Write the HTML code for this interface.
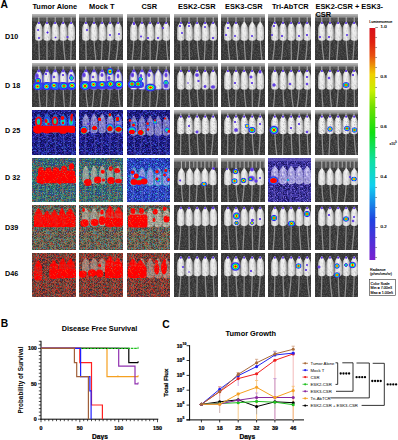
<!DOCTYPE html><html><head><meta charset="utf-8"><style>html,body{margin:0;padding:0;background:#fff;width:398px;height:440px;overflow:hidden}</style></head><body><svg width="398" height="440" viewBox="0 0 398 440" style="display:block"><defs><pattern id="nBlue" x="0" y="0" width="30" height="30" patternUnits="userSpaceOnUse"><path fill="#1e1e88" d="M0 0h1v1h-1zM3 0h1v1h-1zM11 0h1v1h-1zM27 0h1v1h-1zM28 0h1v1h-1zM4 1h1v1h-1zM5 1h1v1h-1zM10 1h1v1h-1zM12 1h1v1h-1zM15 1h1v1h-1zM17 1h1v1h-1zM23 1h1v1h-1zM25 1h1v1h-1zM29 1h1v1h-1zM1 2h1v1h-1zM5 2h1v1h-1zM11 2h1v1h-1zM17 2h1v1h-1zM19 2h1v1h-1zM22 2h1v1h-1zM25 2h1v1h-1zM1 3h1v1h-1zM3 3h1v1h-1zM4 3h1v1h-1zM10 3h1v1h-1zM11 3h1v1h-1zM13 3h1v1h-1zM20 3h1v1h-1zM28 3h1v1h-1zM4 4h1v1h-1zM7 4h1v1h-1zM15 4h1v1h-1zM19 4h1v1h-1zM20 4h1v1h-1zM23 4h1v1h-1zM26 4h1v1h-1zM10 5h1v1h-1zM12 5h1v1h-1zM22 5h1v1h-1zM26 5h1v1h-1zM1 6h1v1h-1zM9 6h1v1h-1zM12 6h1v1h-1zM18 6h1v1h-1zM24 6h1v1h-1zM26 6h1v1h-1zM2 7h1v1h-1zM4 7h1v1h-1zM7 7h1v1h-1zM11 7h1v1h-1zM13 7h1v1h-1zM20 7h1v1h-1zM22 7h1v1h-1zM23 7h1v1h-1zM25 7h1v1h-1zM28 7h1v1h-1zM1 8h1v1h-1zM8 8h1v1h-1zM12 8h1v1h-1zM19 8h1v1h-1zM26 8h1v1h-1zM29 8h1v1h-1zM2 9h1v1h-1zM3 9h1v1h-1zM8 9h1v1h-1zM15 9h1v1h-1zM18 9h1v1h-1zM23 9h1v1h-1zM6 10h1v1h-1zM9 10h1v1h-1zM11 10h1v1h-1zM14 10h1v1h-1zM20 10h1v1h-1zM4 11h1v1h-1zM10 11h1v1h-1zM11 11h1v1h-1zM26 11h1v1h-1zM3 12h1v1h-1zM6 12h1v1h-1zM7 12h1v1h-1zM9 12h1v1h-1zM12 12h1v1h-1zM13 12h1v1h-1zM23 12h1v1h-1zM24 12h1v1h-1zM0 13h1v1h-1zM3 13h1v1h-1zM4 13h1v1h-1zM5 13h1v1h-1zM19 13h1v1h-1zM20 13h1v1h-1zM28 13h1v1h-1zM1 14h1v1h-1zM4 14h1v1h-1zM2 15h1v1h-1zM4 15h1v1h-1zM5 15h1v1h-1zM7 15h1v1h-1zM13 15h1v1h-1zM15 15h1v1h-1zM25 15h1v1h-1zM0 16h1v1h-1zM5 16h1v1h-1zM11 16h1v1h-1zM14 16h1v1h-1zM15 16h1v1h-1zM17 16h1v1h-1zM23 16h1v1h-1zM27 16h1v1h-1zM6 17h1v1h-1zM7 17h1v1h-1zM10 17h1v1h-1zM12 17h1v1h-1zM27 17h1v1h-1zM3 18h1v1h-1zM6 18h1v1h-1zM7 18h1v1h-1zM10 18h1v1h-1zM12 18h1v1h-1zM18 18h1v1h-1zM26 18h1v1h-1zM27 18h1v1h-1zM3 19h1v1h-1zM9 19h1v1h-1zM14 19h1v1h-1zM16 19h1v1h-1zM17 19h1v1h-1zM19 19h1v1h-1zM0 20h1v1h-1zM1 20h1v1h-1zM8 20h1v1h-1zM14 20h1v1h-1zM15 20h1v1h-1zM24 20h1v1h-1zM25 20h1v1h-1zM27 20h1v1h-1zM6 21h1v1h-1zM7 21h1v1h-1zM9 21h1v1h-1zM12 21h1v1h-1zM16 21h1v1h-1zM17 21h1v1h-1zM23 21h1v1h-1zM25 21h1v1h-1zM1 22h1v1h-1zM4 22h1v1h-1zM6 22h1v1h-1zM8 22h1v1h-1zM15 22h1v1h-1zM17 22h1v1h-1zM18 22h1v1h-1zM19 22h1v1h-1zM22 22h1v1h-1zM23 22h1v1h-1zM24 22h1v1h-1zM25 22h1v1h-1zM26 22h1v1h-1zM27 22h1v1h-1zM7 23h1v1h-1zM27 23h1v1h-1zM2 24h1v1h-1zM3 24h1v1h-1zM11 24h1v1h-1zM23 24h1v1h-1zM24 24h1v1h-1zM28 24h1v1h-1zM1 25h1v1h-1zM2 25h1v1h-1zM5 25h1v1h-1zM11 25h1v1h-1zM23 25h1v1h-1zM26 25h1v1h-1zM29 25h1v1h-1zM0 26h1v1h-1zM3 26h1v1h-1zM6 26h1v1h-1zM11 26h1v1h-1zM14 26h1v1h-1zM19 26h1v1h-1zM20 26h1v1h-1zM26 26h1v1h-1zM27 26h1v1h-1zM2 27h1v1h-1zM11 27h1v1h-1zM14 27h1v1h-1zM15 27h1v1h-1zM19 27h1v1h-1zM21 27h1v1h-1zM0 28h1v1h-1zM1 28h1v1h-1zM3 28h1v1h-1zM4 28h1v1h-1zM6 28h1v1h-1zM9 28h1v1h-1zM10 28h1v1h-1zM15 28h1v1h-1zM19 28h1v1h-1zM25 28h1v1h-1zM26 28h1v1h-1zM28 28h1v1h-1zM29 28h1v1h-1zM0 29h1v1h-1zM2 29h1v1h-1zM5 29h1v1h-1zM9 29h1v1h-1zM17 29h1v1h-1zM24 29h1v1h-1zM27 29h1v1h-1z"/><path fill="#2626a4" d="M1 0h1v1h-1zM4 0h1v1h-1zM5 0h1v1h-1zM7 0h1v1h-1zM8 0h1v1h-1zM18 0h1v1h-1zM19 0h1v1h-1zM22 0h1v1h-1zM0 1h1v1h-1zM1 1h1v1h-1zM2 1h1v1h-1zM3 1h1v1h-1zM27 1h1v1h-1zM10 2h1v1h-1zM15 2h1v1h-1zM27 2h1v1h-1zM7 3h1v1h-1zM9 3h1v1h-1zM14 3h1v1h-1zM27 3h1v1h-1zM6 4h1v1h-1zM12 4h1v1h-1zM14 4h1v1h-1zM24 4h1v1h-1zM29 4h1v1h-1zM1 5h1v1h-1zM9 5h1v1h-1zM15 5h1v1h-1zM29 5h1v1h-1zM0 6h1v1h-1zM2 6h1v1h-1zM3 6h1v1h-1zM5 6h1v1h-1zM11 6h1v1h-1zM17 6h1v1h-1zM21 6h1v1h-1zM22 6h1v1h-1zM1 7h1v1h-1zM5 7h1v1h-1zM12 7h1v1h-1zM15 7h1v1h-1zM26 7h1v1h-1zM27 7h1v1h-1zM7 8h1v1h-1zM18 8h1v1h-1zM20 8h1v1h-1zM21 8h1v1h-1zM5 9h1v1h-1zM6 9h1v1h-1zM16 9h1v1h-1zM19 9h1v1h-1zM24 9h1v1h-1zM28 9h1v1h-1zM4 10h1v1h-1zM12 10h1v1h-1zM24 10h1v1h-1zM29 10h1v1h-1zM3 11h1v1h-1zM6 11h1v1h-1zM7 11h1v1h-1zM9 11h1v1h-1zM17 11h1v1h-1zM18 11h1v1h-1zM20 11h1v1h-1zM21 11h1v1h-1zM22 11h1v1h-1zM25 11h1v1h-1zM28 11h1v1h-1zM29 11h1v1h-1zM2 12h1v1h-1zM15 12h1v1h-1zM25 12h1v1h-1zM29 12h1v1h-1zM2 13h1v1h-1zM6 13h1v1h-1zM9 13h1v1h-1zM10 13h1v1h-1zM11 13h1v1h-1zM13 13h1v1h-1zM12 14h1v1h-1zM14 14h1v1h-1zM20 14h1v1h-1zM21 14h1v1h-1zM22 14h1v1h-1zM6 15h1v1h-1zM8 15h1v1h-1zM18 15h1v1h-1zM24 15h1v1h-1zM26 15h1v1h-1zM27 15h1v1h-1zM18 16h1v1h-1zM19 16h1v1h-1zM22 16h1v1h-1zM24 16h1v1h-1zM25 16h1v1h-1zM26 16h1v1h-1zM29 16h1v1h-1zM4 17h1v1h-1zM14 17h1v1h-1zM15 17h1v1h-1zM17 17h1v1h-1zM19 17h1v1h-1zM22 17h1v1h-1zM29 17h1v1h-1zM0 18h1v1h-1zM4 18h1v1h-1zM5 18h1v1h-1zM8 18h1v1h-1zM9 18h1v1h-1zM0 19h1v1h-1zM6 19h1v1h-1zM8 19h1v1h-1zM12 19h1v1h-1zM15 19h1v1h-1zM18 19h1v1h-1zM21 19h1v1h-1zM29 19h1v1h-1zM3 20h1v1h-1zM4 20h1v1h-1zM5 20h1v1h-1zM16 20h1v1h-1zM18 20h1v1h-1zM22 20h1v1h-1zM23 20h1v1h-1zM3 21h1v1h-1zM10 21h1v1h-1zM13 21h1v1h-1zM22 21h1v1h-1zM29 21h1v1h-1zM11 22h1v1h-1zM29 22h1v1h-1zM1 23h1v1h-1zM3 23h1v1h-1zM9 23h1v1h-1zM10 23h1v1h-1zM11 23h1v1h-1zM13 23h1v1h-1zM16 23h1v1h-1zM23 23h1v1h-1zM26 23h1v1h-1zM0 24h1v1h-1zM5 24h1v1h-1zM6 24h1v1h-1zM7 24h1v1h-1zM13 24h1v1h-1zM19 24h1v1h-1zM20 24h1v1h-1zM7 25h1v1h-1zM12 25h1v1h-1zM20 25h1v1h-1zM27 25h1v1h-1zM4 26h1v1h-1zM12 26h1v1h-1zM13 26h1v1h-1zM16 26h1v1h-1zM23 26h1v1h-1zM29 26h1v1h-1zM0 27h1v1h-1zM3 27h1v1h-1zM17 27h1v1h-1zM26 27h1v1h-1zM27 27h1v1h-1zM13 28h1v1h-1zM18 28h1v1h-1zM24 28h1v1h-1zM27 28h1v1h-1zM1 29h1v1h-1zM7 29h1v1h-1zM19 29h1v1h-1zM28 29h1v1h-1zM29 29h1v1h-1z"/><path fill="#4a2a98" d="M2 0h1v1h-1zM18 1h1v1h-1zM12 3h1v1h-1zM23 3h1v1h-1zM25 3h1v1h-1zM1 4h1v1h-1zM16 4h1v1h-1zM7 5h1v1h-1zM21 5h1v1h-1zM23 6h1v1h-1zM9 7h1v1h-1zM19 7h1v1h-1zM23 8h1v1h-1zM12 9h1v1h-1zM22 9h1v1h-1zM28 10h1v1h-1zM0 11h1v1h-1zM4 12h1v1h-1zM5 12h1v1h-1zM16 12h1v1h-1zM21 13h1v1h-1zM28 14h1v1h-1zM1 15h1v1h-1zM21 16h1v1h-1zM25 17h1v1h-1zM2 18h1v1h-1zM23 18h1v1h-1zM1 19h1v1h-1zM23 19h1v1h-1zM10 20h1v1h-1zM15 21h1v1h-1zM12 22h1v1h-1zM13 22h1v1h-1zM20 22h1v1h-1zM10 24h1v1h-1zM18 24h1v1h-1zM2 26h1v1h-1zM5 26h1v1h-1zM9 26h1v1h-1zM16 27h1v1h-1zM22 27h1v1h-1zM6 29h1v1h-1zM26 29h1v1h-1z"/><path fill="#161668" d="M6 0h1v1h-1zM10 0h1v1h-1zM12 0h1v1h-1zM15 0h1v1h-1zM20 0h1v1h-1zM21 0h1v1h-1zM23 0h1v1h-1zM24 0h1v1h-1zM25 0h1v1h-1zM26 0h1v1h-1zM11 1h1v1h-1zM13 1h1v1h-1zM20 1h1v1h-1zM21 1h1v1h-1zM26 1h1v1h-1zM0 2h1v1h-1zM4 2h1v1h-1zM6 2h1v1h-1zM7 2h1v1h-1zM9 2h1v1h-1zM12 2h1v1h-1zM14 2h1v1h-1zM16 2h1v1h-1zM18 2h1v1h-1zM24 2h1v1h-1zM28 2h1v1h-1zM0 3h1v1h-1zM5 3h1v1h-1zM6 3h1v1h-1zM8 3h1v1h-1zM16 3h1v1h-1zM17 3h1v1h-1zM21 3h1v1h-1zM24 3h1v1h-1zM29 3h1v1h-1zM0 4h1v1h-1zM2 4h1v1h-1zM8 4h1v1h-1zM10 4h1v1h-1zM11 4h1v1h-1zM17 4h1v1h-1zM18 4h1v1h-1zM21 4h1v1h-1zM22 4h1v1h-1zM25 4h1v1h-1zM2 5h1v1h-1zM3 5h1v1h-1zM4 5h1v1h-1zM8 5h1v1h-1zM14 5h1v1h-1zM4 6h1v1h-1zM14 6h1v1h-1zM16 6h1v1h-1zM19 6h1v1h-1zM25 6h1v1h-1zM28 6h1v1h-1zM29 6h1v1h-1zM6 7h1v1h-1zM14 7h1v1h-1zM21 7h1v1h-1zM24 7h1v1h-1zM2 8h1v1h-1zM3 8h1v1h-1zM5 8h1v1h-1zM10 8h1v1h-1zM11 8h1v1h-1zM13 8h1v1h-1zM15 8h1v1h-1zM16 8h1v1h-1zM17 8h1v1h-1zM25 8h1v1h-1zM27 8h1v1h-1zM28 8h1v1h-1zM1 9h1v1h-1zM11 9h1v1h-1zM14 9h1v1h-1zM25 9h1v1h-1zM0 10h1v1h-1zM10 10h1v1h-1zM15 10h1v1h-1zM17 10h1v1h-1zM19 10h1v1h-1zM22 10h1v1h-1zM23 10h1v1h-1zM1 11h1v1h-1zM2 11h1v1h-1zM14 11h1v1h-1zM19 11h1v1h-1zM23 11h1v1h-1zM1 12h1v1h-1zM8 12h1v1h-1zM14 12h1v1h-1zM17 12h1v1h-1zM19 12h1v1h-1zM20 12h1v1h-1zM21 12h1v1h-1zM26 12h1v1h-1zM28 12h1v1h-1zM1 13h1v1h-1zM7 13h1v1h-1zM8 13h1v1h-1zM15 13h1v1h-1zM22 13h1v1h-1zM25 13h1v1h-1zM26 13h1v1h-1zM29 13h1v1h-1zM3 14h1v1h-1zM6 14h1v1h-1zM7 14h1v1h-1zM11 14h1v1h-1zM16 14h1v1h-1zM17 14h1v1h-1zM18 14h1v1h-1zM19 14h1v1h-1zM23 14h1v1h-1zM24 14h1v1h-1zM25 14h1v1h-1zM29 14h1v1h-1zM0 15h1v1h-1zM9 15h1v1h-1zM12 15h1v1h-1zM16 15h1v1h-1zM17 15h1v1h-1zM19 15h1v1h-1zM13 16h1v1h-1zM16 16h1v1h-1zM20 16h1v1h-1zM3 17h1v1h-1zM8 17h1v1h-1zM9 17h1v1h-1zM11 17h1v1h-1zM21 17h1v1h-1zM24 17h1v1h-1zM26 17h1v1h-1zM28 17h1v1h-1zM1 18h1v1h-1zM13 18h1v1h-1zM14 18h1v1h-1zM15 18h1v1h-1zM16 18h1v1h-1zM21 18h1v1h-1zM24 18h1v1h-1zM29 18h1v1h-1zM7 19h1v1h-1zM10 19h1v1h-1zM11 19h1v1h-1zM13 19h1v1h-1zM25 19h1v1h-1zM26 19h1v1h-1zM7 20h1v1h-1zM12 20h1v1h-1zM13 20h1v1h-1zM17 20h1v1h-1zM19 20h1v1h-1zM20 20h1v1h-1zM26 20h1v1h-1zM0 21h1v1h-1zM1 21h1v1h-1zM5 21h1v1h-1zM18 21h1v1h-1zM20 21h1v1h-1zM21 21h1v1h-1zM27 21h1v1h-1zM28 21h1v1h-1zM0 22h1v1h-1zM5 22h1v1h-1zM9 22h1v1h-1zM28 22h1v1h-1zM4 23h1v1h-1zM8 23h1v1h-1zM15 23h1v1h-1zM18 23h1v1h-1zM19 23h1v1h-1zM22 23h1v1h-1zM24 23h1v1h-1zM28 23h1v1h-1zM25 24h1v1h-1zM29 24h1v1h-1zM0 25h1v1h-1zM4 25h1v1h-1zM6 25h1v1h-1zM9 25h1v1h-1zM10 25h1v1h-1zM14 25h1v1h-1zM15 25h1v1h-1zM16 25h1v1h-1zM17 25h1v1h-1zM18 25h1v1h-1zM21 25h1v1h-1zM22 25h1v1h-1zM24 25h1v1h-1zM7 26h1v1h-1zM8 26h1v1h-1zM17 26h1v1h-1zM18 26h1v1h-1zM24 26h1v1h-1zM25 26h1v1h-1zM4 27h1v1h-1zM6 27h1v1h-1zM10 27h1v1h-1zM13 27h1v1h-1zM23 27h1v1h-1zM25 27h1v1h-1zM28 27h1v1h-1zM2 28h1v1h-1zM8 28h1v1h-1zM14 28h1v1h-1zM17 28h1v1h-1zM20 28h1v1h-1zM23 28h1v1h-1zM3 29h1v1h-1zM11 29h1v1h-1zM12 29h1v1h-1zM13 29h1v1h-1zM16 29h1v1h-1zM20 29h1v1h-1zM21 29h1v1h-1zM22 29h1v1h-1zM23 29h1v1h-1zM25 29h1v1h-1z"/><path fill="#0e0e50" d="M9 0h1v1h-1zM14 0h1v1h-1zM9 1h1v1h-1zM14 1h1v1h-1zM28 1h1v1h-1zM3 2h1v1h-1zM8 2h1v1h-1zM13 2h1v1h-1zM2 3h1v1h-1zM22 3h1v1h-1zM3 4h1v1h-1zM9 4h1v1h-1zM0 5h1v1h-1zM6 5h1v1h-1zM11 5h1v1h-1zM16 5h1v1h-1zM18 5h1v1h-1zM19 5h1v1h-1zM20 5h1v1h-1zM23 5h1v1h-1zM27 5h1v1h-1zM8 6h1v1h-1zM10 6h1v1h-1zM15 6h1v1h-1zM20 6h1v1h-1zM27 6h1v1h-1zM18 7h1v1h-1zM6 8h1v1h-1zM9 8h1v1h-1zM24 8h1v1h-1zM0 9h1v1h-1zM4 9h1v1h-1zM7 9h1v1h-1zM9 9h1v1h-1zM13 9h1v1h-1zM21 9h1v1h-1zM26 9h1v1h-1zM29 9h1v1h-1zM5 10h1v1h-1zM13 10h1v1h-1zM21 10h1v1h-1zM25 10h1v1h-1zM27 10h1v1h-1zM5 11h1v1h-1zM0 12h1v1h-1zM18 12h1v1h-1zM22 12h1v1h-1zM27 12h1v1h-1zM16 13h1v1h-1zM27 13h1v1h-1zM2 14h1v1h-1zM5 14h1v1h-1zM8 14h1v1h-1zM13 14h1v1h-1zM15 14h1v1h-1zM3 15h1v1h-1zM10 15h1v1h-1zM14 15h1v1h-1zM22 15h1v1h-1zM2 16h1v1h-1zM3 16h1v1h-1zM8 16h1v1h-1zM9 16h1v1h-1zM10 16h1v1h-1zM12 16h1v1h-1zM0 17h1v1h-1zM1 17h1v1h-1zM5 17h1v1h-1zM23 17h1v1h-1zM11 18h1v1h-1zM17 18h1v1h-1zM20 18h1v1h-1zM2 19h1v1h-1zM20 19h1v1h-1zM24 19h1v1h-1zM28 19h1v1h-1zM2 20h1v1h-1zM6 20h1v1h-1zM21 20h1v1h-1zM28 20h1v1h-1zM4 21h1v1h-1zM14 21h1v1h-1zM24 21h1v1h-1zM26 21h1v1h-1zM2 22h1v1h-1zM3 22h1v1h-1zM7 22h1v1h-1zM10 22h1v1h-1zM0 23h1v1h-1zM5 23h1v1h-1zM17 23h1v1h-1zM20 23h1v1h-1zM25 23h1v1h-1zM29 23h1v1h-1zM1 24h1v1h-1zM8 24h1v1h-1zM9 24h1v1h-1zM21 24h1v1h-1zM26 24h1v1h-1zM8 25h1v1h-1zM19 25h1v1h-1zM25 25h1v1h-1zM21 26h1v1h-1zM22 26h1v1h-1zM5 27h1v1h-1zM12 27h1v1h-1zM20 27h1v1h-1zM5 28h1v1h-1zM7 28h1v1h-1zM16 28h1v1h-1zM4 29h1v1h-1zM8 29h1v1h-1zM14 29h1v1h-1zM15 29h1v1h-1z"/><path fill="#3438c0" d="M13 0h1v1h-1zM29 0h1v1h-1zM8 1h1v1h-1zM16 1h1v1h-1zM19 1h1v1h-1zM21 2h1v1h-1zM23 2h1v1h-1zM26 2h1v1h-1zM15 3h1v1h-1zM19 3h1v1h-1zM26 3h1v1h-1zM5 4h1v1h-1zM13 4h1v1h-1zM25 5h1v1h-1zM28 5h1v1h-1zM7 6h1v1h-1zM13 6h1v1h-1zM8 7h1v1h-1zM10 7h1v1h-1zM16 7h1v1h-1zM17 7h1v1h-1zM29 7h1v1h-1zM4 8h1v1h-1zM14 8h1v1h-1zM22 8h1v1h-1zM20 9h1v1h-1zM27 9h1v1h-1zM8 10h1v1h-1zM16 10h1v1h-1zM18 10h1v1h-1zM26 10h1v1h-1zM8 11h1v1h-1zM12 11h1v1h-1zM15 11h1v1h-1zM27 11h1v1h-1zM10 12h1v1h-1zM12 13h1v1h-1zM14 13h1v1h-1zM17 13h1v1h-1zM24 13h1v1h-1zM0 14h1v1h-1zM26 14h1v1h-1zM11 15h1v1h-1zM21 15h1v1h-1zM23 15h1v1h-1zM29 15h1v1h-1zM4 16h1v1h-1zM7 16h1v1h-1zM20 17h1v1h-1zM5 19h1v1h-1zM11 20h1v1h-1zM29 20h1v1h-1zM2 21h1v1h-1zM8 21h1v1h-1zM19 21h1v1h-1zM16 22h1v1h-1zM2 23h1v1h-1zM6 23h1v1h-1zM14 23h1v1h-1zM12 24h1v1h-1zM14 24h1v1h-1zM15 24h1v1h-1zM16 24h1v1h-1zM17 24h1v1h-1zM22 24h1v1h-1zM28 25h1v1h-1zM1 26h1v1h-1zM10 26h1v1h-1zM28 26h1v1h-1zM7 27h1v1h-1zM8 27h1v1h-1zM9 27h1v1h-1zM18 27h1v1h-1zM24 27h1v1h-1zM29 27h1v1h-1zM12 28h1v1h-1zM22 28h1v1h-1zM10 29h1v1h-1zM18 29h1v1h-1z"/><path fill="#4a50d0" d="M16 0h1v1h-1zM17 0h1v1h-1zM6 1h1v1h-1zM7 1h1v1h-1zM24 1h1v1h-1zM2 2h1v1h-1zM20 2h1v1h-1zM29 2h1v1h-1zM28 4h1v1h-1zM13 5h1v1h-1zM6 6h1v1h-1zM0 8h1v1h-1zM2 10h1v1h-1zM3 10h1v1h-1zM16 11h1v1h-1zM24 11h1v1h-1zM23 13h1v1h-1zM10 14h1v1h-1zM27 14h1v1h-1zM28 15h1v1h-1zM28 16h1v1h-1zM2 17h1v1h-1zM16 17h1v1h-1zM18 17h1v1h-1zM22 18h1v1h-1zM28 18h1v1h-1zM4 19h1v1h-1zM22 19h1v1h-1zM9 20h1v1h-1zM11 21h1v1h-1zM12 23h1v1h-1zM4 24h1v1h-1zM27 24h1v1h-1zM3 25h1v1h-1zM15 26h1v1h-1zM1 27h1v1h-1zM11 28h1v1h-1zM21 28h1v1h-1z"/><path fill="#2a60b0" d="M22 1h1v1h-1zM18 3h1v1h-1zM27 4h1v1h-1zM5 5h1v1h-1zM17 5h1v1h-1zM24 5h1v1h-1zM0 7h1v1h-1zM3 7h1v1h-1zM10 9h1v1h-1zM17 9h1v1h-1zM1 10h1v1h-1zM7 10h1v1h-1zM13 11h1v1h-1zM11 12h1v1h-1zM18 13h1v1h-1zM9 14h1v1h-1zM20 15h1v1h-1zM1 16h1v1h-1zM6 16h1v1h-1zM13 17h1v1h-1zM19 18h1v1h-1zM25 18h1v1h-1zM27 19h1v1h-1zM14 22h1v1h-1zM21 22h1v1h-1zM21 23h1v1h-1zM13 25h1v1h-1z"/></pattern><pattern id="nBlue2" x="0" y="0" width="30" height="30" patternUnits="userSpaceOnUse"><path fill="#182888" d="M0 0h1v1h-1zM7 0h1v1h-1zM10 0h1v1h-1zM23 0h1v1h-1zM29 0h1v1h-1zM2 1h1v1h-1zM11 1h1v1h-1zM12 2h1v1h-1zM14 2h1v1h-1zM15 2h1v1h-1zM2 3h1v1h-1zM9 3h1v1h-1zM10 3h1v1h-1zM11 3h1v1h-1zM26 3h1v1h-1zM28 3h1v1h-1zM0 4h1v1h-1zM9 4h1v1h-1zM18 4h1v1h-1zM23 4h1v1h-1zM6 6h1v1h-1zM10 6h1v1h-1zM12 6h1v1h-1zM18 6h1v1h-1zM22 6h1v1h-1zM25 6h1v1h-1zM1 7h1v1h-1zM16 7h1v1h-1zM25 7h1v1h-1zM3 8h1v1h-1zM8 8h1v1h-1zM17 8h1v1h-1zM27 8h1v1h-1zM27 9h1v1h-1zM7 10h1v1h-1zM11 10h1v1h-1zM22 10h1v1h-1zM23 10h1v1h-1zM9 11h1v1h-1zM29 11h1v1h-1zM4 12h1v1h-1zM12 12h1v1h-1zM18 12h1v1h-1zM19 12h1v1h-1zM27 12h1v1h-1zM10 13h1v1h-1zM12 13h1v1h-1zM13 13h1v1h-1zM17 13h1v1h-1zM2 14h1v1h-1zM5 14h1v1h-1zM6 14h1v1h-1zM23 14h1v1h-1zM0 15h1v1h-1zM2 15h1v1h-1zM19 15h1v1h-1zM27 15h1v1h-1zM16 16h1v1h-1zM3 17h1v1h-1zM4 17h1v1h-1zM5 17h1v1h-1zM14 17h1v1h-1zM25 17h1v1h-1zM28 17h1v1h-1zM8 18h1v1h-1zM10 18h1v1h-1zM13 18h1v1h-1zM18 18h1v1h-1zM24 18h1v1h-1zM2 19h1v1h-1zM9 19h1v1h-1zM13 19h1v1h-1zM27 19h1v1h-1zM0 20h1v1h-1zM6 21h1v1h-1zM14 21h1v1h-1zM21 21h1v1h-1zM1 22h1v1h-1zM5 22h1v1h-1zM10 22h1v1h-1zM18 22h1v1h-1zM28 22h1v1h-1zM0 23h1v1h-1zM2 23h1v1h-1zM17 23h1v1h-1zM24 23h1v1h-1zM27 23h1v1h-1zM16 24h1v1h-1zM18 24h1v1h-1zM4 25h1v1h-1zM6 25h1v1h-1zM23 25h1v1h-1zM9 26h1v1h-1zM1 27h1v1h-1zM3 27h1v1h-1zM11 27h1v1h-1zM14 27h1v1h-1zM23 27h1v1h-1zM24 27h1v1h-1zM7 28h1v1h-1zM14 28h1v1h-1zM18 28h1v1h-1zM27 28h1v1h-1zM28 28h1v1h-1zM15 29h1v1h-1zM16 29h1v1h-1zM26 29h1v1h-1z"/><path fill="#4060e8" d="M1 0h1v1h-1zM9 0h1v1h-1zM19 0h1v1h-1zM20 0h1v1h-1zM3 1h1v1h-1zM26 1h1v1h-1zM29 1h1v1h-1zM4 2h1v1h-1zM18 2h1v1h-1zM14 3h1v1h-1zM15 3h1v1h-1zM21 4h1v1h-1zM27 4h1v1h-1zM7 5h1v1h-1zM24 5h1v1h-1zM23 6h1v1h-1zM13 7h1v1h-1zM4 8h1v1h-1zM7 8h1v1h-1zM12 8h1v1h-1zM18 8h1v1h-1zM19 8h1v1h-1zM7 9h1v1h-1zM12 9h1v1h-1zM23 9h1v1h-1zM28 9h1v1h-1zM29 9h1v1h-1zM15 11h1v1h-1zM17 11h1v1h-1zM0 12h1v1h-1zM29 13h1v1h-1zM3 16h1v1h-1zM27 16h1v1h-1zM7 17h1v1h-1zM6 18h1v1h-1zM14 18h1v1h-1zM15 18h1v1h-1zM20 18h1v1h-1zM21 18h1v1h-1zM22 19h1v1h-1zM23 19h1v1h-1zM2 20h1v1h-1zM2 21h1v1h-1zM13 21h1v1h-1zM29 21h1v1h-1zM0 22h1v1h-1zM3 22h1v1h-1zM4 22h1v1h-1zM19 22h1v1h-1zM10 24h1v1h-1zM15 24h1v1h-1zM14 25h1v1h-1zM17 25h1v1h-1zM18 25h1v1h-1zM25 25h1v1h-1zM4 26h1v1h-1zM7 26h1v1h-1zM8 26h1v1h-1zM12 26h1v1h-1zM19 26h1v1h-1zM23 26h1v1h-1zM1 28h1v1h-1zM13 28h1v1h-1zM6 29h1v1h-1zM7 29h1v1h-1z"/><path fill="#2a40c0" d="M2 0h1v1h-1zM3 0h1v1h-1zM4 0h1v1h-1zM6 0h1v1h-1zM13 0h1v1h-1zM14 0h1v1h-1zM17 0h1v1h-1zM26 0h1v1h-1zM9 1h1v1h-1zM12 1h1v1h-1zM14 1h1v1h-1zM15 1h1v1h-1zM23 1h1v1h-1zM0 2h1v1h-1zM2 2h1v1h-1zM13 2h1v1h-1zM16 2h1v1h-1zM21 2h1v1h-1zM23 2h1v1h-1zM27 2h1v1h-1zM29 2h1v1h-1zM6 3h1v1h-1zM7 3h1v1h-1zM16 3h1v1h-1zM17 3h1v1h-1zM22 3h1v1h-1zM24 3h1v1h-1zM1 4h1v1h-1zM5 4h1v1h-1zM7 4h1v1h-1zM11 4h1v1h-1zM12 4h1v1h-1zM13 4h1v1h-1zM20 4h1v1h-1zM2 5h1v1h-1zM3 5h1v1h-1zM4 5h1v1h-1zM8 5h1v1h-1zM9 5h1v1h-1zM14 5h1v1h-1zM18 5h1v1h-1zM20 5h1v1h-1zM25 5h1v1h-1zM26 5h1v1h-1zM7 6h1v1h-1zM14 6h1v1h-1zM17 6h1v1h-1zM24 6h1v1h-1zM29 6h1v1h-1zM2 7h1v1h-1zM6 7h1v1h-1zM11 7h1v1h-1zM12 7h1v1h-1zM15 7h1v1h-1zM17 7h1v1h-1zM18 7h1v1h-1zM24 7h1v1h-1zM26 7h1v1h-1zM2 8h1v1h-1zM16 8h1v1h-1zM4 9h1v1h-1zM5 9h1v1h-1zM6 9h1v1h-1zM15 9h1v1h-1zM17 9h1v1h-1zM20 9h1v1h-1zM25 9h1v1h-1zM1 10h1v1h-1zM2 10h1v1h-1zM10 10h1v1h-1zM13 10h1v1h-1zM16 10h1v1h-1zM17 10h1v1h-1zM18 10h1v1h-1zM25 10h1v1h-1zM27 10h1v1h-1zM28 10h1v1h-1zM0 11h1v1h-1zM1 11h1v1h-1zM5 11h1v1h-1zM8 11h1v1h-1zM13 11h1v1h-1zM14 11h1v1h-1zM16 11h1v1h-1zM19 11h1v1h-1zM25 11h1v1h-1zM26 11h1v1h-1zM27 11h1v1h-1zM2 12h1v1h-1zM5 12h1v1h-1zM6 12h1v1h-1zM9 12h1v1h-1zM10 12h1v1h-1zM13 12h1v1h-1zM14 12h1v1h-1zM17 12h1v1h-1zM22 12h1v1h-1zM23 12h1v1h-1zM26 12h1v1h-1zM0 13h1v1h-1zM1 13h1v1h-1zM6 13h1v1h-1zM7 13h1v1h-1zM11 13h1v1h-1zM16 13h1v1h-1zM18 13h1v1h-1zM19 13h1v1h-1zM22 13h1v1h-1zM23 13h1v1h-1zM1 14h1v1h-1zM12 14h1v1h-1zM13 14h1v1h-1zM15 14h1v1h-1zM16 14h1v1h-1zM18 14h1v1h-1zM20 14h1v1h-1zM21 14h1v1h-1zM24 14h1v1h-1zM26 14h1v1h-1zM27 14h1v1h-1zM4 15h1v1h-1zM5 15h1v1h-1zM7 15h1v1h-1zM11 15h1v1h-1zM12 15h1v1h-1zM13 15h1v1h-1zM15 15h1v1h-1zM18 15h1v1h-1zM21 15h1v1h-1zM24 15h1v1h-1zM0 16h1v1h-1zM1 16h1v1h-1zM2 16h1v1h-1zM5 16h1v1h-1zM10 16h1v1h-1zM11 16h1v1h-1zM20 16h1v1h-1zM21 16h1v1h-1zM29 16h1v1h-1zM0 17h1v1h-1zM2 17h1v1h-1zM12 17h1v1h-1zM13 17h1v1h-1zM17 17h1v1h-1zM18 17h1v1h-1zM27 17h1v1h-1zM4 18h1v1h-1zM7 18h1v1h-1zM9 18h1v1h-1zM11 18h1v1h-1zM12 18h1v1h-1zM17 18h1v1h-1zM23 18h1v1h-1zM3 19h1v1h-1zM5 19h1v1h-1zM12 19h1v1h-1zM16 19h1v1h-1zM20 19h1v1h-1zM21 19h1v1h-1zM24 19h1v1h-1zM25 19h1v1h-1zM29 19h1v1h-1zM7 20h1v1h-1zM10 20h1v1h-1zM15 20h1v1h-1zM18 20h1v1h-1zM19 20h1v1h-1zM23 20h1v1h-1zM1 21h1v1h-1zM3 21h1v1h-1zM8 21h1v1h-1zM12 21h1v1h-1zM20 21h1v1h-1zM22 21h1v1h-1zM2 22h1v1h-1zM9 22h1v1h-1zM11 22h1v1h-1zM16 22h1v1h-1zM17 22h1v1h-1zM20 22h1v1h-1zM22 22h1v1h-1zM23 22h1v1h-1zM25 22h1v1h-1zM27 22h1v1h-1zM6 23h1v1h-1zM7 23h1v1h-1zM10 23h1v1h-1zM11 23h1v1h-1zM16 23h1v1h-1zM20 23h1v1h-1zM23 23h1v1h-1zM26 23h1v1h-1zM29 23h1v1h-1zM1 24h1v1h-1zM5 24h1v1h-1zM17 24h1v1h-1zM19 24h1v1h-1zM20 24h1v1h-1zM27 24h1v1h-1zM2 25h1v1h-1zM5 25h1v1h-1zM8 25h1v1h-1zM24 25h1v1h-1zM26 25h1v1h-1zM0 26h1v1h-1zM6 26h1v1h-1zM14 26h1v1h-1zM17 26h1v1h-1zM22 26h1v1h-1zM4 27h1v1h-1zM6 27h1v1h-1zM7 27h1v1h-1zM9 27h1v1h-1zM15 27h1v1h-1zM20 27h1v1h-1zM25 27h1v1h-1zM26 27h1v1h-1zM27 27h1v1h-1zM0 28h1v1h-1zM2 28h1v1h-1zM3 28h1v1h-1zM6 28h1v1h-1zM10 28h1v1h-1zM12 28h1v1h-1zM15 28h1v1h-1zM17 28h1v1h-1zM20 28h1v1h-1zM22 28h1v1h-1zM23 28h1v1h-1zM24 28h1v1h-1zM26 28h1v1h-1zM29 28h1v1h-1zM0 29h1v1h-1zM3 29h1v1h-1zM4 29h1v1h-1zM5 29h1v1h-1zM13 29h1v1h-1zM14 29h1v1h-1zM17 29h1v1h-1zM22 29h1v1h-1zM23 29h1v1h-1zM24 29h1v1h-1zM25 29h1v1h-1z"/><path fill="#2030a0" d="M5 0h1v1h-1zM12 0h1v1h-1zM16 0h1v1h-1zM22 0h1v1h-1zM28 0h1v1h-1zM4 1h1v1h-1zM7 1h1v1h-1zM8 1h1v1h-1zM16 1h1v1h-1zM18 1h1v1h-1zM28 1h1v1h-1zM5 2h1v1h-1zM7 2h1v1h-1zM8 2h1v1h-1zM9 2h1v1h-1zM19 2h1v1h-1zM20 2h1v1h-1zM22 2h1v1h-1zM25 2h1v1h-1zM1 3h1v1h-1zM3 3h1v1h-1zM25 3h1v1h-1zM3 4h1v1h-1zM4 4h1v1h-1zM8 4h1v1h-1zM14 4h1v1h-1zM15 4h1v1h-1zM22 4h1v1h-1zM26 4h1v1h-1zM28 4h1v1h-1zM1 5h1v1h-1zM5 5h1v1h-1zM11 5h1v1h-1zM12 5h1v1h-1zM19 5h1v1h-1zM23 5h1v1h-1zM27 5h1v1h-1zM0 6h1v1h-1zM2 6h1v1h-1zM4 6h1v1h-1zM5 6h1v1h-1zM11 6h1v1h-1zM15 6h1v1h-1zM16 6h1v1h-1zM19 6h1v1h-1zM20 6h1v1h-1zM21 6h1v1h-1zM28 6h1v1h-1zM4 7h1v1h-1zM9 7h1v1h-1zM14 7h1v1h-1zM20 7h1v1h-1zM23 7h1v1h-1zM29 7h1v1h-1zM11 8h1v1h-1zM13 8h1v1h-1zM15 8h1v1h-1zM20 8h1v1h-1zM22 8h1v1h-1zM25 8h1v1h-1zM0 9h1v1h-1zM1 9h1v1h-1zM2 9h1v1h-1zM8 9h1v1h-1zM13 9h1v1h-1zM14 9h1v1h-1zM16 9h1v1h-1zM22 9h1v1h-1zM24 9h1v1h-1zM26 9h1v1h-1zM0 10h1v1h-1zM3 10h1v1h-1zM5 10h1v1h-1zM9 10h1v1h-1zM12 10h1v1h-1zM15 10h1v1h-1zM19 10h1v1h-1zM20 10h1v1h-1zM24 10h1v1h-1zM4 11h1v1h-1zM7 11h1v1h-1zM18 11h1v1h-1zM20 11h1v1h-1zM22 11h1v1h-1zM23 11h1v1h-1zM24 11h1v1h-1zM1 12h1v1h-1zM3 12h1v1h-1zM7 12h1v1h-1zM8 12h1v1h-1zM15 12h1v1h-1zM21 12h1v1h-1zM24 12h1v1h-1zM29 12h1v1h-1zM2 13h1v1h-1zM3 13h1v1h-1zM5 13h1v1h-1zM9 13h1v1h-1zM14 13h1v1h-1zM15 13h1v1h-1zM21 13h1v1h-1zM24 13h1v1h-1zM25 13h1v1h-1zM26 13h1v1h-1zM4 14h1v1h-1zM9 14h1v1h-1zM11 14h1v1h-1zM14 14h1v1h-1zM19 14h1v1h-1zM22 14h1v1h-1zM25 14h1v1h-1zM28 14h1v1h-1zM3 15h1v1h-1zM6 15h1v1h-1zM8 15h1v1h-1zM14 15h1v1h-1zM20 15h1v1h-1zM7 16h1v1h-1zM8 16h1v1h-1zM13 16h1v1h-1zM14 16h1v1h-1zM15 16h1v1h-1zM17 16h1v1h-1zM18 16h1v1h-1zM8 17h1v1h-1zM16 17h1v1h-1zM19 17h1v1h-1zM21 17h1v1h-1zM22 17h1v1h-1zM23 17h1v1h-1zM24 17h1v1h-1zM26 17h1v1h-1zM0 18h1v1h-1zM3 18h1v1h-1zM22 18h1v1h-1zM25 18h1v1h-1zM26 18h1v1h-1zM27 18h1v1h-1zM1 19h1v1h-1zM8 19h1v1h-1zM10 19h1v1h-1zM11 19h1v1h-1zM15 19h1v1h-1zM17 19h1v1h-1zM3 20h1v1h-1zM4 20h1v1h-1zM5 20h1v1h-1zM9 20h1v1h-1zM11 20h1v1h-1zM13 20h1v1h-1zM16 20h1v1h-1zM20 20h1v1h-1zM21 20h1v1h-1zM24 20h1v1h-1zM25 20h1v1h-1zM28 20h1v1h-1zM4 21h1v1h-1zM15 21h1v1h-1zM16 21h1v1h-1zM17 21h1v1h-1zM18 21h1v1h-1zM19 21h1v1h-1zM24 21h1v1h-1zM25 21h1v1h-1zM27 21h1v1h-1zM7 22h1v1h-1zM13 22h1v1h-1zM15 22h1v1h-1zM26 22h1v1h-1zM29 22h1v1h-1zM3 23h1v1h-1zM4 23h1v1h-1zM5 23h1v1h-1zM8 23h1v1h-1zM14 23h1v1h-1zM18 23h1v1h-1zM22 23h1v1h-1zM25 23h1v1h-1zM0 24h1v1h-1zM3 24h1v1h-1zM7 24h1v1h-1zM14 24h1v1h-1zM21 24h1v1h-1zM25 24h1v1h-1zM1 25h1v1h-1zM10 25h1v1h-1zM13 25h1v1h-1zM21 25h1v1h-1zM29 25h1v1h-1zM2 26h1v1h-1zM13 26h1v1h-1zM15 26h1v1h-1zM16 26h1v1h-1zM20 26h1v1h-1zM21 26h1v1h-1zM26 26h1v1h-1zM28 26h1v1h-1zM2 27h1v1h-1zM5 27h1v1h-1zM12 27h1v1h-1zM13 27h1v1h-1zM16 27h1v1h-1zM17 27h1v1h-1zM21 27h1v1h-1zM28 27h1v1h-1zM8 28h1v1h-1zM21 28h1v1h-1zM1 29h1v1h-1zM10 29h1v1h-1zM12 29h1v1h-1zM20 29h1v1h-1z"/><path fill="#7080f0" d="M8 0h1v1h-1zM17 1h1v1h-1zM4 3h1v1h-1zM17 4h1v1h-1zM0 5h1v1h-1zM17 5h1v1h-1zM10 8h1v1h-1zM4 10h1v1h-1zM2 11h1v1h-1zM0 14h1v1h-1zM7 14h1v1h-1zM23 15h1v1h-1zM12 16h1v1h-1zM28 16h1v1h-1zM6 17h1v1h-1zM0 19h1v1h-1zM28 19h1v1h-1zM26 21h1v1h-1zM8 22h1v1h-1zM13 23h1v1h-1zM21 23h1v1h-1zM28 23h1v1h-1zM25 28h1v1h-1zM19 29h1v1h-1zM28 29h1v1h-1zM29 29h1v1h-1z"/><path fill="#3450d8" d="M11 0h1v1h-1zM15 0h1v1h-1zM18 0h1v1h-1zM21 0h1v1h-1zM25 0h1v1h-1zM27 0h1v1h-1zM1 1h1v1h-1zM6 1h1v1h-1zM10 1h1v1h-1zM20 1h1v1h-1zM21 1h1v1h-1zM22 1h1v1h-1zM27 1h1v1h-1zM3 2h1v1h-1zM6 2h1v1h-1zM17 2h1v1h-1zM24 2h1v1h-1zM26 2h1v1h-1zM28 2h1v1h-1zM0 3h1v1h-1zM5 3h1v1h-1zM8 3h1v1h-1zM12 3h1v1h-1zM18 3h1v1h-1zM20 3h1v1h-1zM21 3h1v1h-1zM29 3h1v1h-1zM2 4h1v1h-1zM6 4h1v1h-1zM10 4h1v1h-1zM24 4h1v1h-1zM29 4h1v1h-1zM10 5h1v1h-1zM15 5h1v1h-1zM1 6h1v1h-1zM27 6h1v1h-1zM3 7h1v1h-1zM7 7h1v1h-1zM8 7h1v1h-1zM10 7h1v1h-1zM19 7h1v1h-1zM28 7h1v1h-1zM0 8h1v1h-1zM1 8h1v1h-1zM5 8h1v1h-1zM6 8h1v1h-1zM9 8h1v1h-1zM14 8h1v1h-1zM21 8h1v1h-1zM23 8h1v1h-1zM24 8h1v1h-1zM26 8h1v1h-1zM28 8h1v1h-1zM3 9h1v1h-1zM10 9h1v1h-1zM11 9h1v1h-1zM18 9h1v1h-1zM19 9h1v1h-1zM21 9h1v1h-1zM6 10h1v1h-1zM26 10h1v1h-1zM3 11h1v1h-1zM6 11h1v1h-1zM11 11h1v1h-1zM21 11h1v1h-1zM28 12h1v1h-1zM4 13h1v1h-1zM8 13h1v1h-1zM27 13h1v1h-1zM28 13h1v1h-1zM10 14h1v1h-1zM17 14h1v1h-1zM29 14h1v1h-1zM1 15h1v1h-1zM9 15h1v1h-1zM10 15h1v1h-1zM17 15h1v1h-1zM22 15h1v1h-1zM25 15h1v1h-1zM28 15h1v1h-1zM29 15h1v1h-1zM9 16h1v1h-1zM19 16h1v1h-1zM22 16h1v1h-1zM23 16h1v1h-1zM24 16h1v1h-1zM25 16h1v1h-1zM26 16h1v1h-1zM9 17h1v1h-1zM10 17h1v1h-1zM11 17h1v1h-1zM15 17h1v1h-1zM20 17h1v1h-1zM29 17h1v1h-1zM5 18h1v1h-1zM16 18h1v1h-1zM19 18h1v1h-1zM28 18h1v1h-1zM4 19h1v1h-1zM18 19h1v1h-1zM19 19h1v1h-1zM26 19h1v1h-1zM1 20h1v1h-1zM8 20h1v1h-1zM12 20h1v1h-1zM14 20h1v1h-1zM17 20h1v1h-1zM26 20h1v1h-1zM0 21h1v1h-1zM5 21h1v1h-1zM7 21h1v1h-1zM23 21h1v1h-1zM28 21h1v1h-1zM14 22h1v1h-1zM21 22h1v1h-1zM1 23h1v1h-1zM9 23h1v1h-1zM12 23h1v1h-1zM4 24h1v1h-1zM6 24h1v1h-1zM8 24h1v1h-1zM11 24h1v1h-1zM12 24h1v1h-1zM13 24h1v1h-1zM22 24h1v1h-1zM23 24h1v1h-1zM24 24h1v1h-1zM26 24h1v1h-1zM28 24h1v1h-1zM29 24h1v1h-1zM12 25h1v1h-1zM15 25h1v1h-1zM19 25h1v1h-1zM27 25h1v1h-1zM1 26h1v1h-1zM3 26h1v1h-1zM5 26h1v1h-1zM10 26h1v1h-1zM24 26h1v1h-1zM29 26h1v1h-1zM8 27h1v1h-1zM10 27h1v1h-1zM19 27h1v1h-1zM29 27h1v1h-1zM4 28h1v1h-1zM9 28h1v1h-1zM19 28h1v1h-1zM8 29h1v1h-1zM9 29h1v1h-1zM21 29h1v1h-1zM27 29h1v1h-1z"/><path fill="#4a40b8" d="M24 0h1v1h-1zM5 1h1v1h-1zM13 1h1v1h-1zM19 1h1v1h-1zM24 1h1v1h-1zM11 2h1v1h-1zM19 3h1v1h-1zM23 3h1v1h-1zM27 3h1v1h-1zM16 4h1v1h-1zM25 4h1v1h-1zM16 5h1v1h-1zM21 5h1v1h-1zM8 6h1v1h-1zM13 6h1v1h-1zM0 7h1v1h-1zM27 7h1v1h-1zM9 9h1v1h-1zM29 10h1v1h-1zM11 12h1v1h-1zM16 12h1v1h-1zM20 12h1v1h-1zM3 14h1v1h-1zM26 15h1v1h-1zM6 16h1v1h-1zM29 18h1v1h-1zM6 19h1v1h-1zM6 20h1v1h-1zM9 21h1v1h-1zM12 22h1v1h-1zM24 22h1v1h-1zM0 25h1v1h-1zM16 25h1v1h-1zM11 26h1v1h-1zM25 26h1v1h-1zM18 27h1v1h-1zM5 28h1v1h-1zM16 28h1v1h-1z"/><path fill="#30b0b0" d="M0 1h1v1h-1zM25 1h1v1h-1zM10 2h1v1h-1zM13 3h1v1h-1zM29 5h1v1h-1zM5 7h1v1h-1zM22 7h1v1h-1zM8 10h1v1h-1zM21 10h1v1h-1zM28 11h1v1h-1zM7 19h1v1h-1zM14 19h1v1h-1zM27 20h1v1h-1zM11 21h1v1h-1zM6 22h1v1h-1zM19 23h1v1h-1zM2 24h1v1h-1zM3 25h1v1h-1zM7 25h1v1h-1zM11 25h1v1h-1zM20 25h1v1h-1zM27 26h1v1h-1zM22 27h1v1h-1z"/><path fill="#2090d0" d="M1 2h1v1h-1zM19 4h1v1h-1zM6 5h1v1h-1zM13 5h1v1h-1zM22 5h1v1h-1zM28 5h1v1h-1zM3 6h1v1h-1zM9 6h1v1h-1zM26 6h1v1h-1zM21 7h1v1h-1zM29 8h1v1h-1zM14 10h1v1h-1zM10 11h1v1h-1zM12 11h1v1h-1zM25 12h1v1h-1zM20 13h1v1h-1zM8 14h1v1h-1zM16 15h1v1h-1zM4 16h1v1h-1zM1 17h1v1h-1zM1 18h1v1h-1zM2 18h1v1h-1zM22 20h1v1h-1zM29 20h1v1h-1zM10 21h1v1h-1zM15 23h1v1h-1zM9 24h1v1h-1zM9 25h1v1h-1zM22 25h1v1h-1zM28 25h1v1h-1zM18 26h1v1h-1zM0 27h1v1h-1zM11 28h1v1h-1zM2 29h1v1h-1zM11 29h1v1h-1zM18 29h1v1h-1z"/></pattern><pattern id="nTeal" x="0" y="0" width="30" height="30" patternUnits="userSpaceOnUse"><path fill="#606060" d="M0 0h1v1h-1zM5 0h1v1h-1zM11 0h1v1h-1zM0 1h1v1h-1zM28 1h1v1h-1zM3 2h1v1h-1zM15 2h1v1h-1zM28 2h1v1h-1zM28 3h1v1h-1zM1 4h1v1h-1zM23 4h1v1h-1zM15 5h1v1h-1zM5 6h1v1h-1zM10 7h1v1h-1zM25 7h1v1h-1zM10 8h1v1h-1zM26 8h1v1h-1zM4 10h1v1h-1zM9 10h1v1h-1zM18 10h1v1h-1zM26 10h1v1h-1zM14 11h1v1h-1zM21 11h1v1h-1zM22 11h1v1h-1zM5 12h1v1h-1zM9 12h1v1h-1zM21 12h1v1h-1zM1 14h1v1h-1zM5 14h1v1h-1zM26 14h1v1h-1zM2 15h1v1h-1zM8 15h1v1h-1zM26 15h1v1h-1zM9 16h1v1h-1zM15 16h1v1h-1zM16 16h1v1h-1zM25 17h1v1h-1zM2 18h1v1h-1zM22 18h1v1h-1zM5 19h1v1h-1zM16 19h1v1h-1zM9 20h1v1h-1zM15 20h1v1h-1zM25 20h1v1h-1zM13 21h1v1h-1zM18 21h1v1h-1zM20 21h1v1h-1zM10 22h1v1h-1zM16 22h1v1h-1zM27 22h1v1h-1zM15 23h1v1h-1zM10 24h1v1h-1zM15 24h1v1h-1zM12 25h1v1h-1zM19 25h1v1h-1zM27 25h1v1h-1zM7 26h1v1h-1zM24 26h1v1h-1zM29 26h1v1h-1zM15 27h1v1h-1zM17 27h1v1h-1zM0 29h1v1h-1zM5 29h1v1h-1z"/><path fill="#2a4a90" d="M1 0h1v1h-1zM7 0h1v1h-1zM8 0h1v1h-1zM13 0h1v1h-1zM15 0h1v1h-1zM27 0h1v1h-1zM18 1h1v1h-1zM21 1h1v1h-1zM23 1h1v1h-1zM0 2h1v1h-1zM4 2h1v1h-1zM19 2h1v1h-1zM25 2h1v1h-1zM2 3h1v1h-1zM6 3h1v1h-1zM7 3h1v1h-1zM8 3h1v1h-1zM9 3h1v1h-1zM10 3h1v1h-1zM11 3h1v1h-1zM17 3h1v1h-1zM20 3h1v1h-1zM22 3h1v1h-1zM25 3h1v1h-1zM27 3h1v1h-1zM2 4h1v1h-1zM4 4h1v1h-1zM9 4h1v1h-1zM17 4h1v1h-1zM19 4h1v1h-1zM13 5h1v1h-1zM19 5h1v1h-1zM21 5h1v1h-1zM22 5h1v1h-1zM23 5h1v1h-1zM9 6h1v1h-1zM14 6h1v1h-1zM16 6h1v1h-1zM17 6h1v1h-1zM20 6h1v1h-1zM22 6h1v1h-1zM4 7h1v1h-1zM7 7h1v1h-1zM9 7h1v1h-1zM20 7h1v1h-1zM22 7h1v1h-1zM27 7h1v1h-1zM28 7h1v1h-1zM25 8h1v1h-1zM9 9h1v1h-1zM28 9h1v1h-1zM1 10h1v1h-1zM2 10h1v1h-1zM5 11h1v1h-1zM6 11h1v1h-1zM9 11h1v1h-1zM10 11h1v1h-1zM12 11h1v1h-1zM27 11h1v1h-1zM23 12h1v1h-1zM3 13h1v1h-1zM9 13h1v1h-1zM0 14h1v1h-1zM2 14h1v1h-1zM3 14h1v1h-1zM6 14h1v1h-1zM12 14h1v1h-1zM16 14h1v1h-1zM19 14h1v1h-1zM20 14h1v1h-1zM9 15h1v1h-1zM10 15h1v1h-1zM10 16h1v1h-1zM13 16h1v1h-1zM19 16h1v1h-1zM28 16h1v1h-1zM0 17h1v1h-1zM7 17h1v1h-1zM8 17h1v1h-1zM11 17h1v1h-1zM14 17h1v1h-1zM16 17h1v1h-1zM8 18h1v1h-1zM11 18h1v1h-1zM13 18h1v1h-1zM17 18h1v1h-1zM19 18h1v1h-1zM20 18h1v1h-1zM24 18h1v1h-1zM3 19h1v1h-1zM6 19h1v1h-1zM7 19h1v1h-1zM27 20h1v1h-1zM28 20h1v1h-1zM29 20h1v1h-1zM25 21h1v1h-1zM29 21h1v1h-1zM8 22h1v1h-1zM12 22h1v1h-1zM13 22h1v1h-1zM15 22h1v1h-1zM18 22h1v1h-1zM11 23h1v1h-1zM12 23h1v1h-1zM14 23h1v1h-1zM21 23h1v1h-1zM23 23h1v1h-1zM26 23h1v1h-1zM4 24h1v1h-1zM7 24h1v1h-1zM8 24h1v1h-1zM12 24h1v1h-1zM21 24h1v1h-1zM22 24h1v1h-1zM27 24h1v1h-1zM28 24h1v1h-1zM29 24h1v1h-1zM0 25h1v1h-1zM3 25h1v1h-1zM6 25h1v1h-1zM7 25h1v1h-1zM9 25h1v1h-1zM10 25h1v1h-1zM14 25h1v1h-1zM22 25h1v1h-1zM1 26h1v1h-1zM6 26h1v1h-1zM14 26h1v1h-1zM3 27h1v1h-1zM10 27h1v1h-1zM13 27h1v1h-1zM25 27h1v1h-1zM27 27h1v1h-1zM0 28h1v1h-1zM13 28h1v1h-1zM24 28h1v1h-1zM26 28h1v1h-1zM7 29h1v1h-1zM8 29h1v1h-1zM13 29h1v1h-1zM19 29h1v1h-1z"/><path fill="#303a60" d="M2 0h1v1h-1zM23 0h1v1h-1zM29 0h1v1h-1zM24 1h1v1h-1zM26 1h1v1h-1zM2 2h1v1h-1zM7 2h1v1h-1zM17 2h1v1h-1zM13 3h1v1h-1zM16 4h1v1h-1zM18 4h1v1h-1zM24 4h1v1h-1zM27 4h1v1h-1zM29 5h1v1h-1zM11 6h1v1h-1zM13 6h1v1h-1zM6 7h1v1h-1zM19 7h1v1h-1zM3 8h1v1h-1zM12 8h1v1h-1zM29 8h1v1h-1zM14 9h1v1h-1zM16 9h1v1h-1zM17 9h1v1h-1zM20 10h1v1h-1zM28 10h1v1h-1zM24 11h1v1h-1zM8 12h1v1h-1zM12 12h1v1h-1zM17 12h1v1h-1zM20 12h1v1h-1zM22 12h1v1h-1zM5 13h1v1h-1zM17 13h1v1h-1zM17 14h1v1h-1zM25 14h1v1h-1zM12 16h1v1h-1zM27 16h1v1h-1zM21 17h1v1h-1zM22 17h1v1h-1zM26 18h1v1h-1zM28 18h1v1h-1zM29 18h1v1h-1zM9 19h1v1h-1zM14 19h1v1h-1zM15 19h1v1h-1zM19 19h1v1h-1zM21 19h1v1h-1zM22 19h1v1h-1zM24 19h1v1h-1zM10 20h1v1h-1zM20 20h1v1h-1zM23 20h1v1h-1zM2 21h1v1h-1zM27 21h1v1h-1zM11 24h1v1h-1zM19 24h1v1h-1zM8 25h1v1h-1zM12 26h1v1h-1zM13 26h1v1h-1zM9 27h1v1h-1zM24 27h1v1h-1zM4 28h1v1h-1zM16 28h1v1h-1zM17 28h1v1h-1zM22 28h1v1h-1zM27 28h1v1h-1zM9 29h1v1h-1zM17 29h1v1h-1zM25 29h1v1h-1z"/><path fill="#205a5a" d="M3 0h1v1h-1zM4 0h1v1h-1zM9 0h1v1h-1zM19 0h1v1h-1zM20 0h1v1h-1zM24 0h1v1h-1zM8 2h1v1h-1zM9 2h1v1h-1zM16 2h1v1h-1zM26 2h1v1h-1zM21 4h1v1h-1zM29 4h1v1h-1zM3 5h1v1h-1zM6 5h1v1h-1zM14 5h1v1h-1zM26 5h1v1h-1zM0 6h1v1h-1zM18 6h1v1h-1zM21 6h1v1h-1zM12 7h1v1h-1zM15 7h1v1h-1zM21 7h1v1h-1zM5 8h1v1h-1zM24 8h1v1h-1zM27 8h1v1h-1zM0 9h1v1h-1zM20 9h1v1h-1zM22 9h1v1h-1zM3 10h1v1h-1zM12 10h1v1h-1zM22 10h1v1h-1zM27 10h1v1h-1zM8 11h1v1h-1zM19 11h1v1h-1zM29 11h1v1h-1zM13 12h1v1h-1zM2 13h1v1h-1zM13 13h1v1h-1zM22 13h1v1h-1zM23 13h1v1h-1zM1 15h1v1h-1zM5 15h1v1h-1zM7 15h1v1h-1zM29 16h1v1h-1zM6 17h1v1h-1zM9 17h1v1h-1zM28 17h1v1h-1zM5 18h1v1h-1zM16 18h1v1h-1zM21 18h1v1h-1zM18 19h1v1h-1zM20 19h1v1h-1zM5 20h1v1h-1zM7 20h1v1h-1zM13 20h1v1h-1zM16 20h1v1h-1zM18 20h1v1h-1zM26 20h1v1h-1zM4 21h1v1h-1zM6 21h1v1h-1zM11 21h1v1h-1zM12 21h1v1h-1zM19 21h1v1h-1zM11 22h1v1h-1zM19 22h1v1h-1zM22 22h1v1h-1zM5 23h1v1h-1zM6 23h1v1h-1zM9 23h1v1h-1zM10 23h1v1h-1zM20 23h1v1h-1zM27 23h1v1h-1zM28 23h1v1h-1zM1 24h1v1h-1zM26 24h1v1h-1zM2 25h1v1h-1zM15 25h1v1h-1zM18 25h1v1h-1zM20 25h1v1h-1zM21 25h1v1h-1zM23 25h1v1h-1zM29 25h1v1h-1zM16 26h1v1h-1zM21 26h1v1h-1zM28 26h1v1h-1zM5 27h1v1h-1zM7 27h1v1h-1zM22 27h1v1h-1zM23 27h1v1h-1zM1 28h1v1h-1zM14 28h1v1h-1zM19 28h1v1h-1zM20 28h1v1h-1zM3 29h1v1h-1zM11 29h1v1h-1zM14 29h1v1h-1zM21 29h1v1h-1zM23 29h1v1h-1z"/><path fill="#2a6a7a" d="M6 0h1v1h-1zM14 0h1v1h-1zM17 0h1v1h-1zM18 0h1v1h-1zM26 0h1v1h-1zM28 0h1v1h-1zM2 1h1v1h-1zM6 1h1v1h-1zM10 1h1v1h-1zM12 1h1v1h-1zM13 1h1v1h-1zM19 1h1v1h-1zM25 1h1v1h-1zM27 1h1v1h-1zM5 2h1v1h-1zM6 2h1v1h-1zM10 2h1v1h-1zM12 2h1v1h-1zM13 2h1v1h-1zM18 2h1v1h-1zM20 2h1v1h-1zM22 2h1v1h-1zM12 3h1v1h-1zM14 3h1v1h-1zM19 3h1v1h-1zM26 3h1v1h-1zM29 3h1v1h-1zM12 4h1v1h-1zM13 4h1v1h-1zM22 4h1v1h-1zM0 5h1v1h-1zM2 5h1v1h-1zM7 5h1v1h-1zM11 5h1v1h-1zM17 5h1v1h-1zM24 5h1v1h-1zM27 5h1v1h-1zM28 5h1v1h-1zM2 6h1v1h-1zM3 6h1v1h-1zM12 6h1v1h-1zM15 6h1v1h-1zM24 6h1v1h-1zM26 6h1v1h-1zM0 7h1v1h-1zM18 7h1v1h-1zM1 8h1v1h-1zM4 8h1v1h-1zM9 8h1v1h-1zM13 8h1v1h-1zM19 8h1v1h-1zM3 9h1v1h-1zM8 9h1v1h-1zM15 9h1v1h-1zM26 9h1v1h-1zM10 10h1v1h-1zM13 10h1v1h-1zM15 10h1v1h-1zM17 10h1v1h-1zM21 10h1v1h-1zM23 10h1v1h-1zM24 10h1v1h-1zM1 11h1v1h-1zM11 11h1v1h-1zM16 11h1v1h-1zM26 11h1v1h-1zM3 12h1v1h-1zM6 12h1v1h-1zM7 12h1v1h-1zM10 12h1v1h-1zM11 12h1v1h-1zM18 12h1v1h-1zM19 12h1v1h-1zM26 12h1v1h-1zM6 13h1v1h-1zM7 13h1v1h-1zM26 13h1v1h-1zM7 14h1v1h-1zM18 14h1v1h-1zM21 14h1v1h-1zM23 14h1v1h-1zM0 15h1v1h-1zM4 15h1v1h-1zM11 15h1v1h-1zM14 15h1v1h-1zM17 15h1v1h-1zM20 15h1v1h-1zM27 15h1v1h-1zM29 15h1v1h-1zM4 16h1v1h-1zM17 16h1v1h-1zM20 16h1v1h-1zM21 16h1v1h-1zM22 16h1v1h-1zM25 16h1v1h-1zM2 17h1v1h-1zM4 17h1v1h-1zM23 17h1v1h-1zM27 17h1v1h-1zM1 18h1v1h-1zM4 18h1v1h-1zM12 18h1v1h-1zM18 18h1v1h-1zM25 18h1v1h-1zM23 19h1v1h-1zM28 19h1v1h-1zM6 20h1v1h-1zM8 20h1v1h-1zM17 20h1v1h-1zM19 20h1v1h-1zM0 21h1v1h-1zM1 21h1v1h-1zM26 21h1v1h-1zM6 22h1v1h-1zM7 22h1v1h-1zM17 22h1v1h-1zM1 23h1v1h-1zM2 23h1v1h-1zM13 23h1v1h-1zM17 23h1v1h-1zM18 23h1v1h-1zM22 23h1v1h-1zM0 24h1v1h-1zM2 24h1v1h-1zM3 24h1v1h-1zM5 24h1v1h-1zM6 24h1v1h-1zM9 24h1v1h-1zM16 24h1v1h-1zM0 26h1v1h-1zM10 26h1v1h-1zM25 26h1v1h-1zM4 27h1v1h-1zM11 27h1v1h-1zM20 27h1v1h-1zM29 27h1v1h-1zM2 28h1v1h-1zM8 28h1v1h-1zM9 28h1v1h-1zM15 28h1v1h-1zM4 29h1v1h-1zM12 29h1v1h-1zM22 29h1v1h-1zM24 29h1v1h-1zM28 29h1v1h-1zM29 29h1v1h-1z"/><path fill="#3a8a6a" d="M10 0h1v1h-1zM12 0h1v1h-1zM22 0h1v1h-1zM3 1h1v1h-1zM8 1h1v1h-1zM15 1h1v1h-1zM17 1h1v1h-1zM20 1h1v1h-1zM14 2h1v1h-1zM21 2h1v1h-1zM24 2h1v1h-1zM3 3h1v1h-1zM5 3h1v1h-1zM18 3h1v1h-1zM21 3h1v1h-1zM23 3h1v1h-1zM5 4h1v1h-1zM8 4h1v1h-1zM14 4h1v1h-1zM15 4h1v1h-1zM20 4h1v1h-1zM25 4h1v1h-1zM26 4h1v1h-1zM25 5h1v1h-1zM4 6h1v1h-1zM8 6h1v1h-1zM28 6h1v1h-1zM29 6h1v1h-1zM1 7h1v1h-1zM11 7h1v1h-1zM13 7h1v1h-1zM14 7h1v1h-1zM17 7h1v1h-1zM29 7h1v1h-1zM2 8h1v1h-1zM8 8h1v1h-1zM15 8h1v1h-1zM16 8h1v1h-1zM28 8h1v1h-1zM1 9h1v1h-1zM2 9h1v1h-1zM5 9h1v1h-1zM6 9h1v1h-1zM7 9h1v1h-1zM10 9h1v1h-1zM11 9h1v1h-1zM12 9h1v1h-1zM25 9h1v1h-1zM0 10h1v1h-1zM7 10h1v1h-1zM8 10h1v1h-1zM19 10h1v1h-1zM3 11h1v1h-1zM7 11h1v1h-1zM17 11h1v1h-1zM18 11h1v1h-1zM24 12h1v1h-1zM25 12h1v1h-1zM28 12h1v1h-1zM1 13h1v1h-1zM4 13h1v1h-1zM8 13h1v1h-1zM11 13h1v1h-1zM12 13h1v1h-1zM14 13h1v1h-1zM16 13h1v1h-1zM18 13h1v1h-1zM19 13h1v1h-1zM20 13h1v1h-1zM21 13h1v1h-1zM28 13h1v1h-1zM29 13h1v1h-1zM10 14h1v1h-1zM13 14h1v1h-1zM24 14h1v1h-1zM28 14h1v1h-1zM3 15h1v1h-1zM12 15h1v1h-1zM15 15h1v1h-1zM16 15h1v1h-1zM18 15h1v1h-1zM19 15h1v1h-1zM28 15h1v1h-1zM0 16h1v1h-1zM5 16h1v1h-1zM7 16h1v1h-1zM14 16h1v1h-1zM24 16h1v1h-1zM26 16h1v1h-1zM1 17h1v1h-1zM3 17h1v1h-1zM5 17h1v1h-1zM10 17h1v1h-1zM17 17h1v1h-1zM19 17h1v1h-1zM26 17h1v1h-1zM29 17h1v1h-1zM3 18h1v1h-1zM6 18h1v1h-1zM14 18h1v1h-1zM23 18h1v1h-1zM27 18h1v1h-1zM0 19h1v1h-1zM8 19h1v1h-1zM11 19h1v1h-1zM12 19h1v1h-1zM13 19h1v1h-1zM25 19h1v1h-1zM26 19h1v1h-1zM0 20h1v1h-1zM11 20h1v1h-1zM12 20h1v1h-1zM3 21h1v1h-1zM8 21h1v1h-1zM9 21h1v1h-1zM10 21h1v1h-1zM14 21h1v1h-1zM17 21h1v1h-1zM22 21h1v1h-1zM23 21h1v1h-1zM1 22h1v1h-1zM2 22h1v1h-1zM4 22h1v1h-1zM5 22h1v1h-1zM14 22h1v1h-1zM25 22h1v1h-1zM29 22h1v1h-1zM4 23h1v1h-1zM7 23h1v1h-1zM19 23h1v1h-1zM14 24h1v1h-1zM17 24h1v1h-1zM18 24h1v1h-1zM24 24h1v1h-1zM1 25h1v1h-1zM4 25h1v1h-1zM17 25h1v1h-1zM24 25h1v1h-1zM28 25h1v1h-1zM3 26h1v1h-1zM5 26h1v1h-1zM8 26h1v1h-1zM20 26h1v1h-1zM27 26h1v1h-1zM0 27h1v1h-1zM8 27h1v1h-1zM18 27h1v1h-1zM21 27h1v1h-1zM26 27h1v1h-1zM3 28h1v1h-1zM6 28h1v1h-1zM7 28h1v1h-1zM12 28h1v1h-1zM18 28h1v1h-1zM21 28h1v1h-1zM23 28h1v1h-1zM25 28h1v1h-1zM1 29h1v1h-1zM2 29h1v1h-1zM6 29h1v1h-1zM15 29h1v1h-1zM18 29h1v1h-1zM20 29h1v1h-1z"/><path fill="#50a0a0" d="M16 0h1v1h-1zM21 0h1v1h-1zM25 0h1v1h-1zM7 1h1v1h-1zM16 1h1v1h-1zM4 3h1v1h-1zM24 3h1v1h-1zM11 4h1v1h-1zM28 4h1v1h-1zM1 5h1v1h-1zM9 5h1v1h-1zM12 5h1v1h-1zM18 5h1v1h-1zM20 5h1v1h-1zM23 6h1v1h-1zM25 6h1v1h-1zM0 8h1v1h-1zM11 8h1v1h-1zM14 8h1v1h-1zM20 8h1v1h-1zM24 9h1v1h-1zM29 9h1v1h-1zM29 10h1v1h-1zM16 12h1v1h-1zM27 12h1v1h-1zM10 13h1v1h-1zM24 13h1v1h-1zM27 13h1v1h-1zM8 14h1v1h-1zM9 14h1v1h-1zM11 14h1v1h-1zM15 14h1v1h-1zM24 15h1v1h-1zM1 16h1v1h-1zM8 16h1v1h-1zM18 16h1v1h-1zM23 16h1v1h-1zM1 20h1v1h-1zM14 20h1v1h-1zM21 20h1v1h-1zM22 20h1v1h-1zM5 21h1v1h-1zM21 21h1v1h-1zM0 22h1v1h-1zM20 22h1v1h-1zM0 23h1v1h-1zM8 23h1v1h-1zM25 23h1v1h-1zM25 24h1v1h-1zM5 25h1v1h-1zM13 25h1v1h-1zM16 25h1v1h-1zM25 25h1v1h-1zM2 26h1v1h-1zM17 26h1v1h-1zM18 26h1v1h-1zM26 26h1v1h-1zM19 27h1v1h-1zM10 28h1v1h-1zM11 28h1v1h-1z"/><path fill="#5a4a7a" d="M1 1h1v1h-1zM23 2h1v1h-1zM27 2h1v1h-1zM1 3h1v1h-1zM5 5h1v1h-1zM8 5h1v1h-1zM16 5h1v1h-1zM7 6h1v1h-1zM19 6h1v1h-1zM26 7h1v1h-1zM22 8h1v1h-1zM23 8h1v1h-1zM23 9h1v1h-1zM27 9h1v1h-1zM11 10h1v1h-1zM14 10h1v1h-1zM20 11h1v1h-1zM23 11h1v1h-1zM25 11h1v1h-1zM2 12h1v1h-1zM4 14h1v1h-1zM22 14h1v1h-1zM27 14h1v1h-1zM29 14h1v1h-1zM6 15h1v1h-1zM13 15h1v1h-1zM2 16h1v1h-1zM12 17h1v1h-1zM18 17h1v1h-1zM20 17h1v1h-1zM9 18h1v1h-1zM1 19h1v1h-1zM17 19h1v1h-1zM27 19h1v1h-1zM3 20h1v1h-1zM4 20h1v1h-1zM15 21h1v1h-1zM16 21h1v1h-1zM23 22h1v1h-1zM24 22h1v1h-1zM16 23h1v1h-1zM23 24h1v1h-1zM11 25h1v1h-1zM9 26h1v1h-1zM6 27h1v1h-1zM5 28h1v1h-1zM10 29h1v1h-1zM16 29h1v1h-1z"/><path fill="#6a7a50" d="M4 1h1v1h-1zM5 1h1v1h-1zM9 1h1v1h-1zM11 1h1v1h-1zM14 1h1v1h-1zM22 1h1v1h-1zM29 1h1v1h-1zM11 2h1v1h-1zM29 2h1v1h-1zM0 3h1v1h-1zM15 3h1v1h-1zM16 3h1v1h-1zM10 4h1v1h-1zM4 5h1v1h-1zM1 6h1v1h-1zM6 6h1v1h-1zM10 6h1v1h-1zM3 7h1v1h-1zM24 7h1v1h-1zM6 8h1v1h-1zM7 8h1v1h-1zM17 8h1v1h-1zM4 9h1v1h-1zM13 9h1v1h-1zM19 9h1v1h-1zM21 9h1v1h-1zM5 10h1v1h-1zM6 10h1v1h-1zM16 10h1v1h-1zM0 11h1v1h-1zM2 11h1v1h-1zM4 11h1v1h-1zM13 11h1v1h-1zM15 11h1v1h-1zM4 12h1v1h-1zM14 12h1v1h-1zM0 13h1v1h-1zM15 13h1v1h-1zM25 13h1v1h-1zM21 15h1v1h-1zM22 15h1v1h-1zM23 15h1v1h-1zM25 15h1v1h-1zM3 16h1v1h-1zM6 16h1v1h-1zM15 17h1v1h-1zM24 17h1v1h-1zM7 18h1v1h-1zM10 18h1v1h-1zM2 19h1v1h-1zM4 19h1v1h-1zM10 19h1v1h-1zM29 19h1v1h-1zM24 20h1v1h-1zM7 21h1v1h-1zM24 21h1v1h-1zM28 21h1v1h-1zM9 22h1v1h-1zM21 22h1v1h-1zM26 22h1v1h-1zM28 22h1v1h-1zM3 23h1v1h-1zM20 24h1v1h-1zM26 25h1v1h-1zM22 26h1v1h-1zM23 26h1v1h-1zM1 27h1v1h-1zM2 27h1v1h-1zM14 27h1v1h-1zM16 27h1v1h-1zM28 27h1v1h-1zM28 28h1v1h-1zM26 29h1v1h-1z"/><path fill="#8a5040" d="M1 2h1v1h-1zM0 4h1v1h-1zM3 4h1v1h-1zM6 4h1v1h-1zM7 4h1v1h-1zM10 5h1v1h-1zM27 6h1v1h-1zM2 7h1v1h-1zM5 7h1v1h-1zM8 7h1v1h-1zM16 7h1v1h-1zM23 7h1v1h-1zM18 8h1v1h-1zM21 8h1v1h-1zM18 9h1v1h-1zM25 10h1v1h-1zM28 11h1v1h-1zM0 12h1v1h-1zM1 12h1v1h-1zM15 12h1v1h-1zM29 12h1v1h-1zM14 14h1v1h-1zM11 16h1v1h-1zM13 17h1v1h-1zM0 18h1v1h-1zM15 18h1v1h-1zM2 20h1v1h-1zM3 22h1v1h-1zM24 23h1v1h-1zM29 23h1v1h-1zM13 24h1v1h-1zM4 26h1v1h-1zM11 26h1v1h-1zM15 26h1v1h-1zM19 26h1v1h-1zM12 27h1v1h-1zM29 28h1v1h-1zM27 29h1v1h-1z"/></pattern><pattern id="nMix" x="0" y="0" width="30" height="30" patternUnits="userSpaceOnUse"><path fill="#9a4a3a" d="M0 0h1v1h-1zM9 0h1v1h-1zM12 0h1v1h-1zM14 0h1v1h-1zM16 0h1v1h-1zM17 0h1v1h-1zM19 0h1v1h-1zM22 0h1v1h-1zM29 0h1v1h-1zM6 1h1v1h-1zM7 1h1v1h-1zM16 1h1v1h-1zM20 1h1v1h-1zM28 1h1v1h-1zM9 2h1v1h-1zM17 2h1v1h-1zM3 3h1v1h-1zM12 3h1v1h-1zM0 4h1v1h-1zM9 4h1v1h-1zM17 4h1v1h-1zM23 4h1v1h-1zM29 4h1v1h-1zM4 5h1v1h-1zM9 5h1v1h-1zM10 5h1v1h-1zM9 6h1v1h-1zM17 6h1v1h-1zM25 6h1v1h-1zM29 6h1v1h-1zM4 7h1v1h-1zM8 7h1v1h-1zM12 7h1v1h-1zM14 7h1v1h-1zM18 7h1v1h-1zM19 7h1v1h-1zM25 7h1v1h-1zM2 8h1v1h-1zM13 8h1v1h-1zM19 8h1v1h-1zM20 8h1v1h-1zM27 8h1v1h-1zM3 9h1v1h-1zM7 9h1v1h-1zM8 9h1v1h-1zM18 9h1v1h-1zM19 9h1v1h-1zM20 9h1v1h-1zM21 9h1v1h-1zM2 10h1v1h-1zM16 10h1v1h-1zM28 10h1v1h-1zM8 11h1v1h-1zM24 11h1v1h-1zM28 11h1v1h-1zM1 12h1v1h-1zM3 12h1v1h-1zM6 12h1v1h-1zM15 12h1v1h-1zM16 12h1v1h-1zM3 13h1v1h-1zM16 13h1v1h-1zM24 13h1v1h-1zM6 14h1v1h-1zM10 14h1v1h-1zM11 14h1v1h-1zM21 14h1v1h-1zM22 14h1v1h-1zM4 15h1v1h-1zM6 15h1v1h-1zM7 15h1v1h-1zM8 15h1v1h-1zM10 15h1v1h-1zM11 15h1v1h-1zM16 15h1v1h-1zM19 15h1v1h-1zM23 15h1v1h-1zM24 15h1v1h-1zM4 16h1v1h-1zM7 16h1v1h-1zM9 16h1v1h-1zM14 16h1v1h-1zM23 16h1v1h-1zM25 16h1v1h-1zM26 16h1v1h-1zM28 16h1v1h-1zM8 17h1v1h-1zM21 17h1v1h-1zM3 18h1v1h-1zM7 18h1v1h-1zM9 18h1v1h-1zM21 18h1v1h-1zM5 19h1v1h-1zM21 19h1v1h-1zM29 19h1v1h-1zM3 20h1v1h-1zM7 20h1v1h-1zM8 20h1v1h-1zM15 20h1v1h-1zM16 20h1v1h-1zM17 20h1v1h-1zM21 20h1v1h-1zM1 21h1v1h-1zM4 21h1v1h-1zM6 21h1v1h-1zM20 21h1v1h-1zM29 21h1v1h-1zM0 22h1v1h-1zM1 22h1v1h-1zM8 22h1v1h-1zM12 22h1v1h-1zM14 22h1v1h-1zM16 22h1v1h-1zM19 22h1v1h-1zM21 22h1v1h-1zM24 22h1v1h-1zM25 22h1v1h-1zM1 23h1v1h-1zM9 23h1v1h-1zM0 24h1v1h-1zM8 24h1v1h-1zM15 24h1v1h-1zM24 24h1v1h-1zM0 25h1v1h-1zM3 25h1v1h-1zM4 25h1v1h-1zM17 25h1v1h-1zM19 25h1v1h-1zM12 26h1v1h-1zM9 27h1v1h-1zM22 27h1v1h-1zM26 27h1v1h-1zM5 28h1v1h-1zM6 28h1v1h-1zM24 28h1v1h-1zM5 29h1v1h-1zM7 29h1v1h-1zM8 29h1v1h-1zM10 29h1v1h-1zM11 29h1v1h-1zM14 29h1v1h-1zM15 29h1v1h-1zM20 29h1v1h-1zM26 29h1v1h-1zM28 29h1v1h-1z"/><path fill="#707070" d="M1 0h1v1h-1zM1 2h1v1h-1zM6 2h1v1h-1zM12 2h1v1h-1zM14 2h1v1h-1zM21 2h1v1h-1zM13 3h1v1h-1zM29 3h1v1h-1zM6 4h1v1h-1zM15 4h1v1h-1zM26 4h1v1h-1zM8 5h1v1h-1zM10 7h1v1h-1zM29 7h1v1h-1zM4 8h1v1h-1zM8 8h1v1h-1zM11 8h1v1h-1zM25 8h1v1h-1zM9 9h1v1h-1zM17 9h1v1h-1zM27 9h1v1h-1zM7 10h1v1h-1zM7 11h1v1h-1zM22 11h1v1h-1zM4 12h1v1h-1zM2 13h1v1h-1zM22 13h1v1h-1zM2 14h1v1h-1zM24 14h1v1h-1zM3 15h1v1h-1zM27 16h1v1h-1zM10 17h1v1h-1zM13 17h1v1h-1zM2 18h1v1h-1zM3 19h1v1h-1zM8 19h1v1h-1zM12 19h1v1h-1zM12 20h1v1h-1zM13 21h1v1h-1zM14 21h1v1h-1zM16 21h1v1h-1zM2 22h1v1h-1zM1 24h1v1h-1zM20 24h1v1h-1zM27 24h1v1h-1zM8 25h1v1h-1zM18 25h1v1h-1zM2 26h1v1h-1zM3 26h1v1h-1zM15 26h1v1h-1zM18 26h1v1h-1zM19 26h1v1h-1zM4 27h1v1h-1zM15 28h1v1h-1zM17 28h1v1h-1zM28 28h1v1h-1zM2 29h1v1h-1zM9 29h1v1h-1zM21 29h1v1h-1z"/><path fill="#3a5a44" d="M2 0h1v1h-1zM15 0h1v1h-1zM23 0h1v1h-1zM28 0h1v1h-1zM8 1h1v1h-1zM10 1h1v1h-1zM11 1h1v1h-1zM29 1h1v1h-1zM7 2h1v1h-1zM8 2h1v1h-1zM11 2h1v1h-1zM20 2h1v1h-1zM24 2h1v1h-1zM25 2h1v1h-1zM2 3h1v1h-1zM4 3h1v1h-1zM14 3h1v1h-1zM8 4h1v1h-1zM5 5h1v1h-1zM12 5h1v1h-1zM18 5h1v1h-1zM13 6h1v1h-1zM24 6h1v1h-1zM27 6h1v1h-1zM28 6h1v1h-1zM7 7h1v1h-1zM9 7h1v1h-1zM6 8h1v1h-1zM14 8h1v1h-1zM2 9h1v1h-1zM5 10h1v1h-1zM14 10h1v1h-1zM24 10h1v1h-1zM26 10h1v1h-1zM3 11h1v1h-1zM4 11h1v1h-1zM15 11h1v1h-1zM16 11h1v1h-1zM17 11h1v1h-1zM26 11h1v1h-1zM12 12h1v1h-1zM0 13h1v1h-1zM14 13h1v1h-1zM29 13h1v1h-1zM1 14h1v1h-1zM5 14h1v1h-1zM28 14h1v1h-1zM19 16h1v1h-1zM22 16h1v1h-1zM1 17h1v1h-1zM5 17h1v1h-1zM11 17h1v1h-1zM20 17h1v1h-1zM22 17h1v1h-1zM25 17h1v1h-1zM6 18h1v1h-1zM13 18h1v1h-1zM19 18h1v1h-1zM22 18h1v1h-1zM0 19h1v1h-1zM1 19h1v1h-1zM4 20h1v1h-1zM19 20h1v1h-1zM12 21h1v1h-1zM27 21h1v1h-1zM3 22h1v1h-1zM13 22h1v1h-1zM15 22h1v1h-1zM3 23h1v1h-1zM7 23h1v1h-1zM18 23h1v1h-1zM19 23h1v1h-1zM20 23h1v1h-1zM26 23h1v1h-1zM3 24h1v1h-1zM21 24h1v1h-1zM7 25h1v1h-1zM8 26h1v1h-1zM10 26h1v1h-1zM24 26h1v1h-1zM19 27h1v1h-1zM29 28h1v1h-1zM17 29h1v1h-1zM23 29h1v1h-1z"/><path fill="#404040" d="M3 0h1v1h-1zM26 0h1v1h-1zM0 1h1v1h-1zM13 1h1v1h-1zM22 1h1v1h-1zM23 1h1v1h-1zM0 2h1v1h-1zM2 2h1v1h-1zM3 2h1v1h-1zM10 2h1v1h-1zM28 2h1v1h-1zM18 4h1v1h-1zM24 4h1v1h-1zM13 5h1v1h-1zM23 5h1v1h-1zM27 5h1v1h-1zM8 6h1v1h-1zM12 6h1v1h-1zM14 6h1v1h-1zM6 7h1v1h-1zM16 7h1v1h-1zM23 7h1v1h-1zM26 7h1v1h-1zM1 8h1v1h-1zM5 8h1v1h-1zM7 8h1v1h-1zM9 8h1v1h-1zM24 8h1v1h-1zM0 9h1v1h-1zM16 9h1v1h-1zM15 10h1v1h-1zM2 11h1v1h-1zM5 11h1v1h-1zM29 11h1v1h-1zM17 12h1v1h-1zM20 12h1v1h-1zM24 12h1v1h-1zM10 13h1v1h-1zM17 13h1v1h-1zM21 13h1v1h-1zM26 13h1v1h-1zM3 14h1v1h-1zM2 15h1v1h-1zM12 15h1v1h-1zM15 15h1v1h-1zM22 15h1v1h-1zM28 15h1v1h-1zM3 16h1v1h-1zM29 16h1v1h-1zM0 17h1v1h-1zM12 17h1v1h-1zM10 18h1v1h-1zM15 18h1v1h-1zM4 19h1v1h-1zM17 19h1v1h-1zM18 19h1v1h-1zM13 20h1v1h-1zM20 20h1v1h-1zM11 21h1v1h-1zM22 21h1v1h-1zM25 21h1v1h-1zM26 21h1v1h-1zM0 23h1v1h-1zM13 23h1v1h-1zM14 23h1v1h-1zM22 23h1v1h-1zM27 23h1v1h-1zM9 24h1v1h-1zM13 24h1v1h-1zM26 24h1v1h-1zM9 25h1v1h-1zM10 25h1v1h-1zM24 25h1v1h-1zM29 25h1v1h-1zM20 26h1v1h-1zM21 26h1v1h-1zM22 26h1v1h-1zM27 26h1v1h-1zM28 26h1v1h-1zM3 27h1v1h-1zM12 27h1v1h-1zM28 27h1v1h-1zM1 28h1v1h-1zM11 28h1v1h-1zM22 28h1v1h-1zM26 28h1v1h-1zM0 29h1v1h-1zM4 29h1v1h-1zM27 29h1v1h-1z"/><path fill="#7a6a48" d="M4 0h1v1h-1zM5 0h1v1h-1zM6 0h1v1h-1zM21 0h1v1h-1zM25 0h1v1h-1zM15 1h1v1h-1zM17 1h1v1h-1zM4 2h1v1h-1zM13 2h1v1h-1zM15 2h1v1h-1zM19 2h1v1h-1zM6 3h1v1h-1zM10 3h1v1h-1zM15 3h1v1h-1zM21 3h1v1h-1zM22 3h1v1h-1zM26 3h1v1h-1zM7 4h1v1h-1zM20 4h1v1h-1zM2 5h1v1h-1zM6 5h1v1h-1zM7 5h1v1h-1zM22 5h1v1h-1zM24 5h1v1h-1zM2 6h1v1h-1zM6 6h1v1h-1zM7 6h1v1h-1zM10 6h1v1h-1zM11 6h1v1h-1zM15 6h1v1h-1zM16 6h1v1h-1zM19 6h1v1h-1zM1 7h1v1h-1zM5 7h1v1h-1zM11 7h1v1h-1zM17 7h1v1h-1zM28 7h1v1h-1zM15 8h1v1h-1zM17 8h1v1h-1zM4 9h1v1h-1zM5 9h1v1h-1zM6 9h1v1h-1zM11 9h1v1h-1zM1 10h1v1h-1zM8 10h1v1h-1zM9 10h1v1h-1zM10 10h1v1h-1zM17 10h1v1h-1zM19 10h1v1h-1zM21 10h1v1h-1zM23 10h1v1h-1zM25 10h1v1h-1zM29 10h1v1h-1zM12 11h1v1h-1zM18 11h1v1h-1zM19 11h1v1h-1zM5 12h1v1h-1zM7 12h1v1h-1zM19 12h1v1h-1zM22 12h1v1h-1zM23 12h1v1h-1zM26 12h1v1h-1zM1 13h1v1h-1zM6 13h1v1h-1zM7 13h1v1h-1zM13 13h1v1h-1zM20 13h1v1h-1zM28 13h1v1h-1zM15 14h1v1h-1zM16 14h1v1h-1zM26 14h1v1h-1zM20 15h1v1h-1zM25 15h1v1h-1zM29 15h1v1h-1zM11 16h1v1h-1zM16 16h1v1h-1zM17 16h1v1h-1zM20 16h1v1h-1zM24 16h1v1h-1zM2 17h1v1h-1zM4 17h1v1h-1zM6 17h1v1h-1zM7 17h1v1h-1zM28 17h1v1h-1zM0 18h1v1h-1zM12 18h1v1h-1zM14 18h1v1h-1zM16 18h1v1h-1zM27 18h1v1h-1zM2 19h1v1h-1zM14 19h1v1h-1zM20 19h1v1h-1zM6 20h1v1h-1zM9 20h1v1h-1zM10 20h1v1h-1zM14 20h1v1h-1zM23 20h1v1h-1zM24 20h1v1h-1zM29 20h1v1h-1zM19 21h1v1h-1zM28 21h1v1h-1zM5 22h1v1h-1zM10 22h1v1h-1zM11 22h1v1h-1zM17 22h1v1h-1zM23 22h1v1h-1zM26 22h1v1h-1zM27 22h1v1h-1zM29 22h1v1h-1zM4 23h1v1h-1zM5 23h1v1h-1zM23 23h1v1h-1zM28 23h1v1h-1zM10 24h1v1h-1zM16 24h1v1h-1zM19 24h1v1h-1zM22 24h1v1h-1zM25 24h1v1h-1zM28 24h1v1h-1zM2 25h1v1h-1zM20 25h1v1h-1zM21 25h1v1h-1zM25 25h1v1h-1zM1 26h1v1h-1zM25 26h1v1h-1zM29 26h1v1h-1zM0 27h1v1h-1zM11 27h1v1h-1zM20 27h1v1h-1zM21 27h1v1h-1zM0 28h1v1h-1zM7 28h1v1h-1zM9 28h1v1h-1zM19 28h1v1h-1zM25 28h1v1h-1zM6 29h1v1h-1zM13 29h1v1h-1zM16 29h1v1h-1zM25 29h1v1h-1z"/><path fill="#5a3a3a" d="M7 0h1v1h-1zM11 0h1v1h-1zM1 1h1v1h-1zM4 1h1v1h-1zM24 1h1v1h-1zM25 1h1v1h-1zM26 1h1v1h-1zM23 2h1v1h-1zM29 2h1v1h-1zM11 3h1v1h-1zM19 3h1v1h-1zM20 3h1v1h-1zM12 4h1v1h-1zM19 4h1v1h-1zM25 4h1v1h-1zM0 5h1v1h-1zM17 5h1v1h-1zM21 5h1v1h-1zM29 5h1v1h-1zM0 6h1v1h-1zM1 6h1v1h-1zM13 7h1v1h-1zM15 7h1v1h-1zM20 7h1v1h-1zM22 7h1v1h-1zM27 7h1v1h-1zM0 8h1v1h-1zM28 8h1v1h-1zM12 9h1v1h-1zM15 9h1v1h-1zM22 9h1v1h-1zM24 9h1v1h-1zM4 10h1v1h-1zM6 10h1v1h-1zM13 10h1v1h-1zM1 11h1v1h-1zM6 11h1v1h-1zM9 11h1v1h-1zM21 11h1v1h-1zM8 12h1v1h-1zM13 12h1v1h-1zM25 12h1v1h-1zM27 12h1v1h-1zM25 13h1v1h-1zM8 14h1v1h-1zM9 14h1v1h-1zM12 14h1v1h-1zM13 14h1v1h-1zM27 14h1v1h-1zM0 15h1v1h-1zM14 15h1v1h-1zM1 16h1v1h-1zM10 16h1v1h-1zM14 17h1v1h-1zM23 17h1v1h-1zM24 17h1v1h-1zM18 18h1v1h-1zM26 18h1v1h-1zM10 19h1v1h-1zM24 19h1v1h-1zM1 20h1v1h-1zM2 20h1v1h-1zM25 20h1v1h-1zM27 20h1v1h-1zM2 21h1v1h-1zM3 21h1v1h-1zM23 21h1v1h-1zM7 22h1v1h-1zM18 22h1v1h-1zM10 23h1v1h-1zM15 23h1v1h-1zM16 23h1v1h-1zM24 23h1v1h-1zM5 24h1v1h-1zM7 24h1v1h-1zM12 24h1v1h-1zM17 24h1v1h-1zM18 24h1v1h-1zM23 25h1v1h-1zM4 26h1v1h-1zM6 26h1v1h-1zM7 26h1v1h-1zM26 26h1v1h-1zM1 27h1v1h-1zM6 27h1v1h-1zM8 27h1v1h-1zM13 27h1v1h-1zM18 27h1v1h-1zM27 27h1v1h-1zM29 27h1v1h-1zM3 28h1v1h-1zM10 28h1v1h-1zM1 29h1v1h-1zM12 29h1v1h-1z"/><path fill="#4a7a6a" d="M8 0h1v1h-1zM18 0h1v1h-1zM20 0h1v1h-1zM24 0h1v1h-1zM14 1h1v1h-1zM21 1h1v1h-1zM5 2h1v1h-1zM16 2h1v1h-1zM26 2h1v1h-1zM0 3h1v1h-1zM7 3h1v1h-1zM9 3h1v1h-1zM17 3h1v1h-1zM24 3h1v1h-1zM25 3h1v1h-1zM27 3h1v1h-1zM1 4h1v1h-1zM3 4h1v1h-1zM11 4h1v1h-1zM13 4h1v1h-1zM16 4h1v1h-1zM21 4h1v1h-1zM22 4h1v1h-1zM11 5h1v1h-1zM14 5h1v1h-1zM19 5h1v1h-1zM20 5h1v1h-1zM25 5h1v1h-1zM4 6h1v1h-1zM5 6h1v1h-1zM18 6h1v1h-1zM20 6h1v1h-1zM22 6h1v1h-1zM23 6h1v1h-1zM26 6h1v1h-1zM3 7h1v1h-1zM24 7h1v1h-1zM12 8h1v1h-1zM22 8h1v1h-1zM26 8h1v1h-1zM29 8h1v1h-1zM1 9h1v1h-1zM13 9h1v1h-1zM25 9h1v1h-1zM28 9h1v1h-1zM0 10h1v1h-1zM3 10h1v1h-1zM20 10h1v1h-1zM22 10h1v1h-1zM14 11h1v1h-1zM9 12h1v1h-1zM10 12h1v1h-1zM18 12h1v1h-1zM28 12h1v1h-1zM4 13h1v1h-1zM12 13h1v1h-1zM18 13h1v1h-1zM0 14h1v1h-1zM4 14h1v1h-1zM7 14h1v1h-1zM17 14h1v1h-1zM23 14h1v1h-1zM18 15h1v1h-1zM26 15h1v1h-1zM0 16h1v1h-1zM2 16h1v1h-1zM6 16h1v1h-1zM15 16h1v1h-1zM9 17h1v1h-1zM19 17h1v1h-1zM29 17h1v1h-1zM1 18h1v1h-1zM17 18h1v1h-1zM23 18h1v1h-1zM25 18h1v1h-1zM28 18h1v1h-1zM29 18h1v1h-1zM6 19h1v1h-1zM9 19h1v1h-1zM13 19h1v1h-1zM15 19h1v1h-1zM16 19h1v1h-1zM22 19h1v1h-1zM5 20h1v1h-1zM18 20h1v1h-1zM22 20h1v1h-1zM26 20h1v1h-1zM0 21h1v1h-1zM9 21h1v1h-1zM15 21h1v1h-1zM17 21h1v1h-1zM24 21h1v1h-1zM6 22h1v1h-1zM9 22h1v1h-1zM22 22h1v1h-1zM2 24h1v1h-1zM4 24h1v1h-1zM11 24h1v1h-1zM12 25h1v1h-1zM13 25h1v1h-1zM22 25h1v1h-1zM26 25h1v1h-1zM27 25h1v1h-1zM0 26h1v1h-1zM9 26h1v1h-1zM14 26h1v1h-1zM16 26h1v1h-1zM17 26h1v1h-1zM16 27h1v1h-1zM23 27h1v1h-1zM24 27h1v1h-1zM25 27h1v1h-1zM22 29h1v1h-1zM24 29h1v1h-1z"/><path fill="#8a8a5a" d="M10 0h1v1h-1zM2 1h1v1h-1zM3 1h1v1h-1zM19 1h1v1h-1zM18 2h1v1h-1zM5 3h1v1h-1zM8 3h1v1h-1zM16 3h1v1h-1zM4 4h1v1h-1zM5 4h1v1h-1zM27 4h1v1h-1zM28 4h1v1h-1zM28 5h1v1h-1zM21 6h1v1h-1zM2 7h1v1h-1zM3 8h1v1h-1zM10 8h1v1h-1zM18 8h1v1h-1zM21 8h1v1h-1zM10 9h1v1h-1zM29 9h1v1h-1zM18 10h1v1h-1zM0 11h1v1h-1zM10 11h1v1h-1zM20 11h1v1h-1zM8 13h1v1h-1zM19 13h1v1h-1zM23 13h1v1h-1zM20 14h1v1h-1zM25 14h1v1h-1zM29 14h1v1h-1zM1 15h1v1h-1zM5 15h1v1h-1zM9 15h1v1h-1zM17 15h1v1h-1zM27 15h1v1h-1zM12 16h1v1h-1zM15 17h1v1h-1zM18 17h1v1h-1zM20 18h1v1h-1zM23 19h1v1h-1zM25 23h1v1h-1zM1 25h1v1h-1zM15 25h1v1h-1zM16 25h1v1h-1zM11 26h1v1h-1zM13 26h1v1h-1zM7 27h1v1h-1zM10 27h1v1h-1zM2 28h1v1h-1zM4 28h1v1h-1zM8 28h1v1h-1zM12 28h1v1h-1zM13 28h1v1h-1zM20 28h1v1h-1zM21 28h1v1h-1zM23 28h1v1h-1zM27 28h1v1h-1z"/><path fill="#5a5a7a" d="M13 0h1v1h-1zM27 0h1v1h-1zM5 1h1v1h-1zM9 1h1v1h-1zM27 1h1v1h-1zM22 2h1v1h-1zM27 2h1v1h-1zM1 3h1v1h-1zM28 3h1v1h-1zM14 4h1v1h-1zM1 5h1v1h-1zM3 5h1v1h-1zM15 5h1v1h-1zM16 5h1v1h-1zM26 5h1v1h-1zM0 7h1v1h-1zM23 8h1v1h-1zM14 9h1v1h-1zM23 9h1v1h-1zM11 10h1v1h-1zM11 11h1v1h-1zM13 11h1v1h-1zM25 11h1v1h-1zM0 12h1v1h-1zM2 12h1v1h-1zM11 12h1v1h-1zM14 12h1v1h-1zM21 12h1v1h-1zM29 12h1v1h-1zM9 13h1v1h-1zM15 13h1v1h-1zM14 14h1v1h-1zM19 14h1v1h-1zM5 16h1v1h-1zM8 16h1v1h-1zM21 16h1v1h-1zM16 17h1v1h-1zM4 18h1v1h-1zM5 18h1v1h-1zM24 18h1v1h-1zM19 19h1v1h-1zM26 19h1v1h-1zM27 19h1v1h-1zM28 19h1v1h-1zM0 20h1v1h-1zM11 20h1v1h-1zM5 21h1v1h-1zM7 21h1v1h-1zM21 21h1v1h-1zM20 22h1v1h-1zM28 22h1v1h-1zM2 23h1v1h-1zM8 23h1v1h-1zM11 23h1v1h-1zM17 23h1v1h-1zM29 23h1v1h-1zM6 24h1v1h-1zM23 24h1v1h-1zM29 24h1v1h-1zM5 25h1v1h-1zM6 25h1v1h-1zM14 25h1v1h-1zM5 26h1v1h-1zM2 27h1v1h-1zM5 27h1v1h-1zM15 27h1v1h-1zM17 27h1v1h-1zM18 28h1v1h-1zM3 29h1v1h-1zM18 29h1v1h-1zM29 29h1v1h-1z"/><path fill="#40909a" d="M12 1h1v1h-1zM18 1h1v1h-1zM18 3h1v1h-1zM23 3h1v1h-1zM2 4h1v1h-1zM10 4h1v1h-1zM3 6h1v1h-1zM21 7h1v1h-1zM16 8h1v1h-1zM26 9h1v1h-1zM12 10h1v1h-1zM27 10h1v1h-1zM23 11h1v1h-1zM27 11h1v1h-1zM5 13h1v1h-1zM11 13h1v1h-1zM27 13h1v1h-1zM18 14h1v1h-1zM13 15h1v1h-1zM21 15h1v1h-1zM13 16h1v1h-1zM18 16h1v1h-1zM3 17h1v1h-1zM17 17h1v1h-1zM26 17h1v1h-1zM27 17h1v1h-1zM8 18h1v1h-1zM11 18h1v1h-1zM7 19h1v1h-1zM11 19h1v1h-1zM25 19h1v1h-1zM28 20h1v1h-1zM8 21h1v1h-1zM10 21h1v1h-1zM18 21h1v1h-1zM4 22h1v1h-1zM6 23h1v1h-1zM12 23h1v1h-1zM21 23h1v1h-1zM14 24h1v1h-1zM11 25h1v1h-1zM28 25h1v1h-1zM23 26h1v1h-1zM14 27h1v1h-1zM14 28h1v1h-1zM16 28h1v1h-1zM19 29h1v1h-1z"/></pattern><pattern id="nRed" x="0" y="0" width="30" height="30" patternUnits="userSpaceOnUse"><path fill="#702a2a" d="M0 0h1v1h-1zM2 0h1v1h-1zM9 0h1v1h-1zM19 0h1v1h-1zM20 0h1v1h-1zM21 0h1v1h-1zM24 0h1v1h-1zM3 1h1v1h-1zM13 1h1v1h-1zM19 1h1v1h-1zM0 2h1v1h-1zM8 2h1v1h-1zM10 2h1v1h-1zM22 2h1v1h-1zM26 2h1v1h-1zM27 2h1v1h-1zM10 3h1v1h-1zM13 3h1v1h-1zM26 3h1v1h-1zM9 4h1v1h-1zM12 4h1v1h-1zM22 4h1v1h-1zM23 4h1v1h-1zM1 5h1v1h-1zM20 5h1v1h-1zM23 5h1v1h-1zM26 5h1v1h-1zM27 5h1v1h-1zM27 6h1v1h-1zM3 7h1v1h-1zM15 7h1v1h-1zM25 7h1v1h-1zM27 7h1v1h-1zM1 8h1v1h-1zM2 8h1v1h-1zM3 8h1v1h-1zM9 8h1v1h-1zM12 8h1v1h-1zM23 8h1v1h-1zM25 8h1v1h-1zM29 8h1v1h-1zM8 9h1v1h-1zM10 9h1v1h-1zM14 9h1v1h-1zM26 9h1v1h-1zM28 9h1v1h-1zM29 9h1v1h-1zM2 10h1v1h-1zM4 10h1v1h-1zM12 10h1v1h-1zM13 10h1v1h-1zM14 10h1v1h-1zM15 10h1v1h-1zM17 10h1v1h-1zM18 10h1v1h-1zM25 10h1v1h-1zM26 10h1v1h-1zM6 11h1v1h-1zM8 11h1v1h-1zM9 11h1v1h-1zM10 11h1v1h-1zM12 11h1v1h-1zM18 11h1v1h-1zM20 11h1v1h-1zM21 11h1v1h-1zM3 12h1v1h-1zM7 12h1v1h-1zM9 12h1v1h-1zM13 12h1v1h-1zM14 12h1v1h-1zM15 12h1v1h-1zM17 12h1v1h-1zM25 12h1v1h-1zM2 13h1v1h-1zM10 13h1v1h-1zM17 13h1v1h-1zM19 13h1v1h-1zM21 13h1v1h-1zM24 13h1v1h-1zM26 13h1v1h-1zM29 13h1v1h-1zM6 14h1v1h-1zM8 14h1v1h-1zM14 14h1v1h-1zM26 14h1v1h-1zM27 14h1v1h-1zM28 14h1v1h-1zM29 14h1v1h-1zM19 15h1v1h-1zM21 15h1v1h-1zM4 16h1v1h-1zM12 16h1v1h-1zM18 16h1v1h-1zM21 16h1v1h-1zM25 16h1v1h-1zM3 17h1v1h-1zM5 17h1v1h-1zM13 17h1v1h-1zM15 17h1v1h-1zM0 18h1v1h-1zM6 18h1v1h-1zM12 18h1v1h-1zM17 18h1v1h-1zM26 18h1v1h-1zM14 19h1v1h-1zM16 19h1v1h-1zM17 19h1v1h-1zM21 19h1v1h-1zM22 19h1v1h-1zM24 19h1v1h-1zM25 19h1v1h-1zM26 19h1v1h-1zM29 19h1v1h-1zM5 20h1v1h-1zM10 20h1v1h-1zM11 20h1v1h-1zM12 20h1v1h-1zM22 20h1v1h-1zM0 21h1v1h-1zM4 21h1v1h-1zM5 21h1v1h-1zM5 22h1v1h-1zM6 22h1v1h-1zM11 22h1v1h-1zM15 22h1v1h-1zM16 22h1v1h-1zM24 22h1v1h-1zM26 22h1v1h-1zM1 23h1v1h-1zM6 23h1v1h-1zM10 23h1v1h-1zM10 24h1v1h-1zM14 24h1v1h-1zM21 24h1v1h-1zM25 24h1v1h-1zM4 25h1v1h-1zM21 25h1v1h-1zM2 26h1v1h-1zM10 26h1v1h-1zM16 26h1v1h-1zM18 26h1v1h-1zM21 26h1v1h-1zM1 27h1v1h-1zM9 27h1v1h-1zM11 27h1v1h-1zM15 27h1v1h-1zM17 27h1v1h-1zM19 27h1v1h-1zM23 27h1v1h-1zM0 28h1v1h-1zM10 28h1v1h-1zM13 28h1v1h-1zM18 28h1v1h-1zM20 28h1v1h-1zM25 28h1v1h-1zM27 28h1v1h-1zM29 28h1v1h-1zM3 29h1v1h-1zM10 29h1v1h-1zM17 29h1v1h-1zM25 29h1v1h-1z"/><path fill="#5a4a3a" d="M1 0h1v1h-1zM5 0h1v1h-1zM25 0h1v1h-1zM0 1h1v1h-1zM1 1h1v1h-1zM2 1h1v1h-1zM10 1h1v1h-1zM11 2h1v1h-1zM12 2h1v1h-1zM29 2h1v1h-1zM0 3h1v1h-1zM1 3h1v1h-1zM17 3h1v1h-1zM21 3h1v1h-1zM1 4h1v1h-1zM7 4h1v1h-1zM16 4h1v1h-1zM18 4h1v1h-1zM27 4h1v1h-1zM0 5h1v1h-1zM15 5h1v1h-1zM1 6h1v1h-1zM13 6h1v1h-1zM19 6h1v1h-1zM26 6h1v1h-1zM29 7h1v1h-1zM10 8h1v1h-1zM15 8h1v1h-1zM16 8h1v1h-1zM24 8h1v1h-1zM28 8h1v1h-1zM0 9h1v1h-1zM2 9h1v1h-1zM9 9h1v1h-1zM15 9h1v1h-1zM20 9h1v1h-1zM3 10h1v1h-1zM7 10h1v1h-1zM19 10h1v1h-1zM24 10h1v1h-1zM1 11h1v1h-1zM2 11h1v1h-1zM3 11h1v1h-1zM13 11h1v1h-1zM16 11h1v1h-1zM23 11h1v1h-1zM25 13h1v1h-1zM1 14h1v1h-1zM3 14h1v1h-1zM7 14h1v1h-1zM12 14h1v1h-1zM16 14h1v1h-1zM20 14h1v1h-1zM22 14h1v1h-1zM7 15h1v1h-1zM24 15h1v1h-1zM3 16h1v1h-1zM6 16h1v1h-1zM10 16h1v1h-1zM27 16h1v1h-1zM9 17h1v1h-1zM16 17h1v1h-1zM9 18h1v1h-1zM11 18h1v1h-1zM20 18h1v1h-1zM21 18h1v1h-1zM28 18h1v1h-1zM10 19h1v1h-1zM13 19h1v1h-1zM6 20h1v1h-1zM9 20h1v1h-1zM14 20h1v1h-1zM15 20h1v1h-1zM8 21h1v1h-1zM15 21h1v1h-1zM19 21h1v1h-1zM0 22h1v1h-1zM3 22h1v1h-1zM14 22h1v1h-1zM22 22h1v1h-1zM27 22h1v1h-1zM3 23h1v1h-1zM12 23h1v1h-1zM16 23h1v1h-1zM24 24h1v1h-1zM29 24h1v1h-1zM3 25h1v1h-1zM16 25h1v1h-1zM18 25h1v1h-1zM29 25h1v1h-1zM25 26h1v1h-1zM29 26h1v1h-1zM2 27h1v1h-1zM20 27h1v1h-1zM25 27h1v1h-1zM9 28h1v1h-1zM6 29h1v1h-1zM12 29h1v1h-1z"/><path fill="#983a2a" d="M3 0h1v1h-1zM12 0h1v1h-1zM13 0h1v1h-1zM18 0h1v1h-1zM22 0h1v1h-1zM28 0h1v1h-1zM12 1h1v1h-1zM14 1h1v1h-1zM15 1h1v1h-1zM17 1h1v1h-1zM20 1h1v1h-1zM22 1h1v1h-1zM27 1h1v1h-1zM29 1h1v1h-1zM3 2h1v1h-1zM17 2h1v1h-1zM18 2h1v1h-1zM23 2h1v1h-1zM24 2h1v1h-1zM25 2h1v1h-1zM2 3h1v1h-1zM3 3h1v1h-1zM11 3h1v1h-1zM12 3h1v1h-1zM15 3h1v1h-1zM22 3h1v1h-1zM27 3h1v1h-1zM0 4h1v1h-1zM2 4h1v1h-1zM5 4h1v1h-1zM11 4h1v1h-1zM13 4h1v1h-1zM21 4h1v1h-1zM28 4h1v1h-1zM2 5h1v1h-1zM5 5h1v1h-1zM6 5h1v1h-1zM12 5h1v1h-1zM16 5h1v1h-1zM17 5h1v1h-1zM18 5h1v1h-1zM22 5h1v1h-1zM24 5h1v1h-1zM25 5h1v1h-1zM0 6h1v1h-1zM2 6h1v1h-1zM4 6h1v1h-1zM15 6h1v1h-1zM28 6h1v1h-1zM2 7h1v1h-1zM4 7h1v1h-1zM6 7h1v1h-1zM13 7h1v1h-1zM17 7h1v1h-1zM19 7h1v1h-1zM20 7h1v1h-1zM21 7h1v1h-1zM23 7h1v1h-1zM28 7h1v1h-1zM4 8h1v1h-1zM5 8h1v1h-1zM11 8h1v1h-1zM17 8h1v1h-1zM18 8h1v1h-1zM21 8h1v1h-1zM22 8h1v1h-1zM12 9h1v1h-1zM13 9h1v1h-1zM16 9h1v1h-1zM18 9h1v1h-1zM8 10h1v1h-1zM20 10h1v1h-1zM28 10h1v1h-1zM0 11h1v1h-1zM4 11h1v1h-1zM5 11h1v1h-1zM7 11h1v1h-1zM28 11h1v1h-1zM5 12h1v1h-1zM6 12h1v1h-1zM18 12h1v1h-1zM24 12h1v1h-1zM27 12h1v1h-1zM29 12h1v1h-1zM1 13h1v1h-1zM4 13h1v1h-1zM6 13h1v1h-1zM12 13h1v1h-1zM16 13h1v1h-1zM28 13h1v1h-1zM2 14h1v1h-1zM2 15h1v1h-1zM4 15h1v1h-1zM5 15h1v1h-1zM8 15h1v1h-1zM9 15h1v1h-1zM12 15h1v1h-1zM13 15h1v1h-1zM14 15h1v1h-1zM15 15h1v1h-1zM27 15h1v1h-1zM0 16h1v1h-1zM5 16h1v1h-1zM7 16h1v1h-1zM19 16h1v1h-1zM20 16h1v1h-1zM22 16h1v1h-1zM23 16h1v1h-1zM24 16h1v1h-1zM26 16h1v1h-1zM0 17h1v1h-1zM11 17h1v1h-1zM12 17h1v1h-1zM14 17h1v1h-1zM25 17h1v1h-1zM4 18h1v1h-1zM7 18h1v1h-1zM18 18h1v1h-1zM25 18h1v1h-1zM27 18h1v1h-1zM29 18h1v1h-1zM0 19h1v1h-1zM4 19h1v1h-1zM7 19h1v1h-1zM9 19h1v1h-1zM18 19h1v1h-1zM19 19h1v1h-1zM20 19h1v1h-1zM7 20h1v1h-1zM7 21h1v1h-1zM11 21h1v1h-1zM16 21h1v1h-1zM18 21h1v1h-1zM24 21h1v1h-1zM26 21h1v1h-1zM2 22h1v1h-1zM4 22h1v1h-1zM13 22h1v1h-1zM19 22h1v1h-1zM2 23h1v1h-1zM4 23h1v1h-1zM5 23h1v1h-1zM19 23h1v1h-1zM21 23h1v1h-1zM26 23h1v1h-1zM28 23h1v1h-1zM11 24h1v1h-1zM15 24h1v1h-1zM17 24h1v1h-1zM22 24h1v1h-1zM7 25h1v1h-1zM13 25h1v1h-1zM14 25h1v1h-1zM15 25h1v1h-1zM17 25h1v1h-1zM19 25h1v1h-1zM20 25h1v1h-1zM23 25h1v1h-1zM24 25h1v1h-1zM26 25h1v1h-1zM27 25h1v1h-1zM4 26h1v1h-1zM8 26h1v1h-1zM11 26h1v1h-1zM12 26h1v1h-1zM20 26h1v1h-1zM24 26h1v1h-1zM26 26h1v1h-1zM4 27h1v1h-1zM5 27h1v1h-1zM6 27h1v1h-1zM13 27h1v1h-1zM24 27h1v1h-1zM27 27h1v1h-1zM7 28h1v1h-1zM15 28h1v1h-1zM22 28h1v1h-1zM23 28h1v1h-1zM26 28h1v1h-1zM0 29h1v1h-1zM2 29h1v1h-1zM5 29h1v1h-1zM7 29h1v1h-1zM8 29h1v1h-1zM9 29h1v1h-1zM22 29h1v1h-1zM26 29h1v1h-1zM28 29h1v1h-1z"/><path fill="#b84a3a" d="M4 0h1v1h-1zM27 0h1v1h-1zM4 1h1v1h-1zM6 2h1v1h-1zM9 2h1v1h-1zM14 2h1v1h-1zM16 2h1v1h-1zM5 3h1v1h-1zM6 3h1v1h-1zM8 3h1v1h-1zM28 3h1v1h-1zM4 4h1v1h-1zM6 4h1v1h-1zM8 4h1v1h-1zM19 4h1v1h-1zM4 5h1v1h-1zM10 5h1v1h-1zM14 6h1v1h-1zM20 6h1v1h-1zM7 7h1v1h-1zM16 7h1v1h-1zM22 7h1v1h-1zM6 8h1v1h-1zM13 8h1v1h-1zM6 9h1v1h-1zM11 9h1v1h-1zM21 9h1v1h-1zM0 10h1v1h-1zM1 10h1v1h-1zM9 10h1v1h-1zM10 10h1v1h-1zM24 11h1v1h-1zM25 11h1v1h-1zM4 12h1v1h-1zM11 12h1v1h-1zM21 12h1v1h-1zM26 12h1v1h-1zM13 13h1v1h-1zM22 13h1v1h-1zM4 14h1v1h-1zM5 14h1v1h-1zM15 14h1v1h-1zM18 14h1v1h-1zM24 14h1v1h-1zM25 14h1v1h-1zM16 15h1v1h-1zM25 15h1v1h-1zM15 16h1v1h-1zM18 17h1v1h-1zM24 17h1v1h-1zM29 17h1v1h-1zM1 18h1v1h-1zM2 18h1v1h-1zM10 18h1v1h-1zM13 18h1v1h-1zM15 18h1v1h-1zM3 19h1v1h-1zM27 19h1v1h-1zM13 20h1v1h-1zM18 20h1v1h-1zM19 20h1v1h-1zM21 20h1v1h-1zM1 21h1v1h-1zM3 21h1v1h-1zM6 21h1v1h-1zM27 21h1v1h-1zM8 22h1v1h-1zM0 23h1v1h-1zM8 23h1v1h-1zM14 23h1v1h-1zM22 23h1v1h-1zM23 23h1v1h-1zM24 23h1v1h-1zM25 23h1v1h-1zM27 23h1v1h-1zM0 24h1v1h-1zM2 24h1v1h-1zM9 24h1v1h-1zM12 24h1v1h-1zM13 24h1v1h-1zM18 24h1v1h-1zM26 24h1v1h-1zM0 25h1v1h-1zM2 25h1v1h-1zM8 25h1v1h-1zM3 26h1v1h-1zM6 26h1v1h-1zM9 26h1v1h-1zM3 27h1v1h-1zM14 27h1v1h-1zM16 27h1v1h-1zM18 27h1v1h-1zM22 27h1v1h-1zM4 28h1v1h-1zM5 28h1v1h-1zM21 28h1v1h-1zM14 29h1v1h-1zM21 29h1v1h-1z"/><path fill="#3a2a2a" d="M6 0h1v1h-1zM15 0h1v1h-1zM17 0h1v1h-1zM11 1h1v1h-1zM21 1h1v1h-1zM24 1h1v1h-1zM7 2h1v1h-1zM15 2h1v1h-1zM9 3h1v1h-1zM19 3h1v1h-1zM15 4h1v1h-1zM17 4h1v1h-1zM20 4h1v1h-1zM8 5h1v1h-1zM19 5h1v1h-1zM28 5h1v1h-1zM29 5h1v1h-1zM7 6h1v1h-1zM10 6h1v1h-1zM11 6h1v1h-1zM12 6h1v1h-1zM8 7h1v1h-1zM10 7h1v1h-1zM14 7h1v1h-1zM24 7h1v1h-1zM0 8h1v1h-1zM7 8h1v1h-1zM19 8h1v1h-1zM17 9h1v1h-1zM23 9h1v1h-1zM24 9h1v1h-1zM5 10h1v1h-1zM11 10h1v1h-1zM29 10h1v1h-1zM10 12h1v1h-1zM5 13h1v1h-1zM20 13h1v1h-1zM10 14h1v1h-1zM11 14h1v1h-1zM21 14h1v1h-1zM6 15h1v1h-1zM11 15h1v1h-1zM20 15h1v1h-1zM2 16h1v1h-1zM7 17h1v1h-1zM8 17h1v1h-1zM10 17h1v1h-1zM19 17h1v1h-1zM3 18h1v1h-1zM16 18h1v1h-1zM11 19h1v1h-1zM15 19h1v1h-1zM28 19h1v1h-1zM2 20h1v1h-1zM3 20h1v1h-1zM25 20h1v1h-1zM2 21h1v1h-1zM14 21h1v1h-1zM22 21h1v1h-1zM23 21h1v1h-1zM29 21h1v1h-1zM25 22h1v1h-1zM15 23h1v1h-1zM29 23h1v1h-1zM6 24h1v1h-1zM20 24h1v1h-1zM0 26h1v1h-1zM5 26h1v1h-1zM7 26h1v1h-1zM0 27h1v1h-1zM2 28h1v1h-1zM12 28h1v1h-1zM24 28h1v1h-1zM28 28h1v1h-1zM29 29h1v1h-1z"/><path fill="#906048" d="M7 0h1v1h-1zM11 0h1v1h-1zM14 0h1v1h-1zM18 1h1v1h-1zM4 2h1v1h-1zM20 2h1v1h-1zM20 3h1v1h-1zM24 4h1v1h-1zM13 5h1v1h-1zM16 6h1v1h-1zM23 6h1v1h-1zM9 7h1v1h-1zM27 8h1v1h-1zM1 9h1v1h-1zM19 9h1v1h-1zM6 10h1v1h-1zM17 11h1v1h-1zM22 11h1v1h-1zM26 11h1v1h-1zM27 11h1v1h-1zM8 12h1v1h-1zM12 12h1v1h-1zM20 12h1v1h-1zM0 13h1v1h-1zM17 14h1v1h-1zM1 15h1v1h-1zM13 16h1v1h-1zM28 16h1v1h-1zM6 17h1v1h-1zM22 17h1v1h-1zM8 18h1v1h-1zM24 18h1v1h-1zM5 19h1v1h-1zM8 19h1v1h-1zM12 19h1v1h-1zM23 20h1v1h-1zM24 20h1v1h-1zM26 20h1v1h-1zM7 22h1v1h-1zM10 22h1v1h-1zM23 22h1v1h-1zM7 23h1v1h-1zM20 23h1v1h-1zM1 24h1v1h-1zM5 24h1v1h-1zM16 24h1v1h-1zM9 25h1v1h-1zM22 25h1v1h-1zM25 25h1v1h-1zM17 26h1v1h-1zM27 26h1v1h-1zM26 27h1v1h-1zM1 28h1v1h-1zM6 28h1v1h-1zM11 28h1v1h-1zM19 29h1v1h-1zM20 29h1v1h-1zM23 29h1v1h-1zM24 29h1v1h-1zM27 29h1v1h-1z"/><path fill="#4a6a5a" d="M8 0h1v1h-1zM29 0h1v1h-1zM5 1h1v1h-1zM28 1h1v1h-1zM2 2h1v1h-1zM5 2h1v1h-1zM16 3h1v1h-1zM18 3h1v1h-1zM10 4h1v1h-1zM26 4h1v1h-1zM3 5h1v1h-1zM6 6h1v1h-1zM29 6h1v1h-1zM4 9h1v1h-1zM16 10h1v1h-1zM15 11h1v1h-1zM16 12h1v1h-1zM19 12h1v1h-1zM19 14h1v1h-1zM23 15h1v1h-1zM9 16h1v1h-1zM11 16h1v1h-1zM1 17h1v1h-1zM26 17h1v1h-1zM28 17h1v1h-1zM14 18h1v1h-1zM6 19h1v1h-1zM4 20h1v1h-1zM8 20h1v1h-1zM16 20h1v1h-1zM21 21h1v1h-1zM1 22h1v1h-1zM18 22h1v1h-1zM11 23h1v1h-1zM18 23h1v1h-1zM23 24h1v1h-1zM5 25h1v1h-1zM11 25h1v1h-1zM12 25h1v1h-1zM23 26h1v1h-1zM12 27h1v1h-1zM14 28h1v1h-1zM16 28h1v1h-1zM11 29h1v1h-1z"/><path fill="#c02a20" d="M10 0h1v1h-1zM6 1h1v1h-1zM8 1h1v1h-1zM9 1h1v1h-1zM23 1h1v1h-1zM1 2h1v1h-1zM13 2h1v1h-1zM14 3h1v1h-1zM24 3h1v1h-1zM25 3h1v1h-1zM29 3h1v1h-1zM3 4h1v1h-1zM7 5h1v1h-1zM9 5h1v1h-1zM14 5h1v1h-1zM5 6h1v1h-1zM9 6h1v1h-1zM21 6h1v1h-1zM24 6h1v1h-1zM25 6h1v1h-1zM26 7h1v1h-1zM8 8h1v1h-1zM14 8h1v1h-1zM20 8h1v1h-1zM26 8h1v1h-1zM3 9h1v1h-1zM5 9h1v1h-1zM22 9h1v1h-1zM27 9h1v1h-1zM22 10h1v1h-1zM28 12h1v1h-1zM8 13h1v1h-1zM15 13h1v1h-1zM27 13h1v1h-1zM23 14h1v1h-1zM22 15h1v1h-1zM28 15h1v1h-1zM17 17h1v1h-1zM20 17h1v1h-1zM27 17h1v1h-1zM1 19h1v1h-1zM0 20h1v1h-1zM17 20h1v1h-1zM12 21h1v1h-1zM17 21h1v1h-1zM20 21h1v1h-1zM9 22h1v1h-1zM12 22h1v1h-1zM20 22h1v1h-1zM9 23h1v1h-1zM13 23h1v1h-1zM4 24h1v1h-1zM7 24h1v1h-1zM8 24h1v1h-1zM6 25h1v1h-1zM13 26h1v1h-1zM14 26h1v1h-1zM8 27h1v1h-1zM10 27h1v1h-1zM17 28h1v1h-1zM16 29h1v1h-1z"/><path fill="#505050" d="M16 0h1v1h-1zM23 0h1v1h-1zM26 0h1v1h-1zM7 1h1v1h-1zM16 1h1v1h-1zM19 2h1v1h-1zM21 2h1v1h-1zM28 2h1v1h-1zM7 3h1v1h-1zM23 3h1v1h-1zM25 4h1v1h-1zM11 5h1v1h-1zM18 6h1v1h-1zM22 6h1v1h-1zM0 7h1v1h-1zM7 9h1v1h-1zM25 9h1v1h-1zM23 10h1v1h-1zM19 11h1v1h-1zM29 11h1v1h-1zM0 12h1v1h-1zM2 12h1v1h-1zM22 12h1v1h-1zM3 13h1v1h-1zM7 13h1v1h-1zM23 13h1v1h-1zM13 14h1v1h-1zM0 15h1v1h-1zM3 15h1v1h-1zM18 15h1v1h-1zM14 16h1v1h-1zM16 16h1v1h-1zM2 17h1v1h-1zM22 18h1v1h-1zM2 19h1v1h-1zM1 20h1v1h-1zM27 20h1v1h-1zM10 21h1v1h-1zM13 21h1v1h-1zM17 22h1v1h-1zM17 23h1v1h-1zM3 24h1v1h-1zM27 24h1v1h-1zM1 25h1v1h-1zM15 26h1v1h-1zM7 27h1v1h-1zM29 27h1v1h-1zM3 28h1v1h-1zM1 29h1v1h-1zM13 29h1v1h-1z"/><path fill="#4a3a5a" d="M25 1h1v1h-1zM26 1h1v1h-1zM4 3h1v1h-1zM14 4h1v1h-1zM29 4h1v1h-1zM21 5h1v1h-1zM3 6h1v1h-1zM8 6h1v1h-1zM17 6h1v1h-1zM1 7h1v1h-1zM5 7h1v1h-1zM11 7h1v1h-1zM12 7h1v1h-1zM18 7h1v1h-1zM21 10h1v1h-1zM27 10h1v1h-1zM11 11h1v1h-1zM14 11h1v1h-1zM1 12h1v1h-1zM23 12h1v1h-1zM9 13h1v1h-1zM11 13h1v1h-1zM14 13h1v1h-1zM18 13h1v1h-1zM0 14h1v1h-1zM9 14h1v1h-1zM10 15h1v1h-1zM17 15h1v1h-1zM26 15h1v1h-1zM29 15h1v1h-1zM1 16h1v1h-1zM8 16h1v1h-1zM17 16h1v1h-1zM29 16h1v1h-1zM4 17h1v1h-1zM21 17h1v1h-1zM23 17h1v1h-1zM5 18h1v1h-1zM19 18h1v1h-1zM23 18h1v1h-1zM23 19h1v1h-1zM20 20h1v1h-1zM28 20h1v1h-1zM29 20h1v1h-1zM9 21h1v1h-1zM25 21h1v1h-1zM28 21h1v1h-1zM21 22h1v1h-1zM28 22h1v1h-1zM29 22h1v1h-1zM19 24h1v1h-1zM28 24h1v1h-1zM10 25h1v1h-1zM28 25h1v1h-1zM1 26h1v1h-1zM19 26h1v1h-1zM22 26h1v1h-1zM28 26h1v1h-1zM21 27h1v1h-1zM28 27h1v1h-1zM8 28h1v1h-1zM19 28h1v1h-1zM4 29h1v1h-1zM15 29h1v1h-1zM18 29h1v1h-1z"/></pattern><pattern id="nDark" x="0" y="0" width="30" height="30" patternUnits="userSpaceOnUse"><path fill="#464646" d="M0 0h1v1h-1zM1 0h1v1h-1zM9 0h1v1h-1zM14 0h1v1h-1zM0 1h1v1h-1zM3 1h1v1h-1zM10 1h1v1h-1zM12 1h1v1h-1zM19 1h1v1h-1zM20 1h1v1h-1zM22 1h1v1h-1zM23 1h1v1h-1zM26 1h1v1h-1zM2 2h1v1h-1zM19 2h1v1h-1zM20 2h1v1h-1zM23 2h1v1h-1zM0 3h1v1h-1zM1 3h1v1h-1zM3 3h1v1h-1zM7 3h1v1h-1zM16 3h1v1h-1zM20 3h1v1h-1zM9 4h1v1h-1zM13 4h1v1h-1zM25 4h1v1h-1zM26 4h1v1h-1zM9 5h1v1h-1zM10 5h1v1h-1zM14 5h1v1h-1zM16 5h1v1h-1zM22 5h1v1h-1zM2 6h1v1h-1zM4 6h1v1h-1zM10 6h1v1h-1zM20 6h1v1h-1zM21 6h1v1h-1zM24 6h1v1h-1zM27 6h1v1h-1zM3 7h1v1h-1zM4 7h1v1h-1zM5 7h1v1h-1zM6 7h1v1h-1zM11 7h1v1h-1zM17 7h1v1h-1zM11 8h1v1h-1zM15 8h1v1h-1zM17 8h1v1h-1zM18 8h1v1h-1zM20 8h1v1h-1zM22 8h1v1h-1zM23 8h1v1h-1zM24 8h1v1h-1zM1 9h1v1h-1zM2 9h1v1h-1zM5 9h1v1h-1zM7 9h1v1h-1zM10 9h1v1h-1zM13 9h1v1h-1zM14 9h1v1h-1zM15 9h1v1h-1zM22 9h1v1h-1zM3 10h1v1h-1zM4 10h1v1h-1zM10 10h1v1h-1zM18 10h1v1h-1zM21 10h1v1h-1zM26 10h1v1h-1zM0 11h1v1h-1zM17 11h1v1h-1zM23 11h1v1h-1zM24 11h1v1h-1zM27 11h1v1h-1zM28 11h1v1h-1zM6 12h1v1h-1zM8 12h1v1h-1zM11 12h1v1h-1zM14 12h1v1h-1zM15 12h1v1h-1zM21 12h1v1h-1zM23 12h1v1h-1zM2 13h1v1h-1zM4 13h1v1h-1zM11 13h1v1h-1zM25 13h1v1h-1zM28 13h1v1h-1zM5 14h1v1h-1zM11 14h1v1h-1zM7 15h1v1h-1zM12 15h1v1h-1zM22 15h1v1h-1zM28 15h1v1h-1zM25 16h1v1h-1zM28 16h1v1h-1zM15 17h1v1h-1zM16 17h1v1h-1zM23 17h1v1h-1zM24 17h1v1h-1zM29 17h1v1h-1zM4 18h1v1h-1zM5 18h1v1h-1zM8 18h1v1h-1zM2 19h1v1h-1zM6 19h1v1h-1zM7 19h1v1h-1zM21 19h1v1h-1zM22 19h1v1h-1zM26 19h1v1h-1zM29 19h1v1h-1zM0 20h1v1h-1zM7 20h1v1h-1zM11 20h1v1h-1zM14 20h1v1h-1zM21 20h1v1h-1zM22 20h1v1h-1zM27 20h1v1h-1zM28 20h1v1h-1zM29 20h1v1h-1zM13 21h1v1h-1zM14 21h1v1h-1zM21 21h1v1h-1zM22 21h1v1h-1zM24 21h1v1h-1zM29 21h1v1h-1zM5 22h1v1h-1zM27 22h1v1h-1zM8 23h1v1h-1zM10 23h1v1h-1zM12 23h1v1h-1zM16 23h1v1h-1zM21 23h1v1h-1zM1 24h1v1h-1zM3 24h1v1h-1zM16 24h1v1h-1zM21 24h1v1h-1zM28 24h1v1h-1zM29 24h1v1h-1zM6 25h1v1h-1zM7 25h1v1h-1zM18 25h1v1h-1zM21 25h1v1h-1zM11 26h1v1h-1zM16 26h1v1h-1zM17 26h1v1h-1zM21 26h1v1h-1zM29 26h1v1h-1zM5 27h1v1h-1zM6 27h1v1h-1zM7 27h1v1h-1zM9 27h1v1h-1zM11 27h1v1h-1zM3 28h1v1h-1zM8 28h1v1h-1zM9 28h1v1h-1zM13 28h1v1h-1zM18 28h1v1h-1zM24 28h1v1h-1zM27 28h1v1h-1zM2 29h1v1h-1zM3 29h1v1h-1zM4 29h1v1h-1zM9 29h1v1h-1zM18 29h1v1h-1zM24 29h1v1h-1zM28 29h1v1h-1z"/><path fill="#383838" d="M2 0h1v1h-1zM5 0h1v1h-1zM6 0h1v1h-1zM10 0h1v1h-1zM11 0h1v1h-1zM15 0h1v1h-1zM17 0h1v1h-1zM18 0h1v1h-1zM21 0h1v1h-1zM22 0h1v1h-1zM25 0h1v1h-1zM26 0h1v1h-1zM1 1h1v1h-1zM14 1h1v1h-1zM18 1h1v1h-1zM25 1h1v1h-1zM28 1h1v1h-1zM4 2h1v1h-1zM9 2h1v1h-1zM14 2h1v1h-1zM15 2h1v1h-1zM17 2h1v1h-1zM18 2h1v1h-1zM22 2h1v1h-1zM26 2h1v1h-1zM27 2h1v1h-1zM4 3h1v1h-1zM6 3h1v1h-1zM15 3h1v1h-1zM17 3h1v1h-1zM18 3h1v1h-1zM19 3h1v1h-1zM27 3h1v1h-1zM28 3h1v1h-1zM1 4h1v1h-1zM7 4h1v1h-1zM10 4h1v1h-1zM14 4h1v1h-1zM15 4h1v1h-1zM16 4h1v1h-1zM21 4h1v1h-1zM27 4h1v1h-1zM28 4h1v1h-1zM29 4h1v1h-1zM3 5h1v1h-1zM5 5h1v1h-1zM6 5h1v1h-1zM8 5h1v1h-1zM13 5h1v1h-1zM18 5h1v1h-1zM23 5h1v1h-1zM25 5h1v1h-1zM27 5h1v1h-1zM28 5h1v1h-1zM1 6h1v1h-1zM5 6h1v1h-1zM8 6h1v1h-1zM11 6h1v1h-1zM13 6h1v1h-1zM15 6h1v1h-1zM18 6h1v1h-1zM19 6h1v1h-1zM22 6h1v1h-1zM23 6h1v1h-1zM25 6h1v1h-1zM26 6h1v1h-1zM1 7h1v1h-1zM7 7h1v1h-1zM8 7h1v1h-1zM9 7h1v1h-1zM10 7h1v1h-1zM12 7h1v1h-1zM15 7h1v1h-1zM18 7h1v1h-1zM22 7h1v1h-1zM23 7h1v1h-1zM24 7h1v1h-1zM27 7h1v1h-1zM8 8h1v1h-1zM10 8h1v1h-1zM12 8h1v1h-1zM28 8h1v1h-1zM3 9h1v1h-1zM4 9h1v1h-1zM9 9h1v1h-1zM12 9h1v1h-1zM25 9h1v1h-1zM26 9h1v1h-1zM27 9h1v1h-1zM0 10h1v1h-1zM7 10h1v1h-1zM17 10h1v1h-1zM23 10h1v1h-1zM24 10h1v1h-1zM25 10h1v1h-1zM28 10h1v1h-1zM29 10h1v1h-1zM2 11h1v1h-1zM8 11h1v1h-1zM15 11h1v1h-1zM16 11h1v1h-1zM19 11h1v1h-1zM20 11h1v1h-1zM25 11h1v1h-1zM26 11h1v1h-1zM29 11h1v1h-1zM0 12h1v1h-1zM4 12h1v1h-1zM5 12h1v1h-1zM10 12h1v1h-1zM18 12h1v1h-1zM20 12h1v1h-1zM22 12h1v1h-1zM25 12h1v1h-1zM27 12h1v1h-1zM28 12h1v1h-1zM0 13h1v1h-1zM3 13h1v1h-1zM5 13h1v1h-1zM7 13h1v1h-1zM15 13h1v1h-1zM18 13h1v1h-1zM19 13h1v1h-1zM26 13h1v1h-1zM29 13h1v1h-1zM1 14h1v1h-1zM4 14h1v1h-1zM6 14h1v1h-1zM7 14h1v1h-1zM8 14h1v1h-1zM9 14h1v1h-1zM13 14h1v1h-1zM14 14h1v1h-1zM20 14h1v1h-1zM21 14h1v1h-1zM24 14h1v1h-1zM26 14h1v1h-1zM28 14h1v1h-1zM0 15h1v1h-1zM2 15h1v1h-1zM4 15h1v1h-1zM5 15h1v1h-1zM13 15h1v1h-1zM14 15h1v1h-1zM20 15h1v1h-1zM23 15h1v1h-1zM24 15h1v1h-1zM29 15h1v1h-1zM10 16h1v1h-1zM13 16h1v1h-1zM15 16h1v1h-1zM19 16h1v1h-1zM20 16h1v1h-1zM23 16h1v1h-1zM26 16h1v1h-1zM2 17h1v1h-1zM4 17h1v1h-1zM7 17h1v1h-1zM10 17h1v1h-1zM22 17h1v1h-1zM25 17h1v1h-1zM26 17h1v1h-1zM3 18h1v1h-1zM10 18h1v1h-1zM21 18h1v1h-1zM24 18h1v1h-1zM27 18h1v1h-1zM28 18h1v1h-1zM4 19h1v1h-1zM5 19h1v1h-1zM12 19h1v1h-1zM13 19h1v1h-1zM20 19h1v1h-1zM27 19h1v1h-1zM2 20h1v1h-1zM5 20h1v1h-1zM6 20h1v1h-1zM8 20h1v1h-1zM9 20h1v1h-1zM10 20h1v1h-1zM17 20h1v1h-1zM24 20h1v1h-1zM26 20h1v1h-1zM1 21h1v1h-1zM2 21h1v1h-1zM3 21h1v1h-1zM8 21h1v1h-1zM15 21h1v1h-1zM28 21h1v1h-1zM0 22h1v1h-1zM1 22h1v1h-1zM7 22h1v1h-1zM9 22h1v1h-1zM11 22h1v1h-1zM12 22h1v1h-1zM13 22h1v1h-1zM16 22h1v1h-1zM17 22h1v1h-1zM18 22h1v1h-1zM22 22h1v1h-1zM23 22h1v1h-1zM25 22h1v1h-1zM26 22h1v1h-1zM13 23h1v1h-1zM20 23h1v1h-1zM23 23h1v1h-1zM27 23h1v1h-1zM0 24h1v1h-1zM5 24h1v1h-1zM19 24h1v1h-1zM20 24h1v1h-1zM23 24h1v1h-1zM26 24h1v1h-1zM27 24h1v1h-1zM0 25h1v1h-1zM2 25h1v1h-1zM5 25h1v1h-1zM11 25h1v1h-1zM15 25h1v1h-1zM17 25h1v1h-1zM23 25h1v1h-1zM27 25h1v1h-1zM28 25h1v1h-1zM29 25h1v1h-1zM1 26h1v1h-1zM2 26h1v1h-1zM7 26h1v1h-1zM12 26h1v1h-1zM22 26h1v1h-1zM23 26h1v1h-1zM24 26h1v1h-1zM8 27h1v1h-1zM13 27h1v1h-1zM15 27h1v1h-1zM23 27h1v1h-1zM25 27h1v1h-1zM1 28h1v1h-1zM2 28h1v1h-1zM10 28h1v1h-1zM12 28h1v1h-1zM20 28h1v1h-1zM22 28h1v1h-1zM25 28h1v1h-1zM29 28h1v1h-1zM10 29h1v1h-1zM12 29h1v1h-1zM13 29h1v1h-1zM21 29h1v1h-1z"/><path fill="#3e3e3e" d="M3 0h1v1h-1zM7 0h1v1h-1zM19 0h1v1h-1zM6 1h1v1h-1zM8 1h1v1h-1zM9 1h1v1h-1zM17 1h1v1h-1zM27 1h1v1h-1zM29 1h1v1h-1zM0 2h1v1h-1zM3 2h1v1h-1zM10 2h1v1h-1zM11 2h1v1h-1zM12 2h1v1h-1zM16 2h1v1h-1zM21 2h1v1h-1zM24 2h1v1h-1zM25 2h1v1h-1zM28 2h1v1h-1zM29 2h1v1h-1zM2 3h1v1h-1zM10 3h1v1h-1zM14 3h1v1h-1zM21 3h1v1h-1zM24 3h1v1h-1zM25 3h1v1h-1zM26 3h1v1h-1zM0 4h1v1h-1zM3 4h1v1h-1zM5 4h1v1h-1zM8 4h1v1h-1zM12 4h1v1h-1zM20 4h1v1h-1zM23 4h1v1h-1zM0 5h1v1h-1zM1 5h1v1h-1zM11 5h1v1h-1zM12 5h1v1h-1zM15 5h1v1h-1zM19 5h1v1h-1zM20 5h1v1h-1zM24 5h1v1h-1zM26 5h1v1h-1zM29 5h1v1h-1zM0 6h1v1h-1zM3 6h1v1h-1zM7 6h1v1h-1zM9 6h1v1h-1zM14 6h1v1h-1zM16 6h1v1h-1zM2 7h1v1h-1zM19 7h1v1h-1zM20 7h1v1h-1zM21 7h1v1h-1zM25 7h1v1h-1zM26 7h1v1h-1zM0 8h1v1h-1zM2 8h1v1h-1zM5 8h1v1h-1zM7 8h1v1h-1zM9 8h1v1h-1zM13 8h1v1h-1zM25 8h1v1h-1zM27 8h1v1h-1zM29 8h1v1h-1zM0 9h1v1h-1zM6 9h1v1h-1zM8 9h1v1h-1zM16 9h1v1h-1zM17 9h1v1h-1zM20 9h1v1h-1zM1 10h1v1h-1zM9 10h1v1h-1zM12 10h1v1h-1zM13 10h1v1h-1zM22 10h1v1h-1zM27 10h1v1h-1zM3 11h1v1h-1zM5 11h1v1h-1zM6 11h1v1h-1zM12 11h1v1h-1zM13 11h1v1h-1zM21 11h1v1h-1zM1 12h1v1h-1zM2 12h1v1h-1zM3 12h1v1h-1zM12 12h1v1h-1zM19 12h1v1h-1zM24 12h1v1h-1zM29 12h1v1h-1zM6 13h1v1h-1zM8 13h1v1h-1zM9 13h1v1h-1zM10 13h1v1h-1zM13 13h1v1h-1zM14 13h1v1h-1zM17 13h1v1h-1zM20 13h1v1h-1zM22 13h1v1h-1zM24 13h1v1h-1zM27 13h1v1h-1zM0 14h1v1h-1zM2 14h1v1h-1zM3 14h1v1h-1zM15 14h1v1h-1zM16 14h1v1h-1zM22 14h1v1h-1zM23 14h1v1h-1zM25 14h1v1h-1zM29 14h1v1h-1zM3 15h1v1h-1zM9 15h1v1h-1zM15 15h1v1h-1zM16 15h1v1h-1zM1 16h1v1h-1zM3 16h1v1h-1zM4 16h1v1h-1zM5 16h1v1h-1zM8 16h1v1h-1zM11 16h1v1h-1zM12 16h1v1h-1zM14 16h1v1h-1zM18 16h1v1h-1zM22 16h1v1h-1zM24 16h1v1h-1zM27 16h1v1h-1zM0 17h1v1h-1zM6 17h1v1h-1zM13 17h1v1h-1zM17 17h1v1h-1zM18 17h1v1h-1zM0 18h1v1h-1zM1 18h1v1h-1zM6 18h1v1h-1zM11 18h1v1h-1zM12 18h1v1h-1zM13 18h1v1h-1zM22 18h1v1h-1zM23 18h1v1h-1zM26 18h1v1h-1zM29 18h1v1h-1zM0 19h1v1h-1zM3 19h1v1h-1zM8 19h1v1h-1zM9 19h1v1h-1zM10 19h1v1h-1zM15 19h1v1h-1zM16 19h1v1h-1zM17 19h1v1h-1zM18 19h1v1h-1zM23 19h1v1h-1zM25 19h1v1h-1zM28 19h1v1h-1zM1 20h1v1h-1zM3 20h1v1h-1zM18 20h1v1h-1zM23 20h1v1h-1zM25 20h1v1h-1zM4 21h1v1h-1zM6 21h1v1h-1zM9 21h1v1h-1zM11 21h1v1h-1zM16 21h1v1h-1zM18 21h1v1h-1zM19 21h1v1h-1zM23 21h1v1h-1zM25 21h1v1h-1zM26 21h1v1h-1zM27 21h1v1h-1zM2 22h1v1h-1zM8 22h1v1h-1zM10 22h1v1h-1zM14 22h1v1h-1zM15 22h1v1h-1zM1 23h1v1h-1zM9 23h1v1h-1zM14 23h1v1h-1zM17 23h1v1h-1zM25 23h1v1h-1zM28 23h1v1h-1zM29 23h1v1h-1zM6 24h1v1h-1zM7 24h1v1h-1zM12 24h1v1h-1zM15 24h1v1h-1zM9 25h1v1h-1zM10 25h1v1h-1zM13 25h1v1h-1zM20 25h1v1h-1zM22 25h1v1h-1zM25 25h1v1h-1zM3 26h1v1h-1zM4 26h1v1h-1zM9 26h1v1h-1zM13 26h1v1h-1zM14 26h1v1h-1zM15 26h1v1h-1zM18 26h1v1h-1zM19 26h1v1h-1zM26 26h1v1h-1zM0 27h1v1h-1zM2 27h1v1h-1zM4 27h1v1h-1zM10 27h1v1h-1zM14 27h1v1h-1zM17 27h1v1h-1zM18 27h1v1h-1zM22 27h1v1h-1zM24 27h1v1h-1zM26 27h1v1h-1zM27 27h1v1h-1zM28 27h1v1h-1zM0 28h1v1h-1zM4 28h1v1h-1zM5 28h1v1h-1zM6 28h1v1h-1zM7 28h1v1h-1zM11 28h1v1h-1zM14 28h1v1h-1zM19 28h1v1h-1zM23 28h1v1h-1zM0 29h1v1h-1zM1 29h1v1h-1zM6 29h1v1h-1zM7 29h1v1h-1zM14 29h1v1h-1zM19 29h1v1h-1zM20 29h1v1h-1zM22 29h1v1h-1zM27 29h1v1h-1zM29 29h1v1h-1z"/><path fill="#323232" d="M4 0h1v1h-1zM8 0h1v1h-1zM12 0h1v1h-1zM13 0h1v1h-1zM16 0h1v1h-1zM23 0h1v1h-1zM24 0h1v1h-1zM27 0h1v1h-1zM29 0h1v1h-1zM2 1h1v1h-1zM4 1h1v1h-1zM5 1h1v1h-1zM11 1h1v1h-1zM15 1h1v1h-1zM16 1h1v1h-1zM24 1h1v1h-1zM1 2h1v1h-1zM5 2h1v1h-1zM6 2h1v1h-1zM7 2h1v1h-1zM8 2h1v1h-1zM13 2h1v1h-1zM5 3h1v1h-1zM8 3h1v1h-1zM9 3h1v1h-1zM13 3h1v1h-1zM23 3h1v1h-1zM29 3h1v1h-1zM4 4h1v1h-1zM17 4h1v1h-1zM22 4h1v1h-1zM24 4h1v1h-1zM4 5h1v1h-1zM17 5h1v1h-1zM6 6h1v1h-1zM28 6h1v1h-1zM29 6h1v1h-1zM0 7h1v1h-1zM13 7h1v1h-1zM29 7h1v1h-1zM1 8h1v1h-1zM3 8h1v1h-1zM4 8h1v1h-1zM6 8h1v1h-1zM14 8h1v1h-1zM16 8h1v1h-1zM19 8h1v1h-1zM19 9h1v1h-1zM21 9h1v1h-1zM23 9h1v1h-1zM28 9h1v1h-1zM2 10h1v1h-1zM5 10h1v1h-1zM11 10h1v1h-1zM14 10h1v1h-1zM15 10h1v1h-1zM19 10h1v1h-1zM1 11h1v1h-1zM7 11h1v1h-1zM9 11h1v1h-1zM10 11h1v1h-1zM11 11h1v1h-1zM22 11h1v1h-1zM13 12h1v1h-1zM26 12h1v1h-1zM1 13h1v1h-1zM16 13h1v1h-1zM21 13h1v1h-1zM23 13h1v1h-1zM10 14h1v1h-1zM12 14h1v1h-1zM17 14h1v1h-1zM18 14h1v1h-1zM19 14h1v1h-1zM27 14h1v1h-1zM1 15h1v1h-1zM8 15h1v1h-1zM17 15h1v1h-1zM19 15h1v1h-1zM26 15h1v1h-1zM27 15h1v1h-1zM2 16h1v1h-1zM7 16h1v1h-1zM9 16h1v1h-1zM17 16h1v1h-1zM21 16h1v1h-1zM29 16h1v1h-1zM3 17h1v1h-1zM8 17h1v1h-1zM9 17h1v1h-1zM11 17h1v1h-1zM14 17h1v1h-1zM19 17h1v1h-1zM20 17h1v1h-1zM27 17h1v1h-1zM28 17h1v1h-1zM2 18h1v1h-1zM9 18h1v1h-1zM14 18h1v1h-1zM17 18h1v1h-1zM19 18h1v1h-1zM20 18h1v1h-1zM25 18h1v1h-1zM11 19h1v1h-1zM14 19h1v1h-1zM19 19h1v1h-1zM24 19h1v1h-1zM4 20h1v1h-1zM12 20h1v1h-1zM13 20h1v1h-1zM15 20h1v1h-1zM16 20h1v1h-1zM7 21h1v1h-1zM10 21h1v1h-1zM12 21h1v1h-1zM4 22h1v1h-1zM6 22h1v1h-1zM24 22h1v1h-1zM0 23h1v1h-1zM2 23h1v1h-1zM4 23h1v1h-1zM6 23h1v1h-1zM7 23h1v1h-1zM15 23h1v1h-1zM19 23h1v1h-1zM22 23h1v1h-1zM26 23h1v1h-1zM2 24h1v1h-1zM8 24h1v1h-1zM9 24h1v1h-1zM11 24h1v1h-1zM13 24h1v1h-1zM14 24h1v1h-1zM17 24h1v1h-1zM18 24h1v1h-1zM22 24h1v1h-1zM24 24h1v1h-1zM25 24h1v1h-1zM1 25h1v1h-1zM3 25h1v1h-1zM12 25h1v1h-1zM16 25h1v1h-1zM24 25h1v1h-1zM26 25h1v1h-1zM0 26h1v1h-1zM5 26h1v1h-1zM6 26h1v1h-1zM8 26h1v1h-1zM10 26h1v1h-1zM20 26h1v1h-1zM27 26h1v1h-1zM1 27h1v1h-1zM12 27h1v1h-1zM20 27h1v1h-1zM21 27h1v1h-1zM15 28h1v1h-1zM17 28h1v1h-1zM21 28h1v1h-1zM26 28h1v1h-1zM8 29h1v1h-1zM16 29h1v1h-1zM17 29h1v1h-1zM23 29h1v1h-1zM26 29h1v1h-1z"/><path fill="#505050" d="M20 0h1v1h-1zM28 0h1v1h-1zM7 1h1v1h-1zM13 1h1v1h-1zM21 1h1v1h-1zM11 3h1v1h-1zM12 3h1v1h-1zM22 3h1v1h-1zM2 4h1v1h-1zM6 4h1v1h-1zM11 4h1v1h-1zM18 4h1v1h-1zM19 4h1v1h-1zM2 5h1v1h-1zM7 5h1v1h-1zM21 5h1v1h-1zM12 6h1v1h-1zM17 6h1v1h-1zM14 7h1v1h-1zM16 7h1v1h-1zM28 7h1v1h-1zM21 8h1v1h-1zM26 8h1v1h-1zM11 9h1v1h-1zM18 9h1v1h-1zM24 9h1v1h-1zM29 9h1v1h-1zM6 10h1v1h-1zM8 10h1v1h-1zM16 10h1v1h-1zM20 10h1v1h-1zM4 11h1v1h-1zM14 11h1v1h-1zM18 11h1v1h-1zM7 12h1v1h-1zM9 12h1v1h-1zM16 12h1v1h-1zM17 12h1v1h-1zM12 13h1v1h-1zM6 15h1v1h-1zM10 15h1v1h-1zM11 15h1v1h-1zM18 15h1v1h-1zM21 15h1v1h-1zM25 15h1v1h-1zM0 16h1v1h-1zM6 16h1v1h-1zM16 16h1v1h-1zM1 17h1v1h-1zM5 17h1v1h-1zM12 17h1v1h-1zM21 17h1v1h-1zM7 18h1v1h-1zM15 18h1v1h-1zM16 18h1v1h-1zM18 18h1v1h-1zM1 19h1v1h-1zM19 20h1v1h-1zM20 20h1v1h-1zM0 21h1v1h-1zM5 21h1v1h-1zM17 21h1v1h-1zM20 21h1v1h-1zM3 22h1v1h-1zM19 22h1v1h-1zM20 22h1v1h-1zM21 22h1v1h-1zM28 22h1v1h-1zM29 22h1v1h-1zM3 23h1v1h-1zM5 23h1v1h-1zM11 23h1v1h-1zM18 23h1v1h-1zM24 23h1v1h-1zM4 24h1v1h-1zM10 24h1v1h-1zM4 25h1v1h-1zM8 25h1v1h-1zM14 25h1v1h-1zM19 25h1v1h-1zM25 26h1v1h-1zM28 26h1v1h-1zM3 27h1v1h-1zM16 27h1v1h-1zM19 27h1v1h-1zM29 27h1v1h-1zM16 28h1v1h-1zM28 28h1v1h-1zM5 29h1v1h-1zM11 29h1v1h-1zM15 29h1v1h-1zM25 29h1v1h-1z"/></pattern><pattern id="nPurp" x="0" y="0" width="30" height="30" patternUnits="userSpaceOnUse"><path fill="#30389a" d="M0 0h1v1h-1zM3 0h1v1h-1zM11 0h1v1h-1zM12 0h1v1h-1zM5 1h1v1h-1zM8 1h1v1h-1zM0 2h1v1h-1zM11 2h1v1h-1zM15 2h1v1h-1zM21 2h1v1h-1zM13 3h1v1h-1zM29 3h1v1h-1zM4 4h1v1h-1zM18 4h1v1h-1zM20 4h1v1h-1zM4 6h1v1h-1zM10 6h1v1h-1zM28 6h1v1h-1zM14 7h1v1h-1zM18 7h1v1h-1zM22 7h1v1h-1zM5 8h1v1h-1zM12 8h1v1h-1zM1 9h1v1h-1zM21 9h1v1h-1zM7 10h1v1h-1zM8 10h1v1h-1zM11 10h1v1h-1zM21 10h1v1h-1zM4 11h1v1h-1zM8 11h1v1h-1zM25 12h1v1h-1zM28 12h1v1h-1zM7 14h1v1h-1zM12 14h1v1h-1zM19 14h1v1h-1zM3 15h1v1h-1zM9 15h1v1h-1zM10 15h1v1h-1zM14 15h1v1h-1zM21 15h1v1h-1zM0 16h1v1h-1zM13 16h1v1h-1zM25 16h1v1h-1zM29 16h1v1h-1zM1 17h1v1h-1zM3 17h1v1h-1zM15 17h1v1h-1zM28 17h1v1h-1zM6 18h1v1h-1zM8 18h1v1h-1zM14 19h1v1h-1zM22 19h1v1h-1zM24 19h1v1h-1zM6 20h1v1h-1zM15 22h1v1h-1zM18 22h1v1h-1zM29 22h1v1h-1zM17 24h1v1h-1zM2 25h1v1h-1zM27 26h1v1h-1zM2 27h1v1h-1zM19 28h1v1h-1zM5 29h1v1h-1zM13 29h1v1h-1zM22 29h1v1h-1z"/><path fill="#6a5ac8" d="M1 0h1v1h-1zM26 0h1v1h-1zM6 1h1v1h-1zM22 1h1v1h-1zM23 2h1v1h-1zM19 3h1v1h-1zM28 3h1v1h-1zM6 4h1v1h-1zM10 4h1v1h-1zM12 4h1v1h-1zM19 4h1v1h-1zM27 5h1v1h-1zM19 6h1v1h-1zM23 6h1v1h-1zM2 7h1v1h-1zM16 7h1v1h-1zM15 8h1v1h-1zM24 8h1v1h-1zM28 8h1v1h-1zM0 9h1v1h-1zM15 9h1v1h-1zM23 9h1v1h-1zM2 10h1v1h-1zM28 10h1v1h-1zM29 10h1v1h-1zM17 11h1v1h-1zM5 12h1v1h-1zM9 12h1v1h-1zM0 13h1v1h-1zM8 13h1v1h-1zM15 13h1v1h-1zM27 13h1v1h-1zM29 13h1v1h-1zM15 14h1v1h-1zM29 14h1v1h-1zM4 15h1v1h-1zM8 15h1v1h-1zM11 15h1v1h-1zM8 17h1v1h-1zM9 17h1v1h-1zM9 18h1v1h-1zM16 18h1v1h-1zM19 18h1v1h-1zM27 18h1v1h-1zM6 19h1v1h-1zM25 19h1v1h-1zM0 20h1v1h-1zM8 20h1v1h-1zM21 21h1v1h-1zM27 21h1v1h-1zM8 22h1v1h-1zM12 22h1v1h-1zM13 22h1v1h-1zM16 22h1v1h-1zM22 23h1v1h-1zM1 24h1v1h-1zM6 26h1v1h-1zM10 26h1v1h-1zM14 26h1v1h-1zM11 27h1v1h-1zM16 27h1v1h-1zM2 28h1v1h-1zM23 28h1v1h-1zM12 29h1v1h-1zM20 29h1v1h-1zM25 29h1v1h-1z"/><path fill="#2a2480" d="M2 0h1v1h-1zM17 0h1v1h-1zM21 0h1v1h-1zM3 1h1v1h-1zM7 1h1v1h-1zM9 1h1v1h-1zM10 1h1v1h-1zM13 1h1v1h-1zM25 1h1v1h-1zM26 1h1v1h-1zM5 2h1v1h-1zM10 2h1v1h-1zM16 2h1v1h-1zM18 2h1v1h-1zM24 2h1v1h-1zM28 2h1v1h-1zM6 3h1v1h-1zM12 3h1v1h-1zM14 3h1v1h-1zM18 3h1v1h-1zM23 3h1v1h-1zM25 3h1v1h-1zM0 4h1v1h-1zM7 4h1v1h-1zM17 4h1v1h-1zM23 4h1v1h-1zM3 5h1v1h-1zM13 5h1v1h-1zM15 5h1v1h-1zM21 5h1v1h-1zM22 5h1v1h-1zM28 5h1v1h-1zM29 5h1v1h-1zM8 6h1v1h-1zM11 6h1v1h-1zM17 6h1v1h-1zM20 6h1v1h-1zM21 6h1v1h-1zM9 7h1v1h-1zM0 8h1v1h-1zM2 8h1v1h-1zM4 8h1v1h-1zM13 8h1v1h-1zM14 8h1v1h-1zM13 9h1v1h-1zM19 9h1v1h-1zM22 9h1v1h-1zM25 9h1v1h-1zM26 9h1v1h-1zM29 9h1v1h-1zM1 10h1v1h-1zM4 10h1v1h-1zM6 10h1v1h-1zM10 10h1v1h-1zM16 10h1v1h-1zM19 10h1v1h-1zM23 10h1v1h-1zM0 11h1v1h-1zM3 11h1v1h-1zM7 11h1v1h-1zM11 11h1v1h-1zM15 11h1v1h-1zM16 11h1v1h-1zM29 11h1v1h-1zM0 12h1v1h-1zM1 12h1v1h-1zM2 12h1v1h-1zM6 12h1v1h-1zM8 12h1v1h-1zM14 12h1v1h-1zM15 12h1v1h-1zM7 13h1v1h-1zM13 13h1v1h-1zM22 13h1v1h-1zM25 13h1v1h-1zM28 13h1v1h-1zM5 14h1v1h-1zM13 14h1v1h-1zM14 14h1v1h-1zM16 14h1v1h-1zM21 14h1v1h-1zM22 14h1v1h-1zM27 14h1v1h-1zM1 15h1v1h-1zM2 15h1v1h-1zM13 15h1v1h-1zM15 15h1v1h-1zM18 15h1v1h-1zM22 15h1v1h-1zM25 15h1v1h-1zM1 16h1v1h-1zM2 16h1v1h-1zM5 16h1v1h-1zM7 16h1v1h-1zM9 16h1v1h-1zM18 16h1v1h-1zM10 17h1v1h-1zM14 17h1v1h-1zM19 17h1v1h-1zM22 17h1v1h-1zM26 17h1v1h-1zM27 17h1v1h-1zM4 18h1v1h-1zM14 18h1v1h-1zM18 18h1v1h-1zM20 18h1v1h-1zM22 18h1v1h-1zM29 18h1v1h-1zM0 19h1v1h-1zM1 19h1v1h-1zM2 19h1v1h-1zM3 19h1v1h-1zM5 19h1v1h-1zM10 19h1v1h-1zM12 19h1v1h-1zM28 19h1v1h-1zM29 19h1v1h-1zM2 20h1v1h-1zM4 20h1v1h-1zM7 20h1v1h-1zM15 20h1v1h-1zM17 20h1v1h-1zM20 20h1v1h-1zM22 20h1v1h-1zM24 20h1v1h-1zM29 20h1v1h-1zM1 21h1v1h-1zM3 21h1v1h-1zM4 21h1v1h-1zM5 21h1v1h-1zM13 21h1v1h-1zM14 21h1v1h-1zM18 21h1v1h-1zM19 21h1v1h-1zM20 21h1v1h-1zM23 21h1v1h-1zM26 21h1v1h-1zM28 21h1v1h-1zM1 22h1v1h-1zM4 22h1v1h-1zM6 22h1v1h-1zM10 22h1v1h-1zM11 22h1v1h-1zM17 22h1v1h-1zM19 22h1v1h-1zM21 22h1v1h-1zM22 22h1v1h-1zM24 22h1v1h-1zM26 22h1v1h-1zM5 23h1v1h-1zM12 23h1v1h-1zM27 23h1v1h-1zM28 23h1v1h-1zM3 24h1v1h-1zM5 24h1v1h-1zM9 24h1v1h-1zM10 24h1v1h-1zM13 24h1v1h-1zM19 24h1v1h-1zM23 24h1v1h-1zM27 24h1v1h-1zM5 25h1v1h-1zM7 25h1v1h-1zM8 25h1v1h-1zM10 25h1v1h-1zM11 25h1v1h-1zM14 25h1v1h-1zM17 25h1v1h-1zM19 25h1v1h-1zM27 25h1v1h-1zM1 26h1v1h-1zM2 26h1v1h-1zM9 26h1v1h-1zM12 26h1v1h-1zM16 26h1v1h-1zM18 26h1v1h-1zM19 26h1v1h-1zM23 26h1v1h-1zM24 26h1v1h-1zM25 26h1v1h-1zM28 26h1v1h-1zM1 27h1v1h-1zM8 27h1v1h-1zM10 27h1v1h-1zM19 27h1v1h-1zM21 27h1v1h-1zM22 27h1v1h-1zM26 27h1v1h-1zM27 27h1v1h-1zM28 27h1v1h-1zM5 28h1v1h-1zM7 28h1v1h-1zM12 28h1v1h-1zM16 28h1v1h-1zM17 28h1v1h-1zM24 28h1v1h-1zM25 28h1v1h-1zM26 28h1v1h-1zM0 29h1v1h-1zM6 29h1v1h-1zM8 29h1v1h-1zM9 29h1v1h-1zM11 29h1v1h-1zM14 29h1v1h-1zM27 29h1v1h-1z"/><path fill="#1c1860" d="M4 0h1v1h-1zM6 0h1v1h-1zM8 0h1v1h-1zM10 0h1v1h-1zM15 0h1v1h-1zM16 0h1v1h-1zM20 0h1v1h-1zM27 0h1v1h-1zM28 0h1v1h-1zM29 0h1v1h-1zM2 1h1v1h-1zM4 1h1v1h-1zM11 1h1v1h-1zM18 1h1v1h-1zM19 1h1v1h-1zM20 1h1v1h-1zM21 1h1v1h-1zM24 1h1v1h-1zM28 1h1v1h-1zM7 2h1v1h-1zM17 2h1v1h-1zM10 3h1v1h-1zM27 3h1v1h-1zM2 4h1v1h-1zM9 4h1v1h-1zM13 4h1v1h-1zM15 4h1v1h-1zM22 4h1v1h-1zM0 5h1v1h-1zM1 5h1v1h-1zM8 5h1v1h-1zM14 5h1v1h-1zM24 5h1v1h-1zM25 5h1v1h-1zM2 6h1v1h-1zM5 6h1v1h-1zM6 6h1v1h-1zM15 6h1v1h-1zM16 6h1v1h-1zM18 6h1v1h-1zM0 7h1v1h-1zM3 7h1v1h-1zM8 7h1v1h-1zM3 8h1v1h-1zM10 8h1v1h-1zM16 8h1v1h-1zM18 8h1v1h-1zM23 8h1v1h-1zM7 9h1v1h-1zM10 9h1v1h-1zM14 9h1v1h-1zM16 9h1v1h-1zM18 9h1v1h-1zM24 9h1v1h-1zM27 9h1v1h-1zM28 9h1v1h-1zM9 10h1v1h-1zM13 10h1v1h-1zM14 10h1v1h-1zM18 10h1v1h-1zM24 10h1v1h-1zM26 10h1v1h-1zM10 11h1v1h-1zM12 11h1v1h-1zM19 11h1v1h-1zM20 11h1v1h-1zM24 11h1v1h-1zM26 11h1v1h-1zM16 12h1v1h-1zM17 12h1v1h-1zM20 12h1v1h-1zM3 13h1v1h-1zM4 13h1v1h-1zM9 13h1v1h-1zM10 13h1v1h-1zM12 13h1v1h-1zM14 13h1v1h-1zM17 13h1v1h-1zM18 13h1v1h-1zM20 13h1v1h-1zM24 13h1v1h-1zM2 14h1v1h-1zM9 14h1v1h-1zM10 14h1v1h-1zM11 14h1v1h-1zM20 14h1v1h-1zM12 15h1v1h-1zM16 15h1v1h-1zM19 15h1v1h-1zM23 15h1v1h-1zM28 15h1v1h-1zM29 15h1v1h-1zM6 16h1v1h-1zM14 16h1v1h-1zM19 16h1v1h-1zM20 16h1v1h-1zM21 16h1v1h-1zM23 16h1v1h-1zM26 16h1v1h-1zM27 16h1v1h-1zM11 17h1v1h-1zM17 17h1v1h-1zM5 18h1v1h-1zM7 18h1v1h-1zM12 18h1v1h-1zM17 18h1v1h-1zM26 18h1v1h-1zM9 19h1v1h-1zM17 19h1v1h-1zM20 19h1v1h-1zM21 19h1v1h-1zM26 19h1v1h-1zM27 19h1v1h-1zM3 20h1v1h-1zM10 20h1v1h-1zM13 20h1v1h-1zM14 20h1v1h-1zM16 20h1v1h-1zM19 20h1v1h-1zM2 21h1v1h-1zM6 21h1v1h-1zM7 21h1v1h-1zM15 21h1v1h-1zM17 21h1v1h-1zM25 21h1v1h-1zM5 22h1v1h-1zM7 22h1v1h-1zM9 22h1v1h-1zM27 22h1v1h-1zM2 23h1v1h-1zM6 23h1v1h-1zM7 23h1v1h-1zM11 23h1v1h-1zM14 23h1v1h-1zM18 23h1v1h-1zM19 23h1v1h-1zM21 23h1v1h-1zM25 23h1v1h-1zM0 24h1v1h-1zM8 24h1v1h-1zM14 24h1v1h-1zM18 24h1v1h-1zM24 24h1v1h-1zM25 24h1v1h-1zM0 25h1v1h-1zM3 25h1v1h-1zM9 25h1v1h-1zM29 25h1v1h-1zM3 26h1v1h-1zM11 26h1v1h-1zM20 26h1v1h-1zM22 26h1v1h-1zM26 26h1v1h-1zM29 26h1v1h-1zM0 27h1v1h-1zM5 27h1v1h-1zM7 27h1v1h-1zM9 27h1v1h-1zM12 27h1v1h-1zM13 27h1v1h-1zM14 27h1v1h-1zM17 27h1v1h-1zM6 28h1v1h-1zM11 28h1v1h-1zM13 28h1v1h-1zM14 28h1v1h-1zM15 28h1v1h-1zM18 28h1v1h-1zM21 28h1v1h-1zM22 28h1v1h-1zM27 28h1v1h-1zM29 28h1v1h-1zM1 29h1v1h-1zM7 29h1v1h-1zM10 29h1v1h-1zM15 29h1v1h-1zM16 29h1v1h-1zM26 29h1v1h-1zM28 29h1v1h-1z"/><path fill="#3a309a" d="M5 0h1v1h-1zM7 0h1v1h-1zM14 0h1v1h-1zM19 0h1v1h-1zM22 0h1v1h-1zM23 0h1v1h-1zM24 0h1v1h-1zM0 1h1v1h-1zM1 1h1v1h-1zM12 1h1v1h-1zM27 1h1v1h-1zM29 1h1v1h-1zM1 2h1v1h-1zM6 2h1v1h-1zM8 2h1v1h-1zM9 2h1v1h-1zM12 2h1v1h-1zM14 2h1v1h-1zM20 2h1v1h-1zM22 2h1v1h-1zM25 2h1v1h-1zM27 2h1v1h-1zM29 2h1v1h-1zM0 3h1v1h-1zM2 3h1v1h-1zM3 3h1v1h-1zM11 3h1v1h-1zM15 3h1v1h-1zM16 3h1v1h-1zM17 3h1v1h-1zM20 3h1v1h-1zM24 3h1v1h-1zM1 4h1v1h-1zM3 4h1v1h-1zM8 4h1v1h-1zM14 4h1v1h-1zM21 4h1v1h-1zM25 4h1v1h-1zM27 4h1v1h-1zM29 4h1v1h-1zM2 5h1v1h-1zM4 5h1v1h-1zM5 5h1v1h-1zM6 5h1v1h-1zM10 5h1v1h-1zM11 5h1v1h-1zM18 5h1v1h-1zM20 5h1v1h-1zM23 5h1v1h-1zM26 5h1v1h-1zM3 6h1v1h-1zM12 6h1v1h-1zM13 6h1v1h-1zM14 6h1v1h-1zM26 6h1v1h-1zM5 7h1v1h-1zM6 7h1v1h-1zM11 7h1v1h-1zM13 7h1v1h-1zM17 7h1v1h-1zM21 7h1v1h-1zM25 7h1v1h-1zM26 7h1v1h-1zM27 7h1v1h-1zM28 7h1v1h-1zM29 7h1v1h-1zM1 8h1v1h-1zM6 8h1v1h-1zM7 8h1v1h-1zM9 8h1v1h-1zM11 8h1v1h-1zM17 8h1v1h-1zM19 8h1v1h-1zM21 8h1v1h-1zM25 8h1v1h-1zM2 9h1v1h-1zM3 9h1v1h-1zM11 9h1v1h-1zM12 9h1v1h-1zM20 9h1v1h-1zM5 10h1v1h-1zM12 10h1v1h-1zM17 10h1v1h-1zM20 10h1v1h-1zM22 10h1v1h-1zM25 10h1v1h-1zM27 10h1v1h-1zM2 11h1v1h-1zM5 11h1v1h-1zM21 11h1v1h-1zM23 11h1v1h-1zM25 11h1v1h-1zM27 11h1v1h-1zM28 11h1v1h-1zM3 12h1v1h-1zM4 12h1v1h-1zM10 12h1v1h-1zM11 12h1v1h-1zM13 12h1v1h-1zM19 12h1v1h-1zM21 12h1v1h-1zM23 12h1v1h-1zM24 12h1v1h-1zM26 12h1v1h-1zM27 12h1v1h-1zM29 12h1v1h-1zM2 13h1v1h-1zM5 13h1v1h-1zM16 13h1v1h-1zM0 14h1v1h-1zM1 14h1v1h-1zM4 14h1v1h-1zM6 14h1v1h-1zM18 14h1v1h-1zM28 14h1v1h-1zM0 15h1v1h-1zM5 15h1v1h-1zM6 15h1v1h-1zM7 15h1v1h-1zM17 15h1v1h-1zM20 15h1v1h-1zM24 15h1v1h-1zM26 15h1v1h-1zM27 15h1v1h-1zM3 16h1v1h-1zM4 16h1v1h-1zM10 16h1v1h-1zM11 16h1v1h-1zM15 16h1v1h-1zM17 16h1v1h-1zM24 16h1v1h-1zM2 17h1v1h-1zM4 17h1v1h-1zM13 17h1v1h-1zM20 17h1v1h-1zM21 17h1v1h-1zM23 17h1v1h-1zM24 17h1v1h-1zM25 17h1v1h-1zM0 18h1v1h-1zM1 18h1v1h-1zM2 18h1v1h-1zM13 18h1v1h-1zM15 18h1v1h-1zM23 18h1v1h-1zM24 18h1v1h-1zM4 19h1v1h-1zM7 19h1v1h-1zM16 19h1v1h-1zM1 20h1v1h-1zM5 20h1v1h-1zM9 20h1v1h-1zM11 20h1v1h-1zM18 20h1v1h-1zM21 20h1v1h-1zM25 20h1v1h-1zM27 20h1v1h-1zM0 21h1v1h-1zM8 21h1v1h-1zM9 21h1v1h-1zM10 21h1v1h-1zM16 21h1v1h-1zM24 21h1v1h-1zM14 22h1v1h-1zM20 22h1v1h-1zM28 22h1v1h-1zM4 23h1v1h-1zM13 23h1v1h-1zM15 23h1v1h-1zM20 23h1v1h-1zM23 23h1v1h-1zM26 23h1v1h-1zM2 24h1v1h-1zM4 24h1v1h-1zM6 24h1v1h-1zM21 24h1v1h-1zM22 24h1v1h-1zM26 24h1v1h-1zM1 25h1v1h-1zM6 25h1v1h-1zM12 25h1v1h-1zM15 25h1v1h-1zM20 25h1v1h-1zM21 25h1v1h-1zM23 25h1v1h-1zM24 25h1v1h-1zM25 25h1v1h-1zM26 25h1v1h-1zM28 25h1v1h-1zM0 26h1v1h-1zM4 26h1v1h-1zM5 26h1v1h-1zM13 26h1v1h-1zM3 27h1v1h-1zM4 27h1v1h-1zM18 27h1v1h-1zM25 27h1v1h-1zM29 27h1v1h-1zM0 28h1v1h-1zM1 28h1v1h-1zM10 28h1v1h-1zM20 28h1v1h-1zM28 28h1v1h-1zM2 29h1v1h-1zM3 29h1v1h-1zM19 29h1v1h-1zM21 29h1v1h-1zM23 29h1v1h-1zM24 29h1v1h-1z"/><path fill="#4a3cb0" d="M9 0h1v1h-1zM13 0h1v1h-1zM18 0h1v1h-1zM25 0h1v1h-1zM14 1h1v1h-1zM15 1h1v1h-1zM16 1h1v1h-1zM17 1h1v1h-1zM23 1h1v1h-1zM2 2h1v1h-1zM3 2h1v1h-1zM13 2h1v1h-1zM19 2h1v1h-1zM1 3h1v1h-1zM4 3h1v1h-1zM5 3h1v1h-1zM7 3h1v1h-1zM8 3h1v1h-1zM9 3h1v1h-1zM21 3h1v1h-1zM22 3h1v1h-1zM26 3h1v1h-1zM5 4h1v1h-1zM11 4h1v1h-1zM16 4h1v1h-1zM24 4h1v1h-1zM26 4h1v1h-1zM28 4h1v1h-1zM7 5h1v1h-1zM12 5h1v1h-1zM16 5h1v1h-1zM17 5h1v1h-1zM0 6h1v1h-1zM1 6h1v1h-1zM7 6h1v1h-1zM9 6h1v1h-1zM22 6h1v1h-1zM24 6h1v1h-1zM25 6h1v1h-1zM27 6h1v1h-1zM29 6h1v1h-1zM1 7h1v1h-1zM4 7h1v1h-1zM10 7h1v1h-1zM12 7h1v1h-1zM15 7h1v1h-1zM19 7h1v1h-1zM20 7h1v1h-1zM23 7h1v1h-1zM24 7h1v1h-1zM8 8h1v1h-1zM20 8h1v1h-1zM22 8h1v1h-1zM26 8h1v1h-1zM27 8h1v1h-1zM29 8h1v1h-1zM5 9h1v1h-1zM6 9h1v1h-1zM8 9h1v1h-1zM9 9h1v1h-1zM0 10h1v1h-1zM3 10h1v1h-1zM15 10h1v1h-1zM1 11h1v1h-1zM6 11h1v1h-1zM13 11h1v1h-1zM14 11h1v1h-1zM18 11h1v1h-1zM22 11h1v1h-1zM12 12h1v1h-1zM22 12h1v1h-1zM1 13h1v1h-1zM11 13h1v1h-1zM19 13h1v1h-1zM21 13h1v1h-1zM23 13h1v1h-1zM26 13h1v1h-1zM3 14h1v1h-1zM17 14h1v1h-1zM23 14h1v1h-1zM24 14h1v1h-1zM25 14h1v1h-1zM26 14h1v1h-1zM8 16h1v1h-1zM12 16h1v1h-1zM22 16h1v1h-1zM28 16h1v1h-1zM0 17h1v1h-1zM5 17h1v1h-1zM6 17h1v1h-1zM7 17h1v1h-1zM12 17h1v1h-1zM18 17h1v1h-1zM29 17h1v1h-1zM3 18h1v1h-1zM10 18h1v1h-1zM11 18h1v1h-1zM21 18h1v1h-1zM25 18h1v1h-1zM28 18h1v1h-1zM8 19h1v1h-1zM11 19h1v1h-1zM13 19h1v1h-1zM15 19h1v1h-1zM18 19h1v1h-1zM19 19h1v1h-1zM12 20h1v1h-1zM23 20h1v1h-1zM28 20h1v1h-1zM11 21h1v1h-1zM12 21h1v1h-1zM22 21h1v1h-1zM29 21h1v1h-1zM0 22h1v1h-1zM3 22h1v1h-1zM23 22h1v1h-1zM0 23h1v1h-1zM1 23h1v1h-1zM3 23h1v1h-1zM8 23h1v1h-1zM10 23h1v1h-1zM24 23h1v1h-1zM29 23h1v1h-1zM7 24h1v1h-1zM11 24h1v1h-1zM12 24h1v1h-1zM15 24h1v1h-1zM20 24h1v1h-1zM29 24h1v1h-1zM4 25h1v1h-1zM16 25h1v1h-1zM18 25h1v1h-1zM8 26h1v1h-1zM15 26h1v1h-1zM6 27h1v1h-1zM23 27h1v1h-1zM8 28h1v1h-1zM9 28h1v1h-1zM4 29h1v1h-1zM18 29h1v1h-1z"/><path fill="#8070d8" d="M4 2h1v1h-1zM26 2h1v1h-1zM9 5h1v1h-1zM19 5h1v1h-1zM7 7h1v1h-1zM4 9h1v1h-1zM17 9h1v1h-1zM9 11h1v1h-1zM7 12h1v1h-1zM18 12h1v1h-1zM6 13h1v1h-1zM8 14h1v1h-1zM16 16h1v1h-1zM16 17h1v1h-1zM23 19h1v1h-1zM26 20h1v1h-1zM2 22h1v1h-1zM25 22h1v1h-1zM9 23h1v1h-1zM16 23h1v1h-1zM17 23h1v1h-1zM16 24h1v1h-1zM28 24h1v1h-1zM13 25h1v1h-1zM22 25h1v1h-1zM7 26h1v1h-1zM17 26h1v1h-1zM21 26h1v1h-1zM15 27h1v1h-1zM20 27h1v1h-1zM24 27h1v1h-1zM3 28h1v1h-1zM4 28h1v1h-1zM17 29h1v1h-1zM29 29h1v1h-1z"/></pattern><pattern id="nLav" x="0" y="0" width="30" height="30" patternUnits="userSpaceOnUse"><path fill="#c0b8f0" d="M0 0h1v1h-1zM4 0h1v1h-1zM5 0h1v1h-1zM8 0h1v1h-1zM15 0h1v1h-1zM24 0h1v1h-1zM0 1h1v1h-1zM3 1h1v1h-1zM5 1h1v1h-1zM7 1h1v1h-1zM8 1h1v1h-1zM12 1h1v1h-1zM13 1h1v1h-1zM19 1h1v1h-1zM21 1h1v1h-1zM26 1h1v1h-1zM27 1h1v1h-1zM29 1h1v1h-1zM10 2h1v1h-1zM12 2h1v1h-1zM13 2h1v1h-1zM15 2h1v1h-1zM20 2h1v1h-1zM21 2h1v1h-1zM23 2h1v1h-1zM26 2h1v1h-1zM3 3h1v1h-1zM4 3h1v1h-1zM7 3h1v1h-1zM16 3h1v1h-1zM21 3h1v1h-1zM23 3h1v1h-1zM26 3h1v1h-1zM27 3h1v1h-1zM28 3h1v1h-1zM19 4h1v1h-1zM28 4h1v1h-1zM2 5h1v1h-1zM9 5h1v1h-1zM17 5h1v1h-1zM18 5h1v1h-1zM21 5h1v1h-1zM25 5h1v1h-1zM26 5h1v1h-1zM27 5h1v1h-1zM1 6h1v1h-1zM2 6h1v1h-1zM14 6h1v1h-1zM17 6h1v1h-1zM25 6h1v1h-1zM0 7h1v1h-1zM3 7h1v1h-1zM4 7h1v1h-1zM11 7h1v1h-1zM16 7h1v1h-1zM22 7h1v1h-1zM24 7h1v1h-1zM26 7h1v1h-1zM27 7h1v1h-1zM29 7h1v1h-1zM3 8h1v1h-1zM6 8h1v1h-1zM8 8h1v1h-1zM17 8h1v1h-1zM11 9h1v1h-1zM13 9h1v1h-1zM16 9h1v1h-1zM22 9h1v1h-1zM0 10h1v1h-1zM2 10h1v1h-1zM4 10h1v1h-1zM9 10h1v1h-1zM13 10h1v1h-1zM19 10h1v1h-1zM25 10h1v1h-1zM27 10h1v1h-1zM29 10h1v1h-1zM2 11h1v1h-1zM7 11h1v1h-1zM17 11h1v1h-1zM25 11h1v1h-1zM26 11h1v1h-1zM4 12h1v1h-1zM5 12h1v1h-1zM9 12h1v1h-1zM16 12h1v1h-1zM19 12h1v1h-1zM24 12h1v1h-1zM29 12h1v1h-1zM0 13h1v1h-1zM1 13h1v1h-1zM3 13h1v1h-1zM18 13h1v1h-1zM23 13h1v1h-1zM24 13h1v1h-1zM27 13h1v1h-1zM2 14h1v1h-1zM3 14h1v1h-1zM10 14h1v1h-1zM21 14h1v1h-1zM8 15h1v1h-1zM11 15h1v1h-1zM12 15h1v1h-1zM16 15h1v1h-1zM17 15h1v1h-1zM26 15h1v1h-1zM5 16h1v1h-1zM14 16h1v1h-1zM11 17h1v1h-1zM16 17h1v1h-1zM17 17h1v1h-1zM2 18h1v1h-1zM4 18h1v1h-1zM5 18h1v1h-1zM9 18h1v1h-1zM11 18h1v1h-1zM24 18h1v1h-1zM26 18h1v1h-1zM28 18h1v1h-1zM5 19h1v1h-1zM7 19h1v1h-1zM11 19h1v1h-1zM13 19h1v1h-1zM17 19h1v1h-1zM26 19h1v1h-1zM1 20h1v1h-1zM7 20h1v1h-1zM10 20h1v1h-1zM12 20h1v1h-1zM13 20h1v1h-1zM16 20h1v1h-1zM19 20h1v1h-1zM20 20h1v1h-1zM25 20h1v1h-1zM3 21h1v1h-1zM7 21h1v1h-1zM9 21h1v1h-1zM11 21h1v1h-1zM15 21h1v1h-1zM18 21h1v1h-1zM20 21h1v1h-1zM23 21h1v1h-1zM25 21h1v1h-1zM29 21h1v1h-1zM4 22h1v1h-1zM6 22h1v1h-1zM9 22h1v1h-1zM21 22h1v1h-1zM2 23h1v1h-1zM10 23h1v1h-1zM14 23h1v1h-1zM15 23h1v1h-1zM17 23h1v1h-1zM2 24h1v1h-1zM11 24h1v1h-1zM17 24h1v1h-1zM20 24h1v1h-1zM23 24h1v1h-1zM0 25h1v1h-1zM10 25h1v1h-1zM12 25h1v1h-1zM13 25h1v1h-1zM14 25h1v1h-1zM16 25h1v1h-1zM22 25h1v1h-1zM23 25h1v1h-1zM25 25h1v1h-1zM27 25h1v1h-1zM28 25h1v1h-1zM15 26h1v1h-1zM20 26h1v1h-1zM21 26h1v1h-1zM23 26h1v1h-1zM25 26h1v1h-1zM27 26h1v1h-1zM6 27h1v1h-1zM7 27h1v1h-1zM16 27h1v1h-1zM17 27h1v1h-1zM26 27h1v1h-1zM29 27h1v1h-1zM1 28h1v1h-1zM5 28h1v1h-1zM8 28h1v1h-1zM9 28h1v1h-1zM14 28h1v1h-1zM20 28h1v1h-1zM22 28h1v1h-1zM23 28h1v1h-1zM26 28h1v1h-1zM29 28h1v1h-1zM5 29h1v1h-1zM6 29h1v1h-1zM9 29h1v1h-1zM10 29h1v1h-1zM12 29h1v1h-1zM15 29h1v1h-1zM19 29h1v1h-1zM23 29h1v1h-1zM24 29h1v1h-1z"/><path fill="#a098e0" d="M1 0h1v1h-1zM23 0h1v1h-1zM25 0h1v1h-1zM1 1h1v1h-1zM6 1h1v1h-1zM20 1h1v1h-1zM23 1h1v1h-1zM28 1h1v1h-1zM6 2h1v1h-1zM8 2h1v1h-1zM9 2h1v1h-1zM17 2h1v1h-1zM19 2h1v1h-1zM22 2h1v1h-1zM24 2h1v1h-1zM28 2h1v1h-1zM29 2h1v1h-1zM15 3h1v1h-1zM18 3h1v1h-1zM22 3h1v1h-1zM2 4h1v1h-1zM5 4h1v1h-1zM17 4h1v1h-1zM25 4h1v1h-1zM6 5h1v1h-1zM11 5h1v1h-1zM13 5h1v1h-1zM14 5h1v1h-1zM19 5h1v1h-1zM0 6h1v1h-1zM4 6h1v1h-1zM5 6h1v1h-1zM20 6h1v1h-1zM21 6h1v1h-1zM23 6h1v1h-1zM27 6h1v1h-1zM1 7h1v1h-1zM5 7h1v1h-1zM9 7h1v1h-1zM17 7h1v1h-1zM19 7h1v1h-1zM21 7h1v1h-1zM2 8h1v1h-1zM4 8h1v1h-1zM5 8h1v1h-1zM23 8h1v1h-1zM25 8h1v1h-1zM28 8h1v1h-1zM1 9h1v1h-1zM9 9h1v1h-1zM10 9h1v1h-1zM12 9h1v1h-1zM15 9h1v1h-1zM17 9h1v1h-1zM26 9h1v1h-1zM28 9h1v1h-1zM3 10h1v1h-1zM6 10h1v1h-1zM15 10h1v1h-1zM26 10h1v1h-1zM6 11h1v1h-1zM21 11h1v1h-1zM24 11h1v1h-1zM3 12h1v1h-1zM13 12h1v1h-1zM15 12h1v1h-1zM22 12h1v1h-1zM23 12h1v1h-1zM26 12h1v1h-1zM4 13h1v1h-1zM5 13h1v1h-1zM8 13h1v1h-1zM10 13h1v1h-1zM13 13h1v1h-1zM16 13h1v1h-1zM19 13h1v1h-1zM29 13h1v1h-1zM0 14h1v1h-1zM16 14h1v1h-1zM19 15h1v1h-1zM23 15h1v1h-1zM24 15h1v1h-1zM25 15h1v1h-1zM28 15h1v1h-1zM12 16h1v1h-1zM15 16h1v1h-1zM28 16h1v1h-1zM29 16h1v1h-1zM6 17h1v1h-1zM13 17h1v1h-1zM14 17h1v1h-1zM15 17h1v1h-1zM24 17h1v1h-1zM25 17h1v1h-1zM3 18h1v1h-1zM10 18h1v1h-1zM13 18h1v1h-1zM19 18h1v1h-1zM22 18h1v1h-1zM25 18h1v1h-1zM1 19h1v1h-1zM6 19h1v1h-1zM25 19h1v1h-1zM5 20h1v1h-1zM28 20h1v1h-1zM29 20h1v1h-1zM6 21h1v1h-1zM8 21h1v1h-1zM10 21h1v1h-1zM16 21h1v1h-1zM24 21h1v1h-1zM0 22h1v1h-1zM2 22h1v1h-1zM7 22h1v1h-1zM13 22h1v1h-1zM18 22h1v1h-1zM20 22h1v1h-1zM23 22h1v1h-1zM25 22h1v1h-1zM29 22h1v1h-1zM7 23h1v1h-1zM8 23h1v1h-1zM9 23h1v1h-1zM16 23h1v1h-1zM18 23h1v1h-1zM27 23h1v1h-1zM7 24h1v1h-1zM24 24h1v1h-1zM25 24h1v1h-1zM26 24h1v1h-1zM3 25h1v1h-1zM7 25h1v1h-1zM17 25h1v1h-1zM8 26h1v1h-1zM11 26h1v1h-1zM12 26h1v1h-1zM22 26h1v1h-1zM0 27h1v1h-1zM4 27h1v1h-1zM10 27h1v1h-1zM11 27h1v1h-1zM12 27h1v1h-1zM14 27h1v1h-1zM15 27h1v1h-1zM20 27h1v1h-1zM24 27h1v1h-1zM13 28h1v1h-1zM15 28h1v1h-1zM0 29h1v1h-1zM1 29h1v1h-1zM2 29h1v1h-1zM3 29h1v1h-1zM11 29h1v1h-1zM13 29h1v1h-1zM18 29h1v1h-1zM21 29h1v1h-1zM27 29h1v1h-1zM29 29h1v1h-1z"/><path fill="#ffffff" d="M2 0h1v1h-1zM3 0h1v1h-1zM7 0h1v1h-1zM11 0h1v1h-1zM22 1h1v1h-1zM24 1h1v1h-1zM4 2h1v1h-1zM18 2h1v1h-1zM10 3h1v1h-1zM14 3h1v1h-1zM29 3h1v1h-1zM0 4h1v1h-1zM1 4h1v1h-1zM3 4h1v1h-1zM6 4h1v1h-1zM7 4h1v1h-1zM12 4h1v1h-1zM3 5h1v1h-1zM8 5h1v1h-1zM23 5h1v1h-1zM6 6h1v1h-1zM7 6h1v1h-1zM11 6h1v1h-1zM22 6h1v1h-1zM2 7h1v1h-1zM12 7h1v1h-1zM15 7h1v1h-1zM20 7h1v1h-1zM10 8h1v1h-1zM11 8h1v1h-1zM13 8h1v1h-1zM19 8h1v1h-1zM21 8h1v1h-1zM22 8h1v1h-1zM24 8h1v1h-1zM29 8h1v1h-1zM4 9h1v1h-1zM5 9h1v1h-1zM8 9h1v1h-1zM18 9h1v1h-1zM21 9h1v1h-1zM29 9h1v1h-1zM10 10h1v1h-1zM18 10h1v1h-1zM24 10h1v1h-1zM4 11h1v1h-1zM10 11h1v1h-1zM13 11h1v1h-1zM22 11h1v1h-1zM7 12h1v1h-1zM11 12h1v1h-1zM2 13h1v1h-1zM6 13h1v1h-1zM9 13h1v1h-1zM15 13h1v1h-1zM25 13h1v1h-1zM28 13h1v1h-1zM9 14h1v1h-1zM12 14h1v1h-1zM13 14h1v1h-1zM14 14h1v1h-1zM15 14h1v1h-1zM13 15h1v1h-1zM15 15h1v1h-1zM20 15h1v1h-1zM22 15h1v1h-1zM29 15h1v1h-1zM2 16h1v1h-1zM11 16h1v1h-1zM13 16h1v1h-1zM18 16h1v1h-1zM21 16h1v1h-1zM25 16h1v1h-1zM2 17h1v1h-1zM4 17h1v1h-1zM12 17h1v1h-1zM18 17h1v1h-1zM19 17h1v1h-1zM6 18h1v1h-1zM7 18h1v1h-1zM20 18h1v1h-1zM23 18h1v1h-1zM0 19h1v1h-1zM4 19h1v1h-1zM18 19h1v1h-1zM3 20h1v1h-1zM8 20h1v1h-1zM2 21h1v1h-1zM17 21h1v1h-1zM21 21h1v1h-1zM22 21h1v1h-1zM27 21h1v1h-1zM1 22h1v1h-1zM3 22h1v1h-1zM14 22h1v1h-1zM15 22h1v1h-1zM16 22h1v1h-1zM17 22h1v1h-1zM26 22h1v1h-1zM27 22h1v1h-1zM1 23h1v1h-1zM4 23h1v1h-1zM25 23h1v1h-1zM29 23h1v1h-1zM4 24h1v1h-1zM5 24h1v1h-1zM14 24h1v1h-1zM1 25h1v1h-1zM4 25h1v1h-1zM11 25h1v1h-1zM29 25h1v1h-1zM1 26h1v1h-1zM10 26h1v1h-1zM13 26h1v1h-1zM16 26h1v1h-1zM19 27h1v1h-1zM22 27h1v1h-1zM2 28h1v1h-1zM19 28h1v1h-1zM7 29h1v1h-1zM28 29h1v1h-1z"/><path fill="#e0d8ff" d="M6 0h1v1h-1zM10 0h1v1h-1zM12 0h1v1h-1zM16 0h1v1h-1zM17 0h1v1h-1zM18 0h1v1h-1zM21 0h1v1h-1zM22 0h1v1h-1zM28 0h1v1h-1zM2 1h1v1h-1zM4 1h1v1h-1zM9 1h1v1h-1zM10 1h1v1h-1zM14 1h1v1h-1zM16 1h1v1h-1zM18 1h1v1h-1zM25 1h1v1h-1zM0 2h1v1h-1zM1 2h1v1h-1zM2 2h1v1h-1zM3 2h1v1h-1zM7 2h1v1h-1zM14 2h1v1h-1zM25 2h1v1h-1zM27 2h1v1h-1zM6 3h1v1h-1zM8 3h1v1h-1zM12 3h1v1h-1zM4 4h1v1h-1zM9 4h1v1h-1zM14 4h1v1h-1zM15 4h1v1h-1zM16 4h1v1h-1zM22 4h1v1h-1zM23 4h1v1h-1zM29 4h1v1h-1zM4 5h1v1h-1zM10 5h1v1h-1zM15 5h1v1h-1zM16 5h1v1h-1zM22 5h1v1h-1zM28 5h1v1h-1zM29 5h1v1h-1zM10 6h1v1h-1zM12 6h1v1h-1zM13 6h1v1h-1zM15 6h1v1h-1zM16 6h1v1h-1zM24 6h1v1h-1zM26 6h1v1h-1zM29 6h1v1h-1zM7 7h1v1h-1zM13 7h1v1h-1zM14 7h1v1h-1zM25 7h1v1h-1zM28 7h1v1h-1zM0 8h1v1h-1zM12 8h1v1h-1zM16 8h1v1h-1zM18 8h1v1h-1zM27 8h1v1h-1zM0 9h1v1h-1zM3 9h1v1h-1zM23 9h1v1h-1zM24 9h1v1h-1zM25 9h1v1h-1zM27 9h1v1h-1zM5 10h1v1h-1zM7 10h1v1h-1zM8 10h1v1h-1zM12 10h1v1h-1zM22 10h1v1h-1zM0 11h1v1h-1zM3 11h1v1h-1zM5 11h1v1h-1zM8 11h1v1h-1zM11 11h1v1h-1zM16 11h1v1h-1zM18 11h1v1h-1zM28 11h1v1h-1zM29 11h1v1h-1zM1 12h1v1h-1zM2 12h1v1h-1zM6 12h1v1h-1zM8 12h1v1h-1zM10 12h1v1h-1zM12 12h1v1h-1zM14 12h1v1h-1zM18 12h1v1h-1zM21 12h1v1h-1zM25 12h1v1h-1zM27 12h1v1h-1zM28 12h1v1h-1zM11 13h1v1h-1zM14 13h1v1h-1zM1 14h1v1h-1zM5 14h1v1h-1zM6 14h1v1h-1zM7 14h1v1h-1zM11 14h1v1h-1zM17 14h1v1h-1zM20 14h1v1h-1zM26 14h1v1h-1zM29 14h1v1h-1zM4 15h1v1h-1zM5 15h1v1h-1zM7 15h1v1h-1zM18 15h1v1h-1zM21 15h1v1h-1zM27 15h1v1h-1zM3 16h1v1h-1zM8 16h1v1h-1zM9 16h1v1h-1zM10 16h1v1h-1zM16 16h1v1h-1zM17 16h1v1h-1zM19 16h1v1h-1zM20 16h1v1h-1zM26 16h1v1h-1zM27 16h1v1h-1zM1 17h1v1h-1zM3 17h1v1h-1zM5 17h1v1h-1zM23 17h1v1h-1zM28 17h1v1h-1zM29 17h1v1h-1zM16 18h1v1h-1zM18 18h1v1h-1zM21 18h1v1h-1zM27 18h1v1h-1zM8 19h1v1h-1zM10 19h1v1h-1zM15 19h1v1h-1zM16 19h1v1h-1zM22 19h1v1h-1zM24 19h1v1h-1zM27 19h1v1h-1zM28 19h1v1h-1zM4 20h1v1h-1zM6 20h1v1h-1zM9 20h1v1h-1zM11 20h1v1h-1zM14 20h1v1h-1zM15 20h1v1h-1zM17 20h1v1h-1zM21 20h1v1h-1zM23 20h1v1h-1zM24 20h1v1h-1zM0 21h1v1h-1zM5 21h1v1h-1zM12 21h1v1h-1zM13 21h1v1h-1zM19 21h1v1h-1zM8 22h1v1h-1zM11 22h1v1h-1zM12 22h1v1h-1zM19 22h1v1h-1zM22 22h1v1h-1zM28 22h1v1h-1zM12 23h1v1h-1zM19 23h1v1h-1zM21 23h1v1h-1zM26 23h1v1h-1zM28 23h1v1h-1zM1 24h1v1h-1zM3 24h1v1h-1zM6 24h1v1h-1zM9 24h1v1h-1zM12 24h1v1h-1zM13 24h1v1h-1zM15 24h1v1h-1zM18 24h1v1h-1zM21 24h1v1h-1zM22 24h1v1h-1zM27 24h1v1h-1zM28 24h1v1h-1zM5 25h1v1h-1zM6 25h1v1h-1zM18 25h1v1h-1zM20 25h1v1h-1zM24 25h1v1h-1zM0 26h1v1h-1zM4 26h1v1h-1zM9 26h1v1h-1zM14 26h1v1h-1zM24 26h1v1h-1zM3 27h1v1h-1zM8 27h1v1h-1zM21 27h1v1h-1zM23 27h1v1h-1zM25 27h1v1h-1zM27 27h1v1h-1zM28 27h1v1h-1zM0 28h1v1h-1zM3 28h1v1h-1zM6 28h1v1h-1zM10 28h1v1h-1zM11 28h1v1h-1zM16 28h1v1h-1zM17 28h1v1h-1zM28 28h1v1h-1zM20 29h1v1h-1zM26 29h1v1h-1z"/><path fill="#8078d0" d="M9 0h1v1h-1zM14 0h1v1h-1zM20 0h1v1h-1zM26 0h1v1h-1zM27 0h1v1h-1zM17 1h1v1h-1zM11 2h1v1h-1zM9 3h1v1h-1zM13 3h1v1h-1zM17 3h1v1h-1zM8 4h1v1h-1zM13 4h1v1h-1zM21 4h1v1h-1zM26 4h1v1h-1zM3 6h1v1h-1zM18 6h1v1h-1zM19 6h1v1h-1zM7 8h1v1h-1zM15 8h1v1h-1zM26 8h1v1h-1zM14 9h1v1h-1zM19 9h1v1h-1zM20 9h1v1h-1zM16 10h1v1h-1zM28 10h1v1h-1zM14 11h1v1h-1zM15 11h1v1h-1zM19 11h1v1h-1zM12 13h1v1h-1zM22 13h1v1h-1zM8 14h1v1h-1zM18 14h1v1h-1zM24 14h1v1h-1zM25 14h1v1h-1zM28 14h1v1h-1zM1 15h1v1h-1zM6 15h1v1h-1zM9 15h1v1h-1zM10 15h1v1h-1zM0 17h1v1h-1zM7 17h1v1h-1zM9 17h1v1h-1zM10 17h1v1h-1zM22 17h1v1h-1zM26 17h1v1h-1zM17 18h1v1h-1zM2 19h1v1h-1zM3 19h1v1h-1zM19 19h1v1h-1zM21 19h1v1h-1zM22 20h1v1h-1zM4 21h1v1h-1zM14 21h1v1h-1zM28 21h1v1h-1zM5 22h1v1h-1zM24 23h1v1h-1zM0 24h1v1h-1zM19 24h1v1h-1zM21 25h1v1h-1zM5 26h1v1h-1zM6 26h1v1h-1zM7 26h1v1h-1zM7 28h1v1h-1zM24 28h1v1h-1zM4 29h1v1h-1zM16 29h1v1h-1zM22 29h1v1h-1zM25 29h1v1h-1z"/><path fill="#d0d0ff" d="M13 0h1v1h-1zM19 0h1v1h-1zM29 0h1v1h-1zM11 1h1v1h-1zM15 1h1v1h-1zM5 2h1v1h-1zM16 2h1v1h-1zM0 3h1v1h-1zM1 3h1v1h-1zM2 3h1v1h-1zM5 3h1v1h-1zM11 3h1v1h-1zM19 3h1v1h-1zM20 3h1v1h-1zM24 3h1v1h-1zM25 3h1v1h-1zM10 4h1v1h-1zM11 4h1v1h-1zM18 4h1v1h-1zM20 4h1v1h-1zM24 4h1v1h-1zM27 4h1v1h-1zM0 5h1v1h-1zM1 5h1v1h-1zM5 5h1v1h-1zM7 5h1v1h-1zM12 5h1v1h-1zM20 5h1v1h-1zM24 5h1v1h-1zM8 6h1v1h-1zM9 6h1v1h-1zM28 6h1v1h-1zM6 7h1v1h-1zM8 7h1v1h-1zM10 7h1v1h-1zM18 7h1v1h-1zM23 7h1v1h-1zM1 8h1v1h-1zM9 8h1v1h-1zM14 8h1v1h-1zM20 8h1v1h-1zM2 9h1v1h-1zM6 9h1v1h-1zM7 9h1v1h-1zM1 10h1v1h-1zM11 10h1v1h-1zM14 10h1v1h-1zM17 10h1v1h-1zM20 10h1v1h-1zM21 10h1v1h-1zM23 10h1v1h-1zM1 11h1v1h-1zM9 11h1v1h-1zM12 11h1v1h-1zM20 11h1v1h-1zM23 11h1v1h-1zM27 11h1v1h-1zM0 12h1v1h-1zM17 12h1v1h-1zM20 12h1v1h-1zM7 13h1v1h-1zM17 13h1v1h-1zM20 13h1v1h-1zM21 13h1v1h-1zM26 13h1v1h-1zM4 14h1v1h-1zM19 14h1v1h-1zM22 14h1v1h-1zM23 14h1v1h-1zM27 14h1v1h-1zM0 15h1v1h-1zM2 15h1v1h-1zM3 15h1v1h-1zM14 15h1v1h-1zM0 16h1v1h-1zM1 16h1v1h-1zM4 16h1v1h-1zM6 16h1v1h-1zM7 16h1v1h-1zM22 16h1v1h-1zM23 16h1v1h-1zM24 16h1v1h-1zM8 17h1v1h-1zM20 17h1v1h-1zM21 17h1v1h-1zM27 17h1v1h-1zM0 18h1v1h-1zM1 18h1v1h-1zM8 18h1v1h-1zM12 18h1v1h-1zM14 18h1v1h-1zM15 18h1v1h-1zM29 18h1v1h-1zM9 19h1v1h-1zM12 19h1v1h-1zM14 19h1v1h-1zM20 19h1v1h-1zM23 19h1v1h-1zM29 19h1v1h-1zM0 20h1v1h-1zM2 20h1v1h-1zM18 20h1v1h-1zM26 20h1v1h-1zM27 20h1v1h-1zM1 21h1v1h-1zM26 21h1v1h-1zM10 22h1v1h-1zM24 22h1v1h-1zM0 23h1v1h-1zM3 23h1v1h-1zM5 23h1v1h-1zM6 23h1v1h-1zM11 23h1v1h-1zM13 23h1v1h-1zM20 23h1v1h-1zM22 23h1v1h-1zM23 23h1v1h-1zM8 24h1v1h-1zM10 24h1v1h-1zM16 24h1v1h-1zM29 24h1v1h-1zM2 25h1v1h-1zM8 25h1v1h-1zM9 25h1v1h-1zM15 25h1v1h-1zM19 25h1v1h-1zM26 25h1v1h-1zM2 26h1v1h-1zM3 26h1v1h-1zM17 26h1v1h-1zM18 26h1v1h-1zM19 26h1v1h-1zM26 26h1v1h-1zM28 26h1v1h-1zM29 26h1v1h-1zM1 27h1v1h-1zM2 27h1v1h-1zM5 27h1v1h-1zM9 27h1v1h-1zM13 27h1v1h-1zM18 27h1v1h-1zM4 28h1v1h-1zM12 28h1v1h-1zM18 28h1v1h-1zM21 28h1v1h-1zM25 28h1v1h-1zM27 28h1v1h-1zM8 29h1v1h-1zM14 29h1v1h-1zM17 29h1v1h-1z"/></pattern><pattern id="nWhiteSpeck" x="0" y="0" width="30" height="30" patternUnits="userSpaceOnUse"><path fill="#b0b8a8" d="M0 0h1v1h-1zM2 0h1v1h-1zM8 0h1v1h-1zM12 0h1v1h-1zM17 0h1v1h-1zM21 0h1v1h-1zM26 0h1v1h-1zM28 0h1v1h-1zM6 1h1v1h-1zM10 1h1v1h-1zM17 1h1v1h-1zM19 1h1v1h-1zM23 1h1v1h-1zM24 1h1v1h-1zM25 1h1v1h-1zM1 2h1v1h-1zM2 2h1v1h-1zM3 2h1v1h-1zM7 2h1v1h-1zM12 2h1v1h-1zM15 2h1v1h-1zM18 2h1v1h-1zM20 2h1v1h-1zM23 2h1v1h-1zM25 2h1v1h-1zM6 3h1v1h-1zM12 3h1v1h-1zM23 3h1v1h-1zM27 3h1v1h-1zM2 4h1v1h-1zM6 4h1v1h-1zM7 4h1v1h-1zM10 4h1v1h-1zM13 4h1v1h-1zM16 4h1v1h-1zM21 4h1v1h-1zM25 4h1v1h-1zM28 4h1v1h-1zM2 5h1v1h-1zM3 5h1v1h-1zM5 5h1v1h-1zM6 5h1v1h-1zM16 5h1v1h-1zM18 5h1v1h-1zM22 5h1v1h-1zM25 5h1v1h-1zM26 5h1v1h-1zM27 5h1v1h-1zM28 5h1v1h-1zM2 6h1v1h-1zM5 6h1v1h-1zM6 6h1v1h-1zM7 6h1v1h-1zM9 6h1v1h-1zM15 6h1v1h-1zM18 6h1v1h-1zM21 6h1v1h-1zM25 6h1v1h-1zM0 7h1v1h-1zM1 7h1v1h-1zM2 7h1v1h-1zM3 7h1v1h-1zM4 7h1v1h-1zM7 7h1v1h-1zM10 7h1v1h-1zM12 7h1v1h-1zM21 7h1v1h-1zM28 7h1v1h-1zM0 8h1v1h-1zM16 8h1v1h-1zM2 9h1v1h-1zM10 9h1v1h-1zM14 9h1v1h-1zM16 9h1v1h-1zM20 9h1v1h-1zM21 9h1v1h-1zM24 9h1v1h-1zM26 9h1v1h-1zM0 10h1v1h-1zM13 10h1v1h-1zM14 10h1v1h-1zM15 10h1v1h-1zM17 10h1v1h-1zM19 10h1v1h-1zM22 10h1v1h-1zM23 10h1v1h-1zM27 10h1v1h-1zM28 10h1v1h-1zM3 11h1v1h-1zM4 11h1v1h-1zM13 11h1v1h-1zM15 11h1v1h-1zM27 11h1v1h-1zM28 11h1v1h-1zM0 12h1v1h-1zM3 12h1v1h-1zM10 12h1v1h-1zM11 12h1v1h-1zM14 12h1v1h-1zM8 13h1v1h-1zM13 13h1v1h-1zM16 13h1v1h-1zM24 13h1v1h-1zM29 13h1v1h-1zM4 14h1v1h-1zM5 14h1v1h-1zM8 14h1v1h-1zM9 14h1v1h-1zM10 14h1v1h-1zM14 14h1v1h-1zM27 14h1v1h-1zM28 14h1v1h-1zM29 14h1v1h-1zM0 15h1v1h-1zM4 15h1v1h-1zM22 15h1v1h-1zM24 15h1v1h-1zM25 15h1v1h-1zM29 15h1v1h-1zM3 16h1v1h-1zM10 16h1v1h-1zM13 16h1v1h-1zM16 16h1v1h-1zM19 16h1v1h-1zM22 16h1v1h-1zM24 16h1v1h-1zM29 16h1v1h-1zM0 17h1v1h-1zM13 17h1v1h-1zM20 17h1v1h-1zM24 17h1v1h-1zM1 18h1v1h-1zM3 18h1v1h-1zM4 18h1v1h-1zM7 18h1v1h-1zM8 18h1v1h-1zM17 18h1v1h-1zM23 18h1v1h-1zM2 19h1v1h-1zM4 19h1v1h-1zM5 19h1v1h-1zM7 19h1v1h-1zM14 19h1v1h-1zM17 19h1v1h-1zM18 19h1v1h-1zM26 19h1v1h-1zM27 19h1v1h-1zM3 20h1v1h-1zM11 20h1v1h-1zM13 20h1v1h-1zM19 20h1v1h-1zM22 20h1v1h-1zM0 21h1v1h-1zM1 21h1v1h-1zM3 21h1v1h-1zM5 21h1v1h-1zM7 21h1v1h-1zM12 21h1v1h-1zM22 21h1v1h-1zM24 21h1v1h-1zM29 21h1v1h-1zM2 22h1v1h-1zM3 22h1v1h-1zM5 22h1v1h-1zM8 22h1v1h-1zM14 22h1v1h-1zM15 22h1v1h-1zM18 22h1v1h-1zM19 22h1v1h-1zM29 22h1v1h-1zM9 23h1v1h-1zM10 23h1v1h-1zM11 23h1v1h-1zM12 23h1v1h-1zM19 23h1v1h-1zM24 23h1v1h-1zM25 23h1v1h-1zM28 23h1v1h-1zM29 23h1v1h-1zM1 24h1v1h-1zM2 24h1v1h-1zM5 24h1v1h-1zM10 24h1v1h-1zM14 24h1v1h-1zM16 24h1v1h-1zM21 24h1v1h-1zM22 24h1v1h-1zM24 24h1v1h-1zM25 24h1v1h-1zM0 25h1v1h-1zM2 25h1v1h-1zM6 25h1v1h-1zM8 25h1v1h-1zM9 25h1v1h-1zM11 25h1v1h-1zM12 25h1v1h-1zM14 25h1v1h-1zM17 25h1v1h-1zM19 25h1v1h-1zM20 25h1v1h-1zM22 25h1v1h-1zM25 25h1v1h-1zM1 26h1v1h-1zM2 26h1v1h-1zM6 26h1v1h-1zM12 26h1v1h-1zM25 26h1v1h-1zM26 26h1v1h-1zM27 26h1v1h-1zM2 27h1v1h-1zM4 27h1v1h-1zM8 27h1v1h-1zM10 27h1v1h-1zM11 27h1v1h-1zM13 27h1v1h-1zM16 27h1v1h-1zM17 27h1v1h-1zM19 27h1v1h-1zM25 27h1v1h-1zM0 28h1v1h-1zM4 28h1v1h-1zM13 28h1v1h-1zM14 28h1v1h-1zM16 28h1v1h-1zM24 28h1v1h-1zM25 28h1v1h-1zM27 28h1v1h-1zM28 28h1v1h-1zM5 29h1v1h-1zM10 29h1v1h-1zM11 29h1v1h-1zM18 29h1v1h-1zM19 29h1v1h-1zM29 29h1v1h-1z"/><path fill="#e8e0d0" d="M1 0h1v1h-1zM10 0h1v1h-1zM16 0h1v1h-1zM29 0h1v1h-1zM2 1h1v1h-1zM3 1h1v1h-1zM5 1h1v1h-1zM8 1h1v1h-1zM15 1h1v1h-1zM26 1h1v1h-1zM29 1h1v1h-1zM4 2h1v1h-1zM10 2h1v1h-1zM22 2h1v1h-1zM5 3h1v1h-1zM7 3h1v1h-1zM28 3h1v1h-1zM8 4h1v1h-1zM14 4h1v1h-1zM18 4h1v1h-1zM22 4h1v1h-1zM26 4h1v1h-1zM4 5h1v1h-1zM7 5h1v1h-1zM12 5h1v1h-1zM0 6h1v1h-1zM4 6h1v1h-1zM10 6h1v1h-1zM22 6h1v1h-1zM24 6h1v1h-1zM8 7h1v1h-1zM9 7h1v1h-1zM24 7h1v1h-1zM26 7h1v1h-1zM29 7h1v1h-1zM6 8h1v1h-1zM10 8h1v1h-1zM13 8h1v1h-1zM15 8h1v1h-1zM17 8h1v1h-1zM21 8h1v1h-1zM22 8h1v1h-1zM23 8h1v1h-1zM0 9h1v1h-1zM16 10h1v1h-1zM21 10h1v1h-1zM29 10h1v1h-1zM11 11h1v1h-1zM12 11h1v1h-1zM14 11h1v1h-1zM17 11h1v1h-1zM21 11h1v1h-1zM23 11h1v1h-1zM8 12h1v1h-1zM13 12h1v1h-1zM23 12h1v1h-1zM28 12h1v1h-1zM1 13h1v1h-1zM4 13h1v1h-1zM5 13h1v1h-1zM15 13h1v1h-1zM17 13h1v1h-1zM21 13h1v1h-1zM26 13h1v1h-1zM27 13h1v1h-1zM7 14h1v1h-1zM12 14h1v1h-1zM16 14h1v1h-1zM17 14h1v1h-1zM18 14h1v1h-1zM22 14h1v1h-1zM24 14h1v1h-1zM25 14h1v1h-1zM3 15h1v1h-1zM10 15h1v1h-1zM23 15h1v1h-1zM26 15h1v1h-1zM2 16h1v1h-1zM6 16h1v1h-1zM8 16h1v1h-1zM9 16h1v1h-1zM14 16h1v1h-1zM15 16h1v1h-1zM21 16h1v1h-1zM27 16h1v1h-1zM1 17h1v1h-1zM7 17h1v1h-1zM17 17h1v1h-1zM18 17h1v1h-1zM25 17h1v1h-1zM29 17h1v1h-1zM15 18h1v1h-1zM22 18h1v1h-1zM26 18h1v1h-1zM27 18h1v1h-1zM28 18h1v1h-1zM1 19h1v1h-1zM11 19h1v1h-1zM21 19h1v1h-1zM29 19h1v1h-1zM2 20h1v1h-1zM4 20h1v1h-1zM20 20h1v1h-1zM24 20h1v1h-1zM29 20h1v1h-1zM8 21h1v1h-1zM11 21h1v1h-1zM18 21h1v1h-1zM19 21h1v1h-1zM25 21h1v1h-1zM24 22h1v1h-1zM26 22h1v1h-1zM28 22h1v1h-1zM3 23h1v1h-1zM4 23h1v1h-1zM7 23h1v1h-1zM13 23h1v1h-1zM15 23h1v1h-1zM4 24h1v1h-1zM7 24h1v1h-1zM9 24h1v1h-1zM12 24h1v1h-1zM28 24h1v1h-1zM1 25h1v1h-1zM4 25h1v1h-1zM21 25h1v1h-1zM23 25h1v1h-1zM27 25h1v1h-1zM28 25h1v1h-1zM4 26h1v1h-1zM10 26h1v1h-1zM22 26h1v1h-1zM0 27h1v1h-1zM7 27h1v1h-1zM15 27h1v1h-1zM20 27h1v1h-1zM21 27h1v1h-1zM23 27h1v1h-1zM10 28h1v1h-1zM17 28h1v1h-1zM20 28h1v1h-1zM26 28h1v1h-1zM2 29h1v1h-1zM20 29h1v1h-1zM23 29h1v1h-1zM24 29h1v1h-1zM26 29h1v1h-1z"/><path fill="#a0a090" d="M3 0h1v1h-1zM4 0h1v1h-1zM5 0h1v1h-1zM6 0h1v1h-1zM9 0h1v1h-1zM22 0h1v1h-1zM23 0h1v1h-1zM27 0h1v1h-1zM14 1h1v1h-1zM18 1h1v1h-1zM27 1h1v1h-1zM0 2h1v1h-1zM8 2h1v1h-1zM9 2h1v1h-1zM21 2h1v1h-1zM26 2h1v1h-1zM2 3h1v1h-1zM4 3h1v1h-1zM9 3h1v1h-1zM16 3h1v1h-1zM25 3h1v1h-1zM19 4h1v1h-1zM27 4h1v1h-1zM29 4h1v1h-1zM0 5h1v1h-1zM1 5h1v1h-1zM8 5h1v1h-1zM17 5h1v1h-1zM21 5h1v1h-1zM1 6h1v1h-1zM11 6h1v1h-1zM16 6h1v1h-1zM20 6h1v1h-1zM11 7h1v1h-1zM16 7h1v1h-1zM19 7h1v1h-1zM20 7h1v1h-1zM1 8h1v1h-1zM2 8h1v1h-1zM3 8h1v1h-1zM4 8h1v1h-1zM7 8h1v1h-1zM8 8h1v1h-1zM18 8h1v1h-1zM28 8h1v1h-1zM3 9h1v1h-1zM6 9h1v1h-1zM7 9h1v1h-1zM8 9h1v1h-1zM11 9h1v1h-1zM28 9h1v1h-1zM2 10h1v1h-1zM4 10h1v1h-1zM10 10h1v1h-1zM11 10h1v1h-1zM18 10h1v1h-1zM1 11h1v1h-1zM9 11h1v1h-1zM18 11h1v1h-1zM26 11h1v1h-1zM2 12h1v1h-1zM15 12h1v1h-1zM19 12h1v1h-1zM20 12h1v1h-1zM21 12h1v1h-1zM22 12h1v1h-1zM26 12h1v1h-1zM11 13h1v1h-1zM14 13h1v1h-1zM28 13h1v1h-1zM1 14h1v1h-1zM3 14h1v1h-1zM13 14h1v1h-1zM19 14h1v1h-1zM21 14h1v1h-1zM5 15h1v1h-1zM6 15h1v1h-1zM0 16h1v1h-1zM1 16h1v1h-1zM11 16h1v1h-1zM25 16h1v1h-1zM26 16h1v1h-1zM3 17h1v1h-1zM5 17h1v1h-1zM9 17h1v1h-1zM10 17h1v1h-1zM11 17h1v1h-1zM15 17h1v1h-1zM16 17h1v1h-1zM19 17h1v1h-1zM23 17h1v1h-1zM0 18h1v1h-1zM5 18h1v1h-1zM10 18h1v1h-1zM14 18h1v1h-1zM20 18h1v1h-1zM21 18h1v1h-1zM24 18h1v1h-1zM6 19h1v1h-1zM10 19h1v1h-1zM12 19h1v1h-1zM1 20h1v1h-1zM5 20h1v1h-1zM9 20h1v1h-1zM15 20h1v1h-1zM17 20h1v1h-1zM18 20h1v1h-1zM23 20h1v1h-1zM25 20h1v1h-1zM13 21h1v1h-1zM17 21h1v1h-1zM23 21h1v1h-1zM0 22h1v1h-1zM13 22h1v1h-1zM20 22h1v1h-1zM21 22h1v1h-1zM1 23h1v1h-1zM5 23h1v1h-1zM17 23h1v1h-1zM21 23h1v1h-1zM23 23h1v1h-1zM26 23h1v1h-1zM11 24h1v1h-1zM15 24h1v1h-1zM17 24h1v1h-1zM20 24h1v1h-1zM26 24h1v1h-1zM27 24h1v1h-1zM29 24h1v1h-1zM16 25h1v1h-1zM24 25h1v1h-1zM0 26h1v1h-1zM3 26h1v1h-1zM8 26h1v1h-1zM9 26h1v1h-1zM14 26h1v1h-1zM15 26h1v1h-1zM17 26h1v1h-1zM24 26h1v1h-1zM29 26h1v1h-1zM1 27h1v1h-1zM6 27h1v1h-1zM28 27h1v1h-1zM3 28h1v1h-1zM19 28h1v1h-1zM21 28h1v1h-1zM9 29h1v1h-1zM13 29h1v1h-1z"/><path fill="#d8d8c8" d="M7 0h1v1h-1zM13 0h1v1h-1zM14 0h1v1h-1zM15 0h1v1h-1zM18 0h1v1h-1zM20 0h1v1h-1zM24 0h1v1h-1zM1 1h1v1h-1zM7 1h1v1h-1zM9 1h1v1h-1zM12 1h1v1h-1zM13 1h1v1h-1zM22 1h1v1h-1zM28 1h1v1h-1zM5 2h1v1h-1zM6 2h1v1h-1zM11 2h1v1h-1zM13 2h1v1h-1zM17 2h1v1h-1zM19 2h1v1h-1zM24 2h1v1h-1zM27 2h1v1h-1zM0 3h1v1h-1zM1 3h1v1h-1zM3 3h1v1h-1zM8 3h1v1h-1zM11 3h1v1h-1zM14 3h1v1h-1zM15 3h1v1h-1zM19 3h1v1h-1zM20 3h1v1h-1zM21 3h1v1h-1zM22 3h1v1h-1zM26 3h1v1h-1zM29 3h1v1h-1zM0 4h1v1h-1zM1 4h1v1h-1zM3 4h1v1h-1zM20 4h1v1h-1zM23 4h1v1h-1zM9 5h1v1h-1zM10 5h1v1h-1zM11 5h1v1h-1zM13 5h1v1h-1zM15 5h1v1h-1zM19 5h1v1h-1zM20 5h1v1h-1zM24 5h1v1h-1zM29 5h1v1h-1zM8 6h1v1h-1zM12 6h1v1h-1zM13 6h1v1h-1zM19 6h1v1h-1zM23 6h1v1h-1zM26 6h1v1h-1zM27 6h1v1h-1zM6 7h1v1h-1zM13 7h1v1h-1zM15 7h1v1h-1zM18 7h1v1h-1zM23 7h1v1h-1zM5 8h1v1h-1zM9 8h1v1h-1zM11 8h1v1h-1zM14 8h1v1h-1zM24 8h1v1h-1zM25 8h1v1h-1zM29 8h1v1h-1zM1 9h1v1h-1zM5 9h1v1h-1zM9 9h1v1h-1zM12 9h1v1h-1zM13 9h1v1h-1zM15 9h1v1h-1zM17 9h1v1h-1zM18 9h1v1h-1zM19 9h1v1h-1zM22 9h1v1h-1zM23 9h1v1h-1zM25 9h1v1h-1zM27 9h1v1h-1zM29 9h1v1h-1zM1 10h1v1h-1zM5 10h1v1h-1zM6 10h1v1h-1zM7 10h1v1h-1zM9 10h1v1h-1zM24 10h1v1h-1zM26 10h1v1h-1zM0 11h1v1h-1zM2 11h1v1h-1zM5 11h1v1h-1zM7 11h1v1h-1zM16 11h1v1h-1zM22 11h1v1h-1zM24 11h1v1h-1zM1 12h1v1h-1zM4 12h1v1h-1zM6 12h1v1h-1zM7 12h1v1h-1zM9 12h1v1h-1zM18 12h1v1h-1zM24 12h1v1h-1zM27 12h1v1h-1zM29 12h1v1h-1zM0 13h1v1h-1zM2 13h1v1h-1zM3 13h1v1h-1zM7 13h1v1h-1zM9 13h1v1h-1zM12 13h1v1h-1zM18 13h1v1h-1zM19 13h1v1h-1zM20 13h1v1h-1zM22 13h1v1h-1zM25 13h1v1h-1zM6 14h1v1h-1zM11 14h1v1h-1zM15 14h1v1h-1zM26 14h1v1h-1zM1 15h1v1h-1zM2 15h1v1h-1zM9 15h1v1h-1zM12 15h1v1h-1zM13 15h1v1h-1zM14 15h1v1h-1zM15 15h1v1h-1zM18 15h1v1h-1zM19 15h1v1h-1zM20 15h1v1h-1zM28 15h1v1h-1zM4 16h1v1h-1zM5 16h1v1h-1zM18 16h1v1h-1zM23 16h1v1h-1zM6 17h1v1h-1zM8 17h1v1h-1zM12 17h1v1h-1zM14 17h1v1h-1zM21 17h1v1h-1zM26 17h1v1h-1zM27 17h1v1h-1zM28 17h1v1h-1zM2 18h1v1h-1zM6 18h1v1h-1zM11 18h1v1h-1zM12 18h1v1h-1zM13 18h1v1h-1zM16 18h1v1h-1zM19 18h1v1h-1zM3 19h1v1h-1zM8 19h1v1h-1zM9 19h1v1h-1zM13 19h1v1h-1zM15 19h1v1h-1zM16 19h1v1h-1zM20 19h1v1h-1zM22 19h1v1h-1zM24 19h1v1h-1zM28 19h1v1h-1zM0 20h1v1h-1zM6 20h1v1h-1zM12 20h1v1h-1zM16 20h1v1h-1zM27 20h1v1h-1zM28 20h1v1h-1zM2 21h1v1h-1zM6 21h1v1h-1zM9 21h1v1h-1zM10 21h1v1h-1zM14 21h1v1h-1zM15 21h1v1h-1zM20 21h1v1h-1zM21 21h1v1h-1zM26 21h1v1h-1zM28 21h1v1h-1zM6 22h1v1h-1zM7 22h1v1h-1zM9 22h1v1h-1zM10 22h1v1h-1zM17 22h1v1h-1zM27 22h1v1h-1zM2 23h1v1h-1zM6 23h1v1h-1zM8 23h1v1h-1zM14 23h1v1h-1zM16 23h1v1h-1zM18 23h1v1h-1zM20 23h1v1h-1zM27 23h1v1h-1zM0 24h1v1h-1zM3 24h1v1h-1zM6 24h1v1h-1zM8 24h1v1h-1zM13 24h1v1h-1zM23 24h1v1h-1zM3 25h1v1h-1zM10 25h1v1h-1zM13 25h1v1h-1zM18 25h1v1h-1zM26 25h1v1h-1zM5 26h1v1h-1zM7 26h1v1h-1zM11 26h1v1h-1zM13 26h1v1h-1zM16 26h1v1h-1zM18 26h1v1h-1zM19 26h1v1h-1zM21 26h1v1h-1zM28 26h1v1h-1zM3 27h1v1h-1zM5 27h1v1h-1zM12 27h1v1h-1zM14 27h1v1h-1zM26 27h1v1h-1zM27 27h1v1h-1zM29 27h1v1h-1zM2 28h1v1h-1zM5 28h1v1h-1zM8 28h1v1h-1zM9 28h1v1h-1zM11 28h1v1h-1zM15 28h1v1h-1zM18 28h1v1h-1zM29 28h1v1h-1zM0 29h1v1h-1zM1 29h1v1h-1zM6 29h1v1h-1zM7 29h1v1h-1zM8 29h1v1h-1zM12 29h1v1h-1zM14 29h1v1h-1zM16 29h1v1h-1zM21 29h1v1h-1zM28 29h1v1h-1z"/><path fill="#c8b8a8" d="M11 0h1v1h-1zM19 0h1v1h-1zM25 0h1v1h-1zM0 1h1v1h-1zM4 1h1v1h-1zM11 1h1v1h-1zM16 1h1v1h-1zM20 1h1v1h-1zM21 1h1v1h-1zM14 2h1v1h-1zM16 2h1v1h-1zM28 2h1v1h-1zM29 2h1v1h-1zM10 3h1v1h-1zM13 3h1v1h-1zM17 3h1v1h-1zM18 3h1v1h-1zM24 3h1v1h-1zM4 4h1v1h-1zM5 4h1v1h-1zM9 4h1v1h-1zM11 4h1v1h-1zM12 4h1v1h-1zM15 4h1v1h-1zM17 4h1v1h-1zM24 4h1v1h-1zM14 5h1v1h-1zM23 5h1v1h-1zM3 6h1v1h-1zM14 6h1v1h-1zM17 6h1v1h-1zM28 6h1v1h-1zM29 6h1v1h-1zM5 7h1v1h-1zM14 7h1v1h-1zM17 7h1v1h-1zM22 7h1v1h-1zM25 7h1v1h-1zM27 7h1v1h-1zM12 8h1v1h-1zM19 8h1v1h-1zM20 8h1v1h-1zM26 8h1v1h-1zM27 8h1v1h-1zM4 9h1v1h-1zM3 10h1v1h-1zM8 10h1v1h-1zM12 10h1v1h-1zM20 10h1v1h-1zM25 10h1v1h-1zM6 11h1v1h-1zM8 11h1v1h-1zM10 11h1v1h-1zM19 11h1v1h-1zM20 11h1v1h-1zM25 11h1v1h-1zM29 11h1v1h-1zM5 12h1v1h-1zM12 12h1v1h-1zM16 12h1v1h-1zM17 12h1v1h-1zM25 12h1v1h-1zM6 13h1v1h-1zM10 13h1v1h-1zM23 13h1v1h-1zM0 14h1v1h-1zM2 14h1v1h-1zM20 14h1v1h-1zM23 14h1v1h-1zM7 15h1v1h-1zM8 15h1v1h-1zM11 15h1v1h-1zM16 15h1v1h-1zM17 15h1v1h-1zM21 15h1v1h-1zM27 15h1v1h-1zM7 16h1v1h-1zM12 16h1v1h-1zM17 16h1v1h-1zM20 16h1v1h-1zM28 16h1v1h-1zM2 17h1v1h-1zM4 17h1v1h-1zM22 17h1v1h-1zM9 18h1v1h-1zM18 18h1v1h-1zM25 18h1v1h-1zM29 18h1v1h-1zM0 19h1v1h-1zM19 19h1v1h-1zM23 19h1v1h-1zM25 19h1v1h-1zM7 20h1v1h-1zM8 20h1v1h-1zM10 20h1v1h-1zM14 20h1v1h-1zM21 20h1v1h-1zM26 20h1v1h-1zM4 21h1v1h-1zM16 21h1v1h-1zM27 21h1v1h-1zM1 22h1v1h-1zM4 22h1v1h-1zM11 22h1v1h-1zM12 22h1v1h-1zM16 22h1v1h-1zM22 22h1v1h-1zM23 22h1v1h-1zM25 22h1v1h-1zM0 23h1v1h-1zM22 23h1v1h-1zM18 24h1v1h-1zM19 24h1v1h-1zM5 25h1v1h-1zM7 25h1v1h-1zM15 25h1v1h-1zM29 25h1v1h-1zM20 26h1v1h-1zM23 26h1v1h-1zM9 27h1v1h-1zM18 27h1v1h-1zM22 27h1v1h-1zM24 27h1v1h-1zM1 28h1v1h-1zM6 28h1v1h-1zM7 28h1v1h-1zM12 28h1v1h-1zM22 28h1v1h-1zM23 28h1v1h-1zM3 29h1v1h-1zM4 29h1v1h-1zM15 29h1v1h-1zM17 29h1v1h-1zM22 29h1v1h-1zM25 29h1v1h-1zM27 29h1v1h-1z"/></pattern><pattern id="nRedFill" x="0" y="0" width="30" height="30" patternUnits="userSpaceOnUse"><path fill="#ff0000" d="M0 0h1v1h-1zM1 0h1v1h-1zM2 0h1v1h-1zM4 0h1v1h-1zM5 0h1v1h-1zM6 0h1v1h-1zM7 0h1v1h-1zM8 0h1v1h-1zM9 0h1v1h-1zM11 0h1v1h-1zM14 0h1v1h-1zM17 0h1v1h-1zM18 0h1v1h-1zM20 0h1v1h-1zM22 0h1v1h-1zM24 0h1v1h-1zM27 0h1v1h-1zM28 0h1v1h-1zM29 0h1v1h-1zM0 1h1v1h-1zM1 1h1v1h-1zM3 1h1v1h-1zM4 1h1v1h-1zM5 1h1v1h-1zM7 1h1v1h-1zM8 1h1v1h-1zM10 1h1v1h-1zM11 1h1v1h-1zM13 1h1v1h-1zM15 1h1v1h-1zM16 1h1v1h-1zM19 1h1v1h-1zM20 1h1v1h-1zM21 1h1v1h-1zM22 1h1v1h-1zM24 1h1v1h-1zM25 1h1v1h-1zM26 1h1v1h-1zM27 1h1v1h-1zM28 1h1v1h-1zM29 1h1v1h-1zM0 2h1v1h-1zM1 2h1v1h-1zM3 2h1v1h-1zM4 2h1v1h-1zM5 2h1v1h-1zM6 2h1v1h-1zM9 2h1v1h-1zM10 2h1v1h-1zM11 2h1v1h-1zM13 2h1v1h-1zM14 2h1v1h-1zM15 2h1v1h-1zM16 2h1v1h-1zM17 2h1v1h-1zM18 2h1v1h-1zM19 2h1v1h-1zM21 2h1v1h-1zM22 2h1v1h-1zM23 2h1v1h-1zM24 2h1v1h-1zM25 2h1v1h-1zM26 2h1v1h-1zM28 2h1v1h-1zM0 3h1v1h-1zM2 3h1v1h-1zM3 3h1v1h-1zM4 3h1v1h-1zM6 3h1v1h-1zM7 3h1v1h-1zM9 3h1v1h-1zM13 3h1v1h-1zM14 3h1v1h-1zM15 3h1v1h-1zM20 3h1v1h-1zM21 3h1v1h-1zM24 3h1v1h-1zM25 3h1v1h-1zM26 3h1v1h-1zM28 3h1v1h-1zM0 4h1v1h-1zM1 4h1v1h-1zM4 4h1v1h-1zM5 4h1v1h-1zM6 4h1v1h-1zM8 4h1v1h-1zM9 4h1v1h-1zM11 4h1v1h-1zM12 4h1v1h-1zM13 4h1v1h-1zM15 4h1v1h-1zM17 4h1v1h-1zM18 4h1v1h-1zM19 4h1v1h-1zM20 4h1v1h-1zM21 4h1v1h-1zM22 4h1v1h-1zM23 4h1v1h-1zM26 4h1v1h-1zM27 4h1v1h-1zM28 4h1v1h-1zM29 4h1v1h-1zM0 5h1v1h-1zM1 5h1v1h-1zM2 5h1v1h-1zM3 5h1v1h-1zM4 5h1v1h-1zM5 5h1v1h-1zM6 5h1v1h-1zM7 5h1v1h-1zM9 5h1v1h-1zM10 5h1v1h-1zM11 5h1v1h-1zM13 5h1v1h-1zM15 5h1v1h-1zM16 5h1v1h-1zM17 5h1v1h-1zM18 5h1v1h-1zM19 5h1v1h-1zM22 5h1v1h-1zM23 5h1v1h-1zM25 5h1v1h-1zM27 5h1v1h-1zM28 5h1v1h-1zM29 5h1v1h-1zM0 6h1v1h-1zM2 6h1v1h-1zM3 6h1v1h-1zM6 6h1v1h-1zM7 6h1v1h-1zM9 6h1v1h-1zM10 6h1v1h-1zM11 6h1v1h-1zM12 6h1v1h-1zM13 6h1v1h-1zM14 6h1v1h-1zM15 6h1v1h-1zM16 6h1v1h-1zM18 6h1v1h-1zM19 6h1v1h-1zM20 6h1v1h-1zM21 6h1v1h-1zM23 6h1v1h-1zM25 6h1v1h-1zM26 6h1v1h-1zM28 6h1v1h-1zM2 7h1v1h-1zM3 7h1v1h-1zM4 7h1v1h-1zM5 7h1v1h-1zM6 7h1v1h-1zM7 7h1v1h-1zM8 7h1v1h-1zM9 7h1v1h-1zM10 7h1v1h-1zM11 7h1v1h-1zM12 7h1v1h-1zM15 7h1v1h-1zM16 7h1v1h-1zM17 7h1v1h-1zM18 7h1v1h-1zM20 7h1v1h-1zM21 7h1v1h-1zM22 7h1v1h-1zM23 7h1v1h-1zM24 7h1v1h-1zM26 7h1v1h-1zM28 7h1v1h-1zM29 7h1v1h-1zM0 8h1v1h-1zM2 8h1v1h-1zM4 8h1v1h-1zM6 8h1v1h-1zM7 8h1v1h-1zM8 8h1v1h-1zM9 8h1v1h-1zM11 8h1v1h-1zM12 8h1v1h-1zM13 8h1v1h-1zM14 8h1v1h-1zM15 8h1v1h-1zM16 8h1v1h-1zM17 8h1v1h-1zM21 8h1v1h-1zM22 8h1v1h-1zM23 8h1v1h-1zM25 8h1v1h-1zM26 8h1v1h-1zM27 8h1v1h-1zM29 8h1v1h-1zM0 9h1v1h-1zM2 9h1v1h-1zM3 9h1v1h-1zM4 9h1v1h-1zM5 9h1v1h-1zM8 9h1v1h-1zM9 9h1v1h-1zM10 9h1v1h-1zM11 9h1v1h-1zM14 9h1v1h-1zM15 9h1v1h-1zM16 9h1v1h-1zM17 9h1v1h-1zM18 9h1v1h-1zM19 9h1v1h-1zM21 9h1v1h-1zM22 9h1v1h-1zM23 9h1v1h-1zM24 9h1v1h-1zM25 9h1v1h-1zM26 9h1v1h-1zM28 9h1v1h-1zM3 10h1v1h-1zM4 10h1v1h-1zM5 10h1v1h-1zM7 10h1v1h-1zM9 10h1v1h-1zM11 10h1v1h-1zM14 10h1v1h-1zM16 10h1v1h-1zM20 10h1v1h-1zM21 10h1v1h-1zM22 10h1v1h-1zM23 10h1v1h-1zM24 10h1v1h-1zM27 10h1v1h-1zM28 10h1v1h-1zM0 11h1v1h-1zM1 11h1v1h-1zM3 11h1v1h-1zM4 11h1v1h-1zM7 11h1v1h-1zM8 11h1v1h-1zM14 11h1v1h-1zM15 11h1v1h-1zM18 11h1v1h-1zM24 11h1v1h-1zM25 11h1v1h-1zM26 11h1v1h-1zM27 11h1v1h-1zM28 11h1v1h-1zM1 12h1v1h-1zM2 12h1v1h-1zM3 12h1v1h-1zM4 12h1v1h-1zM6 12h1v1h-1zM7 12h1v1h-1zM9 12h1v1h-1zM10 12h1v1h-1zM11 12h1v1h-1zM12 12h1v1h-1zM13 12h1v1h-1zM14 12h1v1h-1zM15 12h1v1h-1zM16 12h1v1h-1zM19 12h1v1h-1zM20 12h1v1h-1zM21 12h1v1h-1zM22 12h1v1h-1zM23 12h1v1h-1zM25 12h1v1h-1zM26 12h1v1h-1zM29 12h1v1h-1zM0 13h1v1h-1zM2 13h1v1h-1zM5 13h1v1h-1zM6 13h1v1h-1zM9 13h1v1h-1zM10 13h1v1h-1zM12 13h1v1h-1zM15 13h1v1h-1zM16 13h1v1h-1zM18 13h1v1h-1zM21 13h1v1h-1zM23 13h1v1h-1zM24 13h1v1h-1zM25 13h1v1h-1zM26 13h1v1h-1zM27 13h1v1h-1zM28 13h1v1h-1zM29 13h1v1h-1zM1 14h1v1h-1zM2 14h1v1h-1zM3 14h1v1h-1zM5 14h1v1h-1zM6 14h1v1h-1zM7 14h1v1h-1zM8 14h1v1h-1zM9 14h1v1h-1zM11 14h1v1h-1zM12 14h1v1h-1zM13 14h1v1h-1zM14 14h1v1h-1zM15 14h1v1h-1zM16 14h1v1h-1zM17 14h1v1h-1zM18 14h1v1h-1zM19 14h1v1h-1zM20 14h1v1h-1zM21 14h1v1h-1zM22 14h1v1h-1zM23 14h1v1h-1zM24 14h1v1h-1zM26 14h1v1h-1zM27 14h1v1h-1zM29 14h1v1h-1zM0 15h1v1h-1zM1 15h1v1h-1zM4 15h1v1h-1zM5 15h1v1h-1zM7 15h1v1h-1zM8 15h1v1h-1zM9 15h1v1h-1zM11 15h1v1h-1zM14 15h1v1h-1zM16 15h1v1h-1zM17 15h1v1h-1zM18 15h1v1h-1zM19 15h1v1h-1zM22 15h1v1h-1zM23 15h1v1h-1zM24 15h1v1h-1zM25 15h1v1h-1zM26 15h1v1h-1zM28 15h1v1h-1zM29 15h1v1h-1zM1 16h1v1h-1zM2 16h1v1h-1zM4 16h1v1h-1zM6 16h1v1h-1zM7 16h1v1h-1zM8 16h1v1h-1zM9 16h1v1h-1zM11 16h1v1h-1zM13 16h1v1h-1zM14 16h1v1h-1zM18 16h1v1h-1zM19 16h1v1h-1zM20 16h1v1h-1zM21 16h1v1h-1zM22 16h1v1h-1zM23 16h1v1h-1zM27 16h1v1h-1zM28 16h1v1h-1zM29 16h1v1h-1zM2 17h1v1h-1zM4 17h1v1h-1zM5 17h1v1h-1zM6 17h1v1h-1zM7 17h1v1h-1zM10 17h1v1h-1zM13 17h1v1h-1zM14 17h1v1h-1zM15 17h1v1h-1zM17 17h1v1h-1zM18 17h1v1h-1zM19 17h1v1h-1zM21 17h1v1h-1zM23 17h1v1h-1zM24 17h1v1h-1zM25 17h1v1h-1zM26 17h1v1h-1zM27 17h1v1h-1zM28 17h1v1h-1zM29 17h1v1h-1zM0 18h1v1h-1zM1 18h1v1h-1zM2 18h1v1h-1zM5 18h1v1h-1zM6 18h1v1h-1zM8 18h1v1h-1zM9 18h1v1h-1zM11 18h1v1h-1zM12 18h1v1h-1zM13 18h1v1h-1zM14 18h1v1h-1zM15 18h1v1h-1zM16 18h1v1h-1zM17 18h1v1h-1zM19 18h1v1h-1zM20 18h1v1h-1zM21 18h1v1h-1zM22 18h1v1h-1zM23 18h1v1h-1zM24 18h1v1h-1zM27 18h1v1h-1zM28 18h1v1h-1zM0 19h1v1h-1zM1 19h1v1h-1zM2 19h1v1h-1zM5 19h1v1h-1zM6 19h1v1h-1zM7 19h1v1h-1zM8 19h1v1h-1zM9 19h1v1h-1zM10 19h1v1h-1zM11 19h1v1h-1zM12 19h1v1h-1zM14 19h1v1h-1zM15 19h1v1h-1zM16 19h1v1h-1zM17 19h1v1h-1zM18 19h1v1h-1zM19 19h1v1h-1zM20 19h1v1h-1zM21 19h1v1h-1zM22 19h1v1h-1zM24 19h1v1h-1zM25 19h1v1h-1zM26 19h1v1h-1zM0 20h1v1h-1zM1 20h1v1h-1zM2 20h1v1h-1zM3 20h1v1h-1zM4 20h1v1h-1zM6 20h1v1h-1zM7 20h1v1h-1zM8 20h1v1h-1zM9 20h1v1h-1zM10 20h1v1h-1zM12 20h1v1h-1zM13 20h1v1h-1zM14 20h1v1h-1zM15 20h1v1h-1zM16 20h1v1h-1zM17 20h1v1h-1zM18 20h1v1h-1zM19 20h1v1h-1zM21 20h1v1h-1zM22 20h1v1h-1zM23 20h1v1h-1zM24 20h1v1h-1zM26 20h1v1h-1zM27 20h1v1h-1zM29 20h1v1h-1zM0 21h1v1h-1zM1 21h1v1h-1zM2 21h1v1h-1zM3 21h1v1h-1zM5 21h1v1h-1zM7 21h1v1h-1zM8 21h1v1h-1zM9 21h1v1h-1zM10 21h1v1h-1zM13 21h1v1h-1zM14 21h1v1h-1zM15 21h1v1h-1zM17 21h1v1h-1zM18 21h1v1h-1zM19 21h1v1h-1zM20 21h1v1h-1zM22 21h1v1h-1zM23 21h1v1h-1zM25 21h1v1h-1zM26 21h1v1h-1zM27 21h1v1h-1zM29 21h1v1h-1zM0 22h1v1h-1zM1 22h1v1h-1zM2 22h1v1h-1zM3 22h1v1h-1zM6 22h1v1h-1zM7 22h1v1h-1zM8 22h1v1h-1zM10 22h1v1h-1zM11 22h1v1h-1zM12 22h1v1h-1zM13 22h1v1h-1zM14 22h1v1h-1zM15 22h1v1h-1zM16 22h1v1h-1zM17 22h1v1h-1zM18 22h1v1h-1zM20 22h1v1h-1zM21 22h1v1h-1zM23 22h1v1h-1zM24 22h1v1h-1zM25 22h1v1h-1zM26 22h1v1h-1zM27 22h1v1h-1zM29 22h1v1h-1zM1 23h1v1h-1zM2 23h1v1h-1zM3 23h1v1h-1zM4 23h1v1h-1zM5 23h1v1h-1zM6 23h1v1h-1zM7 23h1v1h-1zM9 23h1v1h-1zM10 23h1v1h-1zM11 23h1v1h-1zM13 23h1v1h-1zM14 23h1v1h-1zM15 23h1v1h-1zM16 23h1v1h-1zM19 23h1v1h-1zM20 23h1v1h-1zM21 23h1v1h-1zM22 23h1v1h-1zM23 23h1v1h-1zM25 23h1v1h-1zM26 23h1v1h-1zM27 23h1v1h-1zM28 23h1v1h-1zM1 24h1v1h-1zM3 24h1v1h-1zM4 24h1v1h-1zM5 24h1v1h-1zM6 24h1v1h-1zM7 24h1v1h-1zM8 24h1v1h-1zM9 24h1v1h-1zM10 24h1v1h-1zM12 24h1v1h-1zM14 24h1v1h-1zM15 24h1v1h-1zM16 24h1v1h-1zM18 24h1v1h-1zM19 24h1v1h-1zM21 24h1v1h-1zM22 24h1v1h-1zM23 24h1v1h-1zM25 24h1v1h-1zM26 24h1v1h-1zM27 24h1v1h-1zM28 24h1v1h-1zM29 24h1v1h-1zM0 25h1v1h-1zM1 25h1v1h-1zM2 25h1v1h-1zM3 25h1v1h-1zM4 25h1v1h-1zM7 25h1v1h-1zM8 25h1v1h-1zM10 25h1v1h-1zM13 25h1v1h-1zM14 25h1v1h-1zM16 25h1v1h-1zM19 25h1v1h-1zM20 25h1v1h-1zM21 25h1v1h-1zM23 25h1v1h-1zM24 25h1v1h-1zM25 25h1v1h-1zM26 25h1v1h-1zM27 25h1v1h-1zM1 26h1v1h-1zM2 26h1v1h-1zM3 26h1v1h-1zM4 26h1v1h-1zM7 26h1v1h-1zM8 26h1v1h-1zM9 26h1v1h-1zM10 26h1v1h-1zM12 26h1v1h-1zM13 26h1v1h-1zM14 26h1v1h-1zM15 26h1v1h-1zM16 26h1v1h-1zM17 26h1v1h-1zM18 26h1v1h-1zM19 26h1v1h-1zM20 26h1v1h-1zM21 26h1v1h-1zM23 26h1v1h-1zM24 26h1v1h-1zM27 26h1v1h-1zM29 26h1v1h-1zM0 27h1v1h-1zM2 27h1v1h-1zM4 27h1v1h-1zM5 27h1v1h-1zM6 27h1v1h-1zM7 27h1v1h-1zM8 27h1v1h-1zM9 27h1v1h-1zM10 27h1v1h-1zM11 27h1v1h-1zM12 27h1v1h-1zM13 27h1v1h-1zM14 27h1v1h-1zM15 27h1v1h-1zM17 27h1v1h-1zM18 27h1v1h-1zM21 27h1v1h-1zM22 27h1v1h-1zM23 27h1v1h-1zM24 27h1v1h-1zM26 27h1v1h-1zM27 27h1v1h-1zM28 27h1v1h-1zM29 27h1v1h-1zM0 28h1v1h-1zM1 28h1v1h-1zM4 28h1v1h-1zM5 28h1v1h-1zM8 28h1v1h-1zM9 28h1v1h-1zM10 28h1v1h-1zM12 28h1v1h-1zM13 28h1v1h-1zM14 28h1v1h-1zM15 28h1v1h-1zM16 28h1v1h-1zM17 28h1v1h-1zM18 28h1v1h-1zM19 28h1v1h-1zM20 28h1v1h-1zM21 28h1v1h-1zM23 28h1v1h-1zM24 28h1v1h-1zM25 28h1v1h-1zM26 28h1v1h-1zM27 28h1v1h-1zM28 28h1v1h-1zM29 28h1v1h-1zM0 29h1v1h-1zM1 29h1v1h-1zM2 29h1v1h-1zM3 29h1v1h-1zM4 29h1v1h-1zM5 29h1v1h-1zM10 29h1v1h-1zM11 29h1v1h-1zM12 29h1v1h-1zM13 29h1v1h-1zM15 29h1v1h-1zM17 29h1v1h-1zM18 29h1v1h-1zM19 29h1v1h-1zM20 29h1v1h-1zM21 29h1v1h-1zM22 29h1v1h-1zM23 29h1v1h-1zM24 29h1v1h-1zM25 29h1v1h-1zM27 29h1v1h-1zM29 29h1v1h-1z"/><path fill="#ff2a10" d="M3 0h1v1h-1zM15 0h1v1h-1zM16 0h1v1h-1zM19 0h1v1h-1zM21 0h1v1h-1zM26 0h1v1h-1zM2 1h1v1h-1zM9 1h1v1h-1zM18 1h1v1h-1zM12 2h1v1h-1zM29 2h1v1h-1zM5 3h1v1h-1zM22 3h1v1h-1zM2 4h1v1h-1zM10 4h1v1h-1zM14 4h1v1h-1zM16 4h1v1h-1zM1 6h1v1h-1zM17 6h1v1h-1zM24 6h1v1h-1zM29 6h1v1h-1zM1 7h1v1h-1zM19 7h1v1h-1zM18 8h1v1h-1zM24 8h1v1h-1zM27 9h1v1h-1zM2 10h1v1h-1zM13 10h1v1h-1zM26 10h1v1h-1zM5 11h1v1h-1zM11 11h1v1h-1zM13 11h1v1h-1zM16 11h1v1h-1zM21 11h1v1h-1zM22 11h1v1h-1zM23 11h1v1h-1zM29 11h1v1h-1zM5 12h1v1h-1zM24 12h1v1h-1zM28 12h1v1h-1zM1 13h1v1h-1zM8 13h1v1h-1zM11 13h1v1h-1zM13 13h1v1h-1zM14 13h1v1h-1zM17 13h1v1h-1zM19 13h1v1h-1zM6 15h1v1h-1zM13 15h1v1h-1zM15 15h1v1h-1zM21 15h1v1h-1zM27 15h1v1h-1zM5 16h1v1h-1zM16 16h1v1h-1zM24 16h1v1h-1zM1 17h1v1h-1zM3 17h1v1h-1zM12 17h1v1h-1zM3 18h1v1h-1zM26 18h1v1h-1zM4 19h1v1h-1zM13 19h1v1h-1zM23 19h1v1h-1zM29 19h1v1h-1zM5 20h1v1h-1zM11 21h1v1h-1zM12 21h1v1h-1zM21 21h1v1h-1zM22 22h1v1h-1zM18 23h1v1h-1zM2 24h1v1h-1zM13 24h1v1h-1zM17 24h1v1h-1zM11 25h1v1h-1zM28 25h1v1h-1zM11 26h1v1h-1zM26 26h1v1h-1zM28 26h1v1h-1zM3 27h1v1h-1zM6 29h1v1h-1zM7 29h1v1h-1zM14 29h1v1h-1zM16 29h1v1h-1z"/><path fill="#f01010" d="M10 0h1v1h-1zM12 0h1v1h-1zM13 0h1v1h-1zM23 0h1v1h-1zM6 1h1v1h-1zM12 1h1v1h-1zM14 1h1v1h-1zM17 1h1v1h-1zM23 1h1v1h-1zM2 2h1v1h-1zM7 2h1v1h-1zM8 2h1v1h-1zM20 2h1v1h-1zM1 3h1v1h-1zM8 3h1v1h-1zM10 3h1v1h-1zM12 3h1v1h-1zM16 3h1v1h-1zM18 3h1v1h-1zM19 3h1v1h-1zM23 3h1v1h-1zM29 3h1v1h-1zM7 4h1v1h-1zM24 4h1v1h-1zM25 4h1v1h-1zM8 5h1v1h-1zM14 5h1v1h-1zM24 5h1v1h-1zM4 6h1v1h-1zM5 6h1v1h-1zM8 6h1v1h-1zM27 6h1v1h-1zM0 7h1v1h-1zM13 7h1v1h-1zM25 7h1v1h-1zM1 8h1v1h-1zM5 8h1v1h-1zM10 8h1v1h-1zM19 8h1v1h-1zM20 8h1v1h-1zM28 8h1v1h-1zM1 9h1v1h-1zM6 9h1v1h-1zM7 9h1v1h-1zM12 9h1v1h-1zM20 9h1v1h-1zM0 10h1v1h-1zM6 10h1v1h-1zM8 10h1v1h-1zM10 10h1v1h-1zM12 10h1v1h-1zM15 10h1v1h-1zM17 10h1v1h-1zM18 10h1v1h-1zM19 10h1v1h-1zM29 10h1v1h-1zM6 11h1v1h-1zM12 11h1v1h-1zM17 11h1v1h-1zM19 11h1v1h-1zM20 11h1v1h-1zM8 12h1v1h-1zM17 12h1v1h-1zM18 12h1v1h-1zM27 12h1v1h-1zM4 13h1v1h-1zM7 13h1v1h-1zM22 13h1v1h-1zM4 14h1v1h-1zM10 14h1v1h-1zM3 15h1v1h-1zM10 15h1v1h-1zM12 15h1v1h-1zM20 15h1v1h-1zM0 16h1v1h-1zM10 16h1v1h-1zM12 16h1v1h-1zM15 16h1v1h-1zM17 16h1v1h-1zM25 16h1v1h-1zM26 16h1v1h-1zM0 17h1v1h-1zM9 17h1v1h-1zM11 17h1v1h-1zM16 17h1v1h-1zM20 17h1v1h-1zM22 17h1v1h-1zM4 18h1v1h-1zM7 18h1v1h-1zM10 18h1v1h-1zM18 18h1v1h-1zM25 18h1v1h-1zM29 18h1v1h-1zM3 19h1v1h-1zM27 19h1v1h-1zM28 19h1v1h-1zM20 20h1v1h-1zM28 20h1v1h-1zM4 21h1v1h-1zM6 21h1v1h-1zM16 21h1v1h-1zM28 21h1v1h-1zM4 22h1v1h-1zM19 22h1v1h-1zM28 22h1v1h-1zM8 23h1v1h-1zM24 23h1v1h-1zM29 23h1v1h-1zM0 24h1v1h-1zM11 24h1v1h-1zM20 24h1v1h-1zM6 25h1v1h-1zM9 25h1v1h-1zM17 25h1v1h-1zM18 25h1v1h-1zM22 25h1v1h-1zM0 26h1v1h-1zM5 26h1v1h-1zM22 26h1v1h-1zM1 27h1v1h-1zM20 27h1v1h-1zM25 27h1v1h-1zM3 28h1v1h-1zM7 28h1v1h-1zM11 28h1v1h-1zM9 29h1v1h-1zM26 29h1v1h-1zM28 29h1v1h-1z"/><path fill="#d02a20" d="M25 0h1v1h-1zM27 2h1v1h-1zM27 3h1v1h-1zM12 5h1v1h-1zM20 5h1v1h-1zM22 6h1v1h-1zM13 9h1v1h-1zM25 10h1v1h-1zM2 11h1v1h-1zM9 11h1v1h-1zM0 12h1v1h-1zM20 13h1v1h-1zM25 14h1v1h-1zM28 14h1v1h-1zM3 16h1v1h-1zM8 17h1v1h-1zM24 21h1v1h-1zM5 22h1v1h-1zM9 22h1v1h-1zM17 23h1v1h-1zM24 24h1v1h-1zM12 25h1v1h-1zM15 25h1v1h-1zM6 26h1v1h-1zM25 26h1v1h-1zM16 27h1v1h-1zM19 27h1v1h-1zM22 28h1v1h-1zM8 29h1v1h-1z"/><path fill="#c86a50" d="M11 3h1v1h-1zM10 11h1v1h-1zM2 15h1v1h-1zM5 25h1v1h-1z"/><path fill="#b04a3a" d="M17 3h1v1h-1zM3 4h1v1h-1zM21 5h1v1h-1zM26 5h1v1h-1zM14 7h1v1h-1zM27 7h1v1h-1zM3 8h1v1h-1zM29 9h1v1h-1zM1 10h1v1h-1zM3 13h1v1h-1zM0 14h1v1h-1zM11 20h1v1h-1zM25 20h1v1h-1zM0 23h1v1h-1zM12 23h1v1h-1zM29 25h1v1h-1zM2 28h1v1h-1zM6 28h1v1h-1z"/></pattern><pattern id="nSpeck" x="0" y="0" width="30" height="30" patternUnits="userSpaceOnUse"><path fill="#b0b0b0" d="M0 0h1v1h-1zM10 0h1v1h-1zM26 0h1v1h-1zM29 0h1v1h-1zM8 1h1v1h-1zM11 1h1v1h-1zM12 1h1v1h-1zM25 1h1v1h-1zM26 1h1v1h-1zM29 1h1v1h-1zM12 2h1v1h-1zM15 2h1v1h-1zM19 2h1v1h-1zM23 2h1v1h-1zM24 2h1v1h-1zM25 2h1v1h-1zM29 2h1v1h-1zM17 3h1v1h-1zM18 3h1v1h-1zM23 3h1v1h-1zM1 4h1v1h-1zM4 4h1v1h-1zM10 4h1v1h-1zM14 4h1v1h-1zM15 4h1v1h-1zM22 4h1v1h-1zM23 4h1v1h-1zM25 4h1v1h-1zM15 5h1v1h-1zM6 6h1v1h-1zM9 6h1v1h-1zM10 6h1v1h-1zM12 6h1v1h-1zM13 6h1v1h-1zM14 6h1v1h-1zM18 6h1v1h-1zM19 6h1v1h-1zM21 6h1v1h-1zM27 6h1v1h-1zM29 6h1v1h-1zM0 7h1v1h-1zM1 7h1v1h-1zM6 7h1v1h-1zM9 7h1v1h-1zM11 7h1v1h-1zM16 7h1v1h-1zM22 8h1v1h-1zM24 8h1v1h-1zM26 8h1v1h-1zM3 9h1v1h-1zM8 9h1v1h-1zM14 9h1v1h-1zM15 9h1v1h-1zM20 9h1v1h-1zM23 9h1v1h-1zM24 9h1v1h-1zM0 10h1v1h-1zM3 10h1v1h-1zM4 10h1v1h-1zM5 10h1v1h-1zM15 10h1v1h-1zM18 10h1v1h-1zM22 10h1v1h-1zM23 10h1v1h-1zM9 11h1v1h-1zM10 11h1v1h-1zM16 11h1v1h-1zM0 12h1v1h-1zM5 12h1v1h-1zM10 12h1v1h-1zM16 12h1v1h-1zM17 12h1v1h-1zM28 12h1v1h-1zM5 13h1v1h-1zM7 13h1v1h-1zM14 13h1v1h-1zM27 13h1v1h-1zM29 13h1v1h-1zM4 14h1v1h-1zM6 14h1v1h-1zM14 14h1v1h-1zM18 14h1v1h-1zM26 14h1v1h-1zM0 15h1v1h-1zM4 15h1v1h-1zM19 15h1v1h-1zM29 15h1v1h-1zM6 16h1v1h-1zM12 16h1v1h-1zM15 16h1v1h-1zM28 16h1v1h-1zM4 17h1v1h-1zM5 17h1v1h-1zM12 17h1v1h-1zM15 17h1v1h-1zM0 18h1v1h-1zM2 18h1v1h-1zM5 18h1v1h-1zM16 18h1v1h-1zM25 18h1v1h-1zM3 19h1v1h-1zM9 19h1v1h-1zM10 19h1v1h-1zM12 19h1v1h-1zM16 19h1v1h-1zM0 20h1v1h-1zM1 20h1v1h-1zM3 20h1v1h-1zM4 20h1v1h-1zM7 20h1v1h-1zM15 20h1v1h-1zM19 20h1v1h-1zM24 20h1v1h-1zM25 20h1v1h-1zM2 21h1v1h-1zM9 21h1v1h-1zM17 21h1v1h-1zM20 21h1v1h-1zM25 21h1v1h-1zM0 22h1v1h-1zM5 22h1v1h-1zM13 22h1v1h-1zM14 22h1v1h-1zM25 22h1v1h-1zM26 22h1v1h-1zM17 23h1v1h-1zM23 23h1v1h-1zM28 23h1v1h-1zM29 23h1v1h-1zM4 24h1v1h-1zM11 24h1v1h-1zM13 24h1v1h-1zM16 24h1v1h-1zM17 24h1v1h-1zM19 24h1v1h-1zM22 24h1v1h-1zM23 24h1v1h-1zM27 24h1v1h-1zM0 25h1v1h-1zM2 25h1v1h-1zM5 25h1v1h-1zM7 26h1v1h-1zM14 26h1v1h-1zM16 26h1v1h-1zM18 26h1v1h-1zM20 26h1v1h-1zM1 27h1v1h-1zM4 27h1v1h-1zM13 27h1v1h-1zM15 27h1v1h-1zM26 27h1v1h-1zM28 27h1v1h-1zM0 28h1v1h-1zM7 28h1v1h-1zM13 28h1v1h-1zM15 28h1v1h-1zM1 29h1v1h-1zM7 29h1v1h-1zM8 29h1v1h-1zM10 29h1v1h-1zM13 29h1v1h-1zM14 29h1v1h-1zM21 29h1v1h-1z"/><path fill="none" d="M1 0h1v1h-1zM3 0h1v1h-1zM5 0h1v1h-1zM9 0h1v1h-1zM11 0h1v1h-1zM12 0h1v1h-1zM14 0h1v1h-1zM15 0h1v1h-1zM16 0h1v1h-1zM17 0h1v1h-1zM18 0h1v1h-1zM19 0h1v1h-1zM20 0h1v1h-1zM21 0h1v1h-1zM24 0h1v1h-1zM28 0h1v1h-1zM0 1h1v1h-1zM1 1h1v1h-1zM2 1h1v1h-1zM4 1h1v1h-1zM5 1h1v1h-1zM6 1h1v1h-1zM7 1h1v1h-1zM9 1h1v1h-1zM10 1h1v1h-1zM13 1h1v1h-1zM14 1h1v1h-1zM15 1h1v1h-1zM16 1h1v1h-1zM17 1h1v1h-1zM18 1h1v1h-1zM20 1h1v1h-1zM22 1h1v1h-1zM24 1h1v1h-1zM27 1h1v1h-1zM0 2h1v1h-1zM1 2h1v1h-1zM2 2h1v1h-1zM3 2h1v1h-1zM4 2h1v1h-1zM5 2h1v1h-1zM6 2h1v1h-1zM7 2h1v1h-1zM8 2h1v1h-1zM9 2h1v1h-1zM10 2h1v1h-1zM11 2h1v1h-1zM13 2h1v1h-1zM14 2h1v1h-1zM16 2h1v1h-1zM17 2h1v1h-1zM18 2h1v1h-1zM20 2h1v1h-1zM21 2h1v1h-1zM22 2h1v1h-1zM26 2h1v1h-1zM28 2h1v1h-1zM0 3h1v1h-1zM1 3h1v1h-1zM2 3h1v1h-1zM4 3h1v1h-1zM5 3h1v1h-1zM7 3h1v1h-1zM8 3h1v1h-1zM9 3h1v1h-1zM10 3h1v1h-1zM11 3h1v1h-1zM13 3h1v1h-1zM16 3h1v1h-1zM19 3h1v1h-1zM20 3h1v1h-1zM22 3h1v1h-1zM24 3h1v1h-1zM25 3h1v1h-1zM26 3h1v1h-1zM27 3h1v1h-1zM28 3h1v1h-1zM29 3h1v1h-1zM0 4h1v1h-1zM3 4h1v1h-1zM5 4h1v1h-1zM6 4h1v1h-1zM7 4h1v1h-1zM8 4h1v1h-1zM9 4h1v1h-1zM11 4h1v1h-1zM13 4h1v1h-1zM16 4h1v1h-1zM17 4h1v1h-1zM18 4h1v1h-1zM19 4h1v1h-1zM20 4h1v1h-1zM27 4h1v1h-1zM28 4h1v1h-1zM29 4h1v1h-1zM0 5h1v1h-1zM1 5h1v1h-1zM4 5h1v1h-1zM5 5h1v1h-1zM8 5h1v1h-1zM9 5h1v1h-1zM10 5h1v1h-1zM11 5h1v1h-1zM12 5h1v1h-1zM13 5h1v1h-1zM14 5h1v1h-1zM16 5h1v1h-1zM20 5h1v1h-1zM21 5h1v1h-1zM22 5h1v1h-1zM23 5h1v1h-1zM24 5h1v1h-1zM25 5h1v1h-1zM26 5h1v1h-1zM28 5h1v1h-1zM29 5h1v1h-1zM0 6h1v1h-1zM2 6h1v1h-1zM3 6h1v1h-1zM4 6h1v1h-1zM8 6h1v1h-1zM11 6h1v1h-1zM16 6h1v1h-1zM23 6h1v1h-1zM25 6h1v1h-1zM26 6h1v1h-1zM28 6h1v1h-1zM3 7h1v1h-1zM4 7h1v1h-1zM5 7h1v1h-1zM7 7h1v1h-1zM8 7h1v1h-1zM10 7h1v1h-1zM12 7h1v1h-1zM15 7h1v1h-1zM18 7h1v1h-1zM19 7h1v1h-1zM20 7h1v1h-1zM21 7h1v1h-1zM22 7h1v1h-1zM23 7h1v1h-1zM24 7h1v1h-1zM25 7h1v1h-1zM26 7h1v1h-1zM27 7h1v1h-1zM28 7h1v1h-1zM29 7h1v1h-1zM0 8h1v1h-1zM1 8h1v1h-1zM2 8h1v1h-1zM3 8h1v1h-1zM5 8h1v1h-1zM7 8h1v1h-1zM8 8h1v1h-1zM9 8h1v1h-1zM10 8h1v1h-1zM12 8h1v1h-1zM13 8h1v1h-1zM15 8h1v1h-1zM16 8h1v1h-1zM17 8h1v1h-1zM18 8h1v1h-1zM19 8h1v1h-1zM20 8h1v1h-1zM21 8h1v1h-1zM23 8h1v1h-1zM27 8h1v1h-1zM28 8h1v1h-1zM29 8h1v1h-1zM1 9h1v1h-1zM4 9h1v1h-1zM5 9h1v1h-1zM7 9h1v1h-1zM9 9h1v1h-1zM10 9h1v1h-1zM11 9h1v1h-1zM12 9h1v1h-1zM13 9h1v1h-1zM16 9h1v1h-1zM19 9h1v1h-1zM25 9h1v1h-1zM26 9h1v1h-1zM27 9h1v1h-1zM28 9h1v1h-1zM29 9h1v1h-1zM1 10h1v1h-1zM2 10h1v1h-1zM6 10h1v1h-1zM7 10h1v1h-1zM8 10h1v1h-1zM9 10h1v1h-1zM11 10h1v1h-1zM12 10h1v1h-1zM13 10h1v1h-1zM14 10h1v1h-1zM16 10h1v1h-1zM17 10h1v1h-1zM19 10h1v1h-1zM20 10h1v1h-1zM21 10h1v1h-1zM27 10h1v1h-1zM28 10h1v1h-1zM29 10h1v1h-1zM0 11h1v1h-1zM1 11h1v1h-1zM2 11h1v1h-1zM3 11h1v1h-1zM5 11h1v1h-1zM6 11h1v1h-1zM11 11h1v1h-1zM12 11h1v1h-1zM13 11h1v1h-1zM15 11h1v1h-1zM17 11h1v1h-1zM18 11h1v1h-1zM19 11h1v1h-1zM20 11h1v1h-1zM21 11h1v1h-1zM22 11h1v1h-1zM23 11h1v1h-1zM24 11h1v1h-1zM25 11h1v1h-1zM26 11h1v1h-1zM28 11h1v1h-1zM29 11h1v1h-1zM1 12h1v1h-1zM2 12h1v1h-1zM3 12h1v1h-1zM4 12h1v1h-1zM6 12h1v1h-1zM7 12h1v1h-1zM8 12h1v1h-1zM9 12h1v1h-1zM11 12h1v1h-1zM12 12h1v1h-1zM13 12h1v1h-1zM14 12h1v1h-1zM15 12h1v1h-1zM18 12h1v1h-1zM19 12h1v1h-1zM21 12h1v1h-1zM22 12h1v1h-1zM25 12h1v1h-1zM26 12h1v1h-1zM27 12h1v1h-1zM29 12h1v1h-1zM0 13h1v1h-1zM1 13h1v1h-1zM4 13h1v1h-1zM10 13h1v1h-1zM11 13h1v1h-1zM13 13h1v1h-1zM15 13h1v1h-1zM16 13h1v1h-1zM19 13h1v1h-1zM20 13h1v1h-1zM21 13h1v1h-1zM22 13h1v1h-1zM23 13h1v1h-1zM25 13h1v1h-1zM28 13h1v1h-1zM1 14h1v1h-1zM2 14h1v1h-1zM5 14h1v1h-1zM8 14h1v1h-1zM10 14h1v1h-1zM11 14h1v1h-1zM12 14h1v1h-1zM13 14h1v1h-1zM15 14h1v1h-1zM19 14h1v1h-1zM21 14h1v1h-1zM22 14h1v1h-1zM23 14h1v1h-1zM24 14h1v1h-1zM27 14h1v1h-1zM28 14h1v1h-1zM29 14h1v1h-1zM2 15h1v1h-1zM3 15h1v1h-1zM6 15h1v1h-1zM7 15h1v1h-1zM8 15h1v1h-1zM10 15h1v1h-1zM12 15h1v1h-1zM13 15h1v1h-1zM14 15h1v1h-1zM15 15h1v1h-1zM16 15h1v1h-1zM17 15h1v1h-1zM18 15h1v1h-1zM20 15h1v1h-1zM23 15h1v1h-1zM24 15h1v1h-1zM25 15h1v1h-1zM27 15h1v1h-1zM28 15h1v1h-1zM0 16h1v1h-1zM2 16h1v1h-1zM5 16h1v1h-1zM7 16h1v1h-1zM8 16h1v1h-1zM9 16h1v1h-1zM10 16h1v1h-1zM13 16h1v1h-1zM16 16h1v1h-1zM17 16h1v1h-1zM18 16h1v1h-1zM19 16h1v1h-1zM21 16h1v1h-1zM22 16h1v1h-1zM24 16h1v1h-1zM25 16h1v1h-1zM29 16h1v1h-1zM0 17h1v1h-1zM1 17h1v1h-1zM2 17h1v1h-1zM3 17h1v1h-1zM6 17h1v1h-1zM8 17h1v1h-1zM9 17h1v1h-1zM10 17h1v1h-1zM11 17h1v1h-1zM14 17h1v1h-1zM16 17h1v1h-1zM17 17h1v1h-1zM19 17h1v1h-1zM20 17h1v1h-1zM21 17h1v1h-1zM22 17h1v1h-1zM23 17h1v1h-1zM24 17h1v1h-1zM25 17h1v1h-1zM26 17h1v1h-1zM27 17h1v1h-1zM28 17h1v1h-1zM3 18h1v1h-1zM4 18h1v1h-1zM6 18h1v1h-1zM7 18h1v1h-1zM9 18h1v1h-1zM10 18h1v1h-1zM11 18h1v1h-1zM12 18h1v1h-1zM13 18h1v1h-1zM14 18h1v1h-1zM17 18h1v1h-1zM18 18h1v1h-1zM19 18h1v1h-1zM20 18h1v1h-1zM22 18h1v1h-1zM23 18h1v1h-1zM24 18h1v1h-1zM26 18h1v1h-1zM27 18h1v1h-1zM28 18h1v1h-1zM29 18h1v1h-1zM0 19h1v1h-1zM1 19h1v1h-1zM2 19h1v1h-1zM5 19h1v1h-1zM6 19h1v1h-1zM7 19h1v1h-1zM8 19h1v1h-1zM11 19h1v1h-1zM13 19h1v1h-1zM14 19h1v1h-1zM17 19h1v1h-1zM18 19h1v1h-1zM19 19h1v1h-1zM22 19h1v1h-1zM23 19h1v1h-1zM25 19h1v1h-1zM2 20h1v1h-1zM5 20h1v1h-1zM6 20h1v1h-1zM8 20h1v1h-1zM9 20h1v1h-1zM10 20h1v1h-1zM11 20h1v1h-1zM12 20h1v1h-1zM13 20h1v1h-1zM14 20h1v1h-1zM16 20h1v1h-1zM17 20h1v1h-1zM20 20h1v1h-1zM21 20h1v1h-1zM22 20h1v1h-1zM23 20h1v1h-1zM27 20h1v1h-1zM28 20h1v1h-1zM29 20h1v1h-1zM0 21h1v1h-1zM1 21h1v1h-1zM3 21h1v1h-1zM5 21h1v1h-1zM6 21h1v1h-1zM7 21h1v1h-1zM10 21h1v1h-1zM11 21h1v1h-1zM13 21h1v1h-1zM14 21h1v1h-1zM16 21h1v1h-1zM18 21h1v1h-1zM19 21h1v1h-1zM21 21h1v1h-1zM22 21h1v1h-1zM23 21h1v1h-1zM24 21h1v1h-1zM26 21h1v1h-1zM27 21h1v1h-1zM29 21h1v1h-1zM1 22h1v1h-1zM2 22h1v1h-1zM4 22h1v1h-1zM6 22h1v1h-1zM7 22h1v1h-1zM8 22h1v1h-1zM9 22h1v1h-1zM10 22h1v1h-1zM11 22h1v1h-1zM12 22h1v1h-1zM15 22h1v1h-1zM16 22h1v1h-1zM17 22h1v1h-1zM19 22h1v1h-1zM21 22h1v1h-1zM22 22h1v1h-1zM23 22h1v1h-1zM24 22h1v1h-1zM27 22h1v1h-1zM28 22h1v1h-1zM29 22h1v1h-1zM0 23h1v1h-1zM1 23h1v1h-1zM2 23h1v1h-1zM3 23h1v1h-1zM4 23h1v1h-1zM5 23h1v1h-1zM6 23h1v1h-1zM7 23h1v1h-1zM8 23h1v1h-1zM9 23h1v1h-1zM10 23h1v1h-1zM11 23h1v1h-1zM12 23h1v1h-1zM13 23h1v1h-1zM15 23h1v1h-1zM16 23h1v1h-1zM18 23h1v1h-1zM19 23h1v1h-1zM20 23h1v1h-1zM21 23h1v1h-1zM22 23h1v1h-1zM24 23h1v1h-1zM25 23h1v1h-1zM26 23h1v1h-1zM27 23h1v1h-1zM0 24h1v1h-1zM3 24h1v1h-1zM5 24h1v1h-1zM7 24h1v1h-1zM8 24h1v1h-1zM9 24h1v1h-1zM12 24h1v1h-1zM15 24h1v1h-1zM18 24h1v1h-1zM20 24h1v1h-1zM21 24h1v1h-1zM24 24h1v1h-1zM25 24h1v1h-1zM26 24h1v1h-1zM28 24h1v1h-1zM1 25h1v1h-1zM3 25h1v1h-1zM6 25h1v1h-1zM7 25h1v1h-1zM8 25h1v1h-1zM9 25h1v1h-1zM11 25h1v1h-1zM12 25h1v1h-1zM13 25h1v1h-1zM14 25h1v1h-1zM15 25h1v1h-1zM17 25h1v1h-1zM18 25h1v1h-1zM19 25h1v1h-1zM20 25h1v1h-1zM21 25h1v1h-1zM22 25h1v1h-1zM23 25h1v1h-1zM24 25h1v1h-1zM26 25h1v1h-1zM27 25h1v1h-1zM28 25h1v1h-1zM0 26h1v1h-1zM1 26h1v1h-1zM3 26h1v1h-1zM4 26h1v1h-1zM5 26h1v1h-1zM8 26h1v1h-1zM10 26h1v1h-1zM11 26h1v1h-1zM12 26h1v1h-1zM13 26h1v1h-1zM15 26h1v1h-1zM17 26h1v1h-1zM21 26h1v1h-1zM22 26h1v1h-1zM23 26h1v1h-1zM25 26h1v1h-1zM29 26h1v1h-1zM0 27h1v1h-1zM3 27h1v1h-1zM6 27h1v1h-1zM7 27h1v1h-1zM8 27h1v1h-1zM10 27h1v1h-1zM11 27h1v1h-1zM12 27h1v1h-1zM14 27h1v1h-1zM16 27h1v1h-1zM17 27h1v1h-1zM18 27h1v1h-1zM19 27h1v1h-1zM20 27h1v1h-1zM21 27h1v1h-1zM22 27h1v1h-1zM23 27h1v1h-1zM24 27h1v1h-1zM25 27h1v1h-1zM27 27h1v1h-1zM29 27h1v1h-1zM1 28h1v1h-1zM2 28h1v1h-1zM3 28h1v1h-1zM4 28h1v1h-1zM5 28h1v1h-1zM8 28h1v1h-1zM9 28h1v1h-1zM14 28h1v1h-1zM16 28h1v1h-1zM17 28h1v1h-1zM18 28h1v1h-1zM19 28h1v1h-1zM20 28h1v1h-1zM21 28h1v1h-1zM22 28h1v1h-1zM23 28h1v1h-1zM24 28h1v1h-1zM26 28h1v1h-1zM27 28h1v1h-1zM28 28h1v1h-1zM29 28h1v1h-1zM2 29h1v1h-1zM4 29h1v1h-1zM5 29h1v1h-1zM6 29h1v1h-1zM9 29h1v1h-1zM11 29h1v1h-1zM12 29h1v1h-1zM15 29h1v1h-1zM16 29h1v1h-1zM17 29h1v1h-1zM18 29h1v1h-1zM23 29h1v1h-1zM24 29h1v1h-1zM26 29h1v1h-1zM29 29h1v1h-1z"/><path fill="#707070" d="M2 0h1v1h-1zM6 0h1v1h-1zM23 0h1v1h-1zM27 0h1v1h-1zM19 1h1v1h-1zM28 1h1v1h-1zM3 3h1v1h-1zM6 3h1v1h-1zM12 3h1v1h-1zM17 5h1v1h-1zM27 5h1v1h-1zM1 6h1v1h-1zM15 6h1v1h-1zM24 6h1v1h-1zM11 8h1v1h-1zM0 9h1v1h-1zM6 9h1v1h-1zM22 9h1v1h-1zM10 10h1v1h-1zM25 10h1v1h-1zM26 10h1v1h-1zM4 11h1v1h-1zM24 12h1v1h-1zM12 13h1v1h-1zM17 13h1v1h-1zM24 13h1v1h-1zM26 13h1v1h-1zM16 14h1v1h-1zM17 14h1v1h-1zM20 14h1v1h-1zM1 15h1v1h-1zM9 15h1v1h-1zM11 15h1v1h-1zM1 16h1v1h-1zM4 16h1v1h-1zM23 16h1v1h-1zM21 18h1v1h-1zM4 19h1v1h-1zM26 19h1v1h-1zM27 19h1v1h-1zM28 19h1v1h-1zM29 19h1v1h-1zM18 20h1v1h-1zM26 20h1v1h-1zM4 21h1v1h-1zM8 21h1v1h-1zM12 21h1v1h-1zM28 21h1v1h-1zM1 24h1v1h-1zM2 24h1v1h-1zM10 24h1v1h-1zM29 24h1v1h-1zM16 25h1v1h-1zM25 25h1v1h-1zM2 26h1v1h-1zM6 26h1v1h-1zM26 26h1v1h-1zM28 26h1v1h-1zM2 27h1v1h-1zM5 27h1v1h-1zM6 28h1v1h-1zM12 28h1v1h-1zM25 28h1v1h-1zM0 29h1v1h-1zM3 29h1v1h-1zM19 29h1v1h-1zM20 29h1v1h-1zM25 29h1v1h-1z"/><path fill="#8a8a8a" d="M4 0h1v1h-1zM7 0h1v1h-1zM8 0h1v1h-1zM13 0h1v1h-1zM22 0h1v1h-1zM25 0h1v1h-1zM3 1h1v1h-1zM21 1h1v1h-1zM23 1h1v1h-1zM27 2h1v1h-1zM14 3h1v1h-1zM15 3h1v1h-1zM21 3h1v1h-1zM2 4h1v1h-1zM12 4h1v1h-1zM21 4h1v1h-1zM24 4h1v1h-1zM26 4h1v1h-1zM2 5h1v1h-1zM3 5h1v1h-1zM6 5h1v1h-1zM7 5h1v1h-1zM18 5h1v1h-1zM19 5h1v1h-1zM5 6h1v1h-1zM7 6h1v1h-1zM17 6h1v1h-1zM20 6h1v1h-1zM22 6h1v1h-1zM2 7h1v1h-1zM13 7h1v1h-1zM14 7h1v1h-1zM17 7h1v1h-1zM4 8h1v1h-1zM6 8h1v1h-1zM14 8h1v1h-1zM25 8h1v1h-1zM2 9h1v1h-1zM17 9h1v1h-1zM18 9h1v1h-1zM21 9h1v1h-1zM24 10h1v1h-1zM7 11h1v1h-1zM8 11h1v1h-1zM14 11h1v1h-1zM27 11h1v1h-1zM20 12h1v1h-1zM23 12h1v1h-1zM2 13h1v1h-1zM3 13h1v1h-1zM6 13h1v1h-1zM8 13h1v1h-1zM9 13h1v1h-1zM18 13h1v1h-1zM0 14h1v1h-1zM3 14h1v1h-1zM7 14h1v1h-1zM9 14h1v1h-1zM25 14h1v1h-1zM5 15h1v1h-1zM21 15h1v1h-1zM22 15h1v1h-1zM26 15h1v1h-1zM3 16h1v1h-1zM11 16h1v1h-1zM14 16h1v1h-1zM20 16h1v1h-1zM26 16h1v1h-1zM27 16h1v1h-1zM7 17h1v1h-1zM13 17h1v1h-1zM18 17h1v1h-1zM29 17h1v1h-1zM1 18h1v1h-1zM8 18h1v1h-1zM15 18h1v1h-1zM15 19h1v1h-1zM20 19h1v1h-1zM21 19h1v1h-1zM24 19h1v1h-1zM15 21h1v1h-1zM3 22h1v1h-1zM18 22h1v1h-1zM20 22h1v1h-1zM14 23h1v1h-1zM6 24h1v1h-1zM14 24h1v1h-1zM4 25h1v1h-1zM10 25h1v1h-1zM29 25h1v1h-1zM9 26h1v1h-1zM19 26h1v1h-1zM24 26h1v1h-1zM27 26h1v1h-1zM9 27h1v1h-1zM10 28h1v1h-1zM11 28h1v1h-1zM22 29h1v1h-1zM27 29h1v1h-1zM28 29h1v1h-1z"/></pattern><linearGradient id="mg" x1="0" y1="0" x2="1" y2="0"><stop offset="0" stop-color="#b0b0b0"/><stop offset="0.3" stop-color="#ececec"/><stop offset="0.6" stop-color="#f6f6f6"/><stop offset="1" stop-color="#b8b8b8"/></linearGradient><linearGradient id="strip" x1="0" y1="0" x2="0" y2="1"><stop offset="0" stop-color="#c8c8c8"/><stop offset="0.6" stop-color="#a0a0a0"/><stop offset="1" stop-color="#707070"/></linearGradient><radialGradient id="heat"><stop offset="0" stop-color="#ff0000"/><stop offset="0.15" stop-color="#ff2000"/><stop offset="0.3" stop-color="#f0e000"/><stop offset="0.42" stop-color="#20e030"/><stop offset="0.56" stop-color="#10c0f0"/><stop offset="0.75" stop-color="#2828f0"/><stop offset="1" stop-color="#5030e0" stop-opacity="0.2"/></radialGradient><radialGradient id="heatG"><stop offset="0" stop-color="#20e030"/><stop offset="0.5" stop-color="#10c0e0"/><stop offset="0.8" stop-color="#3030f0"/><stop offset="1" stop-color="#4030e0" stop-opacity="0"/></radialGradient><radialGradient id="bspot"><stop offset="0" stop-color="#5020e0"/><stop offset="0.6" stop-color="#6040e8" stop-opacity="0.85"/><stop offset="1" stop-color="#7050e0" stop-opacity="0"/></radialGradient><radialGradient id="rhalo"><stop offset="0" stop-color="#ff0000"/><stop offset="0.72" stop-color="#ff0000"/><stop offset="0.86" stop-color="#30d060"/><stop offset="1" stop-color="#3080f0" stop-opacity="0"/></radialGradient><filter id="soft" x="-5%" y="-5%" width="110%" height="110%"><feGaussianBlur stdDeviation="0.5"/></filter><path id="mouse" d="M0.0,0.0 L0.9,1.0 L1.7,2.5 L2.6,4.0 L3.2,5.5 L3.4,7.0 L3.5,10.0 L3.6,14.0 L3.6,17.0 L3.0,18.3 L1.8,19.0 L0.0,19.2 L-1.8,19.0 L-3.0,18.3 L-3.6,17.0 L-3.6,14.0 L-3.5,10.0 L-3.4,7.0 L-3.2,5.5 L-2.6,4.0 L-1.7,2.5 L-0.9,1.0 Z"/><linearGradient id="cbar" x1="0" y1="0" x2="0" y2="1"><stop offset="0" stop-color="#d8101a"/><stop offset="0.06" stop-color="#e02010"/><stop offset="0.12" stop-color="#e85010"/><stop offset="0.2" stop-color="#f0d000"/><stop offset="0.27" stop-color="#c8f000"/><stop offset="0.34" stop-color="#70e000"/><stop offset="0.45" stop-color="#10e010"/><stop offset="0.57" stop-color="#10e0a0"/><stop offset="0.68" stop-color="#10d0f0"/><stop offset="0.83" stop-color="#2040e0"/><stop offset="1" stop-color="#7a20d0"/></linearGradient></defs><rect width="398" height="440" fill="#ffffff"/><svg x="32" y="14" width="44" height="46" overflow="hidden"><g filter="url(#soft)"><rect x="-2" y="-2" width="48" height="50" fill="url(#nDark)"/><rect x="-1" y="-1" width="46" height="5" fill="url(#strip)"/><rect x="-1" y="4" width="46" height="3.4" fill="#686868" opacity="0.55"/><path d="M6.8,25.6 Q6.9,35.6 7.5,47.0" stroke="#a8a8a8" stroke-width="1.25" fill="none" opacity="0.8"/><line x1="6.8" y1="3" x2="6.8" y2="8.4" stroke="#b8b8b8" stroke-width="1.0"/><path d="M15.0,25.6 Q15.0,35.6 15.0,47.0" stroke="#a8a8a8" stroke-width="1.25" fill="none" opacity="0.8"/><line x1="15.0" y1="3" x2="15.0" y2="8.4" stroke="#b8b8b8" stroke-width="1.0"/><path d="M23.2,25.6 Q23.1,35.6 22.8,47.0" stroke="#a8a8a8" stroke-width="1.25" fill="none" opacity="0.8"/><line x1="23.2" y1="3" x2="23.2" y2="8.4" stroke="#b8b8b8" stroke-width="1.0"/><path d="M31.2,25.6 Q31.6,35.6 33.2,47.0" stroke="#a8a8a8" stroke-width="1.25" fill="none" opacity="0.8"/><line x1="31.2" y1="3" x2="31.2" y2="8.4" stroke="#b8b8b8" stroke-width="1.0"/><path d="M39.2,25.6 Q39.1,35.6 38.7,47.0" stroke="#a8a8a8" stroke-width="1.25" fill="none" opacity="0.8"/><line x1="39.2" y1="3" x2="39.2" y2="8.4" stroke="#b8b8b8" stroke-width="1.0"/><use href="#mouse" transform="translate(6.8,7.4) scale(1.06,1.011)" fill="url(#mg)" opacity="1.0"/><use href="#mouse" transform="translate(6.8,7.4) scale(1.06,1.011)" fill="url(#nSpeck)" opacity="0.35"/><use href="#mouse" transform="translate(15.0,7.4) scale(1.06,1.011)" fill="url(#mg)" opacity="1.0"/><use href="#mouse" transform="translate(15.0,7.4) scale(1.06,1.011)" fill="url(#nSpeck)" opacity="0.35"/><use href="#mouse" transform="translate(23.2,7.4) scale(1.06,1.011)" fill="url(#mg)" opacity="1.0"/><use href="#mouse" transform="translate(23.2,7.4) scale(1.06,1.011)" fill="url(#nSpeck)" opacity="0.35"/><use href="#mouse" transform="translate(31.2,7.4) scale(1.06,1.011)" fill="url(#mg)" opacity="1.0"/><use href="#mouse" transform="translate(31.2,7.4) scale(1.06,1.011)" fill="url(#nSpeck)" opacity="0.35"/><use href="#mouse" transform="translate(39.2,7.4) scale(1.06,1.011)" fill="url(#mg)" opacity="1.0"/><use href="#mouse" transform="translate(39.2,7.4) scale(1.06,1.011)" fill="url(#nSpeck)" opacity="0.35"/><ellipse cx="6.8" cy="9.0" rx="1.5" ry="1.5" fill="url(#bspot)"/><ellipse cx="15.0" cy="9.0" rx="1.5" ry="1.5" fill="url(#bspot)"/><ellipse cx="23.2" cy="9.0" rx="1.5" ry="1.5" fill="url(#bspot)"/><ellipse cx="31.2" cy="9.0" rx="1.5" ry="1.5" fill="url(#bspot)"/><ellipse cx="39.2" cy="9.0" rx="1.5" ry="1.5" fill="url(#bspot)"/><ellipse cx="6.2" cy="16" rx="1.4" ry="1.4" fill="url(#bspot)"/><ellipse cx="15.5" cy="18.5" rx="1.5" ry="1.5" fill="url(#bspot)"/><ellipse cx="23.5" cy="23.5" rx="1.3" ry="1.3" fill="url(#bspot)"/><ellipse cx="35.5" cy="23" rx="1.5" ry="1.5" fill="url(#bspot)"/><ellipse cx="7" cy="24" rx="1.2" ry="1.2" fill="url(#bspot)"/></g></svg><svg x="79" y="14" width="44" height="46" overflow="hidden"><g filter="url(#soft)"><rect x="-2" y="-2" width="48" height="50" fill="url(#nDark)"/><rect x="-1" y="-1" width="46" height="5" fill="url(#strip)"/><rect x="-1" y="4" width="46" height="3.4" fill="#686868" opacity="0.55"/><path d="M6.8,25.6 Q6.9,35.6 7.3,47.0" stroke="#a8a8a8" stroke-width="1.25" fill="none" opacity="0.8"/><line x1="6.8" y1="3" x2="6.8" y2="8.4" stroke="#b8b8b8" stroke-width="1.0"/><path d="M15.0,25.6 Q15.4,35.6 17.0,47.0" stroke="#a8a8a8" stroke-width="1.25" fill="none" opacity="0.8"/><line x1="15.0" y1="3" x2="15.0" y2="8.4" stroke="#b8b8b8" stroke-width="1.0"/><path d="M23.2,25.6 Q23.0,35.6 22.3,47.0" stroke="#a8a8a8" stroke-width="1.25" fill="none" opacity="0.8"/><line x1="23.2" y1="3" x2="23.2" y2="8.4" stroke="#b8b8b8" stroke-width="1.0"/><path d="M31.2,25.6 Q30.9,35.6 29.6,47.0" stroke="#a8a8a8" stroke-width="1.25" fill="none" opacity="0.8"/><line x1="31.2" y1="3" x2="31.2" y2="8.4" stroke="#b8b8b8" stroke-width="1.0"/><path d="M39.2,25.6 Q38.8,35.6 37.0,47.0" stroke="#a8a8a8" stroke-width="1.25" fill="none" opacity="0.8"/><line x1="39.2" y1="3" x2="39.2" y2="8.4" stroke="#b8b8b8" stroke-width="1.0"/><use href="#mouse" transform="translate(6.8,7.4) scale(1.06,1.011)" fill="url(#mg)" opacity="1.0"/><use href="#mouse" transform="translate(6.8,7.4) scale(1.06,1.011)" fill="url(#nSpeck)" opacity="0.35"/><use href="#mouse" transform="translate(15.0,7.4) scale(1.06,1.011)" fill="url(#mg)" opacity="1.0"/><use href="#mouse" transform="translate(15.0,7.4) scale(1.06,1.011)" fill="url(#nSpeck)" opacity="0.35"/><use href="#mouse" transform="translate(23.2,7.4) scale(1.06,1.011)" fill="url(#mg)" opacity="1.0"/><use href="#mouse" transform="translate(23.2,7.4) scale(1.06,1.011)" fill="url(#nSpeck)" opacity="0.35"/><use href="#mouse" transform="translate(31.2,7.4) scale(1.06,1.011)" fill="url(#mg)" opacity="1.0"/><use href="#mouse" transform="translate(31.2,7.4) scale(1.06,1.011)" fill="url(#nSpeck)" opacity="0.35"/><use href="#mouse" transform="translate(39.2,7.4) scale(1.06,1.011)" fill="url(#mg)" opacity="1.0"/><use href="#mouse" transform="translate(39.2,7.4) scale(1.06,1.011)" fill="url(#nSpeck)" opacity="0.35"/><ellipse cx="6.8" cy="9.0" rx="1.5" ry="1.5" fill="url(#bspot)"/><ellipse cx="15.0" cy="9.0" rx="1.5" ry="1.5" fill="url(#bspot)"/><ellipse cx="23.2" cy="9.0" rx="1.5" ry="1.5" fill="url(#bspot)"/><ellipse cx="31.2" cy="9.0" rx="1.5" ry="1.5" fill="url(#bspot)"/><ellipse cx="39.2" cy="9.0" rx="1.5" ry="1.5" fill="url(#bspot)"/><ellipse cx="8" cy="16" rx="1.3" ry="1.3" fill="url(#bspot)"/><ellipse cx="31" cy="21" rx="1.2" ry="1.2" fill="url(#bspot)"/><ellipse cx="40" cy="20" rx="1.2" ry="1.2" fill="url(#bspot)"/></g></svg><svg x="127" y="14" width="43" height="46" overflow="hidden"><g filter="url(#soft)"><rect x="-2" y="-2" width="47" height="50" fill="url(#nDark)"/><rect x="-1" y="-1" width="45" height="5" fill="url(#strip)"/><rect x="-1" y="4" width="45" height="3.4" fill="#686868" opacity="0.55"/><path d="M6.8,25.6 Q6.5,35.6 5.1,47.0" stroke="#a8a8a8" stroke-width="1.25" fill="none" opacity="0.8"/><line x1="6.8" y1="3" x2="6.8" y2="8.4" stroke="#b8b8b8" stroke-width="1.0"/><path d="M15.0,25.6 Q14.8,35.6 13.8,47.0" stroke="#a8a8a8" stroke-width="1.25" fill="none" opacity="0.8"/><line x1="15.0" y1="3" x2="15.0" y2="8.4" stroke="#b8b8b8" stroke-width="1.0"/><path d="M23.2,25.6 Q23.2,35.6 23.1,47.0" stroke="#a8a8a8" stroke-width="1.25" fill="none" opacity="0.8"/><line x1="23.2" y1="3" x2="23.2" y2="8.4" stroke="#b8b8b8" stroke-width="1.0"/><path d="M31.2,25.6 Q30.8,35.6 29.1,47.0" stroke="#a8a8a8" stroke-width="1.25" fill="none" opacity="0.8"/><line x1="31.2" y1="3" x2="31.2" y2="8.4" stroke="#b8b8b8" stroke-width="1.0"/><path d="M39.2,25.6 Q39.6,35.6 41.0,47.0" stroke="#a8a8a8" stroke-width="1.25" fill="none" opacity="0.8"/><line x1="39.2" y1="3" x2="39.2" y2="8.4" stroke="#b8b8b8" stroke-width="1.0"/><use href="#mouse" transform="translate(6.8,7.4) scale(1.06,1.011)" fill="url(#mg)" opacity="1.0"/><use href="#mouse" transform="translate(6.8,7.4) scale(1.06,1.011)" fill="url(#nSpeck)" opacity="0.35"/><use href="#mouse" transform="translate(15.0,7.4) scale(1.06,1.011)" fill="url(#mg)" opacity="1.0"/><use href="#mouse" transform="translate(15.0,7.4) scale(1.06,1.011)" fill="url(#nSpeck)" opacity="0.35"/><use href="#mouse" transform="translate(23.2,7.4) scale(1.06,1.011)" fill="url(#mg)" opacity="1.0"/><use href="#mouse" transform="translate(23.2,7.4) scale(1.06,1.011)" fill="url(#nSpeck)" opacity="0.35"/><use href="#mouse" transform="translate(31.2,7.4) scale(1.06,1.011)" fill="url(#mg)" opacity="1.0"/><use href="#mouse" transform="translate(31.2,7.4) scale(1.06,1.011)" fill="url(#nSpeck)" opacity="0.35"/><use href="#mouse" transform="translate(39.2,7.4) scale(1.06,1.011)" fill="url(#mg)" opacity="1.0"/><use href="#mouse" transform="translate(39.2,7.4) scale(1.06,1.011)" fill="url(#nSpeck)" opacity="0.35"/><ellipse cx="6.8" cy="9.0" rx="1.5" ry="1.5" fill="url(#bspot)"/><ellipse cx="15.0" cy="9.0" rx="1.5" ry="1.5" fill="url(#bspot)"/><ellipse cx="23.2" cy="9.0" rx="1.5" ry="1.5" fill="url(#bspot)"/><ellipse cx="31.2" cy="9.0" rx="1.5" ry="1.5" fill="url(#bspot)"/><ellipse cx="39.2" cy="9.0" rx="1.5" ry="1.5" fill="url(#bspot)"/><ellipse cx="7" cy="10" rx="1.5" ry="1.5" fill="url(#bspot)"/><ellipse cx="21" cy="24" rx="1.5" ry="1.5" fill="url(#bspot)"/><ellipse cx="14" cy="22.5" rx="1.4" ry="1.4" fill="url(#bspot)"/><ellipse cx="31" cy="24" rx="1.4" ry="1.4" fill="url(#bspot)"/><ellipse cx="36" cy="14" rx="1.5" ry="1.5" fill="url(#bspot)"/></g></svg><svg x="174" y="14" width="44" height="46" overflow="hidden"><g filter="url(#soft)"><rect x="-2" y="-2" width="48" height="50" fill="url(#nDark)"/><rect x="-1" y="-1" width="46" height="5" fill="url(#strip)"/><rect x="-1" y="4" width="46" height="3.4" fill="#686868" opacity="0.55"/><path d="M6.8,25.6 Q6.9,35.6 7.1,47.0" stroke="#a8a8a8" stroke-width="1.25" fill="none" opacity="0.8"/><line x1="6.8" y1="3" x2="6.8" y2="8.4" stroke="#b8b8b8" stroke-width="1.0"/><path d="M15.0,25.6 Q15.1,35.6 15.6,47.0" stroke="#a8a8a8" stroke-width="1.25" fill="none" opacity="0.8"/><line x1="15.0" y1="3" x2="15.0" y2="8.4" stroke="#b8b8b8" stroke-width="1.0"/><path d="M23.2,25.6 Q23.6,35.6 25.2,47.0" stroke="#a8a8a8" stroke-width="1.25" fill="none" opacity="0.8"/><line x1="23.2" y1="3" x2="23.2" y2="8.4" stroke="#b8b8b8" stroke-width="1.0"/><path d="M31.2,25.6 Q31.0,35.6 30.3,47.0" stroke="#a8a8a8" stroke-width="1.25" fill="none" opacity="0.8"/><line x1="31.2" y1="3" x2="31.2" y2="8.4" stroke="#b8b8b8" stroke-width="1.0"/><path d="M39.2,25.6 Q39.1,35.6 38.8,47.0" stroke="#a8a8a8" stroke-width="1.25" fill="none" opacity="0.8"/><line x1="39.2" y1="3" x2="39.2" y2="8.4" stroke="#b8b8b8" stroke-width="1.0"/><use href="#mouse" transform="translate(6.8,7.4) scale(1.06,1.011)" fill="url(#mg)" opacity="1.0"/><use href="#mouse" transform="translate(6.8,7.4) scale(1.06,1.011)" fill="url(#nSpeck)" opacity="0.35"/><use href="#mouse" transform="translate(15.0,7.4) scale(1.06,1.011)" fill="url(#mg)" opacity="1.0"/><use href="#mouse" transform="translate(15.0,7.4) scale(1.06,1.011)" fill="url(#nSpeck)" opacity="0.35"/><use href="#mouse" transform="translate(23.2,7.4) scale(1.06,1.011)" fill="url(#mg)" opacity="1.0"/><use href="#mouse" transform="translate(23.2,7.4) scale(1.06,1.011)" fill="url(#nSpeck)" opacity="0.35"/><use href="#mouse" transform="translate(31.2,7.4) scale(1.06,1.011)" fill="url(#mg)" opacity="1.0"/><use href="#mouse" transform="translate(31.2,7.4) scale(1.06,1.011)" fill="url(#nSpeck)" opacity="0.35"/><use href="#mouse" transform="translate(39.2,7.4) scale(1.06,1.011)" fill="url(#mg)" opacity="1.0"/><use href="#mouse" transform="translate(39.2,7.4) scale(1.06,1.011)" fill="url(#nSpeck)" opacity="0.35"/><ellipse cx="6.8" cy="9.0" rx="1.5" ry="1.5" fill="url(#bspot)"/><ellipse cx="15.0" cy="9.0" rx="1.5" ry="1.5" fill="url(#bspot)"/><ellipse cx="23.2" cy="9.0" rx="1.5" ry="1.5" fill="url(#bspot)"/><ellipse cx="31.2" cy="9.0" rx="1.5" ry="1.5" fill="url(#bspot)"/><ellipse cx="39.2" cy="9.0" rx="1.5" ry="1.5" fill="url(#bspot)"/><ellipse cx="6" cy="12" rx="1.5" ry="1.5" fill="url(#bspot)"/><ellipse cx="8" cy="19" rx="1.2" ry="1.2" fill="url(#bspot)"/><ellipse cx="15" cy="12" rx="1.3" ry="1.3" fill="url(#bspot)"/><ellipse cx="39" cy="24" rx="1.6" ry="1.6" fill="url(#bspot)"/><ellipse cx="31" cy="13" rx="1.2" ry="1.2" fill="url(#bspot)"/></g></svg><svg x="221" y="14" width="44" height="46" overflow="hidden"><g filter="url(#soft)"><rect x="-2" y="-2" width="48" height="50" fill="url(#nDark)"/><rect x="-1" y="-1" width="46" height="5" fill="url(#strip)"/><rect x="-1" y="4" width="46" height="3.4" fill="#686868" opacity="0.55"/><path d="M6.8,25.6 Q7.2,35.6 8.8,47.0" stroke="#a8a8a8" stroke-width="1.25" fill="none" opacity="0.8"/><line x1="6.8" y1="3" x2="6.8" y2="8.4" stroke="#b8b8b8" stroke-width="1.0"/><path d="M15.0,25.6 Q15.4,35.6 16.8,47.0" stroke="#a8a8a8" stroke-width="1.25" fill="none" opacity="0.8"/><line x1="15.0" y1="3" x2="15.0" y2="8.4" stroke="#b8b8b8" stroke-width="1.0"/><path d="M23.2,25.6 Q23.5,35.6 24.5,47.0" stroke="#a8a8a8" stroke-width="1.25" fill="none" opacity="0.8"/><line x1="23.2" y1="3" x2="23.2" y2="8.4" stroke="#b8b8b8" stroke-width="1.0"/><path d="M31.2,25.6 Q31.0,35.6 30.2,47.0" stroke="#a8a8a8" stroke-width="1.25" fill="none" opacity="0.8"/><line x1="31.2" y1="3" x2="31.2" y2="8.4" stroke="#b8b8b8" stroke-width="1.0"/><path d="M39.2,25.6 Q39.6,35.6 41.0,47.0" stroke="#a8a8a8" stroke-width="1.25" fill="none" opacity="0.8"/><line x1="39.2" y1="3" x2="39.2" y2="8.4" stroke="#b8b8b8" stroke-width="1.0"/><use href="#mouse" transform="translate(6.8,7.4) scale(1.06,1.011)" fill="url(#mg)" opacity="1.0"/><use href="#mouse" transform="translate(6.8,7.4) scale(1.06,1.011)" fill="url(#nSpeck)" opacity="0.35"/><use href="#mouse" transform="translate(15.0,7.4) scale(1.06,1.011)" fill="url(#mg)" opacity="1.0"/><use href="#mouse" transform="translate(15.0,7.4) scale(1.06,1.011)" fill="url(#nSpeck)" opacity="0.35"/><use href="#mouse" transform="translate(23.2,7.4) scale(1.06,1.011)" fill="url(#mg)" opacity="1.0"/><use href="#mouse" transform="translate(23.2,7.4) scale(1.06,1.011)" fill="url(#nSpeck)" opacity="0.35"/><use href="#mouse" transform="translate(31.2,7.4) scale(1.06,1.011)" fill="url(#mg)" opacity="1.0"/><use href="#mouse" transform="translate(31.2,7.4) scale(1.06,1.011)" fill="url(#nSpeck)" opacity="0.35"/><use href="#mouse" transform="translate(39.2,7.4) scale(1.06,1.011)" fill="url(#mg)" opacity="1.0"/><use href="#mouse" transform="translate(39.2,7.4) scale(1.06,1.011)" fill="url(#nSpeck)" opacity="0.35"/><ellipse cx="6.8" cy="9.0" rx="1.5" ry="1.5" fill="url(#bspot)"/><ellipse cx="15.0" cy="9.0" rx="1.5" ry="1.5" fill="url(#bspot)"/><ellipse cx="7" cy="14" rx="1.5" ry="1.5" fill="url(#bspot)"/><ellipse cx="5" cy="21" rx="1.3" ry="1.3" fill="url(#bspot)"/><ellipse cx="14" cy="22" rx="1.2" ry="1.2" fill="url(#bspot)"/><ellipse cx="31" cy="22" rx="1.2" ry="1.2" fill="url(#bspot)"/></g></svg><svg x="268" y="14" width="43" height="46" overflow="hidden"><g filter="url(#soft)"><rect x="-2" y="-2" width="47" height="50" fill="url(#nDark)"/><rect x="-1" y="-1" width="45" height="5" fill="url(#strip)"/><rect x="-1" y="4" width="45" height="3.4" fill="#686868" opacity="0.55"/><path d="M6.8,25.6 Q6.4,35.6 4.7,47.0" stroke="#a8a8a8" stroke-width="1.25" fill="none" opacity="0.8"/><line x1="6.8" y1="3" x2="6.8" y2="8.4" stroke="#b8b8b8" stroke-width="1.0"/><path d="M15.0,25.6 Q14.7,35.6 13.3,47.0" stroke="#a8a8a8" stroke-width="1.25" fill="none" opacity="0.8"/><line x1="15.0" y1="3" x2="15.0" y2="8.4" stroke="#b8b8b8" stroke-width="1.0"/><path d="M23.2,25.6 Q23.2,35.6 23.4,47.0" stroke="#a8a8a8" stroke-width="1.25" fill="none" opacity="0.8"/><line x1="23.2" y1="3" x2="23.2" y2="8.4" stroke="#b8b8b8" stroke-width="1.0"/><path d="M31.2,25.6 Q30.8,35.6 29.2,47.0" stroke="#a8a8a8" stroke-width="1.25" fill="none" opacity="0.8"/><line x1="31.2" y1="3" x2="31.2" y2="8.4" stroke="#b8b8b8" stroke-width="1.0"/><path d="M39.2,25.6 Q38.9,35.6 37.5,47.0" stroke="#a8a8a8" stroke-width="1.25" fill="none" opacity="0.8"/><line x1="39.2" y1="3" x2="39.2" y2="8.4" stroke="#b8b8b8" stroke-width="1.0"/><use href="#mouse" transform="translate(6.8,7.4) scale(1.06,1.011)" fill="url(#mg)" opacity="1.0"/><use href="#mouse" transform="translate(6.8,7.4) scale(1.06,1.011)" fill="url(#nSpeck)" opacity="0.35"/><use href="#mouse" transform="translate(15.0,7.4) scale(1.06,1.011)" fill="url(#mg)" opacity="1.0"/><use href="#mouse" transform="translate(15.0,7.4) scale(1.06,1.011)" fill="url(#nSpeck)" opacity="0.35"/><use href="#mouse" transform="translate(23.2,7.4) scale(1.06,1.011)" fill="url(#mg)" opacity="1.0"/><use href="#mouse" transform="translate(23.2,7.4) scale(1.06,1.011)" fill="url(#nSpeck)" opacity="0.35"/><use href="#mouse" transform="translate(31.2,7.4) scale(1.06,1.011)" fill="url(#mg)" opacity="1.0"/><use href="#mouse" transform="translate(31.2,7.4) scale(1.06,1.011)" fill="url(#nSpeck)" opacity="0.35"/><use href="#mouse" transform="translate(39.2,7.4) scale(1.06,1.011)" fill="url(#mg)" opacity="1.0"/><use href="#mouse" transform="translate(39.2,7.4) scale(1.06,1.011)" fill="url(#nSpeck)" opacity="0.35"/><ellipse cx="6.8" cy="9.0" rx="1.5" ry="1.5" fill="url(#bspot)"/><ellipse cx="15.0" cy="9.0" rx="1.5" ry="1.5" fill="url(#bspot)"/><ellipse cx="23.2" cy="9.0" rx="1.5" ry="1.5" fill="url(#bspot)"/><ellipse cx="31.2" cy="9.0" rx="1.5" ry="1.5" fill="url(#bspot)"/><ellipse cx="39.2" cy="9.0" rx="1.5" ry="1.5" fill="url(#bspot)"/><ellipse cx="6" cy="12" rx="1.5" ry="1.5" fill="url(#bspot)"/><ellipse cx="4" cy="21" rx="1.2" ry="1.2" fill="url(#bspot)"/><ellipse cx="14" cy="22" rx="1.4" ry="1.4" fill="url(#bspot)"/><ellipse cx="31" cy="22" rx="1.3" ry="1.3" fill="url(#bspot)"/><ellipse cx="39" cy="21" rx="1.5" ry="1.5" fill="url(#bspot)"/></g></svg><svg x="315" y="14" width="43" height="46" overflow="hidden"><g filter="url(#soft)"><rect x="-2" y="-2" width="47" height="50" fill="url(#nDark)"/><rect x="-1" y="-1" width="45" height="5" fill="url(#strip)"/><rect x="-1" y="4" width="45" height="3.4" fill="#686868" opacity="0.55"/><path d="M6.8,25.6 Q7.2,35.6 8.9,47.0" stroke="#a8a8a8" stroke-width="1.25" fill="none" opacity="0.8"/><line x1="6.8" y1="3" x2="6.8" y2="8.4" stroke="#b8b8b8" stroke-width="1.0"/><path d="M15.0,25.6 Q14.9,35.6 14.3,47.0" stroke="#a8a8a8" stroke-width="1.25" fill="none" opacity="0.8"/><line x1="15.0" y1="3" x2="15.0" y2="8.4" stroke="#b8b8b8" stroke-width="1.0"/><path d="M23.2,25.6 Q22.9,35.6 21.6,47.0" stroke="#a8a8a8" stroke-width="1.25" fill="none" opacity="0.8"/><line x1="23.2" y1="3" x2="23.2" y2="8.4" stroke="#b8b8b8" stroke-width="1.0"/><path d="M31.2,25.6 Q31.5,35.6 32.8,47.0" stroke="#a8a8a8" stroke-width="1.25" fill="none" opacity="0.8"/><line x1="31.2" y1="3" x2="31.2" y2="8.4" stroke="#b8b8b8" stroke-width="1.0"/><path d="M39.2,25.6 Q38.9,35.6 37.8,47.0" stroke="#a8a8a8" stroke-width="1.25" fill="none" opacity="0.8"/><line x1="39.2" y1="3" x2="39.2" y2="8.4" stroke="#b8b8b8" stroke-width="1.0"/><use href="#mouse" transform="translate(6.8,7.4) scale(1.06,1.011)" fill="url(#mg)" opacity="1.0"/><use href="#mouse" transform="translate(6.8,7.4) scale(1.06,1.011)" fill="url(#nSpeck)" opacity="0.35"/><use href="#mouse" transform="translate(15.0,7.4) scale(1.06,1.011)" fill="url(#mg)" opacity="1.0"/><use href="#mouse" transform="translate(15.0,7.4) scale(1.06,1.011)" fill="url(#nSpeck)" opacity="0.35"/><use href="#mouse" transform="translate(23.2,7.4) scale(1.06,1.011)" fill="url(#mg)" opacity="1.0"/><use href="#mouse" transform="translate(23.2,7.4) scale(1.06,1.011)" fill="url(#nSpeck)" opacity="0.35"/><use href="#mouse" transform="translate(31.2,7.4) scale(1.06,1.011)" fill="url(#mg)" opacity="1.0"/><use href="#mouse" transform="translate(31.2,7.4) scale(1.06,1.011)" fill="url(#nSpeck)" opacity="0.35"/><use href="#mouse" transform="translate(39.2,7.4) scale(1.06,1.011)" fill="url(#mg)" opacity="1.0"/><use href="#mouse" transform="translate(39.2,7.4) scale(1.06,1.011)" fill="url(#nSpeck)" opacity="0.35"/><ellipse cx="6.8" cy="9.0" rx="1.5" ry="1.5" fill="url(#bspot)"/><ellipse cx="15.0" cy="9.0" rx="1.5" ry="1.5" fill="url(#bspot)"/><ellipse cx="23.2" cy="9.0" rx="1.5" ry="1.5" fill="url(#bspot)"/><ellipse cx="31.2" cy="9.0" rx="1.5" ry="1.5" fill="url(#bspot)"/><ellipse cx="39.2" cy="9.0" rx="1.5" ry="1.5" fill="url(#bspot)"/><ellipse cx="5" cy="23" rx="1.5" ry="1.5" fill="url(#bspot)"/><ellipse cx="14" cy="23" rx="1.4" ry="1.4" fill="url(#bspot)"/><ellipse cx="32" cy="21" rx="1.2" ry="1.2" fill="url(#bspot)"/></g></svg><svg x="32" y="63" width="44" height="44" overflow="hidden"><g filter="url(#soft)"><rect x="-2" y="-2" width="48" height="48" fill="url(#nDark)"/><rect x="-1" y="-1" width="46" height="5" fill="url(#strip)"/><rect x="-1" y="4" width="46" height="2.4" fill="#686868" opacity="0.55"/><path d="M6.8,25.4 Q7.1,35.4 8.3,45.0" stroke="#a8a8a8" stroke-width="1.25" fill="none" opacity="0.8"/><line x1="6.8" y1="3" x2="6.8" y2="7.4" stroke="#b8b8b8" stroke-width="1.0"/><path d="M15.0,25.4 Q14.9,35.4 14.5,45.0" stroke="#a8a8a8" stroke-width="1.25" fill="none" opacity="0.8"/><line x1="15.0" y1="3" x2="15.0" y2="7.4" stroke="#b8b8b8" stroke-width="1.0"/><path d="M23.2,25.4 Q23.0,35.4 22.2,45.0" stroke="#a8a8a8" stroke-width="1.25" fill="none" opacity="0.8"/><line x1="23.2" y1="3" x2="23.2" y2="7.4" stroke="#b8b8b8" stroke-width="1.0"/><path d="M31.2,25.4 Q31.5,35.4 32.6,45.0" stroke="#a8a8a8" stroke-width="1.25" fill="none" opacity="0.8"/><line x1="31.2" y1="3" x2="31.2" y2="7.4" stroke="#b8b8b8" stroke-width="1.0"/><path d="M39.2,25.4 Q39.0,35.4 38.0,45.0" stroke="#a8a8a8" stroke-width="1.25" fill="none" opacity="0.8"/><line x1="39.2" y1="3" x2="39.2" y2="7.4" stroke="#b8b8b8" stroke-width="1.0"/><use href="#mouse" transform="translate(6.8,6.4) scale(1.1,1.053)" fill="url(#mg)" opacity="1.0" stroke="#4a40e8" stroke-width="0.6" vector-effect="non-scaling-stroke"/><use href="#mouse" transform="translate(6.8,6.4) scale(1.1,1.053)" fill="url(#nSpeck)" opacity="0.35"/><use href="#mouse" transform="translate(15.0,6.4) scale(1.1,1.053)" fill="url(#mg)" opacity="1.0" stroke="#4a40e8" stroke-width="0.6" vector-effect="non-scaling-stroke"/><use href="#mouse" transform="translate(15.0,6.4) scale(1.1,1.053)" fill="url(#nSpeck)" opacity="0.35"/><use href="#mouse" transform="translate(23.2,6.4) scale(1.1,1.053)" fill="url(#mg)" opacity="1.0" stroke="#4a40e8" stroke-width="0.6" vector-effect="non-scaling-stroke"/><use href="#mouse" transform="translate(23.2,6.4) scale(1.1,1.053)" fill="url(#nSpeck)" opacity="0.35"/><use href="#mouse" transform="translate(31.2,6.4) scale(1.1,1.053)" fill="url(#mg)" opacity="1.0" stroke="#4a40e8" stroke-width="0.6" vector-effect="non-scaling-stroke"/><use href="#mouse" transform="translate(31.2,6.4) scale(1.1,1.053)" fill="url(#nSpeck)" opacity="0.35"/><use href="#mouse" transform="translate(39.2,6.4) scale(1.1,1.053)" fill="url(#mg)" opacity="1.0" stroke="#4a40e8" stroke-width="0.6" vector-effect="non-scaling-stroke"/><use href="#mouse" transform="translate(39.2,6.4) scale(1.1,1.053)" fill="url(#nSpeck)" opacity="0.35"/><ellipse cx="6.8" cy="8.0" rx="1.8" ry="1.8" fill="url(#bspot)"/><ellipse cx="15.0" cy="8.0" rx="1.8" ry="1.8" fill="url(#bspot)"/><ellipse cx="23.2" cy="8.0" rx="1.8" ry="1.8" fill="url(#bspot)"/><ellipse cx="31.2" cy="8.0" rx="1.8" ry="1.8" fill="url(#bspot)"/><ellipse cx="39.2" cy="8.0" rx="1.8" ry="1.8" fill="url(#bspot)"/><ellipse cx="5" cy="13" rx="2.2" ry="3.5" fill="url(#bspot)"/><ellipse cx="14" cy="11" rx="1.6" ry="1.6" fill="url(#bspot)"/><ellipse cx="22" cy="14" rx="1.8" ry="1.8" fill="url(#bspot)"/><ellipse cx="31" cy="12" rx="1.6" ry="1.6" fill="url(#bspot)"/><ellipse cx="39" cy="13" rx="2" ry="2.5" fill="url(#bspot)"/><ellipse cx="6" cy="18" rx="3.5" ry="3.5" fill="url(#heat)"/><ellipse cx="39.5" cy="15" rx="2.5" ry="3" fill="url(#heatG)"/><rect x="1" y="19.5" width="42" height="7.0" rx="3" fill="#3a30e8" opacity="0.9"/><ellipse cx="6" cy="23" rx="5.5" ry="4.5" fill="url(#heatG)"/><ellipse cx="15" cy="23" rx="5.5" ry="4.5" fill="url(#heatG)"/><ellipse cx="23" cy="23" rx="5.5" ry="4.5" fill="url(#heatG)"/><ellipse cx="31" cy="23" rx="5.5" ry="4.5" fill="url(#heatG)"/><ellipse cx="40" cy="23" rx="5" ry="4.5" fill="url(#heatG)"/><ellipse cx="5.5" cy="23.5" rx="4.5" ry="4" fill="url(#heat)"/><ellipse cx="14.5" cy="23.5" rx="4.2" ry="3.6" fill="url(#heat)"/><ellipse cx="22" cy="22.5" rx="4" ry="3.5" fill="url(#heat)"/><ellipse cx="32" cy="23" rx="4.5" ry="3.6" fill="url(#heat)"/><ellipse cx="40" cy="22.5" rx="4.5" ry="4" fill="url(#heat)"/></g></svg><svg x="79" y="63" width="44" height="44" overflow="hidden"><g filter="url(#soft)"><rect x="-2" y="-2" width="48" height="48" fill="url(#nDark)"/><rect x="-1" y="-1" width="46" height="5" fill="url(#strip)"/><rect x="-1" y="4" width="46" height="2.4" fill="#686868" opacity="0.55"/><path d="M6.8,25.4 Q7.2,35.4 8.8,45.0" stroke="#a8a8a8" stroke-width="1.25" fill="none" opacity="0.8"/><line x1="6.8" y1="3" x2="6.8" y2="7.4" stroke="#b8b8b8" stroke-width="1.0"/><path d="M15.0,25.4 Q14.6,35.4 13.1,45.0" stroke="#a8a8a8" stroke-width="1.25" fill="none" opacity="0.8"/><line x1="15.0" y1="3" x2="15.0" y2="7.4" stroke="#b8b8b8" stroke-width="1.0"/><path d="M23.2,25.4 Q22.8,35.4 21.3,45.0" stroke="#a8a8a8" stroke-width="1.25" fill="none" opacity="0.8"/><line x1="23.2" y1="3" x2="23.2" y2="7.4" stroke="#b8b8b8" stroke-width="1.0"/><path d="M31.2,25.4 Q30.9,35.4 29.6,45.0" stroke="#a8a8a8" stroke-width="1.25" fill="none" opacity="0.8"/><line x1="31.2" y1="3" x2="31.2" y2="7.4" stroke="#b8b8b8" stroke-width="1.0"/><path d="M39.2,25.4 Q39.6,35.4 41.2,45.0" stroke="#a8a8a8" stroke-width="1.25" fill="none" opacity="0.8"/><line x1="39.2" y1="3" x2="39.2" y2="7.4" stroke="#b8b8b8" stroke-width="1.0"/><use href="#mouse" transform="translate(6.8,6.4) scale(1.1,1.053)" fill="url(#mg)" opacity="1.0" stroke="#4a40e8" stroke-width="0.6" vector-effect="non-scaling-stroke"/><use href="#mouse" transform="translate(6.8,6.4) scale(1.1,1.053)" fill="url(#nSpeck)" opacity="0.35"/><use href="#mouse" transform="translate(15.0,6.4) scale(1.1,1.053)" fill="url(#mg)" opacity="1.0" stroke="#4a40e8" stroke-width="0.6" vector-effect="non-scaling-stroke"/><use href="#mouse" transform="translate(15.0,6.4) scale(1.1,1.053)" fill="url(#nSpeck)" opacity="0.35"/><use href="#mouse" transform="translate(23.2,6.4) scale(1.1,1.053)" fill="url(#mg)" opacity="1.0" stroke="#4a40e8" stroke-width="0.6" vector-effect="non-scaling-stroke"/><use href="#mouse" transform="translate(23.2,6.4) scale(1.1,1.053)" fill="url(#nSpeck)" opacity="0.35"/><use href="#mouse" transform="translate(31.2,6.4) scale(1.1,1.053)" fill="url(#mg)" opacity="1.0" stroke="#4a40e8" stroke-width="0.6" vector-effect="non-scaling-stroke"/><use href="#mouse" transform="translate(31.2,6.4) scale(1.1,1.053)" fill="url(#nSpeck)" opacity="0.35"/><use href="#mouse" transform="translate(39.2,6.4) scale(1.1,1.053)" fill="url(#mg)" opacity="1.0" stroke="#4a40e8" stroke-width="0.6" vector-effect="non-scaling-stroke"/><use href="#mouse" transform="translate(39.2,6.4) scale(1.1,1.053)" fill="url(#nSpeck)" opacity="0.35"/><ellipse cx="6.8" cy="8.0" rx="1.8" ry="1.8" fill="url(#bspot)"/><ellipse cx="15.0" cy="8.0" rx="1.8" ry="1.8" fill="url(#bspot)"/><ellipse cx="23.2" cy="8.0" rx="1.8" ry="1.8" fill="url(#bspot)"/><ellipse cx="31.2" cy="8.0" rx="1.8" ry="1.8" fill="url(#bspot)"/><ellipse cx="39.2" cy="8.0" rx="1.8" ry="1.8" fill="url(#bspot)"/><ellipse cx="5" cy="12" rx="2.2" ry="3" fill="url(#bspot)"/><ellipse cx="14" cy="14" rx="1.8" ry="1.8" fill="url(#bspot)"/><ellipse cx="23" cy="12" rx="2" ry="2.5" fill="url(#bspot)"/><ellipse cx="31" cy="8.5" rx="3.5" ry="4" fill="url(#heat)"/><ellipse cx="30" cy="15" rx="2" ry="2.5" fill="url(#bspot)"/><ellipse cx="39" cy="13" rx="1.8" ry="3" fill="url(#bspot)"/><rect x="1" y="18.5" width="42" height="7.5" rx="3" fill="#3a30e8" opacity="0.9"/><ellipse cx="6" cy="22" rx="5.5" ry="4.5" fill="url(#heatG)"/><ellipse cx="15" cy="21.5" rx="5.5" ry="4" fill="url(#heatG)"/><ellipse cx="23" cy="21.5" rx="5.5" ry="4" fill="url(#heatG)"/><ellipse cx="31" cy="21" rx="5.5" ry="4" fill="url(#heatG)"/><ellipse cx="40" cy="21.5" rx="5" ry="4" fill="url(#heatG)"/><ellipse cx="6" cy="23" rx="5" ry="4.5" fill="url(#heat)"/><ellipse cx="14.5" cy="21.5" rx="4.2" ry="3.8" fill="url(#heat)"/><ellipse cx="23" cy="21.5" rx="4" ry="3.5" fill="url(#heat)"/><ellipse cx="31.5" cy="21" rx="4.5" ry="4" fill="url(#heat)"/><ellipse cx="40" cy="21.5" rx="4.8" ry="4.2" fill="url(#heat)"/></g></svg><svg x="127" y="63" width="43" height="44" overflow="hidden"><g filter="url(#soft)"><rect x="-2" y="-2" width="47" height="48" fill="url(#nDark)"/><rect x="-1" y="-1" width="45" height="5" fill="url(#strip)"/><rect x="-1" y="4" width="45" height="2.4" fill="#686868" opacity="0.55"/><path d="M6.8,25.4 Q6.6,35.4 5.8,45.0" stroke="#a8a8a8" stroke-width="1.25" fill="none" opacity="0.8"/><line x1="6.8" y1="3" x2="6.8" y2="7.4" stroke="#b8b8b8" stroke-width="1.0"/><path d="M15.0,25.4 Q14.8,35.4 13.9,45.0" stroke="#a8a8a8" stroke-width="1.25" fill="none" opacity="0.8"/><line x1="15.0" y1="3" x2="15.0" y2="7.4" stroke="#b8b8b8" stroke-width="1.0"/><path d="M23.2,25.4 Q23.1,35.4 22.6,45.0" stroke="#a8a8a8" stroke-width="1.25" fill="none" opacity="0.8"/><line x1="23.2" y1="3" x2="23.2" y2="7.4" stroke="#b8b8b8" stroke-width="1.0"/><path d="M31.2,25.4 Q30.8,35.4 29.1,45.0" stroke="#a8a8a8" stroke-width="1.25" fill="none" opacity="0.8"/><line x1="31.2" y1="3" x2="31.2" y2="7.4" stroke="#b8b8b8" stroke-width="1.0"/><path d="M39.2,25.4 Q39.3,35.4 39.6,45.0" stroke="#a8a8a8" stroke-width="1.25" fill="none" opacity="0.8"/><line x1="39.2" y1="3" x2="39.2" y2="7.4" stroke="#b8b8b8" stroke-width="1.0"/><use href="#mouse" transform="translate(6.8,6.4) scale(1.1,1.053)" fill="url(#mg)" opacity="1.0" stroke="#4a40e8" stroke-width="0.6" vector-effect="non-scaling-stroke"/><use href="#mouse" transform="translate(6.8,6.4) scale(1.1,1.053)" fill="url(#nSpeck)" opacity="0.35"/><use href="#mouse" transform="translate(15.0,6.4) scale(1.1,1.053)" fill="url(#mg)" opacity="1.0" stroke="#4a40e8" stroke-width="0.6" vector-effect="non-scaling-stroke"/><use href="#mouse" transform="translate(15.0,6.4) scale(1.1,1.053)" fill="url(#nSpeck)" opacity="0.35"/><use href="#mouse" transform="translate(23.2,6.4) scale(1.1,1.053)" fill="url(#mg)" opacity="1.0" stroke="#4a40e8" stroke-width="0.6" vector-effect="non-scaling-stroke"/><use href="#mouse" transform="translate(23.2,6.4) scale(1.1,1.053)" fill="url(#nSpeck)" opacity="0.35"/><use href="#mouse" transform="translate(31.2,6.4) scale(1.1,1.053)" fill="url(#mg)" opacity="1.0" stroke="#4a40e8" stroke-width="0.6" vector-effect="non-scaling-stroke"/><use href="#mouse" transform="translate(31.2,6.4) scale(1.1,1.053)" fill="url(#nSpeck)" opacity="0.35"/><use href="#mouse" transform="translate(39.2,6.4) scale(1.1,1.053)" fill="url(#mg)" opacity="1.0" stroke="#4a40e8" stroke-width="0.6" vector-effect="non-scaling-stroke"/><use href="#mouse" transform="translate(39.2,6.4) scale(1.1,1.053)" fill="url(#nSpeck)" opacity="0.35"/><ellipse cx="6.8" cy="8.0" rx="1.8" ry="1.8" fill="url(#bspot)"/><ellipse cx="15.0" cy="8.0" rx="1.8" ry="1.8" fill="url(#bspot)"/><ellipse cx="23.2" cy="8.0" rx="1.8" ry="1.8" fill="url(#bspot)"/><ellipse cx="39.2" cy="8.0" rx="1.8" ry="1.8" fill="url(#bspot)"/><ellipse cx="5.5" cy="12" rx="2.2" ry="3" fill="url(#bspot)"/><ellipse cx="14" cy="13" rx="1.8" ry="2.5" fill="url(#bspot)"/><ellipse cx="13.5" cy="16" rx="2.5" ry="2.5" fill="url(#heatG)"/><ellipse cx="22" cy="12" rx="2" ry="2.5" fill="url(#bspot)"/><ellipse cx="39" cy="12" rx="2" ry="3" fill="url(#bspot)"/><ellipse cx="39" cy="20" rx="3" ry="3.5" fill="url(#heatG)"/><rect x="1" y="18.5" width="16" height="6.5" rx="3" fill="#3a30e8" opacity="0.9"/><ellipse cx="5" cy="21" rx="4.5" ry="4" fill="url(#heatG)"/><ellipse cx="12" cy="21" rx="4.5" ry="4" fill="url(#heatG)"/><ellipse cx="5" cy="21" rx="4.2" ry="3.6" fill="url(#heat)"/><ellipse cx="11" cy="21" rx="3.8" ry="3.5" fill="url(#heat)"/><ellipse cx="23.5" cy="24.5" rx="6.5" ry="4.5" fill="url(#bspot)"/><ellipse cx="23.5" cy="24.5" rx="6" ry="4.2" fill="url(#heat)"/><ellipse cx="39" cy="23" rx="3" ry="3" fill="url(#bspot)"/></g></svg><svg x="174" y="63" width="44" height="44" overflow="hidden"><g filter="url(#soft)"><rect x="-2" y="-2" width="48" height="48" fill="url(#nDark)"/><rect x="-1" y="-1" width="46" height="5" fill="url(#strip)"/><rect x="-1" y="4" width="46" height="2.4" fill="#686868" opacity="0.55"/><path d="M6.8,25.4 Q6.7,35.4 6.4,45.0" stroke="#a8a8a8" stroke-width="1.25" fill="none" opacity="0.8"/><line x1="6.8" y1="3" x2="6.8" y2="7.4" stroke="#b8b8b8" stroke-width="1.0"/><path d="M15.0,25.4 Q15.3,35.4 16.5,45.0" stroke="#a8a8a8" stroke-width="1.25" fill="none" opacity="0.8"/><line x1="15.0" y1="3" x2="15.0" y2="7.4" stroke="#b8b8b8" stroke-width="1.0"/><path d="M23.2,25.4 Q23.5,35.4 24.7,45.0" stroke="#a8a8a8" stroke-width="1.25" fill="none" opacity="0.8"/><line x1="23.2" y1="3" x2="23.2" y2="7.4" stroke="#b8b8b8" stroke-width="1.0"/><path d="M31.2,25.4 Q31.2,35.4 31.3,45.0" stroke="#a8a8a8" stroke-width="1.25" fill="none" opacity="0.8"/><line x1="31.2" y1="3" x2="31.2" y2="7.4" stroke="#b8b8b8" stroke-width="1.0"/><path d="M39.2,25.4 Q39.3,35.4 39.7,45.0" stroke="#a8a8a8" stroke-width="1.25" fill="none" opacity="0.8"/><line x1="39.2" y1="3" x2="39.2" y2="7.4" stroke="#b8b8b8" stroke-width="1.0"/><use href="#mouse" transform="translate(6.8,6.4) scale(1.06,1.053)" fill="url(#mg)" opacity="1.0"/><use href="#mouse" transform="translate(6.8,6.4) scale(1.06,1.053)" fill="url(#nSpeck)" opacity="0.35"/><use href="#mouse" transform="translate(15.0,6.4) scale(1.06,1.053)" fill="url(#mg)" opacity="1.0"/><use href="#mouse" transform="translate(15.0,6.4) scale(1.06,1.053)" fill="url(#nSpeck)" opacity="0.35"/><use href="#mouse" transform="translate(23.2,6.4) scale(1.06,1.053)" fill="url(#mg)" opacity="1.0"/><use href="#mouse" transform="translate(23.2,6.4) scale(1.06,1.053)" fill="url(#nSpeck)" opacity="0.35"/><use href="#mouse" transform="translate(31.2,6.4) scale(1.06,1.053)" fill="url(#mg)" opacity="1.0"/><use href="#mouse" transform="translate(31.2,6.4) scale(1.06,1.053)" fill="url(#nSpeck)" opacity="0.35"/><use href="#mouse" transform="translate(39.2,6.4) scale(1.06,1.053)" fill="url(#mg)" opacity="1.0"/><use href="#mouse" transform="translate(39.2,6.4) scale(1.06,1.053)" fill="url(#nSpeck)" opacity="0.35"/><ellipse cx="6.8" cy="8.0" rx="1.5" ry="1.5" fill="url(#bspot)"/><ellipse cx="15.0" cy="8.0" rx="1.5" ry="1.5" fill="url(#bspot)"/><ellipse cx="23.2" cy="8.0" rx="1.5" ry="1.5" fill="url(#bspot)"/><ellipse cx="31.2" cy="8.0" rx="1.5" ry="1.5" fill="url(#bspot)"/><ellipse cx="39.2" cy="8.0" rx="1.5" ry="1.5" fill="url(#bspot)"/><ellipse cx="23" cy="12" rx="2.4" ry="2.4" fill="url(#bspot)"/><ellipse cx="24.5" cy="18" rx="1.6" ry="1.6" fill="url(#bspot)"/><ellipse cx="31" cy="23.5" rx="1.9" ry="1.9" fill="url(#bspot)"/><ellipse cx="39" cy="24" rx="2.8" ry="2.2" fill="url(#bspot)"/><ellipse cx="14" cy="20" rx="1" ry="1" fill="url(#bspot)"/></g></svg><svg x="221" y="63" width="44" height="44" overflow="hidden"><g filter="url(#soft)"><rect x="-2" y="-2" width="48" height="48" fill="url(#nDark)"/><rect x="-1" y="-1" width="46" height="5" fill="url(#strip)"/><rect x="-1" y="4" width="46" height="2.4" fill="#686868" opacity="0.55"/><path d="M6.8,25.4 Q7.2,35.4 8.8,45.0" stroke="#a8a8a8" stroke-width="1.25" fill="none" opacity="0.8"/><line x1="6.8" y1="3" x2="6.8" y2="7.4" stroke="#b8b8b8" stroke-width="1.0"/><path d="M15.0,25.4 Q14.9,35.4 14.4,45.0" stroke="#a8a8a8" stroke-width="1.25" fill="none" opacity="0.8"/><line x1="15.0" y1="3" x2="15.0" y2="7.4" stroke="#b8b8b8" stroke-width="1.0"/><path d="M23.2,25.4 Q23.6,35.4 25.1,45.0" stroke="#a8a8a8" stroke-width="1.25" fill="none" opacity="0.8"/><line x1="23.2" y1="3" x2="23.2" y2="7.4" stroke="#b8b8b8" stroke-width="1.0"/><path d="M31.2,25.4 Q31.2,35.4 31.4,45.0" stroke="#a8a8a8" stroke-width="1.25" fill="none" opacity="0.8"/><line x1="31.2" y1="3" x2="31.2" y2="7.4" stroke="#b8b8b8" stroke-width="1.0"/><path d="M39.2,25.4 Q38.8,35.4 37.3,45.0" stroke="#a8a8a8" stroke-width="1.25" fill="none" opacity="0.8"/><line x1="39.2" y1="3" x2="39.2" y2="7.4" stroke="#b8b8b8" stroke-width="1.0"/><use href="#mouse" transform="translate(6.8,6.4) scale(1.06,1.053)" fill="url(#mg)" opacity="1.0"/><use href="#mouse" transform="translate(6.8,6.4) scale(1.06,1.053)" fill="url(#nSpeck)" opacity="0.35"/><use href="#mouse" transform="translate(15.0,6.4) scale(1.06,1.053)" fill="url(#mg)" opacity="1.0"/><use href="#mouse" transform="translate(15.0,6.4) scale(1.06,1.053)" fill="url(#nSpeck)" opacity="0.35"/><use href="#mouse" transform="translate(23.2,6.4) scale(1.06,1.053)" fill="url(#mg)" opacity="1.0"/><use href="#mouse" transform="translate(23.2,6.4) scale(1.06,1.053)" fill="url(#nSpeck)" opacity="0.35"/><use href="#mouse" transform="translate(31.2,6.4) scale(1.06,1.053)" fill="url(#mg)" opacity="1.0"/><use href="#mouse" transform="translate(31.2,6.4) scale(1.06,1.053)" fill="url(#nSpeck)" opacity="0.35"/><use href="#mouse" transform="translate(39.2,6.4) scale(1.06,1.053)" fill="url(#mg)" opacity="1.0"/><use href="#mouse" transform="translate(39.2,6.4) scale(1.06,1.053)" fill="url(#nSpeck)" opacity="0.35"/><ellipse cx="6.8" cy="8.0" rx="1.5" ry="1.5" fill="url(#bspot)"/><ellipse cx="15.0" cy="8.0" rx="1.5" ry="1.5" fill="url(#bspot)"/><ellipse cx="23.2" cy="8.0" rx="1.5" ry="1.5" fill="url(#bspot)"/><ellipse cx="31.2" cy="8.0" rx="1.5" ry="1.5" fill="url(#bspot)"/><ellipse cx="39.2" cy="8.0" rx="1.5" ry="1.5" fill="url(#bspot)"/><ellipse cx="14" cy="20" rx="1.5" ry="1.5" fill="url(#bspot)"/><ellipse cx="30" cy="14" rx="2" ry="2" fill="url(#bspot)"/><ellipse cx="31" cy="20" rx="1.5" ry="1.5" fill="url(#bspot)"/><ellipse cx="39" cy="9" rx="2" ry="2" fill="url(#bspot)"/></g></svg><svg x="268" y="63" width="43" height="44" overflow="hidden"><g filter="url(#soft)"><rect x="-2" y="-2" width="47" height="48" fill="url(#nDark)"/><rect x="-1" y="-1" width="45" height="5" fill="url(#strip)"/><rect x="-1" y="4" width="45" height="2.4" fill="#686868" opacity="0.55"/><path d="M6.8,25.4 Q6.5,35.4 5.4,45.0" stroke="#a8a8a8" stroke-width="1.25" fill="none" opacity="0.8"/><line x1="6.8" y1="3" x2="6.8" y2="7.4" stroke="#b8b8b8" stroke-width="1.0"/><path d="M15.0,25.4 Q15.2,35.4 16.2,45.0" stroke="#a8a8a8" stroke-width="1.25" fill="none" opacity="0.8"/><line x1="15.0" y1="3" x2="15.0" y2="7.4" stroke="#b8b8b8" stroke-width="1.0"/><path d="M23.2,25.4 Q23.6,35.4 25.4,45.0" stroke="#a8a8a8" stroke-width="1.25" fill="none" opacity="0.8"/><line x1="23.2" y1="3" x2="23.2" y2="7.4" stroke="#b8b8b8" stroke-width="1.0"/><path d="M31.2,25.4 Q30.8,35.4 29.1,45.0" stroke="#a8a8a8" stroke-width="1.25" fill="none" opacity="0.8"/><line x1="31.2" y1="3" x2="31.2" y2="7.4" stroke="#b8b8b8" stroke-width="1.0"/><path d="M39.2,25.4 Q38.9,35.4 37.6,45.0" stroke="#a8a8a8" stroke-width="1.25" fill="none" opacity="0.8"/><line x1="39.2" y1="3" x2="39.2" y2="7.4" stroke="#b8b8b8" stroke-width="1.0"/><use href="#mouse" transform="translate(6.8,6.4) scale(1.06,1.053)" fill="url(#mg)" opacity="1.0"/><use href="#mouse" transform="translate(6.8,6.4) scale(1.06,1.053)" fill="url(#nSpeck)" opacity="0.35"/><use href="#mouse" transform="translate(15.0,6.4) scale(1.06,1.053)" fill="url(#mg)" opacity="1.0"/><use href="#mouse" transform="translate(15.0,6.4) scale(1.06,1.053)" fill="url(#nSpeck)" opacity="0.35"/><use href="#mouse" transform="translate(23.2,6.4) scale(1.06,1.053)" fill="url(#mg)" opacity="1.0"/><use href="#mouse" transform="translate(23.2,6.4) scale(1.06,1.053)" fill="url(#nSpeck)" opacity="0.35"/><use href="#mouse" transform="translate(31.2,6.4) scale(1.06,1.053)" fill="url(#mg)" opacity="1.0"/><use href="#mouse" transform="translate(31.2,6.4) scale(1.06,1.053)" fill="url(#nSpeck)" opacity="0.35"/><use href="#mouse" transform="translate(39.2,6.4) scale(1.06,1.053)" fill="url(#mg)" opacity="1.0"/><use href="#mouse" transform="translate(39.2,6.4) scale(1.06,1.053)" fill="url(#nSpeck)" opacity="0.35"/><ellipse cx="6.8" cy="8.0" rx="1.5" ry="1.5" fill="url(#bspot)"/><ellipse cx="15.0" cy="8.0" rx="1.5" ry="1.5" fill="url(#bspot)"/><ellipse cx="23.2" cy="8.0" rx="1.5" ry="1.5" fill="url(#bspot)"/><ellipse cx="31.2" cy="8.0" rx="1.5" ry="1.5" fill="url(#bspot)"/><ellipse cx="39.2" cy="8.0" rx="1.5" ry="1.5" fill="url(#bspot)"/><ellipse cx="6" cy="22" rx="2.2" ry="2.2" fill="url(#bspot)"/><ellipse cx="22" cy="21" rx="1.8" ry="1.8" fill="url(#bspot)"/><ellipse cx="39" cy="14" rx="1.5" ry="1.5" fill="url(#bspot)"/><ellipse cx="39" cy="21" rx="1.8" ry="1.8" fill="url(#bspot)"/></g></svg><svg x="315" y="63" width="43" height="44" overflow="hidden"><g filter="url(#soft)"><rect x="-2" y="-2" width="47" height="48" fill="url(#nDark)"/><rect x="-1" y="-1" width="45" height="5" fill="url(#strip)"/><rect x="-1" y="4" width="45" height="2.4" fill="#686868" opacity="0.55"/><path d="M6.8,25.4 Q7.0,35.4 8.0,45.0" stroke="#a8a8a8" stroke-width="1.25" fill="none" opacity="0.8"/><line x1="6.8" y1="3" x2="6.8" y2="7.4" stroke="#b8b8b8" stroke-width="1.0"/><path d="M15.0,25.4 Q15.3,35.4 16.5,45.0" stroke="#a8a8a8" stroke-width="1.25" fill="none" opacity="0.8"/><line x1="15.0" y1="3" x2="15.0" y2="7.4" stroke="#b8b8b8" stroke-width="1.0"/><path d="M23.2,25.4 Q22.9,35.4 21.7,45.0" stroke="#a8a8a8" stroke-width="1.25" fill="none" opacity="0.8"/><line x1="23.2" y1="3" x2="23.2" y2="7.4" stroke="#b8b8b8" stroke-width="1.0"/><path d="M31.2,25.4 Q31.1,35.4 30.7,45.0" stroke="#a8a8a8" stroke-width="1.25" fill="none" opacity="0.8"/><line x1="31.2" y1="3" x2="31.2" y2="7.4" stroke="#b8b8b8" stroke-width="1.0"/><path d="M39.2,25.4 Q39.3,35.4 39.6,45.0" stroke="#a8a8a8" stroke-width="1.25" fill="none" opacity="0.8"/><line x1="39.2" y1="3" x2="39.2" y2="7.4" stroke="#b8b8b8" stroke-width="1.0"/><use href="#mouse" transform="translate(6.8,6.4) scale(1.06,1.053)" fill="url(#mg)" opacity="1.0"/><use href="#mouse" transform="translate(6.8,6.4) scale(1.06,1.053)" fill="url(#nSpeck)" opacity="0.35"/><use href="#mouse" transform="translate(15.0,6.4) scale(1.06,1.053)" fill="url(#mg)" opacity="1.0"/><use href="#mouse" transform="translate(15.0,6.4) scale(1.06,1.053)" fill="url(#nSpeck)" opacity="0.35"/><use href="#mouse" transform="translate(23.2,6.4) scale(1.06,1.053)" fill="url(#mg)" opacity="1.0"/><use href="#mouse" transform="translate(23.2,6.4) scale(1.06,1.053)" fill="url(#nSpeck)" opacity="0.35"/><use href="#mouse" transform="translate(31.2,6.4) scale(1.06,1.053)" fill="url(#mg)" opacity="1.0"/><use href="#mouse" transform="translate(31.2,6.4) scale(1.06,1.053)" fill="url(#nSpeck)" opacity="0.35"/><use href="#mouse" transform="translate(39.2,6.4) scale(1.06,1.053)" fill="url(#mg)" opacity="1.0"/><use href="#mouse" transform="translate(39.2,6.4) scale(1.06,1.053)" fill="url(#nSpeck)" opacity="0.35"/><ellipse cx="6.8" cy="8.0" rx="1.5" ry="1.5" fill="url(#bspot)"/><ellipse cx="15.0" cy="8.0" rx="1.5" ry="1.5" fill="url(#bspot)"/><ellipse cx="23.2" cy="8.0" rx="1.5" ry="1.5" fill="url(#bspot)"/><ellipse cx="31.2" cy="8.0" rx="1.5" ry="1.5" fill="url(#bspot)"/><ellipse cx="39.2" cy="8.0" rx="1.5" ry="1.5" fill="url(#bspot)"/><ellipse cx="31" cy="22" rx="3.8" ry="3.2" fill="url(#heat)"/><ellipse cx="14" cy="15" rx="1.8" ry="1.8" fill="url(#bspot)"/><ellipse cx="38" cy="12" rx="1.5" ry="1.5" fill="url(#bspot)"/></g></svg><svg x="32" y="110" width="44" height="45" overflow="hidden"><g filter="url(#soft)"><rect x="-2" y="-2" width="48" height="49" fill="url(#nBlue)"/><path d="M6.8,22.1 Q6.9,32.1 7.2,46.0" stroke="#4a60c0" stroke-width="1.25" fill="none" opacity="0.5"/><path d="M15.0,22.1 Q14.9,32.1 14.6,46.0" stroke="#4a60c0" stroke-width="1.25" fill="none" opacity="0.5"/><path d="M23.2,22.1 Q23.3,32.1 23.5,46.0" stroke="#4a60c0" stroke-width="1.25" fill="none" opacity="0.5"/><path d="M31.2,22.1 Q31.6,32.1 33.1,46.0" stroke="#4a60c0" stroke-width="1.25" fill="none" opacity="0.5"/><path d="M39.2,22.1 Q39.5,32.1 40.9,46.0" stroke="#4a60c0" stroke-width="1.25" fill="none" opacity="0.5"/><use href="#mouse" transform="translate(6.8,3.6) scale(1.05,1.026)" fill="#2a78d8" opacity="0.85"/><use href="#mouse" transform="translate(15.0,3.6) scale(1.05,1.026)" fill="#2a78d8" opacity="0.85"/><use href="#mouse" transform="translate(23.2,3.6) scale(1.05,1.026)" fill="#2a78d8" opacity="0.85"/><use href="#mouse" transform="translate(31.2,3.6) scale(1.05,1.026)" fill="#2a78d8" opacity="0.85"/><use href="#mouse" transform="translate(39.2,3.6) scale(1.05,1.026)" fill="#2a78d8" opacity="0.85"/><ellipse cx="6.5" cy="12" rx="3.5" ry="5" fill="url(#heatG)"/><ellipse cx="15" cy="12" rx="3.5" ry="5.5" fill="url(#heatG)"/><ellipse cx="23" cy="12" rx="3.5" ry="5" fill="url(#heatG)"/><ellipse cx="31" cy="12" rx="3.8" ry="5.5" fill="url(#heatG)"/><ellipse cx="39" cy="12" rx="3.5" ry="5.5" fill="url(#heatG)"/><ellipse cx="6.5" cy="11.5" rx="2.6" ry="4.2" fill="none" stroke="#ff0000" stroke-width="1.7"/><ellipse cx="23" cy="11" rx="2.3" ry="3.8" fill="none" stroke="#ff0000" stroke-width="1.6"/><ellipse cx="14" cy="11" rx="1.5" ry="2" fill="#ff0000"/><ellipse cx="16.5" cy="14" rx="1.3" ry="1.3" fill="#ff0000"/><ellipse cx="30.5" cy="8" rx="1.8" ry="2" fill="#ff0000"/><ellipse cx="31" cy="13" rx="1.2" ry="1.2" fill="#ff0000"/><ellipse cx="39.5" cy="8" rx="1.2" ry="3.6" fill="#ff0000"/><ellipse cx="40" cy="5" rx="1" ry="1.5" fill="#ff0000"/><rect x="1.2" y="15.8" width="42" height="6.8" rx="2" fill="#ff0000"/><ellipse cx="6" cy="22" rx="3.2" ry="1.6" fill="#ff0000"/><ellipse cx="15" cy="21.8" rx="3.5" ry="1.6" fill="#ff0000"/><ellipse cx="31" cy="22.2" rx="3.5" ry="1.5" fill="#ff0000"/><ellipse cx="40" cy="21.5" rx="3" ry="1.5" fill="#ff0000"/></g></svg><svg x="79" y="110" width="44" height="45" overflow="hidden"><g filter="url(#soft)"><rect x="-2" y="-2" width="48" height="49" fill="url(#nBlue)"/><path d="M6.8,22.1 Q6.6,32.1 5.9,46.0" stroke="#6060c0" stroke-width="1.25" fill="none" opacity="0.5"/><path d="M15.0,22.1 Q15.4,32.1 17.1,46.0" stroke="#6060c0" stroke-width="1.25" fill="none" opacity="0.5"/><path d="M23.2,22.1 Q23.0,32.1 22.3,46.0" stroke="#6060c0" stroke-width="1.25" fill="none" opacity="0.5"/><path d="M31.2,22.1 Q31.0,32.1 30.4,46.0" stroke="#6060c0" stroke-width="1.25" fill="none" opacity="0.5"/><path d="M39.2,22.1 Q39.1,32.1 38.9,46.0" stroke="#6060c0" stroke-width="1.25" fill="none" opacity="0.5"/><use href="#mouse" transform="translate(6.8,3.6) scale(1.0,1.026)" fill="url(#nLav)" opacity="0.7"/><use href="#mouse" transform="translate(15.0,3.6) scale(1.0,1.026)" fill="url(#nLav)" opacity="0.7"/><use href="#mouse" transform="translate(23.2,3.6) scale(1.0,1.026)" fill="url(#nLav)" opacity="0.7"/><use href="#mouse" transform="translate(31.2,3.6) scale(1.0,1.026)" fill="url(#nLav)" opacity="0.7"/><use href="#mouse" transform="translate(39.2,3.6) scale(1.0,1.026)" fill="url(#nLav)" opacity="0.7"/><ellipse cx="5" cy="19" rx="4" ry="3.5" fill="url(#heatG)"/><ellipse cx="4.9" cy="20.6" rx="3.6" ry="3.6" fill="url(#rhalo)"/><ellipse cx="15.6" cy="18.1" rx="3" ry="2.6" fill="url(#rhalo)"/><ellipse cx="20.6" cy="9.3" rx="2" ry="2.3" fill="url(#rhalo)"/><ellipse cx="31" cy="17" rx="4" ry="4" fill="url(#heatG)"/><ellipse cx="30.9" cy="18.7" rx="3.3" ry="3.1" fill="url(#rhalo)"/><ellipse cx="30.9" cy="4.9" rx="1.8" ry="2" fill="url(#rhalo)"/><ellipse cx="39" cy="9" rx="3" ry="3.5" fill="url(#heatG)"/><ellipse cx="38.5" cy="9" rx="2.4" ry="2.4" fill="url(#rhalo)"/><ellipse cx="39.5" cy="18" rx="4" ry="4" fill="url(#heatG)"/><ellipse cx="39.5" cy="19.4" rx="4" ry="2.8" fill="url(#rhalo)"/><ellipse cx="9" cy="14" rx="1.5" ry="1.5" fill="url(#bspot)"/></g></svg><svg x="127" y="110" width="43" height="45" overflow="hidden"><g filter="url(#soft)"><rect x="-2" y="-2" width="47" height="49" fill="url(#nBlue)"/><path d="M6.8,24.5 Q7.1,34.5 8.3,46.0" stroke="#6060c0" stroke-width="1.25" fill="none" opacity="0.5"/><path d="M15.0,24.5 Q14.6,34.5 13.0,46.0" stroke="#6060c0" stroke-width="1.25" fill="none" opacity="0.5"/><path d="M23.2,24.5 Q23.6,34.5 25.0,46.0" stroke="#6060c0" stroke-width="1.25" fill="none" opacity="0.5"/><path d="M31.2,24.5 Q31.5,34.5 32.5,46.0" stroke="#6060c0" stroke-width="1.25" fill="none" opacity="0.5"/><path d="M39.2,24.5 Q39.2,34.5 39.1,46.0" stroke="#6060c0" stroke-width="1.25" fill="none" opacity="0.5"/><use href="#mouse" transform="translate(6.8,5.5) scale(1.0,1.053)" fill="url(#nLav)" opacity="0.65"/><use href="#mouse" transform="translate(15.0,5.5) scale(1.0,1.053)" fill="url(#nLav)" opacity="0.65"/><use href="#mouse" transform="translate(23.2,5.5) scale(1.0,1.053)" fill="url(#nLav)" opacity="0.65"/><use href="#mouse" transform="translate(31.2,5.5) scale(1.0,1.053)" fill="url(#nLav)" opacity="0.65"/><use href="#mouse" transform="translate(39.2,5.5) scale(1.0,1.053)" fill="url(#nLav)" opacity="0.65"/><ellipse cx="5" cy="20" rx="5" ry="4" fill="url(#heatG)"/><ellipse cx="4.9" cy="21.9" rx="3.6" ry="2.8" fill="url(#rhalo)"/><ellipse cx="13.7" cy="22.5" rx="3.6" ry="3" fill="url(#rhalo)"/><ellipse cx="7" cy="14" rx="2.5" ry="2.5" fill="url(#heatG)"/><ellipse cx="6.5" cy="15" rx="1.5" ry="1.5" fill="#ff0000"/><ellipse cx="3" cy="10.5" rx="1.2" ry="1.2" fill="#ff0000"/><ellipse cx="21" cy="14" rx="2.5" ry="2.5" fill="url(#heatG)"/><ellipse cx="20.6" cy="13.7" rx="1.4" ry="1.4" fill="#ff0000"/><ellipse cx="21" cy="19.5" rx="1.2" ry="1.2" fill="#ff0000"/><ellipse cx="28" cy="12" rx="2.5" ry="2.5" fill="url(#heatG)"/><ellipse cx="28" cy="10.5" rx="1" ry="1" fill="#ff0000"/><ellipse cx="40" cy="20" rx="3" ry="3" fill="url(#heatG)"/><ellipse cx="42" cy="21.2" rx="1.5" ry="1.5" fill="#ff0000"/><ellipse cx="38" cy="8.5" rx="1" ry="1" fill="#ff0000"/></g></svg><svg x="174" y="110" width="44" height="45" overflow="hidden"><g filter="url(#soft)"><rect x="-2" y="-2" width="48" height="49" fill="url(#nDark)"/><rect x="-1" y="-1" width="46" height="5" fill="url(#strip)"/><rect x="-1" y="4" width="46" height="1.0" fill="#686868" opacity="0.55"/><path d="M6.8,23.0 Q6.7,33.0 6.5,46.0" stroke="#a8a8a8" stroke-width="1.25" fill="none" opacity="0.8"/><line x1="6.8" y1="3" x2="6.8" y2="6.0" stroke="#b8b8b8" stroke-width="1.0"/><path d="M15.0,23.0 Q15.2,33.0 16.1,46.0" stroke="#a8a8a8" stroke-width="1.25" fill="none" opacity="0.8"/><line x1="15.0" y1="3" x2="15.0" y2="6.0" stroke="#b8b8b8" stroke-width="1.0"/><path d="M23.2,23.0 Q23.5,33.0 24.5,46.0" stroke="#a8a8a8" stroke-width="1.25" fill="none" opacity="0.8"/><line x1="23.2" y1="3" x2="23.2" y2="6.0" stroke="#b8b8b8" stroke-width="1.0"/><path d="M31.2,23.0 Q31.3,33.0 31.7,46.0" stroke="#a8a8a8" stroke-width="1.25" fill="none" opacity="0.8"/><line x1="31.2" y1="3" x2="31.2" y2="6.0" stroke="#b8b8b8" stroke-width="1.0"/><path d="M39.2,23.0 Q38.8,33.0 37.2,46.0" stroke="#a8a8a8" stroke-width="1.25" fill="none" opacity="0.8"/><line x1="39.2" y1="3" x2="39.2" y2="6.0" stroke="#b8b8b8" stroke-width="1.0"/><use href="#mouse" transform="translate(6.8,5.0) scale(1.06,1.000)" fill="url(#mg)" opacity="1.0"/><use href="#mouse" transform="translate(6.8,5.0) scale(1.06,1.000)" fill="url(#nSpeck)" opacity="0.35"/><use href="#mouse" transform="translate(15.0,5.0) scale(1.06,1.000)" fill="url(#mg)" opacity="1.0"/><use href="#mouse" transform="translate(15.0,5.0) scale(1.06,1.000)" fill="url(#nSpeck)" opacity="0.35"/><use href="#mouse" transform="translate(23.2,5.0) scale(1.06,1.000)" fill="url(#mg)" opacity="1.0"/><use href="#mouse" transform="translate(23.2,5.0) scale(1.06,1.000)" fill="url(#nSpeck)" opacity="0.35"/><use href="#mouse" transform="translate(31.2,5.0) scale(1.06,1.000)" fill="url(#mg)" opacity="1.0"/><use href="#mouse" transform="translate(31.2,5.0) scale(1.06,1.000)" fill="url(#nSpeck)" opacity="0.35"/><use href="#mouse" transform="translate(39.2,5.0) scale(1.06,1.000)" fill="url(#mg)" opacity="1.0"/><use href="#mouse" transform="translate(39.2,5.0) scale(1.06,1.000)" fill="url(#nSpeck)" opacity="0.35"/><ellipse cx="6.8" cy="6.6" rx="1.5" ry="1.5" fill="url(#bspot)"/><ellipse cx="15.0" cy="6.6" rx="1.5" ry="1.5" fill="url(#bspot)"/><ellipse cx="23.2" cy="6.6" rx="1.5" ry="1.5" fill="url(#bspot)"/><ellipse cx="31.2" cy="6.6" rx="1.5" ry="1.5" fill="url(#bspot)"/><ellipse cx="39.2" cy="6.6" rx="1.5" ry="1.5" fill="url(#bspot)"/><ellipse cx="23" cy="22" rx="2" ry="2" fill="url(#bspot)"/><ellipse cx="15" cy="16" rx="1.5" ry="1.5" fill="url(#bspot)"/></g></svg><svg x="221" y="110" width="44" height="45" overflow="hidden"><g filter="url(#soft)"><rect x="-2" y="-2" width="48" height="49" fill="url(#nDark)"/><rect x="-1" y="-1" width="46" height="5" fill="url(#strip)"/><rect x="-1" y="4" width="46" height="1.0" fill="#686868" opacity="0.55"/><path d="M6.8,23.0 Q6.8,33.0 6.6,46.0" stroke="#a8a8a8" stroke-width="1.25" fill="none" opacity="0.8"/><line x1="6.8" y1="3" x2="6.8" y2="6.0" stroke="#b8b8b8" stroke-width="1.0"/><path d="M15.0,23.0 Q14.8,33.0 14.2,46.0" stroke="#a8a8a8" stroke-width="1.25" fill="none" opacity="0.8"/><line x1="15.0" y1="3" x2="15.0" y2="6.0" stroke="#b8b8b8" stroke-width="1.0"/><path d="M23.2,23.0 Q23.2,33.0 23.0,46.0" stroke="#a8a8a8" stroke-width="1.25" fill="none" opacity="0.8"/><line x1="23.2" y1="3" x2="23.2" y2="6.0" stroke="#b8b8b8" stroke-width="1.0"/><path d="M31.2,23.0 Q31.5,33.0 32.9,46.0" stroke="#a8a8a8" stroke-width="1.25" fill="none" opacity="0.8"/><line x1="31.2" y1="3" x2="31.2" y2="6.0" stroke="#b8b8b8" stroke-width="1.0"/><path d="M39.2,23.0 Q38.9,33.0 37.8,46.0" stroke="#a8a8a8" stroke-width="1.25" fill="none" opacity="0.8"/><line x1="39.2" y1="3" x2="39.2" y2="6.0" stroke="#b8b8b8" stroke-width="1.0"/><use href="#mouse" transform="translate(6.8,5.0) scale(1.06,1.000)" fill="url(#mg)" opacity="1.0"/><use href="#mouse" transform="translate(6.8,5.0) scale(1.06,1.000)" fill="url(#nSpeck)" opacity="0.35"/><use href="#mouse" transform="translate(15.0,5.0) scale(1.06,1.000)" fill="url(#mg)" opacity="1.0"/><use href="#mouse" transform="translate(15.0,5.0) scale(1.06,1.000)" fill="url(#nSpeck)" opacity="0.35"/><use href="#mouse" transform="translate(23.2,5.0) scale(1.06,1.000)" fill="url(#mg)" opacity="1.0"/><use href="#mouse" transform="translate(23.2,5.0) scale(1.06,1.000)" fill="url(#nSpeck)" opacity="0.35"/><use href="#mouse" transform="translate(31.2,5.0) scale(1.06,1.000)" fill="url(#mg)" opacity="1.0"/><use href="#mouse" transform="translate(31.2,5.0) scale(1.06,1.000)" fill="url(#nSpeck)" opacity="0.35"/><use href="#mouse" transform="translate(39.2,5.0) scale(1.06,1.000)" fill="url(#mg)" opacity="1.0"/><use href="#mouse" transform="translate(39.2,5.0) scale(1.06,1.000)" fill="url(#nSpeck)" opacity="0.35"/><ellipse cx="6.8" cy="6.6" rx="1.5" ry="1.5" fill="url(#bspot)"/><ellipse cx="15.0" cy="6.6" rx="1.5" ry="1.5" fill="url(#bspot)"/><ellipse cx="23.2" cy="6.6" rx="1.5" ry="1.5" fill="url(#bspot)"/><ellipse cx="31.2" cy="6.6" rx="1.5" ry="1.5" fill="url(#bspot)"/><ellipse cx="39.2" cy="6.6" rx="1.5" ry="1.5" fill="url(#bspot)"/><ellipse cx="14" cy="12" rx="1.5" ry="1.5" fill="url(#bspot)"/><ellipse cx="26" cy="16" rx="2.5" ry="2.5" fill="url(#heat)"/><ellipse cx="15" cy="20" rx="2.5" ry="2.5" fill="url(#bspot)"/><ellipse cx="31" cy="20" rx="4" ry="3.5" fill="url(#heat)"/><ellipse cx="39" cy="14" rx="1.5" ry="1.5" fill="url(#bspot)"/></g></svg><svg x="268" y="110" width="43" height="45" overflow="hidden"><g filter="url(#soft)"><rect x="-2" y="-2" width="47" height="49" fill="url(#nDark)"/><rect x="-1" y="-1" width="45" height="5" fill="url(#strip)"/><rect x="-1" y="4" width="45" height="1.0" fill="#686868" opacity="0.55"/><path d="M6.8,23.0 Q7.2,33.0 8.8,46.0" stroke="#a8a8a8" stroke-width="1.25" fill="none" opacity="0.8"/><line x1="6.8" y1="3" x2="6.8" y2="6.0" stroke="#b8b8b8" stroke-width="1.0"/><path d="M15.0,23.0 Q14.9,33.0 14.5,46.0" stroke="#a8a8a8" stroke-width="1.25" fill="none" opacity="0.8"/><line x1="15.0" y1="3" x2="15.0" y2="6.0" stroke="#b8b8b8" stroke-width="1.0"/><path d="M23.2,23.0 Q23.4,33.0 24.2,46.0" stroke="#a8a8a8" stroke-width="1.25" fill="none" opacity="0.8"/><line x1="23.2" y1="3" x2="23.2" y2="6.0" stroke="#b8b8b8" stroke-width="1.0"/><path d="M31.2,23.0 Q31.4,33.0 32.0,46.0" stroke="#a8a8a8" stroke-width="1.25" fill="none" opacity="0.8"/><line x1="31.2" y1="3" x2="31.2" y2="6.0" stroke="#b8b8b8" stroke-width="1.0"/><path d="M39.2,23.0 Q39.4,33.0 40.4,46.0" stroke="#a8a8a8" stroke-width="1.25" fill="none" opacity="0.8"/><line x1="39.2" y1="3" x2="39.2" y2="6.0" stroke="#b8b8b8" stroke-width="1.0"/><use href="#mouse" transform="translate(6.8,5.0) scale(1.06,1.000)" fill="url(#mg)" opacity="1.0"/><use href="#mouse" transform="translate(6.8,5.0) scale(1.06,1.000)" fill="url(#nSpeck)" opacity="0.35"/><use href="#mouse" transform="translate(15.0,5.0) scale(1.06,1.000)" fill="url(#mg)" opacity="1.0"/><use href="#mouse" transform="translate(15.0,5.0) scale(1.06,1.000)" fill="url(#nSpeck)" opacity="0.35"/><use href="#mouse" transform="translate(23.2,5.0) scale(1.06,1.000)" fill="url(#mg)" opacity="1.0"/><use href="#mouse" transform="translate(23.2,5.0) scale(1.06,1.000)" fill="url(#nSpeck)" opacity="0.35"/><use href="#mouse" transform="translate(31.2,5.0) scale(1.06,1.000)" fill="url(#mg)" opacity="1.0"/><use href="#mouse" transform="translate(31.2,5.0) scale(1.06,1.000)" fill="url(#nSpeck)" opacity="0.35"/><use href="#mouse" transform="translate(39.2,5.0) scale(1.06,1.000)" fill="url(#mg)" opacity="1.0"/><use href="#mouse" transform="translate(39.2,5.0) scale(1.06,1.000)" fill="url(#nSpeck)" opacity="0.35"/><ellipse cx="6.8" cy="6.6" rx="1.5" ry="1.5" fill="url(#bspot)"/><ellipse cx="15.0" cy="6.6" rx="1.5" ry="1.5" fill="url(#bspot)"/><ellipse cx="23.2" cy="6.6" rx="1.5" ry="1.5" fill="url(#bspot)"/><ellipse cx="31.2" cy="6.6" rx="1.5" ry="1.5" fill="url(#bspot)"/><ellipse cx="39.2" cy="6.6" rx="1.5" ry="1.5" fill="url(#bspot)"/><ellipse cx="6" cy="20" rx="5" ry="4.8" fill="url(#heat)"/><ellipse cx="23" cy="18" rx="1.5" ry="1.5" fill="url(#bspot)"/><ellipse cx="31" cy="14" rx="1.5" ry="1.5" fill="url(#bspot)"/><ellipse cx="39" cy="22" rx="1.8" ry="1.8" fill="url(#bspot)"/></g></svg><svg x="315" y="110" width="43" height="45" overflow="hidden"><g filter="url(#soft)"><rect x="-2" y="-2" width="47" height="49" fill="url(#nDark)"/><rect x="-1" y="-1" width="45" height="5" fill="url(#strip)"/><rect x="-1" y="4" width="45" height="1.0" fill="#686868" opacity="0.55"/><path d="M7.0,23.0 Q7.2,33.0 8.1,46.0" stroke="#a8a8a8" stroke-width="1.25" fill="none" opacity="0.8"/><line x1="7.0" y1="3" x2="7.0" y2="6.0" stroke="#b8b8b8" stroke-width="1.0"/><path d="M15.0,23.0 Q14.8,33.0 13.9,46.0" stroke="#a8a8a8" stroke-width="1.25" fill="none" opacity="0.8"/><line x1="15.0" y1="3" x2="15.0" y2="6.0" stroke="#b8b8b8" stroke-width="1.0"/><path d="M23.0,23.0 Q23.1,33.0 23.7,46.0" stroke="#a8a8a8" stroke-width="1.25" fill="none" opacity="0.8"/><line x1="23.0" y1="3" x2="23.0" y2="6.0" stroke="#b8b8b8" stroke-width="1.0"/><path d="M31.0,23.0 Q30.9,33.0 30.4,46.0" stroke="#a8a8a8" stroke-width="1.25" fill="none" opacity="0.8"/><line x1="31.0" y1="3" x2="31.0" y2="6.0" stroke="#b8b8b8" stroke-width="1.0"/><path d="M39.0,23.0 Q39.4,33.0 41.0,46.0" stroke="#a8a8a8" stroke-width="1.25" fill="none" opacity="0.8"/><line x1="39.0" y1="3" x2="39.0" y2="6.0" stroke="#b8b8b8" stroke-width="1.0"/><use href="#mouse" transform="translate(7.0,5.0) scale(1.06,1.000)" fill="url(#mg)" opacity="1.0"/><use href="#mouse" transform="translate(7.0,5.0) scale(1.06,1.000)" fill="url(#nSpeck)" opacity="0.35"/><use href="#mouse" transform="translate(15.0,5.0) scale(1.06,1.000)" fill="url(#mg)" opacity="1.0"/><use href="#mouse" transform="translate(15.0,5.0) scale(1.06,1.000)" fill="url(#nSpeck)" opacity="0.35"/><use href="#mouse" transform="translate(23.0,5.0) scale(1.06,1.000)" fill="url(#mg)" opacity="1.0"/><use href="#mouse" transform="translate(23.0,5.0) scale(1.06,1.000)" fill="url(#nSpeck)" opacity="0.35"/><use href="#mouse" transform="translate(31.0,5.0) scale(1.06,1.000)" fill="url(#mg)" opacity="1.0"/><use href="#mouse" transform="translate(31.0,5.0) scale(1.06,1.000)" fill="url(#nSpeck)" opacity="0.35"/><use href="#mouse" transform="translate(39.0,5.0) scale(1.06,1.000)" fill="url(#mg)" opacity="1.0"/><use href="#mouse" transform="translate(39.0,5.0) scale(1.06,1.000)" fill="url(#nSpeck)" opacity="0.35"/><ellipse cx="6.8" cy="6.6" rx="1.5" ry="1.5" fill="url(#bspot)"/><ellipse cx="15.0" cy="6.6" rx="1.5" ry="1.5" fill="url(#bspot)"/><ellipse cx="23.2" cy="6.6" rx="1.5" ry="1.5" fill="url(#bspot)"/><ellipse cx="31.2" cy="6.6" rx="1.5" ry="1.5" fill="url(#bspot)"/><ellipse cx="39.2" cy="6.6" rx="1.5" ry="1.5" fill="url(#bspot)"/><ellipse cx="15" cy="19" rx="3" ry="3" fill="url(#heat)"/><ellipse cx="32" cy="18.5" rx="3.2" ry="3" fill="url(#heat)"/><ellipse cx="39.5" cy="20" rx="3" ry="3" fill="url(#heat)"/></g></svg><svg x="32" y="158" width="44" height="44" overflow="hidden"><g filter="url(#soft)"><rect x="-2" y="-2" width="48" height="48" fill="url(#nTeal)"/><path d="M6.8,25.0 Q6.5,35.0 5.1,45.0" stroke="#80a090" stroke-width="1.25" fill="none" opacity="0.4"/><path d="M15.0,25.0 Q14.6,35.0 13.2,45.0" stroke="#80a090" stroke-width="1.25" fill="none" opacity="0.4"/><path d="M23.2,25.0 Q22.9,35.0 21.6,45.0" stroke="#80a090" stroke-width="1.25" fill="none" opacity="0.4"/><path d="M31.2,25.0 Q30.8,35.0 29.1,45.0" stroke="#80a090" stroke-width="1.25" fill="none" opacity="0.4"/><path d="M39.2,25.0 Q38.9,35.0 37.5,45.0" stroke="#80a090" stroke-width="1.25" fill="none" opacity="0.4"/><rect x="4.5" y="17.5" width="39.5" height="7.8" rx="2" fill="url(#nRedFill)"/><rect x="6" y="12.5" width="37" height="7" rx="1.5" fill="url(#nRedFill)"/><ellipse cx="9" cy="12" rx="2.8" ry="3" fill="url(#nRedFill)"/><ellipse cx="16.5" cy="12.5" rx="3" ry="3" fill="url(#nRedFill)"/><ellipse cx="24" cy="12" rx="3.2" ry="2.8" fill="url(#nRedFill)"/><ellipse cx="32" cy="11" rx="3" ry="3.2" fill="url(#nRedFill)"/><ellipse cx="39.5" cy="9" rx="2.6" ry="3.8" fill="url(#nRedFill)"/><ellipse cx="10" cy="25" rx="1.5" ry="1.2" fill="url(#nRedFill)"/><ellipse cx="28" cy="25.5" rx="1.5" ry="1" fill="url(#nRedFill)"/></g></svg><svg x="79" y="158" width="44" height="44" overflow="hidden"><g filter="url(#soft)"><rect x="-2" y="-2" width="48" height="48" fill="url(#nTeal)"/><path d="M6.8,24.5 Q6.7,34.5 6.4,45.0" stroke="#90a090" stroke-width="1.25" fill="none" opacity="0.4"/><path d="M15.0,24.5 Q15.1,34.5 15.4,45.0" stroke="#90a090" stroke-width="1.25" fill="none" opacity="0.4"/><path d="M23.2,24.5 Q23.2,34.5 23.0,45.0" stroke="#90a090" stroke-width="1.25" fill="none" opacity="0.4"/><path d="M31.2,24.5 Q30.8,34.5 29.3,45.0" stroke="#90a090" stroke-width="1.25" fill="none" opacity="0.4"/><path d="M39.2,24.5 Q38.9,34.5 37.6,45.0" stroke="#90a090" stroke-width="1.25" fill="none" opacity="0.4"/><use href="#mouse" transform="translate(6.8,7.5) scale(0.9,0.947)" fill="url(#nWhiteSpeck)" opacity="0.8"/><use href="#mouse" transform="translate(15.0,7.5) scale(0.9,0.947)" fill="url(#nWhiteSpeck)" opacity="0.8"/><use href="#mouse" transform="translate(23.2,7.5) scale(0.9,0.947)" fill="url(#nWhiteSpeck)" opacity="0.8"/><use href="#mouse" transform="translate(31.2,7.5) scale(0.9,0.947)" fill="url(#nWhiteSpeck)" opacity="0.8"/><use href="#mouse" transform="translate(39.2,7.5) scale(0.9,0.947)" fill="url(#nWhiteSpeck)" opacity="0.8"/><ellipse cx="8.7" cy="24.4" rx="4" ry="3.5" fill="url(#nRedFill)"/><ellipse cx="18.7" cy="21.9" rx="3.6" ry="3.4" fill="url(#nRedFill)"/><ellipse cx="23.8" cy="13.7" rx="2" ry="2" fill="url(#nRedFill)"/><ellipse cx="24.5" cy="22" rx="1.6" ry="1.6" fill="url(#nRedFill)"/><ellipse cx="31.7" cy="10.6" rx="2" ry="2.3" fill="url(#nRedFill)"/><ellipse cx="32" cy="22.5" rx="3.8" ry="3.5" fill="url(#nRedFill)"/><ellipse cx="38.2" cy="12.4" rx="3" ry="2.5" fill="url(#nRedFill)"/><ellipse cx="39.5" cy="23" rx="3.5" ry="2.2" fill="url(#nRedFill)"/></g></svg><svg x="127" y="158" width="43" height="44" overflow="hidden"><g filter="url(#soft)"><rect x="-2" y="-2" width="47" height="48" fill="url(#nBlue2)"/><path d="M6.8,26.5 Q6.4,36.5 4.7,45.0" stroke="#6a80d0" stroke-width="1.25" fill="none" opacity="0.5"/><path d="M15.0,26.5 Q15.1,36.5 15.5,45.0" stroke="#6a80d0" stroke-width="1.25" fill="none" opacity="0.5"/><path d="M23.2,26.5 Q23.0,36.5 22.3,45.0" stroke="#6a80d0" stroke-width="1.25" fill="none" opacity="0.5"/><path d="M31.2,26.5 Q31.2,36.5 31.4,45.0" stroke="#6a80d0" stroke-width="1.25" fill="none" opacity="0.5"/><path d="M39.2,26.5 Q39.1,36.5 38.5,45.0" stroke="#6a80d0" stroke-width="1.25" fill="none" opacity="0.5"/><use href="#mouse" transform="translate(6.8,9) scale(1.0,0.974)" fill="url(#nLav)" opacity="0.6" stroke="#30c8c0" stroke-width="0.9" vector-effect="non-scaling-stroke"/><use href="#mouse" transform="translate(15.0,9) scale(1.0,0.974)" fill="url(#nLav)" opacity="0.6" stroke="#30c8c0" stroke-width="0.9" vector-effect="non-scaling-stroke"/><use href="#mouse" transform="translate(23.2,9) scale(1.0,0.974)" fill="url(#nLav)" opacity="0.6" stroke="#30c8c0" stroke-width="0.9" vector-effect="non-scaling-stroke"/><use href="#mouse" transform="translate(31.2,9) scale(1.0,0.974)" fill="url(#nLav)" opacity="0.6" stroke="#30c8c0" stroke-width="0.9" vector-effect="non-scaling-stroke"/><use href="#mouse" transform="translate(39.2,9) scale(1.0,0.974)" fill="url(#nLav)" opacity="0.6" stroke="#30c8c0" stroke-width="0.9" vector-effect="non-scaling-stroke"/><ellipse cx="12" cy="23" rx="9" ry="5.5" fill="url(#heatG)"/><ellipse cx="7" cy="24" rx="3.5" ry="3" fill="#ff0000"/><ellipse cx="12" cy="24.5" rx="3" ry="2.5" fill="#ff0000"/><ellipse cx="17" cy="23.5" rx="3.5" ry="3" fill="#ff0000"/><ellipse cx="9.3" cy="18.1" rx="2.4" ry="2.6" fill="#ff0000"/><ellipse cx="5.5" cy="14.3" rx="2.8" ry="2.8" fill="url(#heatG)"/><ellipse cx="5.5" cy="14.3" rx="1.8" ry="1.8" fill="#ff0000"/><ellipse cx="30" cy="14" rx="3" ry="3" fill="url(#heatG)"/><ellipse cx="30" cy="13.7" rx="1.8" ry="1.8" fill="#ff0000"/><ellipse cx="31" cy="22" rx="2.8" ry="2.8" fill="url(#heatG)"/><ellipse cx="30" cy="21" rx="1.4" ry="1.4" fill="#ff0000"/><ellipse cx="39" cy="13" rx="2.5" ry="2.5" fill="url(#heatG)"/><ellipse cx="38.8" cy="12.4" rx="1.5" ry="1.5" fill="#ff0000"/><ellipse cx="38" cy="17" rx="2" ry="2" fill="url(#heatG)"/><ellipse cx="37.5" cy="17" rx="1.3" ry="1.3" fill="#ff0000"/><ellipse cx="41" cy="21.5" rx="2.5" ry="2.5" fill="url(#heatG)"/><ellipse cx="41.5" cy="21.5" rx="1.5" ry="1.5" fill="#ff0000"/></g></svg><svg x="174" y="158" width="44" height="44" overflow="hidden"><g filter="url(#soft)"><rect x="-2" y="-2" width="48" height="48" fill="url(#nDark)"/><rect x="-1" y="-1" width="46" height="5" fill="url(#strip)"/><rect x="-1" y="4" width="46" height="5.9" fill="#686868" opacity="0.55"/><path d="M7.4,26.1 Q7.7,36.1 9.0,45.0" stroke="#a8a8a8" stroke-width="1.25" fill="none" opacity="0.8"/><line x1="7.4" y1="3" x2="7.4" y2="10.9" stroke="#b8b8b8" stroke-width="1.0"/><line x1="11.5" y1="3" x2="11.5" y2="9.4" stroke="#9a9a9a" stroke-width="1.2"/><path d="M15.6,26.1 Q15.6,36.1 15.4,45.0" stroke="#a8a8a8" stroke-width="1.25" fill="none" opacity="0.8"/><line x1="15.6" y1="3" x2="15.6" y2="10.9" stroke="#b8b8b8" stroke-width="1.0"/><line x1="19.7" y1="3" x2="19.7" y2="9.4" stroke="#9a9a9a" stroke-width="1.2"/><path d="M23.1,26.1 Q22.9,36.1 21.9,45.0" stroke="#a8a8a8" stroke-width="1.25" fill="none" opacity="0.8"/><line x1="23.1" y1="3" x2="23.1" y2="10.9" stroke="#b8b8b8" stroke-width="1.0"/><line x1="27.2" y1="3" x2="27.2" y2="9.4" stroke="#9a9a9a" stroke-width="1.2"/><path d="M30.9,26.1 Q31.2,36.1 32.2,45.0" stroke="#a8a8a8" stroke-width="1.25" fill="none" opacity="0.8"/><line x1="30.9" y1="3" x2="30.9" y2="10.9" stroke="#b8b8b8" stroke-width="1.0"/><line x1="35.0" y1="3" x2="35.0" y2="9.4" stroke="#9a9a9a" stroke-width="1.2"/><path d="M38.8,26.1 Q38.8,36.1 38.7,45.0" stroke="#a8a8a8" stroke-width="1.25" fill="none" opacity="0.8"/><line x1="38.8" y1="3" x2="38.8" y2="10.9" stroke="#b8b8b8" stroke-width="1.0"/><line x1="42.9" y1="3" x2="42.9" y2="9.4" stroke="#9a9a9a" stroke-width="1.2"/><use href="#mouse" transform="translate(7.4,9.9) scale(1.06,0.905)" fill="url(#mg)" opacity="1.0"/><use href="#mouse" transform="translate(7.4,9.9) scale(1.06,0.905)" fill="url(#nSpeck)" opacity="0.35"/><use href="#mouse" transform="translate(15.6,9.9) scale(1.06,0.905)" fill="url(#mg)" opacity="1.0"/><use href="#mouse" transform="translate(15.6,9.9) scale(1.06,0.905)" fill="url(#nSpeck)" opacity="0.35"/><use href="#mouse" transform="translate(23.1,9.9) scale(1.06,0.905)" fill="url(#mg)" opacity="1.0"/><use href="#mouse" transform="translate(23.1,9.9) scale(1.06,0.905)" fill="url(#nSpeck)" opacity="0.35"/><use href="#mouse" transform="translate(30.9,9.9) scale(1.06,0.905)" fill="url(#mg)" opacity="1.0"/><use href="#mouse" transform="translate(30.9,9.9) scale(1.06,0.905)" fill="url(#nSpeck)" opacity="0.35"/><use href="#mouse" transform="translate(38.8,9.9) scale(1.06,0.905)" fill="url(#mg)" opacity="1.0"/><use href="#mouse" transform="translate(38.8,9.9) scale(1.06,0.905)" fill="url(#nSpeck)" opacity="0.35"/><ellipse cx="6.2" cy="22.5" rx="1.4" ry="1.4" fill="url(#bspot)"/><ellipse cx="30" cy="26" rx="3.2" ry="2.6" fill="url(#heat)"/><ellipse cx="39.5" cy="10.5" rx="1.8" ry="1.8" fill="url(#bspot)"/></g></svg><svg x="221" y="158" width="44" height="44" overflow="hidden"><g filter="url(#soft)"><rect x="-2" y="-2" width="48" height="48" fill="url(#nDark)"/><rect x="-1" y="-1" width="46" height="5" fill="url(#strip)"/><rect x="-1" y="4" width="46" height="5.9" fill="#686868" opacity="0.55"/><path d="M6.8,26.1 Q6.9,36.1 7.3,45.0" stroke="#a8a8a8" stroke-width="1.25" fill="none" opacity="0.8"/><line x1="6.8" y1="3" x2="6.8" y2="10.9" stroke="#b8b8b8" stroke-width="1.0"/><line x1="10.9" y1="3" x2="10.9" y2="9.4" stroke="#9a9a9a" stroke-width="1.2"/><path d="M15.0,26.1 Q15.4,36.1 16.9,45.0" stroke="#a8a8a8" stroke-width="1.25" fill="none" opacity="0.8"/><line x1="15.0" y1="3" x2="15.0" y2="10.9" stroke="#b8b8b8" stroke-width="1.0"/><line x1="19.1" y1="3" x2="19.1" y2="9.4" stroke="#9a9a9a" stroke-width="1.2"/><path d="M23.2,26.1 Q22.8,36.1 21.3,45.0" stroke="#a8a8a8" stroke-width="1.25" fill="none" opacity="0.8"/><line x1="23.2" y1="3" x2="23.2" y2="10.9" stroke="#b8b8b8" stroke-width="1.0"/><line x1="27.3" y1="3" x2="27.3" y2="9.4" stroke="#9a9a9a" stroke-width="1.2"/><path d="M31.2,26.1 Q31.1,36.1 30.5,45.0" stroke="#a8a8a8" stroke-width="1.25" fill="none" opacity="0.8"/><line x1="31.2" y1="3" x2="31.2" y2="10.9" stroke="#b8b8b8" stroke-width="1.0"/><line x1="35.3" y1="3" x2="35.3" y2="9.4" stroke="#9a9a9a" stroke-width="1.2"/><path d="M39.2,26.1 Q39.1,36.1 38.5,45.0" stroke="#a8a8a8" stroke-width="1.25" fill="none" opacity="0.8"/><line x1="39.2" y1="3" x2="39.2" y2="10.9" stroke="#b8b8b8" stroke-width="1.0"/><line x1="43.3" y1="3" x2="43.3" y2="9.4" stroke="#9a9a9a" stroke-width="1.2"/><use href="#mouse" transform="translate(6.8,9.9) scale(1.06,0.905)" fill="url(#mg)" opacity="1.0"/><use href="#mouse" transform="translate(6.8,9.9) scale(1.06,0.905)" fill="url(#nSpeck)" opacity="0.35"/><use href="#mouse" transform="translate(15.0,9.9) scale(1.06,0.905)" fill="url(#mg)" opacity="1.0"/><use href="#mouse" transform="translate(15.0,9.9) scale(1.06,0.905)" fill="url(#nSpeck)" opacity="0.35"/><use href="#mouse" transform="translate(23.2,9.9) scale(1.06,0.905)" fill="url(#mg)" opacity="1.0"/><use href="#mouse" transform="translate(23.2,9.9) scale(1.06,0.905)" fill="url(#nSpeck)" opacity="0.35"/><use href="#mouse" transform="translate(31.2,9.9) scale(1.06,0.905)" fill="url(#mg)" opacity="1.0"/><use href="#mouse" transform="translate(31.2,9.9) scale(1.06,0.905)" fill="url(#nSpeck)" opacity="0.35"/><use href="#mouse" transform="translate(39.2,9.9) scale(1.06,0.905)" fill="url(#mg)" opacity="1.0"/><use href="#mouse" transform="translate(39.2,9.9) scale(1.06,0.905)" fill="url(#nSpeck)" opacity="0.35"/><ellipse cx="6" cy="11" rx="1.2" ry="1.2" fill="url(#bspot)"/><ellipse cx="14.5" cy="13.5" rx="3" ry="3" fill="url(#heat)"/><ellipse cx="13.5" cy="23" rx="3.4" ry="3" fill="url(#heat)"/><ellipse cx="22.5" cy="22.5" rx="3.2" ry="3" fill="url(#heat)"/><ellipse cx="30.5" cy="20.5" rx="4.5" ry="3.5" fill="url(#bspot)"/><ellipse cx="29.5" cy="21" rx="2.5" ry="2.2" fill="url(#heat)"/><ellipse cx="31" cy="11.5" rx="2.5" ry="2.5" fill="url(#bspot)"/><ellipse cx="35" cy="23" rx="2.2" ry="2.2" fill="url(#bspot)"/><ellipse cx="39" cy="20" rx="1.2" ry="1.2" fill="url(#bspot)"/></g></svg><svg x="268" y="158" width="43" height="44" overflow="hidden"><g filter="url(#soft)"><rect x="-2" y="-2" width="47" height="48" fill="url(#nPurp)"/><rect x="-1" y="-1" width="45" height="4" fill="#6a60c0" opacity="0.7"/><path d="M6.8,25.0 Q6.6,35.0 5.9,45.0" stroke="#7060c0" stroke-width="1.25" fill="none" opacity="0.5"/><path d="M15.0,25.0 Q14.6,35.0 13.0,45.0" stroke="#7060c0" stroke-width="1.25" fill="none" opacity="0.5"/><path d="M23.2,25.0 Q23.1,35.0 22.6,45.0" stroke="#7060c0" stroke-width="1.25" fill="none" opacity="0.5"/><path d="M31.2,25.0 Q31.4,35.0 32.3,45.0" stroke="#7060c0" stroke-width="1.25" fill="none" opacity="0.5"/><path d="M39.2,25.0 Q39.6,35.0 41.3,45.0" stroke="#7060c0" stroke-width="1.25" fill="none" opacity="0.5"/><use href="#mouse" transform="translate(6.8,7.7) scale(1.1,0.963)" fill="url(#nLav)" opacity="0.95"/><use href="#mouse" transform="translate(15.0,7.7) scale(1.1,0.963)" fill="url(#nLav)" opacity="0.95"/><use href="#mouse" transform="translate(23.2,7.7) scale(1.1,0.963)" fill="url(#nLav)" opacity="0.95"/><use href="#mouse" transform="translate(31.2,7.7) scale(1.1,0.963)" fill="url(#nLav)" opacity="0.95"/><use href="#mouse" transform="translate(39.2,7.7) scale(1.1,0.963)" fill="url(#nLav)" opacity="0.95"/><ellipse cx="5.5" cy="22.6" rx="5.5" ry="4.8" fill="url(#heat)"/><ellipse cx="5.5" cy="22.6" rx="3.4" ry="2.6" fill="#ff0000"/><ellipse cx="20" cy="22" rx="1.3" ry="1.3" fill="url(#heatG)"/></g></svg><svg x="315" y="158" width="43" height="44" overflow="hidden"><g filter="url(#soft)"><rect x="-2" y="-2" width="47" height="48" fill="url(#nDark)"/><rect x="-1" y="-1" width="45" height="5" fill="url(#strip)"/><rect x="-1" y="4" width="45" height="5.9" fill="#686868" opacity="0.55"/><path d="M6.8,26.1 Q7.1,36.1 8.4,45.0" stroke="#a8a8a8" stroke-width="1.25" fill="none" opacity="0.8"/><line x1="6.8" y1="3" x2="6.8" y2="10.9" stroke="#b8b8b8" stroke-width="1.0"/><line x1="10.9" y1="3" x2="10.9" y2="9.4" stroke="#9a9a9a" stroke-width="1.2"/><path d="M15.0,26.1 Q15.3,36.1 16.6,45.0" stroke="#a8a8a8" stroke-width="1.25" fill="none" opacity="0.8"/><line x1="15.0" y1="3" x2="15.0" y2="10.9" stroke="#b8b8b8" stroke-width="1.0"/><line x1="19.1" y1="3" x2="19.1" y2="9.4" stroke="#9a9a9a" stroke-width="1.2"/><path d="M23.2,26.1 Q22.9,36.1 21.9,45.0" stroke="#a8a8a8" stroke-width="1.25" fill="none" opacity="0.8"/><line x1="23.2" y1="3" x2="23.2" y2="10.9" stroke="#b8b8b8" stroke-width="1.0"/><line x1="27.3" y1="3" x2="27.3" y2="9.4" stroke="#9a9a9a" stroke-width="1.2"/><path d="M31.2,26.1 Q30.8,36.1 29.3,45.0" stroke="#a8a8a8" stroke-width="1.25" fill="none" opacity="0.8"/><line x1="31.2" y1="3" x2="31.2" y2="10.9" stroke="#b8b8b8" stroke-width="1.0"/><line x1="35.3" y1="3" x2="35.3" y2="9.4" stroke="#9a9a9a" stroke-width="1.2"/><path d="M39.2,26.1 Q39.3,36.1 39.6,45.0" stroke="#a8a8a8" stroke-width="1.25" fill="none" opacity="0.8"/><line x1="39.2" y1="3" x2="39.2" y2="10.9" stroke="#b8b8b8" stroke-width="1.0"/><line x1="43.3" y1="3" x2="43.3" y2="9.4" stroke="#9a9a9a" stroke-width="1.2"/><use href="#mouse" transform="translate(6.8,9.9) scale(1.06,0.905)" fill="url(#mg)" opacity="1.0"/><use href="#mouse" transform="translate(6.8,9.9) scale(1.06,0.905)" fill="url(#nSpeck)" opacity="0.35"/><use href="#mouse" transform="translate(15.0,9.9) scale(1.06,0.905)" fill="url(#mg)" opacity="1.0"/><use href="#mouse" transform="translate(15.0,9.9) scale(1.06,0.905)" fill="url(#nSpeck)" opacity="0.35"/><use href="#mouse" transform="translate(23.2,9.9) scale(1.06,0.905)" fill="url(#mg)" opacity="1.0"/><use href="#mouse" transform="translate(23.2,9.9) scale(1.06,0.905)" fill="url(#nSpeck)" opacity="0.35"/><use href="#mouse" transform="translate(31.2,9.9) scale(1.06,0.905)" fill="url(#mg)" opacity="1.0"/><use href="#mouse" transform="translate(31.2,9.9) scale(1.06,0.905)" fill="url(#nSpeck)" opacity="0.35"/><use href="#mouse" transform="translate(39.2,9.9) scale(1.06,0.905)" fill="url(#mg)" opacity="1.0"/><use href="#mouse" transform="translate(39.2,9.9) scale(1.06,0.905)" fill="url(#nSpeck)" opacity="0.35"/><ellipse cx="39" cy="21" rx="3.2" ry="2.6" fill="url(#heat)"/><ellipse cx="35" cy="19" rx="1.5" ry="1.5" fill="url(#bspot)"/></g></svg><svg x="32" y="205" width="44" height="45" overflow="hidden"><g filter="url(#soft)"><rect x="-2" y="-2" width="48" height="49" fill="url(#nMix)"/><path d="M6.8,21.0 Q7.2,31.0 8.9,46.0" stroke="#9a8a7a" stroke-width="1.25" fill="none" opacity="0.3"/><path d="M15.0,21.0 Q14.6,31.0 13.0,46.0" stroke="#9a8a7a" stroke-width="1.25" fill="none" opacity="0.3"/><path d="M23.2,21.0 Q23.2,31.0 23.0,46.0" stroke="#9a8a7a" stroke-width="1.25" fill="none" opacity="0.3"/><path d="M31.2,21.0 Q31.1,31.0 30.6,46.0" stroke="#9a8a7a" stroke-width="1.25" fill="none" opacity="0.3"/><path d="M39.2,21.0 Q39.5,31.0 40.5,46.0" stroke="#9a8a7a" stroke-width="1.25" fill="none" opacity="0.3"/><rect x="2" y="10" width="41.5" height="12" rx="1.5" fill="url(#nRedFill)"/><use href="#mouse" transform="translate(6.5,3) scale(1.15,0.947)" fill="url(#nRedFill)"/><use href="#mouse" transform="translate(15,5.5) scale(1.0,0.842)" fill="url(#nRedFill)"/><use href="#mouse" transform="translate(22.5,4.5) scale(1.0,0.895)" fill="url(#nRedFill)"/><use href="#mouse" transform="translate(30,2.5) scale(0.9,1.000)" fill="url(#nRedFill)"/><use href="#mouse" transform="translate(38,3) scale(1.25,1.000)" fill="url(#nRedFill)"/></g></svg><svg x="79" y="205" width="44" height="45" overflow="hidden"><g filter="url(#soft)"><rect x="-2" y="-2" width="48" height="49" fill="url(#nMix)"/><path d="M6.8,20.0 Q7.1,30.0 8.1,46.0" stroke="#9a9a8a" stroke-width="1.25" fill="none" opacity="0.35"/><path d="M15.0,20.0 Q15.2,30.0 16.2,46.0" stroke="#9a9a8a" stroke-width="1.25" fill="none" opacity="0.35"/><path d="M23.2,20.0 Q23.5,30.0 24.5,46.0" stroke="#9a9a8a" stroke-width="1.25" fill="none" opacity="0.35"/><path d="M31.2,20.0 Q30.8,30.0 29.1,46.0" stroke="#9a9a8a" stroke-width="1.25" fill="none" opacity="0.35"/><path d="M39.2,20.0 Q39.4,30.0 40.1,46.0" stroke="#9a9a8a" stroke-width="1.25" fill="none" opacity="0.35"/><use href="#mouse" transform="translate(6.8,3) scale(1.06,0.947)" fill="url(#nWhiteSpeck)" opacity="0.75"/><use href="#mouse" transform="translate(15.0,3) scale(1.06,0.947)" fill="url(#nWhiteSpeck)" opacity="0.75"/><use href="#mouse" transform="translate(23.2,3) scale(1.06,0.947)" fill="url(#nWhiteSpeck)" opacity="0.75"/><use href="#mouse" transform="translate(31.2,3) scale(1.06,0.947)" fill="url(#nWhiteSpeck)" opacity="0.75"/><use href="#mouse" transform="translate(39.2,3) scale(1.06,0.947)" fill="url(#nWhiteSpeck)" opacity="0.75"/><ellipse cx="5.5" cy="18.1" rx="4.2" ry="3.8" fill="url(#nRedFill)"/><ellipse cx="4.5" cy="5" rx="1.5" ry="2" fill="url(#nRedFill)"/><ellipse cx="15.6" cy="17.5" rx="4" ry="3.4" fill="url(#nRedFill)"/><ellipse cx="23.1" cy="15.5" rx="3.2" ry="4.5" fill="url(#nRedFill)"/><ellipse cx="23" cy="7" rx="1.8" ry="2.5" fill="url(#nRedFill)"/><use href="#mouse" transform="translate(31,0.5) scale(1.3,1.132)" fill="url(#nRedFill)"/><use href="#mouse" transform="translate(39.5,1.8) scale(1.25,1.053)" fill="url(#nRedFill)"/><rect x="26" y="13" width="17.5" height="8.5" rx="2" fill="url(#nRedFill)"/></g></svg><svg x="127" y="205" width="43" height="45" overflow="hidden"><g filter="url(#soft)"><rect x="-2" y="-2" width="47" height="49" fill="url(#nMix)"/><path d="M6.8,21.0 Q7.1,31.0 8.3,46.0" stroke="#9a9a8a" stroke-width="1.25" fill="none" opacity="0.35"/><path d="M15.0,21.0 Q14.8,31.0 14.2,46.0" stroke="#9a9a8a" stroke-width="1.25" fill="none" opacity="0.35"/><path d="M23.2,21.0 Q22.8,31.0 21.2,46.0" stroke="#9a9a8a" stroke-width="1.25" fill="none" opacity="0.35"/><path d="M31.2,21.0 Q31.5,31.0 32.7,46.0" stroke="#9a9a8a" stroke-width="1.25" fill="none" opacity="0.35"/><path d="M39.2,21.0 Q39.5,31.0 40.9,46.0" stroke="#9a9a8a" stroke-width="1.25" fill="none" opacity="0.35"/><use href="#mouse" transform="translate(6.8,3) scale(1.06,1.000)" fill="url(#nWhiteSpeck)" opacity="0.75"/><use href="#mouse" transform="translate(15.0,3) scale(1.06,1.000)" fill="url(#nWhiteSpeck)" opacity="0.75"/><use href="#mouse" transform="translate(23.2,3) scale(1.06,1.000)" fill="url(#nWhiteSpeck)" opacity="0.75"/><use href="#mouse" transform="translate(31.2,3) scale(1.06,1.000)" fill="url(#nWhiteSpeck)" opacity="0.75"/><use href="#mouse" transform="translate(39.2,3) scale(1.06,1.000)" fill="url(#nWhiteSpeck)" opacity="0.75"/><ellipse cx="6" cy="6" rx="2.5" ry="3" fill="url(#nRedFill)"/><ellipse cx="14.5" cy="6" rx="2.5" ry="3" fill="url(#nRedFill)"/><rect x="1" y="9.5" width="19.5" height="13" rx="3" fill="url(#nRedFill)"/><ellipse cx="28.2" cy="6.8" rx="2.5" ry="2.8" fill="url(#nRedFill)"/><ellipse cx="27" cy="15" rx="1.5" ry="2" fill="url(#nRedFill)"/><ellipse cx="37.6" cy="3.8" rx="2" ry="2" fill="url(#nRedFill)"/><ellipse cx="39.5" cy="14" rx="3" ry="3.5" fill="url(#nRedFill)"/></g></svg><svg x="174" y="205" width="44" height="45" overflow="hidden"><g filter="url(#soft)"><rect x="-2" y="-2" width="48" height="49" fill="url(#nDark)"/><path d="M6.8,19.8 Q6.4,29.8 4.7,46.0" stroke="#a8a8a8" stroke-width="1.25" fill="none" opacity="0.8"/><path d="M15.0,19.8 Q15.1,29.8 15.3,46.0" stroke="#a8a8a8" stroke-width="1.25" fill="none" opacity="0.8"/><path d="M23.2,19.8 Q23.0,29.8 22.3,46.0" stroke="#a8a8a8" stroke-width="1.25" fill="none" opacity="0.8"/><path d="M31.2,19.8 Q31.4,29.8 32.1,46.0" stroke="#a8a8a8" stroke-width="1.25" fill="none" opacity="0.8"/><path d="M39.2,19.8 Q39.2,29.8 39.2,46.0" stroke="#a8a8a8" stroke-width="1.25" fill="none" opacity="0.8"/><use href="#mouse" transform="translate(6.8,1.6) scale(1.06,1.011)" fill="url(#mg)" opacity="1.0"/><use href="#mouse" transform="translate(6.8,1.6) scale(1.06,1.011)" fill="url(#nSpeck)" opacity="0.35"/><use href="#mouse" transform="translate(15.0,1.6) scale(1.06,1.011)" fill="url(#mg)" opacity="1.0"/><use href="#mouse" transform="translate(15.0,1.6) scale(1.06,1.011)" fill="url(#nSpeck)" opacity="0.35"/><use href="#mouse" transform="translate(23.2,1.6) scale(1.06,1.011)" fill="url(#mg)" opacity="1.0"/><use href="#mouse" transform="translate(23.2,1.6) scale(1.06,1.011)" fill="url(#nSpeck)" opacity="0.35"/><use href="#mouse" transform="translate(31.2,1.6) scale(1.06,1.011)" fill="url(#mg)" opacity="1.0"/><use href="#mouse" transform="translate(31.2,1.6) scale(1.06,1.011)" fill="url(#nSpeck)" opacity="0.35"/><use href="#mouse" transform="translate(39.2,1.6) scale(1.06,1.011)" fill="url(#mg)" opacity="1.0"/><use href="#mouse" transform="translate(39.2,1.6) scale(1.06,1.011)" fill="url(#nSpeck)" opacity="0.35"/><ellipse cx="6.8" cy="3.2" rx="1.5" ry="1.5" fill="url(#bspot)"/><ellipse cx="15.0" cy="3.2" rx="1.5" ry="1.5" fill="url(#bspot)"/><ellipse cx="23.2" cy="3.2" rx="1.5" ry="1.5" fill="url(#bspot)"/><ellipse cx="31.2" cy="3.2" rx="1.5" ry="1.5" fill="url(#bspot)"/><ellipse cx="39.2" cy="3.2" rx="1.5" ry="1.5" fill="url(#bspot)"/><ellipse cx="39" cy="3" rx="1.8" ry="1.8" fill="url(#bspot)"/></g></svg><svg x="221" y="205" width="44" height="45" overflow="hidden"><g filter="url(#soft)"><rect x="-2" y="-2" width="48" height="49" fill="url(#nDark)"/><path d="M6.8,19.8 Q7.1,29.8 8.4,46.0" stroke="#a8a8a8" stroke-width="1.25" fill="none" opacity="0.8"/><path d="M15.0,19.8 Q15.3,29.8 16.4,46.0" stroke="#a8a8a8" stroke-width="1.25" fill="none" opacity="0.8"/><path d="M23.2,19.8 Q22.9,29.8 21.9,46.0" stroke="#a8a8a8" stroke-width="1.25" fill="none" opacity="0.8"/><path d="M31.2,19.8 Q31.3,29.8 31.7,46.0" stroke="#a8a8a8" stroke-width="1.25" fill="none" opacity="0.8"/><path d="M39.2,19.8 Q38.9,29.8 37.7,46.0" stroke="#a8a8a8" stroke-width="1.25" fill="none" opacity="0.8"/><use href="#mouse" transform="translate(6.8,1.6) scale(1.06,1.011)" fill="url(#mg)" opacity="1.0"/><use href="#mouse" transform="translate(6.8,1.6) scale(1.06,1.011)" fill="url(#nSpeck)" opacity="0.35"/><use href="#mouse" transform="translate(15.0,1.6) scale(1.06,1.011)" fill="url(#mg)" opacity="1.0"/><use href="#mouse" transform="translate(15.0,1.6) scale(1.06,1.011)" fill="url(#nSpeck)" opacity="0.35"/><use href="#mouse" transform="translate(23.2,1.6) scale(1.06,1.011)" fill="url(#mg)" opacity="1.0"/><use href="#mouse" transform="translate(23.2,1.6) scale(1.06,1.011)" fill="url(#nSpeck)" opacity="0.35"/><use href="#mouse" transform="translate(31.2,1.6) scale(1.06,1.011)" fill="url(#mg)" opacity="1.0"/><use href="#mouse" transform="translate(31.2,1.6) scale(1.06,1.011)" fill="url(#nSpeck)" opacity="0.35"/><use href="#mouse" transform="translate(39.2,1.6) scale(1.06,1.011)" fill="url(#mg)" opacity="1.0"/><use href="#mouse" transform="translate(39.2,1.6) scale(1.06,1.011)" fill="url(#nSpeck)" opacity="0.35"/><ellipse cx="6.8" cy="3.2" rx="1.5" ry="1.5" fill="url(#bspot)"/><ellipse cx="15.0" cy="3.2" rx="1.5" ry="1.5" fill="url(#bspot)"/><ellipse cx="23.2" cy="3.2" rx="1.5" ry="1.5" fill="url(#bspot)"/><ellipse cx="31.2" cy="3.2" rx="1.5" ry="1.5" fill="url(#bspot)"/><ellipse cx="39.2" cy="3.2" rx="1.5" ry="1.5" fill="url(#bspot)"/><ellipse cx="15.5" cy="11" rx="4" ry="4" fill="url(#heat)"/><ellipse cx="15.5" cy="18" rx="2.5" ry="2.5" fill="url(#heat)"/><ellipse cx="31.5" cy="15" rx="1.8" ry="1.8" fill="url(#bspot)"/><ellipse cx="31" cy="18" rx="2" ry="2" fill="url(#heat)"/><ellipse cx="39" cy="14" rx="1.5" ry="1.5" fill="url(#bspot)"/></g></svg><svg x="268" y="205" width="43" height="45" overflow="hidden"><g filter="url(#soft)"><rect x="-2" y="-2" width="47" height="49" fill="url(#nDark)"/><path d="M6.8,19.8 Q6.5,29.8 5.1,46.0" stroke="#a8a8a8" stroke-width="1.25" fill="none" opacity="0.8"/><path d="M15.0,19.8 Q15.2,29.8 15.8,46.0" stroke="#a8a8a8" stroke-width="1.25" fill="none" opacity="0.8"/><path d="M23.2,19.8 Q23.1,29.8 22.8,46.0" stroke="#a8a8a8" stroke-width="1.25" fill="none" opacity="0.8"/><path d="M31.2,19.8 Q31.5,29.8 32.9,46.0" stroke="#a8a8a8" stroke-width="1.25" fill="none" opacity="0.8"/><path d="M39.2,19.8 Q39.6,29.8 41.0,46.0" stroke="#a8a8a8" stroke-width="1.25" fill="none" opacity="0.8"/><use href="#mouse" transform="translate(6.8,1.6) scale(1.06,1.011)" fill="url(#mg)" opacity="1.0"/><use href="#mouse" transform="translate(6.8,1.6) scale(1.06,1.011)" fill="url(#nSpeck)" opacity="0.35"/><use href="#mouse" transform="translate(15.0,1.6) scale(1.06,1.011)" fill="url(#mg)" opacity="1.0"/><use href="#mouse" transform="translate(15.0,1.6) scale(1.06,1.011)" fill="url(#nSpeck)" opacity="0.35"/><use href="#mouse" transform="translate(23.2,1.6) scale(1.06,1.011)" fill="url(#mg)" opacity="1.0"/><use href="#mouse" transform="translate(23.2,1.6) scale(1.06,1.011)" fill="url(#nSpeck)" opacity="0.35"/><use href="#mouse" transform="translate(31.2,1.6) scale(1.06,1.011)" fill="url(#mg)" opacity="1.0"/><use href="#mouse" transform="translate(31.2,1.6) scale(1.06,1.011)" fill="url(#nSpeck)" opacity="0.35"/><use href="#mouse" transform="translate(39.2,1.6) scale(1.06,1.011)" fill="url(#mg)" opacity="1.0"/><use href="#mouse" transform="translate(39.2,1.6) scale(1.06,1.011)" fill="url(#nSpeck)" opacity="0.35"/><ellipse cx="6.8" cy="3.2" rx="1.5" ry="1.5" fill="url(#bspot)"/><ellipse cx="15.0" cy="3.2" rx="1.5" ry="1.5" fill="url(#bspot)"/><ellipse cx="23.2" cy="3.2" rx="1.5" ry="1.5" fill="url(#bspot)"/><ellipse cx="31.2" cy="3.2" rx="1.5" ry="1.5" fill="url(#bspot)"/><ellipse cx="39.2" cy="3.2" rx="1.5" ry="1.5" fill="url(#bspot)"/><ellipse cx="6" cy="13" rx="3.6" ry="3.4" fill="url(#heat)"/><ellipse cx="23.5" cy="18.5" rx="4" ry="3.2" fill="url(#heat)"/><ellipse cx="39" cy="9" rx="3.5" ry="3.4" fill="url(#heat)"/></g></svg><svg x="315" y="205" width="43" height="45" overflow="hidden"><g filter="url(#soft)"><rect x="-2" y="-2" width="47" height="49" fill="url(#nDark)"/><path d="M6.8,19.8 Q7.1,29.8 8.2,46.0" stroke="#a8a8a8" stroke-width="1.25" fill="none" opacity="0.8"/><path d="M15.0,19.8 Q15.0,29.8 14.9,46.0" stroke="#a8a8a8" stroke-width="1.25" fill="none" opacity="0.8"/><path d="M23.2,19.8 Q22.9,29.8 21.6,46.0" stroke="#a8a8a8" stroke-width="1.25" fill="none" opacity="0.8"/><path d="M31.2,19.8 Q31.0,29.8 30.4,46.0" stroke="#a8a8a8" stroke-width="1.25" fill="none" opacity="0.8"/><path d="M39.2,19.8 Q38.8,29.8 37.0,46.0" stroke="#a8a8a8" stroke-width="1.25" fill="none" opacity="0.8"/><use href="#mouse" transform="translate(6.8,1.6) scale(1.06,1.011)" fill="url(#mg)" opacity="1.0"/><use href="#mouse" transform="translate(6.8,1.6) scale(1.06,1.011)" fill="url(#nSpeck)" opacity="0.35"/><use href="#mouse" transform="translate(15.0,1.6) scale(1.06,1.011)" fill="url(#mg)" opacity="1.0"/><use href="#mouse" transform="translate(15.0,1.6) scale(1.06,1.011)" fill="url(#nSpeck)" opacity="0.35"/><use href="#mouse" transform="translate(23.2,1.6) scale(1.06,1.011)" fill="url(#mg)" opacity="1.0"/><use href="#mouse" transform="translate(23.2,1.6) scale(1.06,1.011)" fill="url(#nSpeck)" opacity="0.35"/><use href="#mouse" transform="translate(31.2,1.6) scale(1.06,1.011)" fill="url(#mg)" opacity="1.0"/><use href="#mouse" transform="translate(31.2,1.6) scale(1.06,1.011)" fill="url(#nSpeck)" opacity="0.35"/><use href="#mouse" transform="translate(39.2,1.6) scale(1.06,1.011)" fill="url(#mg)" opacity="1.0"/><use href="#mouse" transform="translate(39.2,1.6) scale(1.06,1.011)" fill="url(#nSpeck)" opacity="0.35"/><ellipse cx="6.8" cy="3.2" rx="1.5" ry="1.5" fill="url(#bspot)"/><ellipse cx="15.0" cy="3.2" rx="1.5" ry="1.5" fill="url(#bspot)"/><ellipse cx="23.2" cy="3.2" rx="1.5" ry="1.5" fill="url(#bspot)"/><ellipse cx="31.2" cy="3.2" rx="1.5" ry="1.5" fill="url(#bspot)"/><ellipse cx="39.2" cy="3.2" rx="1.5" ry="1.5" fill="url(#bspot)"/><ellipse cx="14" cy="10" rx="1.6" ry="1.6" fill="url(#bspot)"/><ellipse cx="31" cy="14" rx="3.4" ry="3" fill="url(#heat)"/><ellipse cx="38" cy="16" rx="1.8" ry="1.8" fill="url(#bspot)"/><ellipse cx="39" cy="12" rx="1.2" ry="1.2" fill="url(#bspot)"/></g></svg><svg x="32" y="253" width="44" height="44" overflow="hidden"><g filter="url(#soft)"><rect x="-2" y="-2" width="48" height="48" fill="url(#nRed)"/><path d="M6.8,24.0 Q6.8,34.0 6.8,45.0" stroke="#a06050" stroke-width="1.25" fill="none" opacity="0.3"/><path d="M15.0,24.0 Q15.3,34.0 16.3,45.0" stroke="#a06050" stroke-width="1.25" fill="none" opacity="0.3"/><path d="M23.2,24.0 Q22.8,34.0 21.2,45.0" stroke="#a06050" stroke-width="1.25" fill="none" opacity="0.3"/><path d="M31.2,24.0 Q31.6,34.0 33.2,45.0" stroke="#a06050" stroke-width="1.25" fill="none" opacity="0.3"/><path d="M39.2,24.0 Q38.8,34.0 37.0,45.0" stroke="#a06050" stroke-width="1.25" fill="none" opacity="0.3"/><use href="#mouse" transform="translate(6.2,7.2) scale(1.15,1.053)" fill="url(#nRedFill)"/><use href="#mouse" transform="translate(21.9,7.2) scale(1.3,0.974)" fill="url(#nRedFill)"/><use href="#mouse" transform="translate(30.7,4.8) scale(1.1,1.079)" fill="url(#nRedFill)"/><use href="#mouse" transform="translate(38.5,5.5) scale(1.25,1.000)" fill="url(#nRedFill)"/><rect x="19" y="16" width="25" height="9" rx="2" fill="url(#nRedFill)"/></g></svg><svg x="79" y="253" width="44" height="44" overflow="hidden"><g filter="url(#soft)"><rect x="-2" y="-2" width="48" height="48" fill="url(#nRed)"/><path d="M6.8,18.0 Q7.2,28.0 8.9,45.0" stroke="#a06050" stroke-width="1.25" fill="none" opacity="0.3"/><path d="M15.0,18.0 Q14.8,28.0 14.2,45.0" stroke="#a06050" stroke-width="1.25" fill="none" opacity="0.3"/><path d="M23.2,18.0 Q23.0,28.0 22.1,45.0" stroke="#a06050" stroke-width="1.25" fill="none" opacity="0.3"/><path d="M31.2,18.0 Q31.6,28.0 33.1,45.0" stroke="#a06050" stroke-width="1.25" fill="none" opacity="0.3"/><path d="M39.2,18.0 Q39.2,28.0 39.1,45.0" stroke="#a06050" stroke-width="1.25" fill="none" opacity="0.3"/><use href="#mouse" transform="translate(6.8,5) scale(1.06,0.737)" fill="url(#nWhiteSpeck)" opacity="0.65"/><use href="#mouse" transform="translate(15.0,5) scale(1.06,0.737)" fill="url(#nWhiteSpeck)" opacity="0.65"/><use href="#mouse" transform="translate(23.2,5) scale(1.06,0.737)" fill="url(#nWhiteSpeck)" opacity="0.65"/><use href="#mouse" transform="translate(31.2,5) scale(1.06,0.737)" fill="url(#nWhiteSpeck)" opacity="0.65"/><use href="#mouse" transform="translate(39.2,5) scale(1.06,0.737)" fill="url(#nWhiteSpeck)" opacity="0.65"/><ellipse cx="3.6" cy="21.2" rx="4" ry="3.6" fill="url(#nRedFill)"/><ellipse cx="13" cy="20" rx="4.2" ry="3.8" fill="url(#nRedFill)"/><ellipse cx="20.6" cy="20.6" rx="3.6" ry="4" fill="url(#nRedFill)"/><ellipse cx="20.6" cy="12.5" rx="1.5" ry="2" fill="url(#nRedFill)"/><use href="#mouse" transform="translate(31,3) scale(1.35,1.105)" fill="url(#nRedFill)"/><use href="#mouse" transform="translate(39,5) scale(1.3,1.000)" fill="url(#nRedFill)"/><rect x="26" y="13" width="17.5" height="12" rx="2" fill="url(#nRedFill)"/></g></svg><svg x="127" y="253" width="43" height="44" overflow="hidden"><g filter="url(#soft)"><rect x="-2" y="-2" width="47" height="48" fill="url(#nRed)"/><path d="M6.8,24.0 Q6.8,34.0 6.7,45.0" stroke="#a06050" stroke-width="1.25" fill="none" opacity="0.3"/><path d="M15.0,24.0 Q15.4,34.0 16.9,45.0" stroke="#a06050" stroke-width="1.25" fill="none" opacity="0.3"/><path d="M23.2,24.0 Q23.6,34.0 25.3,45.0" stroke="#a06050" stroke-width="1.25" fill="none" opacity="0.3"/><path d="M31.2,24.0 Q30.8,34.0 29.1,45.0" stroke="#a06050" stroke-width="1.25" fill="none" opacity="0.3"/><path d="M39.2,24.0 Q39.3,34.0 39.9,45.0" stroke="#a06050" stroke-width="1.25" fill="none" opacity="0.3"/><use href="#mouse" transform="translate(6.8,5) scale(1.06,1.053)" fill="url(#nWhiteSpeck)" opacity="0.6"/><use href="#mouse" transform="translate(15.0,5) scale(1.06,1.053)" fill="url(#nWhiteSpeck)" opacity="0.6"/><use href="#mouse" transform="translate(23.2,5) scale(1.06,1.053)" fill="url(#nWhiteSpeck)" opacity="0.6"/><use href="#mouse" transform="translate(31.2,5) scale(1.06,1.053)" fill="url(#nWhiteSpeck)" opacity="0.6"/><use href="#mouse" transform="translate(39.2,5) scale(1.06,1.053)" fill="url(#nWhiteSpeck)" opacity="0.6"/><use href="#mouse" transform="translate(6,5.5) scale(1.35,1.026)" fill="url(#nRedFill)"/><use href="#mouse" transform="translate(13.5,6.8) scale(1.35,0.947)" fill="url(#nRedFill)"/><rect x="1" y="13" width="18.5" height="12" rx="2.5" fill="url(#nRedFill)"/><ellipse cx="29.8" cy="16" rx="2.5" ry="5.5" fill="url(#nRedFill)"/><ellipse cx="37" cy="15" rx="3" ry="6.5" fill="url(#nRedFill)"/><ellipse cx="29.5" cy="9" rx="1.5" ry="2" fill="url(#nRedFill)"/><ellipse cx="37.5" cy="8" rx="1.5" ry="2" fill="url(#nRedFill)"/></g></svg><svg x="174" y="253" width="44" height="44" overflow="hidden"><g filter="url(#soft)"><rect x="-2" y="-2" width="48" height="48" fill="url(#nDark)"/><path d="M6.8,22.0 Q6.4,32.0 5.0,45.0" stroke="#a8a8a8" stroke-width="1.25" fill="none" opacity="0.8"/><path d="M15.0,22.0 Q15.1,32.0 15.3,45.0" stroke="#a8a8a8" stroke-width="1.25" fill="none" opacity="0.8"/><path d="M23.2,22.0 Q23.1,32.0 22.8,45.0" stroke="#a8a8a8" stroke-width="1.25" fill="none" opacity="0.8"/><path d="M31.2,22.0 Q31.4,32.0 32.4,45.0" stroke="#a8a8a8" stroke-width="1.25" fill="none" opacity="0.8"/><path d="M39.2,22.0 Q39.4,32.0 40.2,45.0" stroke="#a8a8a8" stroke-width="1.25" fill="none" opacity="0.8"/><use href="#mouse" transform="translate(6.8,3.0) scale(1.06,1.053)" fill="url(#mg)" opacity="1.0"/><use href="#mouse" transform="translate(6.8,3.0) scale(1.06,1.053)" fill="url(#nSpeck)" opacity="0.35"/><use href="#mouse" transform="translate(15.0,3.0) scale(1.06,1.053)" fill="url(#mg)" opacity="1.0"/><use href="#mouse" transform="translate(15.0,3.0) scale(1.06,1.053)" fill="url(#nSpeck)" opacity="0.35"/><use href="#mouse" transform="translate(23.2,3.0) scale(1.06,1.053)" fill="url(#mg)" opacity="1.0"/><use href="#mouse" transform="translate(23.2,3.0) scale(1.06,1.053)" fill="url(#nSpeck)" opacity="0.35"/><use href="#mouse" transform="translate(31.2,3.0) scale(1.06,1.053)" fill="url(#mg)" opacity="1.0"/><use href="#mouse" transform="translate(31.2,3.0) scale(1.06,1.053)" fill="url(#nSpeck)" opacity="0.35"/><use href="#mouse" transform="translate(39.2,3.0) scale(1.06,1.053)" fill="url(#mg)" opacity="1.0"/><use href="#mouse" transform="translate(39.2,3.0) scale(1.06,1.053)" fill="url(#nSpeck)" opacity="0.35"/><ellipse cx="6.8" cy="4.6" rx="1.5" ry="1.5" fill="url(#bspot)"/><ellipse cx="15.0" cy="4.6" rx="1.5" ry="1.5" fill="url(#bspot)"/><ellipse cx="23.2" cy="4.6" rx="1.5" ry="1.5" fill="url(#bspot)"/><ellipse cx="31.2" cy="4.6" rx="1.5" ry="1.5" fill="url(#bspot)"/><ellipse cx="39.2" cy="4.6" rx="1.5" ry="1.5" fill="url(#bspot)"/><ellipse cx="9" cy="14" rx="1.2" ry="1.2" fill="url(#bspot)"/><ellipse cx="15" cy="19" rx="1" ry="1" fill="url(#bspot)"/></g></svg><svg x="221" y="253" width="44" height="44" overflow="hidden"><g filter="url(#soft)"><rect x="-2" y="-2" width="48" height="48" fill="url(#nDark)"/><path d="M6.8,22.0 Q6.9,32.0 7.5,45.0" stroke="#a8a8a8" stroke-width="1.25" fill="none" opacity="0.8"/><path d="M15.0,22.0 Q15.3,32.0 16.4,45.0" stroke="#a8a8a8" stroke-width="1.25" fill="none" opacity="0.8"/><path d="M23.2,22.0 Q23.2,32.0 23.0,45.0" stroke="#a8a8a8" stroke-width="1.25" fill="none" opacity="0.8"/><path d="M31.2,22.0 Q31.0,32.0 30.4,45.0" stroke="#a8a8a8" stroke-width="1.25" fill="none" opacity="0.8"/><path d="M39.2,22.0 Q38.8,32.0 37.3,45.0" stroke="#a8a8a8" stroke-width="1.25" fill="none" opacity="0.8"/><use href="#mouse" transform="translate(6.8,3.0) scale(1.06,1.053)" fill="url(#mg)" opacity="1.0"/><use href="#mouse" transform="translate(6.8,3.0) scale(1.06,1.053)" fill="url(#nSpeck)" opacity="0.35"/><use href="#mouse" transform="translate(15.0,3.0) scale(1.06,1.053)" fill="url(#mg)" opacity="1.0"/><use href="#mouse" transform="translate(15.0,3.0) scale(1.06,1.053)" fill="url(#nSpeck)" opacity="0.35"/><use href="#mouse" transform="translate(23.2,3.0) scale(1.06,1.053)" fill="url(#mg)" opacity="1.0"/><use href="#mouse" transform="translate(23.2,3.0) scale(1.06,1.053)" fill="url(#nSpeck)" opacity="0.35"/><use href="#mouse" transform="translate(31.2,3.0) scale(1.06,1.053)" fill="url(#mg)" opacity="1.0"/><use href="#mouse" transform="translate(31.2,3.0) scale(1.06,1.053)" fill="url(#nSpeck)" opacity="0.35"/><use href="#mouse" transform="translate(39.2,3.0) scale(1.06,1.053)" fill="url(#mg)" opacity="1.0"/><use href="#mouse" transform="translate(39.2,3.0) scale(1.06,1.053)" fill="url(#nSpeck)" opacity="0.35"/><ellipse cx="6.8" cy="4.6" rx="1.5" ry="1.5" fill="url(#bspot)"/><ellipse cx="15.0" cy="4.6" rx="1.5" ry="1.5" fill="url(#bspot)"/><ellipse cx="23.2" cy="4.6" rx="1.5" ry="1.5" fill="url(#bspot)"/><ellipse cx="31.2" cy="4.6" rx="1.5" ry="1.5" fill="url(#bspot)"/><ellipse cx="39.2" cy="4.6" rx="1.5" ry="1.5" fill="url(#bspot)"/><ellipse cx="14.5" cy="13.5" rx="5.2" ry="4.8" fill="url(#heat)"/><ellipse cx="30" cy="18" rx="1.6" ry="1.6" fill="url(#bspot)"/></g></svg><svg x="268" y="253" width="43" height="44" overflow="hidden"><g filter="url(#soft)"><rect x="-2" y="-2" width="47" height="48" fill="url(#nDark)"/><path d="M6.8,22.0 Q6.7,32.0 6.4,45.0" stroke="#a8a8a8" stroke-width="1.25" fill="none" opacity="0.8"/><path d="M15.0,22.0 Q15.2,32.0 16.0,45.0" stroke="#a8a8a8" stroke-width="1.25" fill="none" opacity="0.8"/><path d="M23.2,22.0 Q22.8,32.0 21.1,45.0" stroke="#a8a8a8" stroke-width="1.25" fill="none" opacity="0.8"/><path d="M31.2,22.0 Q31.0,32.0 30.2,45.0" stroke="#a8a8a8" stroke-width="1.25" fill="none" opacity="0.8"/><path d="M39.2,22.0 Q39.6,32.0 41.4,45.0" stroke="#a8a8a8" stroke-width="1.25" fill="none" opacity="0.8"/><use href="#mouse" transform="translate(6.8,3.0) scale(1.06,1.053)" fill="url(#mg)" opacity="1.0"/><use href="#mouse" transform="translate(6.8,3.0) scale(1.06,1.053)" fill="url(#nSpeck)" opacity="0.35"/><use href="#mouse" transform="translate(15.0,3.0) scale(1.06,1.053)" fill="url(#mg)" opacity="1.0"/><use href="#mouse" transform="translate(15.0,3.0) scale(1.06,1.053)" fill="url(#nSpeck)" opacity="0.35"/><use href="#mouse" transform="translate(23.2,3.0) scale(1.06,1.053)" fill="url(#mg)" opacity="1.0"/><use href="#mouse" transform="translate(23.2,3.0) scale(1.06,1.053)" fill="url(#nSpeck)" opacity="0.35"/><use href="#mouse" transform="translate(31.2,3.0) scale(1.06,1.053)" fill="url(#mg)" opacity="1.0"/><use href="#mouse" transform="translate(31.2,3.0) scale(1.06,1.053)" fill="url(#nSpeck)" opacity="0.35"/><use href="#mouse" transform="translate(39.2,3.0) scale(1.06,1.053)" fill="url(#mg)" opacity="1.0"/><use href="#mouse" transform="translate(39.2,3.0) scale(1.06,1.053)" fill="url(#nSpeck)" opacity="0.35"/><ellipse cx="6.8" cy="4.6" rx="1.5" ry="1.5" fill="url(#bspot)"/><ellipse cx="15.0" cy="4.6" rx="1.5" ry="1.5" fill="url(#bspot)"/><ellipse cx="23.2" cy="4.6" rx="1.5" ry="1.5" fill="url(#bspot)"/><ellipse cx="31.2" cy="4.6" rx="1.5" ry="1.5" fill="url(#bspot)"/><ellipse cx="39.2" cy="4.6" rx="1.5" ry="1.5" fill="url(#bspot)"/><ellipse cx="30.5" cy="13" rx="3.2" ry="3" fill="url(#heat)"/><ellipse cx="38" cy="17" rx="1.5" ry="1.5" fill="url(#bspot)"/><ellipse cx="39" cy="12" rx="1.2" ry="1.2" fill="url(#bspot)"/></g></svg><svg x="315" y="253" width="43" height="44" overflow="hidden"><g filter="url(#soft)"><rect x="-2" y="-2" width="47" height="48" fill="url(#nDark)"/><path d="M6.8,22.0 Q6.7,32.0 6.2,45.0" stroke="#a8a8a8" stroke-width="1.25" fill="none" opacity="0.8"/><path d="M15.0,22.0 Q15.4,32.0 17.0,45.0" stroke="#a8a8a8" stroke-width="1.25" fill="none" opacity="0.8"/><path d="M23.2,22.0 Q23.4,32.0 24.1,45.0" stroke="#a8a8a8" stroke-width="1.25" fill="none" opacity="0.8"/><path d="M31.2,22.0 Q30.9,32.0 29.9,45.0" stroke="#a8a8a8" stroke-width="1.25" fill="none" opacity="0.8"/><path d="M39.2,22.0 Q39.0,32.0 38.1,45.0" stroke="#a8a8a8" stroke-width="1.25" fill="none" opacity="0.8"/><use href="#mouse" transform="translate(6.8,3.0) scale(1.06,1.053)" fill="url(#mg)" opacity="1.0"/><use href="#mouse" transform="translate(6.8,3.0) scale(1.06,1.053)" fill="url(#nSpeck)" opacity="0.35"/><use href="#mouse" transform="translate(15.0,3.0) scale(1.06,1.053)" fill="url(#mg)" opacity="1.0"/><use href="#mouse" transform="translate(15.0,3.0) scale(1.06,1.053)" fill="url(#nSpeck)" opacity="0.35"/><use href="#mouse" transform="translate(23.2,3.0) scale(1.06,1.053)" fill="url(#mg)" opacity="1.0"/><use href="#mouse" transform="translate(23.2,3.0) scale(1.06,1.053)" fill="url(#nSpeck)" opacity="0.35"/><use href="#mouse" transform="translate(31.2,3.0) scale(1.06,1.053)" fill="url(#mg)" opacity="1.0"/><use href="#mouse" transform="translate(31.2,3.0) scale(1.06,1.053)" fill="url(#nSpeck)" opacity="0.35"/><use href="#mouse" transform="translate(39.2,3.0) scale(1.06,1.053)" fill="url(#mg)" opacity="1.0"/><use href="#mouse" transform="translate(39.2,3.0) scale(1.06,1.053)" fill="url(#nSpeck)" opacity="0.35"/><ellipse cx="6.8" cy="4.6" rx="1.5" ry="1.5" fill="url(#bspot)"/><ellipse cx="15.0" cy="4.6" rx="1.5" ry="1.5" fill="url(#bspot)"/><ellipse cx="23.2" cy="4.6" rx="1.5" ry="1.5" fill="url(#bspot)"/><ellipse cx="31.2" cy="4.6" rx="1.5" ry="1.5" fill="url(#bspot)"/><ellipse cx="39.2" cy="4.6" rx="1.5" ry="1.5" fill="url(#bspot)"/><ellipse cx="4" cy="14" rx="2" ry="2" fill="url(#bspot)"/><ellipse cx="22" cy="13" rx="3" ry="3" fill="url(#heat)"/><ellipse cx="22" cy="22" rx="3.5" ry="3" fill="url(#heat)"/><ellipse cx="37.5" cy="12" rx="3.8" ry="3.6" fill="url(#heat)"/><ellipse cx="31" cy="12" rx="2" ry="2" fill="url(#heatG)"/></g></svg><text x="0.5" y="7.5" font-family="Liberation Sans" font-size="10.3" font-weight="bold" text-anchor="start" fill="#000" >A</text><text x="54.8" y="8.7" font-family="Liberation Sans" font-size="7.4" font-weight="bold" text-anchor="middle" fill="#000" >Tumor Alone</text><text x="101.8" y="8.7" font-family="Liberation Sans" font-size="7.4" font-weight="bold" text-anchor="middle" fill="#000" >Mock T</text><text x="149.3" y="8.7" font-family="Liberation Sans" font-size="7.4" font-weight="bold" text-anchor="middle" fill="#000" >CSR</text><text x="196.8" y="8.7" font-family="Liberation Sans" font-size="7.4" font-weight="bold" text-anchor="middle" fill="#000" >ESK2-CSR</text><text x="243.8" y="8.7" font-family="Liberation Sans" font-size="7.4" font-weight="bold" text-anchor="middle" fill="#000" >ESK3-CSR</text><text x="290.3" y="8.7" font-family="Liberation Sans" font-size="7.4" font-weight="bold" text-anchor="middle" fill="#000" >Tri-AbTCR</text><text x="315.5" y="8.9" font-family="Liberation Sans" font-size="7.4" font-weight="bold" text-anchor="start" fill="#000" >ESK2-CSR + ESK3-</text><text x="315.5" y="17.2" font-family="Liberation Sans" font-size="7.4" font-weight="bold" text-anchor="start" fill="#000" >CSR</text><text x="5.0" y="38.9" font-family="Liberation Sans" font-size="7.2" font-weight="bold" text-anchor="start" fill="#000" >D10</text><text x="5.0" y="87.5" font-family="Liberation Sans" font-size="7.2" font-weight="bold" text-anchor="start" fill="#000" >D 18</text><text x="5.0" y="133.1" font-family="Liberation Sans" font-size="7.2" font-weight="bold" text-anchor="start" fill="#000" >D 25</text><text x="5.0" y="180.3" font-family="Liberation Sans" font-size="7.2" font-weight="bold" text-anchor="start" fill="#000" >D 32</text><text x="5.0" y="230.2" font-family="Liberation Sans" font-size="7.2" font-weight="bold" text-anchor="start" fill="#000" >D39</text><text x="5.0" y="276.1" font-family="Liberation Sans" font-size="7.2" font-weight="bold" text-anchor="start" fill="#000" >D46</text><rect x="369.5" y="28" width="5.8" height="232" fill="url(#cbar)"/><line x1="375.3" y1="27.5" x2="377.90000000000003" y2="27.5" stroke="#444" stroke-width="0.6"/><line x1="375.3" y1="37.5" x2="376.90000000000003" y2="37.5" stroke="#444" stroke-width="0.6"/><line x1="375.3" y1="47.5" x2="376.90000000000003" y2="47.5" stroke="#444" stroke-width="0.6"/><line x1="375.3" y1="57.5" x2="376.90000000000003" y2="57.5" stroke="#444" stroke-width="0.6"/><line x1="375.3" y1="67.5" x2="376.90000000000003" y2="67.5" stroke="#444" stroke-width="0.6"/><line x1="375.3" y1="77.5" x2="377.90000000000003" y2="77.5" stroke="#444" stroke-width="0.6"/><line x1="375.3" y1="87.5" x2="376.90000000000003" y2="87.5" stroke="#444" stroke-width="0.6"/><line x1="375.3" y1="97.5" x2="376.90000000000003" y2="97.5" stroke="#444" stroke-width="0.6"/><line x1="375.3" y1="107.5" x2="376.90000000000003" y2="107.5" stroke="#444" stroke-width="0.6"/><line x1="375.3" y1="117.5" x2="376.90000000000003" y2="117.5" stroke="#444" stroke-width="0.6"/><line x1="375.3" y1="127.5" x2="377.90000000000003" y2="127.5" stroke="#444" stroke-width="0.6"/><line x1="375.3" y1="137.5" x2="376.90000000000003" y2="137.5" stroke="#444" stroke-width="0.6"/><line x1="375.3" y1="147.5" x2="376.90000000000003" y2="147.5" stroke="#444" stroke-width="0.6"/><line x1="375.3" y1="157.5" x2="376.90000000000003" y2="157.5" stroke="#444" stroke-width="0.6"/><line x1="375.3" y1="167.5" x2="376.90000000000003" y2="167.5" stroke="#444" stroke-width="0.6"/><line x1="375.3" y1="177.5" x2="377.90000000000003" y2="177.5" stroke="#444" stroke-width="0.6"/><line x1="375.3" y1="187.5" x2="376.90000000000003" y2="187.5" stroke="#444" stroke-width="0.6"/><line x1="375.3" y1="197.5" x2="376.90000000000003" y2="197.5" stroke="#444" stroke-width="0.6"/><line x1="375.3" y1="207.5" x2="376.90000000000003" y2="207.5" stroke="#444" stroke-width="0.6"/><line x1="375.3" y1="217.5" x2="376.90000000000003" y2="217.5" stroke="#444" stroke-width="0.6"/><line x1="375.3" y1="227.5" x2="377.90000000000003" y2="227.5" stroke="#444" stroke-width="0.6"/><line x1="375.3" y1="237.5" x2="376.90000000000003" y2="237.5" stroke="#444" stroke-width="0.6"/><line x1="375.3" y1="247.5" x2="376.90000000000003" y2="247.5" stroke="#444" stroke-width="0.6"/><line x1="375.3" y1="257.5" x2="376.90000000000003" y2="257.5" stroke="#444" stroke-width="0.6"/><text x="380.6" y="27.8" font-family="Liberation Sans" font-size="4.4" font-weight="normal" text-anchor="start" fill="#000" stroke="#000" stroke-width="0.18" >1.0</text><text x="380.6" y="77.8" font-family="Liberation Sans" font-size="4.4" font-weight="normal" text-anchor="start" fill="#000" stroke="#000" stroke-width="0.18" >0.8</text><text x="380.6" y="127.8" font-family="Liberation Sans" font-size="4.4" font-weight="normal" text-anchor="start" fill="#000" stroke="#000" stroke-width="0.18" >0.6</text><text x="380.6" y="177.8" font-family="Liberation Sans" font-size="4.4" font-weight="normal" text-anchor="start" fill="#000" stroke="#000" stroke-width="0.18" >0.4</text><text x="380.6" y="227.8" font-family="Liberation Sans" font-size="4.4" font-weight="normal" text-anchor="start" fill="#000" stroke="#000" stroke-width="0.18" >0.2</text><text x="369.2" y="22.8" font-family="Liberation Sans" font-size="3.6" font-weight="normal" text-anchor="start" fill="#000" stroke="#000" stroke-width="0.12" >Luminescence</text><text x="389.5" y="144.5" font-family="Liberation Sans" font-size="3.6" font-weight="normal" text-anchor="start" fill="#000" stroke="#000" stroke-width="0.12" >x10<tspan font-size="2.8" dy="-1.5">5</tspan></text><text x="370" y="270.5" font-family="Liberation Sans" font-size="3.7" font-weight="normal" text-anchor="start" fill="#000" stroke="#000" stroke-width="0.12" >Radiance</text><text x="370" y="275.3" font-family="Liberation Sans" font-size="3.6" font-weight="normal" text-anchor="start" fill="#000" stroke="#000" stroke-width="0.12" >(p/sec/cm²/sr)</text><rect x="369.4" y="279.5" width="26.3" height="16" fill="#fff" stroke="#333" stroke-width="0.6"/><text x="370.6" y="285" font-family="Liberation Sans" font-size="3.7" font-weight="normal" text-anchor="start" fill="#000" stroke="#000" stroke-width="0.12" >Color Scale</text><text x="370.6" y="289.2" font-family="Liberation Sans" font-size="3.7" font-weight="normal" text-anchor="start" fill="#000" stroke="#000" stroke-width="0.12" >Min = 7.00e3</text><text x="370.6" y="293.5" font-family="Liberation Sans" font-size="3.7" font-weight="normal" text-anchor="start" fill="#000" stroke="#000" stroke-width="0.12" >Max = 1.00e5</text><text x="0.8" y="327" font-family="Liberation Sans" font-size="10.3" font-weight="bold" text-anchor="start" fill="#000" >B</text><text x="99.5" y="331.3" font-family="Liberation Sans" font-size="7.3" font-weight="bold" text-anchor="middle" fill="#000" >Disease Free Survival</text><line x1="41.0" y1="340.8" x2="41.0" y2="419.7" stroke="#000" stroke-width="1"/><line x1="40.5" y1="419.2" x2="158.3" y2="419.2" stroke="#000" stroke-width="1"/><line x1="38.0" y1="419.2" x2="41.0" y2="419.2" stroke="#000" stroke-width="0.7"/><line x1="38.8" y1="415.7" x2="41.0" y2="415.7" stroke="#000" stroke-width="0.7"/><line x1="38.8" y1="412.1" x2="41.0" y2="412.1" stroke="#000" stroke-width="0.7"/><line x1="38.8" y1="408.6" x2="41.0" y2="408.6" stroke="#000" stroke-width="0.7"/><line x1="38.8" y1="405.0" x2="41.0" y2="405.0" stroke="#000" stroke-width="0.7"/><line x1="38.8" y1="401.5" x2="41.0" y2="401.5" stroke="#000" stroke-width="0.7"/><line x1="38.8" y1="398.0" x2="41.0" y2="398.0" stroke="#000" stroke-width="0.7"/><line x1="38.8" y1="394.4" x2="41.0" y2="394.4" stroke="#000" stroke-width="0.7"/><line x1="38.8" y1="390.9" x2="41.0" y2="390.9" stroke="#000" stroke-width="0.7"/><line x1="38.8" y1="387.3" x2="41.0" y2="387.3" stroke="#000" stroke-width="0.7"/><line x1="38.0" y1="383.8" x2="41.0" y2="383.8" stroke="#000" stroke-width="0.7"/><line x1="38.8" y1="380.3" x2="41.0" y2="380.3" stroke="#000" stroke-width="0.7"/><line x1="38.8" y1="376.7" x2="41.0" y2="376.7" stroke="#000" stroke-width="0.7"/><line x1="38.8" y1="373.2" x2="41.0" y2="373.2" stroke="#000" stroke-width="0.7"/><line x1="38.8" y1="369.6" x2="41.0" y2="369.6" stroke="#000" stroke-width="0.7"/><line x1="38.8" y1="366.1" x2="41.0" y2="366.1" stroke="#000" stroke-width="0.7"/><line x1="38.8" y1="362.6" x2="41.0" y2="362.6" stroke="#000" stroke-width="0.7"/><line x1="38.8" y1="359.0" x2="41.0" y2="359.0" stroke="#000" stroke-width="0.7"/><line x1="38.8" y1="355.5" x2="41.0" y2="355.5" stroke="#000" stroke-width="0.7"/><line x1="38.8" y1="351.9" x2="41.0" y2="351.9" stroke="#000" stroke-width="0.7"/><line x1="38.0" y1="348.4" x2="41.0" y2="348.4" stroke="#000" stroke-width="0.7"/><line x1="38.8" y1="344.9" x2="41.0" y2="344.9" stroke="#000" stroke-width="0.7"/><line x1="38.8" y1="341.3" x2="41.0" y2="341.3" stroke="#000" stroke-width="0.7"/><line x1="41.0" y1="419.2" x2="41.0" y2="422.2" stroke="#000" stroke-width="0.7"/><line x1="44.9" y1="419.2" x2="44.9" y2="421.2" stroke="#000" stroke-width="0.7"/><line x1="48.8" y1="419.2" x2="48.8" y2="421.2" stroke="#000" stroke-width="0.7"/><line x1="52.7" y1="419.2" x2="52.7" y2="421.2" stroke="#000" stroke-width="0.7"/><line x1="56.5" y1="419.2" x2="56.5" y2="421.2" stroke="#000" stroke-width="0.7"/><line x1="60.4" y1="419.2" x2="60.4" y2="421.2" stroke="#000" stroke-width="0.7"/><line x1="64.3" y1="419.2" x2="64.3" y2="421.2" stroke="#000" stroke-width="0.7"/><line x1="68.2" y1="419.2" x2="68.2" y2="421.2" stroke="#000" stroke-width="0.7"/><line x1="72.1" y1="419.2" x2="72.1" y2="421.2" stroke="#000" stroke-width="0.7"/><line x1="76.0" y1="419.2" x2="76.0" y2="421.2" stroke="#000" stroke-width="0.7"/><line x1="79.8" y1="419.2" x2="79.8" y2="422.2" stroke="#000" stroke-width="0.7"/><line x1="83.7" y1="419.2" x2="83.7" y2="421.2" stroke="#000" stroke-width="0.7"/><line x1="87.6" y1="419.2" x2="87.6" y2="421.2" stroke="#000" stroke-width="0.7"/><line x1="91.5" y1="419.2" x2="91.5" y2="421.2" stroke="#000" stroke-width="0.7"/><line x1="95.4" y1="419.2" x2="95.4" y2="421.2" stroke="#000" stroke-width="0.7"/><line x1="99.3" y1="419.2" x2="99.3" y2="421.2" stroke="#000" stroke-width="0.7"/><line x1="103.1" y1="419.2" x2="103.1" y2="421.2" stroke="#000" stroke-width="0.7"/><line x1="107.0" y1="419.2" x2="107.0" y2="421.2" stroke="#000" stroke-width="0.7"/><line x1="110.9" y1="419.2" x2="110.9" y2="421.2" stroke="#000" stroke-width="0.7"/><line x1="114.8" y1="419.2" x2="114.8" y2="421.2" stroke="#000" stroke-width="0.7"/><line x1="118.7" y1="419.2" x2="118.7" y2="422.2" stroke="#000" stroke-width="0.7"/><line x1="122.6" y1="419.2" x2="122.6" y2="421.2" stroke="#000" stroke-width="0.7"/><line x1="126.4" y1="419.2" x2="126.4" y2="421.2" stroke="#000" stroke-width="0.7"/><line x1="130.3" y1="419.2" x2="130.3" y2="421.2" stroke="#000" stroke-width="0.7"/><line x1="134.2" y1="419.2" x2="134.2" y2="421.2" stroke="#000" stroke-width="0.7"/><line x1="138.1" y1="419.2" x2="138.1" y2="421.2" stroke="#000" stroke-width="0.7"/><line x1="142.0" y1="419.2" x2="142.0" y2="421.2" stroke="#000" stroke-width="0.7"/><line x1="145.9" y1="419.2" x2="145.9" y2="421.2" stroke="#000" stroke-width="0.7"/><line x1="149.7" y1="419.2" x2="149.7" y2="421.2" stroke="#000" stroke-width="0.7"/><line x1="153.6" y1="419.2" x2="153.6" y2="421.2" stroke="#000" stroke-width="0.7"/><line x1="157.5" y1="419.2" x2="157.5" y2="422.2" stroke="#000" stroke-width="0.7"/><text x="36.8" y="421.09999999999997" font-family="Liberation Sans" font-size="5.3" font-weight="bold" text-anchor="end" fill="#000" stroke="#000" stroke-width="0.22" >0</text><text x="36.8" y="385.69999999999993" font-family="Liberation Sans" font-size="5.3" font-weight="bold" text-anchor="end" fill="#000" stroke="#000" stroke-width="0.22" >50</text><text x="36.8" y="350.29999999999995" font-family="Liberation Sans" font-size="5.3" font-weight="bold" text-anchor="end" fill="#000" stroke="#000" stroke-width="0.22" >100</text><text x="41.0" y="429.9" font-family="Liberation Sans" font-size="5.4" font-weight="bold" text-anchor="middle" fill="#000" stroke="#000" stroke-width="0.22" >0</text><text x="79.835" y="429.9" font-family="Liberation Sans" font-size="5.4" font-weight="bold" text-anchor="middle" fill="#000" stroke="#000" stroke-width="0.22" >50</text><text x="118.66999999999999" y="429.9" font-family="Liberation Sans" font-size="5.4" font-weight="bold" text-anchor="middle" fill="#000" stroke="#000" stroke-width="0.22" >100</text><text x="157.505" y="429.9" font-family="Liberation Sans" font-size="5.4" font-weight="bold" text-anchor="middle" fill="#000" stroke="#000" stroke-width="0.22" >150</text><text x="100" y="438.9" font-family="Liberation Sans" font-size="6.6" font-weight="bold" text-anchor="middle" fill="#000" stroke="#000" stroke-width="0.22" >Days</text><text x="0" y="0" font-family="Liberation Sans" font-size="6.35" font-weight="bold" text-anchor="middle" transform="translate(22.7,380.1) rotate(-90)">Probability of Survival</text><path d="M41.0,348.4 L107.0,348.4 L107.0,376.7 L138.1,376.7" stroke="#f5a020" stroke-width="1.2" fill="none"/><line x1="138.1" y1="377.2" x2="138.1" y2="375.1" stroke="#f5a020" stroke-width="0.8"/><line x1="117.9" y1="377.1" x2="117.9" y2="375.3" stroke="#f5a020" stroke-width="0.8"/><path d="M41.0,348.4 L118.7,348.4 L118.7,366.1 L135.0,366.1 L135.0,383.8 L138.1,383.8" stroke="#9030b0" stroke-width="1.2" fill="none"/><line x1="138.1" y1="384.3" x2="138.1" y2="382.2" stroke="#9030b0" stroke-width="0.8"/><path d="M41.0,348.4 L128.8,348.4 L128.8,362.6 L138.1,362.6" stroke="#000000" stroke-width="1.2" fill="none"/><line x1="138.1" y1="363.1" x2="138.1" y2="361.0" stroke="#000000" stroke-width="0.8"/><path d="M79.8,348.4 L138.1,348.4" stroke="#20c020" stroke-width="1.2" fill="none" stroke-dasharray="2.6 0.8"/><line x1="138.1" y1="348.9" x2="138.1" y2="346.8" stroke="#20c020" stroke-width="0.8"/><path d="M41.0,348.4 L79.8,348.4 L79.8,362.6 L91.5,362.6 L91.5,405.0 L102.4,405.0 L102.4,419.2" stroke="#ff2020" stroke-width="1.2" fill="none"/><path d="M41.0,348.4 L80.6,348.4 L80.6,376.7 L89.9,376.7 L89.9,390.9 L91.1,390.9 L91.1,419.2" stroke="#2020ff" stroke-width="1.2" fill="none"/><path d="M41.0,348.4 L74.4,348.4 L74.4,362.6 L76.7,362.6 L76.7,376.7 L88.4,376.7 L88.4,419.2" stroke="#a0603a" stroke-width="1.2" fill="none"/><text x="162.3" y="327.6" font-family="Liberation Sans" font-size="10.3" font-weight="bold" text-anchor="start" fill="#000" >C</text><text x="250.8" y="335.6" font-family="Liberation Sans" font-size="7.4" font-weight="bold" text-anchor="middle" fill="#000" >Tumor Growth</text><line x1="189.6" y1="345.2" x2="189.6" y2="420.4" stroke="#000" stroke-width="1"/><line x1="186.3" y1="419.9" x2="304" y2="419.9" stroke="#000" stroke-width="1"/><line x1="186.6" y1="419.9" x2="189.6" y2="419.9" stroke="#000" stroke-width="0.8"/><text x="182.4" y="421.79999999999995" font-family="Liberation Sans" font-size="5.0" font-weight="bold" text-anchor="end" fill="#000" stroke="#000" stroke-width="0.22" >10</text><text x="182.5" y="419.29999999999995" font-family="Liberation Sans" font-size="3.4" font-weight="bold" text-anchor="start" fill="#000" stroke="#000" stroke-width="0.22" >5</text><line x1="186.6" y1="405.1" x2="189.6" y2="405.1" stroke="#000" stroke-width="0.8"/><text x="182.4" y="406.96" font-family="Liberation Sans" font-size="5.0" font-weight="bold" text-anchor="end" fill="#000" stroke="#000" stroke-width="0.22" >10</text><text x="182.5" y="404.46" font-family="Liberation Sans" font-size="3.4" font-weight="bold" text-anchor="start" fill="#000" stroke="#000" stroke-width="0.22" >6</text><line x1="186.6" y1="390.2" x2="189.6" y2="390.2" stroke="#000" stroke-width="0.8"/><text x="182.4" y="392.11999999999995" font-family="Liberation Sans" font-size="5.0" font-weight="bold" text-anchor="end" fill="#000" stroke="#000" stroke-width="0.22" >10</text><text x="182.5" y="389.61999999999995" font-family="Liberation Sans" font-size="3.4" font-weight="bold" text-anchor="start" fill="#000" stroke="#000" stroke-width="0.22" >7</text><line x1="186.6" y1="375.4" x2="189.6" y2="375.4" stroke="#000" stroke-width="0.8"/><text x="182.4" y="377.28" font-family="Liberation Sans" font-size="5.0" font-weight="bold" text-anchor="end" fill="#000" stroke="#000" stroke-width="0.22" >10</text><text x="182.5" y="374.78" font-family="Liberation Sans" font-size="3.4" font-weight="bold" text-anchor="start" fill="#000" stroke="#000" stroke-width="0.22" >8</text><line x1="186.6" y1="360.5" x2="189.6" y2="360.5" stroke="#000" stroke-width="0.8"/><text x="182.4" y="362.43999999999994" font-family="Liberation Sans" font-size="5.0" font-weight="bold" text-anchor="end" fill="#000" stroke="#000" stroke-width="0.22" >10</text><text x="182.5" y="359.93999999999994" font-family="Liberation Sans" font-size="3.4" font-weight="bold" text-anchor="start" fill="#000" stroke="#000" stroke-width="0.22" >9</text><line x1="186.6" y1="345.7" x2="189.6" y2="345.7" stroke="#000" stroke-width="0.8"/><text x="182.4" y="347.59999999999997" font-family="Liberation Sans" font-size="5.0" font-weight="bold" text-anchor="end" fill="#000" stroke="#000" stroke-width="0.22" >10</text><text x="182.5" y="345.09999999999997" font-family="Liberation Sans" font-size="3.4" font-weight="bold" text-anchor="start" fill="#000" stroke="#000" stroke-width="0.22" >10</text><line x1="201.4" y1="419.9" x2="201.4" y2="422.4" stroke="#000" stroke-width="0.8"/><text x="201.4" y="429.8" font-family="Liberation Sans" font-size="5.4" font-weight="bold" text-anchor="middle" fill="#000" stroke="#000" stroke-width="0.22" >10</text><line x1="219.7" y1="419.9" x2="219.7" y2="422.4" stroke="#000" stroke-width="0.8"/><text x="219.7" y="429.8" font-family="Liberation Sans" font-size="5.4" font-weight="bold" text-anchor="middle" fill="#000" stroke="#000" stroke-width="0.22" >18</text><line x1="238.2" y1="419.9" x2="238.2" y2="422.4" stroke="#000" stroke-width="0.8"/><text x="238.2" y="429.8" font-family="Liberation Sans" font-size="5.4" font-weight="bold" text-anchor="middle" fill="#000" stroke="#000" stroke-width="0.22" >25</text><line x1="256.6" y1="419.9" x2="256.6" y2="422.4" stroke="#000" stroke-width="0.8"/><text x="256.6" y="429.8" font-family="Liberation Sans" font-size="5.4" font-weight="bold" text-anchor="middle" fill="#000" stroke="#000" stroke-width="0.22" >32</text><line x1="274.9" y1="419.9" x2="274.9" y2="422.4" stroke="#000" stroke-width="0.8"/><text x="274.9" y="429.8" font-family="Liberation Sans" font-size="5.4" font-weight="bold" text-anchor="middle" fill="#000" stroke="#000" stroke-width="0.22" >39</text><line x1="293.2" y1="419.9" x2="293.2" y2="422.4" stroke="#000" stroke-width="0.8"/><text x="293.2" y="429.8" font-family="Liberation Sans" font-size="5.4" font-weight="bold" text-anchor="middle" fill="#000" stroke="#000" stroke-width="0.22" >46</text><text x="247.3" y="438.5" font-family="Liberation Sans" font-size="6.6" font-weight="bold" text-anchor="middle" fill="#000" stroke="#000" stroke-width="0.22" >Days</text><text x="0" y="0" font-family="Liberation Sans" font-size="6.0" font-weight="bold" stroke="#000" stroke-width="0.22" text-anchor="middle" transform="translate(167.5,382.7) rotate(-90)">Total Flux</text><line x1="219.7" y1="387.0" x2="219.7" y2="413.0" stroke="#c0a0a0" stroke-width="0.8"/><line x1="218.1" y1="387.0" x2="221.29999999999998" y2="387.0" stroke="#c0a0a0" stroke-width="0.8"/><line x1="219.7" y1="386.5" x2="219.7" y2="396.0" stroke="#f0a0a0" stroke-width="0.8"/><line x1="218.1" y1="386.5" x2="221.29999999999998" y2="386.5" stroke="#f0a0a0" stroke-width="0.8"/><line x1="238.2" y1="372.5" x2="238.2" y2="380.0" stroke="#d0a080" stroke-width="0.8"/><line x1="236.6" y1="372.5" x2="239.79999999999998" y2="372.5" stroke="#d0a080" stroke-width="0.8"/><line x1="238.2" y1="393.0" x2="238.2" y2="420.0" stroke="#f8c070" stroke-width="0.8"/><line x1="236.6" y1="393.0" x2="239.79999999999998" y2="393.0" stroke="#f8c070" stroke-width="0.8"/><line x1="238.2" y1="376.0" x2="238.2" y2="386.0" stroke="#c8a0d8" stroke-width="0.8"/><line x1="236.6" y1="376.0" x2="239.79999999999998" y2="376.0" stroke="#c8a0d8" stroke-width="0.8"/><line x1="256.6" y1="359.3" x2="256.6" y2="366.0" stroke="#d0a080" stroke-width="0.8"/><line x1="255.00000000000003" y1="359.3" x2="258.20000000000005" y2="359.3" stroke="#d0a080" stroke-width="0.8"/><line x1="256.6" y1="373.8" x2="256.6" y2="380.5" stroke="#f0a0a0" stroke-width="0.8"/><line x1="255.00000000000003" y1="373.8" x2="258.20000000000005" y2="373.8" stroke="#f0a0a0" stroke-width="0.8"/><line x1="256.6" y1="380.5" x2="256.6" y2="420.0" stroke="#f8c070" stroke-width="0.8"/><line x1="255.00000000000003" y1="380.5" x2="258.20000000000005" y2="380.5" stroke="#f8c070" stroke-width="0.8"/><line x1="256.6" y1="393.0" x2="256.6" y2="400.0" stroke="#c8a0d8" stroke-width="0.8"/><line x1="255.00000000000003" y1="393.0" x2="258.20000000000005" y2="393.0" stroke="#c8a0d8" stroke-width="0.8"/><line x1="256.6" y1="406.6" x2="256.6" y2="414.3" stroke="#a0a0a0" stroke-width="0.8"/><line x1="255.00000000000003" y1="406.6" x2="258.20000000000005" y2="406.6" stroke="#a0a0a0" stroke-width="0.8"/><line x1="274.9" y1="351.2" x2="274.9" y2="356.0" stroke="#d0a080" stroke-width="0.8"/><line x1="273.29999999999995" y1="351.2" x2="276.5" y2="351.2" stroke="#d0a080" stroke-width="0.8"/><line x1="274.9" y1="351.6" x2="274.9" y2="356.0" stroke="#a0a0f0" stroke-width="0.8"/><line x1="273.29999999999995" y1="351.6" x2="276.5" y2="351.6" stroke="#a0a0f0" stroke-width="0.8"/><line x1="274.9" y1="360.3" x2="274.9" y2="420.0" stroke="#f0a8a8" stroke-width="0.8"/><line x1="273.29999999999995" y1="360.3" x2="276.5" y2="360.3" stroke="#f0a8a8" stroke-width="0.8"/><line x1="274.9" y1="378.6" x2="274.9" y2="420.0" stroke="#c090d0" stroke-width="0.8"/><line x1="273.29999999999995" y1="378.6" x2="276.5" y2="378.6" stroke="#c090d0" stroke-width="0.8"/><line x1="274.9" y1="402.0" x2="274.9" y2="408.5" stroke="#a0d0a0" stroke-width="0.8"/><line x1="273.29999999999995" y1="402.0" x2="276.5" y2="402.0" stroke="#a0d0a0" stroke-width="0.8"/><line x1="293.2" y1="346.2" x2="293.2" y2="350.0" stroke="#d0a080" stroke-width="0.8"/><line x1="291.59999999999997" y1="346.2" x2="294.8" y2="346.2" stroke="#d0a080" stroke-width="0.8"/><line x1="293.2" y1="353.9" x2="293.2" y2="420.0" stroke="#f0a8a8" stroke-width="0.8"/><line x1="291.59999999999997" y1="353.9" x2="294.8" y2="353.9" stroke="#f0a8a8" stroke-width="0.8"/><line x1="293.2" y1="386.3" x2="293.2" y2="420.0" stroke="#f8c070" stroke-width="0.8"/><line x1="291.59999999999997" y1="386.3" x2="294.8" y2="386.3" stroke="#f8c070" stroke-width="0.8"/><path d="M201.4,404.3 L219.7,401.8 L238.2,399.8 L256.6,406.6 L274.9,401.8 L293.2,402.7" stroke="#000000" stroke-width="1.0" fill="none"/><circle cx="201.4" cy="404.3" r="1.55" fill="#000000"/><circle cx="219.7" cy="401.8" r="1.55" fill="#000000"/><circle cx="238.2" cy="399.8" r="1.55" fill="#000000"/><circle cx="256.6" cy="406.6" r="1.55" fill="#000000"/><circle cx="274.9" cy="401.8" r="1.55" fill="#000000"/><circle cx="293.2" cy="402.7" r="1.55" fill="#000000"/><path d="M201.4,404.3 L219.7,403.5 L238.2,402.7 L256.6,401.4 L274.9,402.2 L293.2,404.7" stroke="#20c020" stroke-width="1.0" fill="none"/><circle cx="201.4" cy="404.3" r="1.55" fill="#20c020"/><circle cx="219.7" cy="403.5" r="1.55" fill="#20c020"/><circle cx="238.2" cy="402.7" r="1.55" fill="#20c020"/><circle cx="256.6" cy="401.4" r="1.55" fill="#20c020"/><circle cx="274.9" cy="402.2" r="1.55" fill="#20c020"/><circle cx="293.2" cy="404.7" r="1.55" fill="#20c020"/><path d="M201.4,404.3 L219.7,404.0 L238.2,400.2 L256.6,397.5 L274.9,397.5 L293.2,397.5" stroke="#8a2aa0" stroke-width="1.0" fill="none"/><circle cx="201.4" cy="404.3" r="1.55" fill="#8a2aa0"/><circle cx="219.7" cy="404.0" r="1.55" fill="#8a2aa0"/><circle cx="238.2" cy="400.2" r="1.55" fill="#8a2aa0"/><circle cx="256.6" cy="397.5" r="1.55" fill="#8a2aa0"/><circle cx="274.9" cy="397.5" r="1.55" fill="#8a2aa0"/><circle cx="293.2" cy="397.5" r="1.55" fill="#8a2aa0"/><path d="M201.4,404.3 L219.7,404.3 L238.2,394.0 L256.6,387.3 L274.9,397.5 L293.2,390.6" stroke="#f5a020" stroke-width="1.0" fill="none"/><circle cx="201.4" cy="404.3" r="1.55" fill="#f5a020"/><circle cx="219.7" cy="404.3" r="1.55" fill="#f5a020"/><circle cx="238.2" cy="394.0" r="1.55" fill="#f5a020"/><circle cx="256.6" cy="387.3" r="1.55" fill="#f5a020"/><circle cx="274.9" cy="397.5" r="1.55" fill="#f5a020"/><circle cx="293.2" cy="390.6" r="1.55" fill="#f5a020"/><path d="M201.4,404.3 L219.7,391.7 L238.2,378.6 L256.6,373.8 L274.9,360.3 L293.2,353.9" stroke="#f02020" stroke-width="1.0" fill="none"/><circle cx="201.4" cy="404.3" r="1.55" fill="#f02020"/><circle cx="219.7" cy="391.7" r="1.55" fill="#f02020"/><circle cx="238.2" cy="378.6" r="1.55" fill="#f02020"/><circle cx="256.6" cy="373.8" r="1.55" fill="#f02020"/><circle cx="274.9" cy="360.3" r="1.55" fill="#f02020"/><circle cx="293.2" cy="353.9" r="1.55" fill="#f02020"/><path d="M201.4,404.3 L219.7,389.2 L238.2,375.7 L256.6,366.6 L274.9,355.0 L293.2,353.1" stroke="#2424f0" stroke-width="1.0" fill="none"/><circle cx="201.4" cy="404.3" r="1.55" fill="#2424f0"/><circle cx="219.7" cy="389.2" r="1.55" fill="#2424f0"/><circle cx="238.2" cy="375.7" r="1.55" fill="#2424f0"/><circle cx="256.6" cy="366.6" r="1.55" fill="#2424f0"/><circle cx="274.9" cy="355.0" r="1.55" fill="#2424f0"/><circle cx="293.2" cy="353.1" r="1.55" fill="#2424f0"/><path d="M201.4,404.3 L219.7,391.5 L238.2,374.4 L256.6,362.8 L274.9,353.9 L293.2,349.3" stroke="#a86a3a" stroke-width="1.0" fill="none"/><circle cx="201.4" cy="404.3" r="1.55" fill="#a86a3a"/><circle cx="219.7" cy="391.5" r="1.55" fill="#a86a3a"/><circle cx="238.2" cy="374.4" r="1.55" fill="#a86a3a"/><circle cx="256.6" cy="362.8" r="1.55" fill="#a86a3a"/><circle cx="274.9" cy="353.9" r="1.55" fill="#a86a3a"/><circle cx="293.2" cy="349.3" r="1.55" fill="#a86a3a"/><line x1="302.5" y1="363.3" x2="308" y2="363.3" stroke="#a86a3a" stroke-width="0.8"/><circle cx="305.2" cy="363.3" r="1.1" fill="#a86a3a"/><text x="310.5" y="364.8" font-family="Liberation Sans" font-size="4.25" font-weight="normal" text-anchor="start" fill="#000" >Tumor Alone</text><line x1="302.5" y1="370.2" x2="308" y2="370.2" stroke="#2424f0" stroke-width="0.8"/><circle cx="305.2" cy="370.2" r="1.1" fill="#2424f0"/><text x="310.5" y="371.7" font-family="Liberation Sans" font-size="4.25" font-weight="normal" text-anchor="start" fill="#000" >Mock T</text><line x1="302.5" y1="377.1" x2="308" y2="377.1" stroke="#f02020" stroke-width="0.8"/><circle cx="305.2" cy="377.1" r="1.1" fill="#f02020"/><text x="310.5" y="378.6" font-family="Liberation Sans" font-size="4.25" font-weight="normal" text-anchor="start" fill="#000" >CSR</text><line x1="302.5" y1="384.3" x2="308" y2="384.3" stroke="#20c020" stroke-width="0.8"/><circle cx="305.2" cy="384.3" r="1.1" fill="#20c020"/><text x="310.5" y="385.8" font-family="Liberation Sans" font-size="4.25" font-weight="normal" text-anchor="start" fill="#000" >ESK2-CSR</text><line x1="302.5" y1="391.3" x2="308" y2="391.3" stroke="#8a2aa0" stroke-width="0.8"/><circle cx="305.2" cy="391.3" r="1.1" fill="#8a2aa0"/><text x="310.5" y="392.8" font-family="Liberation Sans" font-size="4.25" font-weight="normal" text-anchor="start" fill="#000" >ESK3-CSR</text><line x1="302.5" y1="398.4" x2="308" y2="398.4" stroke="#f5a020" stroke-width="0.8"/><circle cx="305.2" cy="398.4" r="1.1" fill="#f5a020"/><text x="310.5" y="399.9" font-family="Liberation Sans" font-size="4.25" font-weight="normal" text-anchor="start" fill="#000" >Tri-AbTCR</text><line x1="302.5" y1="405.6" x2="308" y2="405.6" stroke="#000000" stroke-width="0.8"/><circle cx="305.2" cy="405.6" r="1.1" fill="#000000"/><text x="310.5" y="407.1" font-family="Liberation Sans" font-size="4.25" font-weight="normal" text-anchor="start" fill="#000" >ESK2-CSR + ESK3-CSR</text><path d="M335.5,362.8 H337.7 V384.4 H335.5" stroke="#000" stroke-width="0.8" fill="none"/><path d="M342.3,362.8 H353.0 V391.3 H336.0" stroke="#000" stroke-width="0.8" fill="none"/><path d="M356.5,363.0 H369.3 V397.9 H330.5" stroke="#000" stroke-width="0.8" fill="none"/><path d="M372.7,363.3 H384.3 V405.4 H361.6" stroke="#000" stroke-width="0.8" fill="none"/><circle cx="340.7" cy="373.5" r="1.15" fill="#000"/><circle cx="343.5" cy="373.5" r="1.15" fill="#000"/><circle cx="346.3" cy="373.5" r="1.15" fill="#000"/><circle cx="349.1" cy="373.5" r="1.15" fill="#000"/><circle cx="356.6" cy="377.2" r="1.15" fill="#000"/><circle cx="359.4" cy="377.2" r="1.15" fill="#000"/><circle cx="362.2" cy="377.2" r="1.15" fill="#000"/><circle cx="365.0" cy="377.2" r="1.15" fill="#000"/><circle cx="372.3" cy="381.0" r="1.15" fill="#000"/><circle cx="375.1" cy="381.0" r="1.15" fill="#000"/><circle cx="377.9" cy="381.0" r="1.15" fill="#000"/><circle cx="380.7" cy="381.0" r="1.15" fill="#000"/><circle cx="387.7" cy="384.4" r="1.15" fill="#000"/><circle cx="390.5" cy="384.4" r="1.15" fill="#000"/><circle cx="393.3" cy="384.4" r="1.15" fill="#000"/><circle cx="396.1" cy="384.4" r="1.15" fill="#000"/></svg></body></html>
